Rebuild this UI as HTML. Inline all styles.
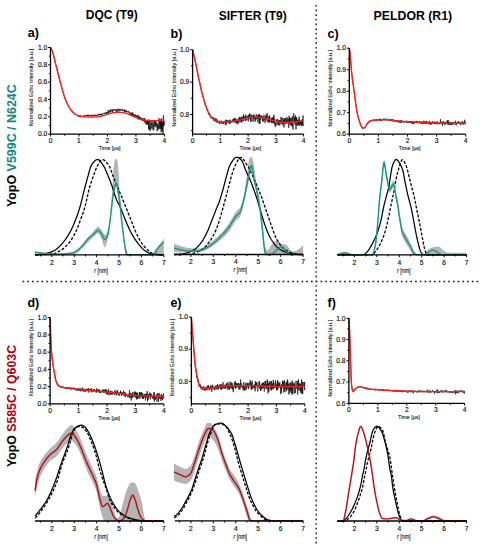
<!DOCTYPE html>
<html><head><meta charset="utf-8"><style>
html,body{margin:0;padding:0;background:#fff;}
svg{display:block;}
text{font-family:'Liberation Sans', sans-serif;}
</style></head><body>
<svg width="484" height="550" viewBox="0 0 484 550" font-family="'Liberation Sans', sans-serif">
<rect width="484" height="550" fill="#fff"/>
<path d="M22.55,280.75h1.7v1.4h-1.7zM27.28,280.75h1.7v1.4h-1.7zM32.01,280.75h1.7v1.4h-1.7zM36.74,280.75h1.7v1.4h-1.7zM41.47,280.75h1.7v1.4h-1.7zM46.2,280.75h1.7v1.4h-1.7zM50.92,280.75h1.7v1.4h-1.7zM55.65,280.75h1.7v1.4h-1.7zM60.38,280.75h1.7v1.4h-1.7zM65.11,280.75h1.7v1.4h-1.7zM69.84,280.75h1.7v1.4h-1.7zM74.57,280.75h1.7v1.4h-1.7zM79.3,280.75h1.7v1.4h-1.7zM84.03,280.75h1.7v1.4h-1.7zM88.76,280.75h1.7v1.4h-1.7zM93.49,280.75h1.7v1.4h-1.7zM98.21,280.75h1.7v1.4h-1.7zM102.94,280.75h1.7v1.4h-1.7zM107.67,280.75h1.7v1.4h-1.7zM112.4,280.75h1.7v1.4h-1.7zM117.13,280.75h1.7v1.4h-1.7zM121.86,280.75h1.7v1.4h-1.7zM126.59,280.75h1.7v1.4h-1.7zM131.32,280.75h1.7v1.4h-1.7zM136.05,280.75h1.7v1.4h-1.7zM140.78,280.75h1.7v1.4h-1.7zM145.5,280.75h1.7v1.4h-1.7zM150.23,280.75h1.7v1.4h-1.7zM154.96,280.75h1.7v1.4h-1.7zM159.69,280.75h1.7v1.4h-1.7zM164.42,280.75h1.7v1.4h-1.7zM169.15,280.75h1.7v1.4h-1.7zM173.88,280.75h1.7v1.4h-1.7zM178.61,280.75h1.7v1.4h-1.7zM183.34,280.75h1.7v1.4h-1.7zM188.07,280.75h1.7v1.4h-1.7zM192.79,280.75h1.7v1.4h-1.7zM197.52,280.75h1.7v1.4h-1.7zM202.25,280.75h1.7v1.4h-1.7zM206.98,280.75h1.7v1.4h-1.7zM211.71,280.75h1.7v1.4h-1.7zM216.44,280.75h1.7v1.4h-1.7zM221.17,280.75h1.7v1.4h-1.7zM225.9,280.75h1.7v1.4h-1.7zM230.63,280.75h1.7v1.4h-1.7zM235.36,280.75h1.7v1.4h-1.7zM240.08,280.75h1.7v1.4h-1.7zM244.81,280.75h1.7v1.4h-1.7zM249.54,280.75h1.7v1.4h-1.7zM254.27,280.75h1.7v1.4h-1.7zM259,280.75h1.7v1.4h-1.7zM263.73,280.75h1.7v1.4h-1.7zM268.46,280.75h1.7v1.4h-1.7zM273.19,280.75h1.7v1.4h-1.7zM277.92,280.75h1.7v1.4h-1.7zM282.64,280.75h1.7v1.4h-1.7zM287.37,280.75h1.7v1.4h-1.7zM292.1,280.75h1.7v1.4h-1.7zM296.83,280.75h1.7v1.4h-1.7zM301.56,280.75h1.7v1.4h-1.7zM306.29,280.75h1.7v1.4h-1.7zM311.02,280.75h1.7v1.4h-1.7zM315.75,280.75h1.7v1.4h-1.7zM320.48,280.75h1.7v1.4h-1.7zM325.21,280.75h1.7v1.4h-1.7zM329.93,280.75h1.7v1.4h-1.7zM334.66,280.75h1.7v1.4h-1.7zM339.39,280.75h1.7v1.4h-1.7zM344.12,280.75h1.7v1.4h-1.7zM348.85,280.75h1.7v1.4h-1.7zM353.58,280.75h1.7v1.4h-1.7zM358.31,280.75h1.7v1.4h-1.7zM363.04,280.75h1.7v1.4h-1.7zM367.77,280.75h1.7v1.4h-1.7zM372.5,280.75h1.7v1.4h-1.7zM377.22,280.75h1.7v1.4h-1.7zM381.95,280.75h1.7v1.4h-1.7zM386.68,280.75h1.7v1.4h-1.7zM391.41,280.75h1.7v1.4h-1.7zM396.14,280.75h1.7v1.4h-1.7zM400.87,280.75h1.7v1.4h-1.7zM405.6,280.75h1.7v1.4h-1.7zM410.33,280.75h1.7v1.4h-1.7zM415.06,280.75h1.7v1.4h-1.7zM419.79,280.75h1.7v1.4h-1.7zM424.51,280.75h1.7v1.4h-1.7zM429.24,280.75h1.7v1.4h-1.7zM433.97,280.75h1.7v1.4h-1.7zM438.7,280.75h1.7v1.4h-1.7zM443.43,280.75h1.7v1.4h-1.7zM448.16,280.75h1.7v1.4h-1.7zM452.89,280.75h1.7v1.4h-1.7zM457.62,280.75h1.7v1.4h-1.7zM462.35,280.75h1.7v1.4h-1.7zM467.08,280.75h1.7v1.4h-1.7zM471.8,280.75h1.7v1.4h-1.7zM476.53,280.75h1.7v1.4h-1.7zM315.5,4.88h1.4v1.7h-1.4zM315.5,9.55h1.4v1.7h-1.4zM315.5,14.22h1.4v1.7h-1.4zM315.5,18.89h1.4v1.7h-1.4zM315.5,23.57h1.4v1.7h-1.4zM315.5,28.24h1.4v1.7h-1.4zM315.5,32.91h1.4v1.7h-1.4zM315.5,37.58h1.4v1.7h-1.4zM315.5,42.25h1.4v1.7h-1.4zM315.5,46.92h1.4v1.7h-1.4zM315.5,51.6h1.4v1.7h-1.4zM315.5,56.27h1.4v1.7h-1.4zM315.5,60.94h1.4v1.7h-1.4zM315.5,65.61h1.4v1.7h-1.4zM315.5,70.28h1.4v1.7h-1.4zM315.5,74.95h1.4v1.7h-1.4zM315.5,79.62h1.4v1.7h-1.4zM315.5,84.3h1.4v1.7h-1.4zM315.5,88.97h1.4v1.7h-1.4zM315.5,93.64h1.4v1.7h-1.4zM315.5,98.31h1.4v1.7h-1.4zM315.5,102.98h1.4v1.7h-1.4zM315.5,107.65h1.4v1.7h-1.4zM315.5,112.32h1.4v1.7h-1.4zM315.5,117h1.4v1.7h-1.4zM315.5,121.67h1.4v1.7h-1.4zM315.5,126.34h1.4v1.7h-1.4zM315.5,131.01h1.4v1.7h-1.4zM315.5,135.68h1.4v1.7h-1.4zM315.5,140.35h1.4v1.7h-1.4zM315.5,145.03h1.4v1.7h-1.4zM315.5,149.7h1.4v1.7h-1.4zM315.5,154.37h1.4v1.7h-1.4zM315.5,159.04h1.4v1.7h-1.4zM315.5,163.71h1.4v1.7h-1.4zM315.5,168.38h1.4v1.7h-1.4zM315.5,173.05h1.4v1.7h-1.4zM315.5,177.73h1.4v1.7h-1.4zM315.5,182.4h1.4v1.7h-1.4zM315.5,187.07h1.4v1.7h-1.4zM315.5,191.74h1.4v1.7h-1.4zM315.5,196.41h1.4v1.7h-1.4zM315.5,201.08h1.4v1.7h-1.4zM315.5,205.75h1.4v1.7h-1.4zM315.5,210.43h1.4v1.7h-1.4zM315.5,215.1h1.4v1.7h-1.4zM315.5,219.77h1.4v1.7h-1.4zM315.5,224.44h1.4v1.7h-1.4zM315.5,229.11h1.4v1.7h-1.4zM315.5,233.78h1.4v1.7h-1.4zM315.5,238.45h1.4v1.7h-1.4zM315.5,243.13h1.4v1.7h-1.4zM315.5,247.8h1.4v1.7h-1.4zM315.5,252.47h1.4v1.7h-1.4zM315.5,257.14h1.4v1.7h-1.4zM315.5,261.81h1.4v1.7h-1.4zM315.5,266.48h1.4v1.7h-1.4zM315.5,271.16h1.4v1.7h-1.4zM315.5,275.83h1.4v1.7h-1.4zM315.5,280.5h1.4v1.7h-1.4zM315.5,285.17h1.4v1.7h-1.4zM315.5,289.83h1.4v1.7h-1.4zM315.5,294.5h1.4v1.7h-1.4zM315.5,299.16h1.4v1.7h-1.4zM315.5,303.83h1.4v1.7h-1.4zM315.5,308.5h1.4v1.7h-1.4zM315.5,313.16h1.4v1.7h-1.4zM315.5,317.83h1.4v1.7h-1.4zM315.5,322.49h1.4v1.7h-1.4zM315.5,327.16h1.4v1.7h-1.4zM315.5,331.83h1.4v1.7h-1.4zM315.5,336.49h1.4v1.7h-1.4zM315.5,341.16h1.4v1.7h-1.4zM315.5,345.82h1.4v1.7h-1.4zM315.5,350.49h1.4v1.7h-1.4zM315.5,355.16h1.4v1.7h-1.4zM315.5,359.82h1.4v1.7h-1.4zM315.5,364.49h1.4v1.7h-1.4zM315.5,369.15h1.4v1.7h-1.4zM315.5,373.82h1.4v1.7h-1.4zM315.5,378.49h1.4v1.7h-1.4zM315.5,383.15h1.4v1.7h-1.4zM315.5,387.82h1.4v1.7h-1.4zM315.5,392.48h1.4v1.7h-1.4zM315.5,397.15h1.4v1.7h-1.4zM315.5,401.82h1.4v1.7h-1.4zM315.5,406.48h1.4v1.7h-1.4zM315.5,411.15h1.4v1.7h-1.4zM315.5,415.81h1.4v1.7h-1.4zM315.5,420.48h1.4v1.7h-1.4zM315.5,425.15h1.4v1.7h-1.4zM315.5,429.81h1.4v1.7h-1.4zM315.5,434.48h1.4v1.7h-1.4zM315.5,439.14h1.4v1.7h-1.4zM315.5,443.81h1.4v1.7h-1.4zM315.5,448.48h1.4v1.7h-1.4zM315.5,453.14h1.4v1.7h-1.4zM315.5,457.81h1.4v1.7h-1.4zM315.5,462.47h1.4v1.7h-1.4zM315.5,467.14h1.4v1.7h-1.4zM315.5,471.81h1.4v1.7h-1.4zM315.5,476.47h1.4v1.7h-1.4zM315.5,481.14h1.4v1.7h-1.4zM315.5,485.8h1.4v1.7h-1.4zM315.5,490.47h1.4v1.7h-1.4zM315.5,495.14h1.4v1.7h-1.4zM315.5,499.8h1.4v1.7h-1.4zM315.5,504.47h1.4v1.7h-1.4zM315.5,509.13h1.4v1.7h-1.4zM315.5,513.8h1.4v1.7h-1.4zM315.5,518.47h1.4v1.7h-1.4zM315.5,523.13h1.4v1.7h-1.4zM315.5,527.8h1.4v1.7h-1.4zM315.5,532.46h1.4v1.7h-1.4zM315.5,537.13h1.4v1.7h-1.4zM315.5,541.8h1.4v1.7h-1.4z" fill="#1a1a1a"/>
<text x="85.8" y="19.3" font-size="12" font-weight="bold" fill="#000">DQC (T9)</text>
<text x="218.7" y="19.8" font-size="12" font-weight="bold" fill="#000">SIFTER (T9)</text>
<text x="373.6" y="19.8" font-size="12.3" font-weight="bold" fill="#000">PELDOR (R1)</text>
<text x="27.8" y="37.4" font-size="12.5" font-weight="bold" fill="#000">a)</text>
<text x="170.6" y="37.8" font-size="12.5" font-weight="bold" fill="#000">b)</text>
<text x="327.6" y="37.6" font-size="12.5" font-weight="bold" fill="#000">c)</text>
<text x="27.4" y="307.2" font-size="12.5" font-weight="bold" fill="#000">d)</text>
<text x="170.4" y="306.6" font-size="12.5" font-weight="bold" fill="#000">e)</text>
<text x="327.6" y="306.6" font-size="12.5" font-weight="bold" fill="#000">f)</text>
<text transform="translate(15.9,207.1) rotate(-90)" font-size="12.45" font-weight="bold" fill="#000">YopO <tspan fill="#108a78">V599C / N624C</tspan></text>
<text transform="translate(15.9,467.1) rotate(-90)" font-size="12.3" font-weight="bold" fill="#000">YopO <tspan fill="#b0000f">S585C / Q603C</tspan></text>
<path d="M50.5,47.49 L50.69,47.33 L50.88,47.7 L51.07,48.66 L51.26,48.96 L51.45,49.43 L51.64,49.47 L51.83,50.13 L52.02,50.33 L52.21,51.73 L52.4,51.08 L52.59,52.2 L52.78,52.51 L52.97,53.38 L53.16,54.08 L53.35,54.41 L53.54,54.93 L53.73,55.97 L53.92,56.67 L54.11,57.14 L54.3,58.47 L54.49,59.5 L54.68,59.66 L54.87,60.85 L55.06,62.11 L55.25,62.55 L55.44,63.23 L55.63,64.26 L55.82,65.13 L56.01,65.36 L56.2,65.83 L56.39,66.98 L56.58,67.92 L56.77,68.28 L56.96,68.92 L57.15,70.03 L57.34,70.49 L57.53,71.07 L57.72,72.26 L57.91,73.22 L58.1,73.58 L58.29,74.37 L58.48,74.83 L58.68,76.42 L58.87,76.96 L59.06,77.77 L59.25,78.83 L59.44,78.94 L59.63,79.54 L59.82,80.71 L60.01,80.7 L60.2,81.61 L60.39,82.39 L60.58,83.18 L60.77,83.7 L60.96,85.2 L61.15,85.23 L61.34,85.92 L61.53,87.44 L61.72,87.39 L61.91,88.27 L62.1,88.59 L62.29,89.67 L62.48,90.18 L62.67,90.71 L62.86,91.79 L63.05,91.94 L63.24,92.84 L63.43,93.29 L63.62,94.28 L63.81,94.36 L64,95.15 L64.19,96.04 L64.38,96.35 L64.57,96.71 L64.76,97.08 L64.95,98.77 L65.14,98.43 L65.33,99.08 L65.52,99.76 L65.71,100.56 L65.9,100.25 L66.09,101.59 L66.28,101.41 L66.47,101.6 L66.66,103.04 L66.85,103.02 L67.04,103.78 L67.23,103.65 L67.42,103.6 L67.61,103.81 L67.8,105.5 L67.99,105.44 L68.18,105.34 L68.37,105.37 L68.56,106.1 L68.75,106.82 L68.94,106.78 L69.13,107.2 L69.32,107.57 L69.51,108.05 L69.7,107.95 L69.89,108.27 L70.08,108.69 L70.27,109.01 L70.46,109.65 L70.65,109.63 L70.84,109.3 L71.03,110.03 L71.22,110.71 L71.41,109.99 L71.6,110.49 L71.79,110.17 L71.98,111.09 L72.17,111.48 L72.36,112.03 L72.55,111.26 L72.74,111.02 L72.93,112.38 L73.12,112.51 L73.31,112.26 L73.5,112.94 L73.69,112.92 L73.88,113.12 L74.07,113.1 L74.26,112.95 L74.45,113.48 L74.64,113.33 L74.83,113.94 L75.03,113.83 L75.22,114.82 L75.41,114.72 L75.6,114.07 L75.79,114.67 L75.98,114.39 L76.17,114.51 L76.36,114.34 L76.55,114.62 L76.74,114.65 L76.93,115.13 L77.12,115.43 L77.31,115.54 L77.5,115.54 L77.69,115.86 L77.88,115.74 L78.07,115.67 L78.26,115.64 L78.45,115.92 L78.64,116.55 L78.83,115.98 L79.02,115.94 L79.21,115.67 L79.4,115.87 L79.59,116.32 L79.78,116.37 L79.97,115.41 L80.16,115.86 L80.35,115.48 L80.54,115.36 L80.73,116.42 L80.92,115.97 L81.11,115.92 L81.3,115.87 L81.49,115.86 L81.68,115.98 L81.87,115.97 L82.06,116.58 L82.25,116.07 L82.44,116.27 L82.63,115.92 L82.82,116.13 L83.01,115.7 L83.2,115.6 L83.39,115.78 L83.58,115.76 L83.77,115.83 L83.96,116.02 L84.15,115.89 L84.34,116 L84.53,115.63 L84.72,115.75 L84.91,115.5 L85.1,116.25 L85.29,115.33 L85.48,115.98 L85.67,115.94 L85.86,115.7 L86.05,115.82 L86.24,115.44 L86.43,115.78 L86.62,115.96 L86.81,115.84 L87,114.9 L87.19,115.41 L87.38,115.89 L87.57,115.37 L87.76,116.05 L87.95,114.62 L88.14,116.04 L88.33,115.18 L88.52,115.16 L88.71,116.02 L88.9,115.26 L89.09,114.96 L89.28,115.19 L89.47,115.28 L89.66,114.97 L89.85,115.32 L90.04,115.24 L90.23,115.45 L90.42,115.1 L90.61,115.81 L90.8,115.03 L90.99,115.61 L91.19,115.88 L91.38,115.21 L91.57,114.6 L91.76,114.93 L91.95,115.61 L92.14,115.05 L92.33,115.58 L92.52,115.42 L92.71,115.32 L92.9,116.46 L93.09,115.27 L93.28,115.85 L93.47,115.68 L93.66,116.06 L93.85,116.08 L94.04,115.8 L94.23,114.94 L94.42,114.52 L94.61,115.34 L94.8,114.79 L94.99,115.45 L95.18,116.26 L95.37,115.24 L95.56,115.08 L95.75,115.51 L95.94,115.14 L96.13,115 L96.32,115.72 L96.51,116.02 L96.7,115.37 L96.89,115.35 L97.08,115.41 L97.27,114.7 L97.46,114.3 L97.65,115.38 L97.84,114.77 L98.03,114.62 L98.22,114.71 L98.41,114.5 L98.6,115.22 L98.79,114.59 L98.98,113.87 L99.17,114.48 L99.36,115.2 L99.55,114.5 L99.74,114.11 L99.93,114.54 L100.12,115 L100.31,113.82 L100.5,115.28 L100.69,114.28 L100.88,114.52 L101.07,115.12 L101.26,113.74 L101.45,114.17 L101.64,114.96 L101.83,113.93 L102.02,114.45 L102.21,115.22 L102.4,114.49 L102.59,113.9 L102.78,113.64 L102.97,113.85 L103.16,113.87 L103.35,113.57 L103.54,113.91 L103.73,113.06 L103.92,113.6 L104.11,113.46 L104.3,113.27 L104.49,114.14 L104.68,113.89 L104.87,112.52 L105.06,113.16 L105.25,113.46 L105.44,113.03 L105.63,113.45 L105.82,112.93 L106.01,113.42 L106.2,112.79 L106.39,113.83 L106.58,112.02 L106.77,113.05 L106.96,113.62 L107.15,112.72 L107.34,112.74 L107.54,112.34 L107.73,113.05 L107.92,112.04 L108.11,109.98 L108.3,112.91 L108.49,111.84 L108.68,112.16 L108.87,111.77 L109.06,112.94 L109.25,112.46 L109.44,111.38 L109.63,111.61 L109.82,110.49 L110.01,111.89 L110.2,111.27 L110.39,109.46 L110.58,111.73 L110.77,111.75 L110.96,111.14 L111.15,111.08 L111.34,110.45 L111.53,110.86 L111.72,111.37 L111.91,110.7 L112.1,109.08 L112.29,109.92 L112.48,112.52 L112.67,110.76 L112.86,111.2 L113.05,110.18 L113.24,110.66 L113.43,109.24 L113.62,109.86 L113.81,109.85 L114,110.28 L114.19,110.4 L114.38,110.11 L114.57,109.43 L114.76,109.91 L114.95,110.47 L115.14,109.34 L115.33,110.05 L115.52,110.2 L115.71,110.66 L115.9,110.48 L116.09,110.5 L116.28,111.96 L116.47,109.32 L116.66,109.6 L116.85,110.12 L117.04,109.23 L117.23,109.63 L117.42,109.66 L117.61,111.64 L117.8,110.06 L117.99,109.51 L118.18,108.74 L118.37,108.57 L118.56,108.85 L118.75,110.68 L118.94,111.42 L119.13,109.45 L119.32,109.84 L119.51,109.17 L119.7,109.96 L119.89,109.72 L120.08,110.97 L120.27,109.58 L120.46,110.25 L120.65,109.69 L120.84,109.63 L121.03,110.07 L121.22,109.78 L121.41,110.05 L121.6,109.51 L121.79,109.73 L121.98,110.54 L122.17,110.61 L122.36,108.92 L122.55,110.32 L122.74,109.55 L122.93,110.04 L123.12,110.8 L123.31,110.98 L123.5,110.37 L123.69,110.31 L123.89,110.09 L124.08,111.56 L124.27,111.11 L124.46,110.78 L124.65,109.53 L124.84,112.61 L125.03,110.52 L125.22,111.33 L125.41,110.63 L125.6,111.4 L125.79,110.79 L125.98,109.91 L126.17,110.91 L126.36,110.92 L126.55,111.04 L126.74,111.99 L126.93,111.06 L127.12,111.74 L127.31,112.3 L127.5,111.79 L127.69,112.03 L127.88,111.35 L128.07,112.08 L128.26,112.57 L128.45,111.09 L128.64,111.56 L128.83,111.44 L129.02,112.07 L129.21,112.75 L129.4,113.1 L129.59,113.08 L129.78,112.19 L129.97,112.96 L130.16,114.35 L130.35,113.27 L130.54,114.48 L130.73,113.28 L130.92,114.5 L131.11,114.64 L131.3,113.6 L131.49,113.86 L131.68,115.26 L131.87,113.36 L132.06,112.28 L132.25,115.4 L132.44,112.75 L132.63,114.94 L132.82,114.87 L133.01,114.7 L133.2,115.86 L133.39,113.64 L133.58,114.41 L133.77,115.56 L133.96,115.25 L134.15,116.39 L134.34,115.49 L134.53,114.48 L134.72,116.83 L134.91,115.82 L135.1,115.41 L135.29,114.71 L135.48,114.53 L135.67,116.17 L135.86,116.49 L136.05,115.56 L136.24,116.37 L136.43,116.43 L136.62,115.33 L136.81,114.89 L137,116.24 L137.19,116.74 L137.38,116.17 L137.57,118.44 L137.76,116.89 L137.95,117.91 L138.14,114.96 L138.33,116.54 L138.52,117.15 L138.71,117.55 L138.9,119.72 L139.09,116.94 L139.28,116.21 L139.47,118.43 L139.66,117.25 L139.85,117.31 L140.05,119.46 L140.24,117.31 L140.43,117.03 L140.62,118.14 L140.81,118.5 L141,117.82 L141.19,120.04 L141.38,118.64 L141.57,117.85 L141.76,120.05 L141.95,118.08 L142.14,119.47 L142.33,121.09 L142.52,119.35 L142.71,120.24 L142.9,119.12 L143.09,120.63 L143.28,118.47 L143.47,120.51 L143.66,119.3 L143.85,120.61 L144.04,120.35 L144.23,118.15 L144.42,119.69 L144.61,120.91 L144.8,122.73 L144.99,118.48 L145.18,119.45 L145.37,121.82 L145.56,120.82 L145.75,123.92 L145.94,124.2 L146.13,124.04 L146.32,121.31 L146.51,121.63 L146.7,124.68 L146.89,120.74 L147.08,120.74 L147.27,122.73 L147.46,120.22 L147.65,124.6 L147.84,124.26 L148.03,122.48 L148.22,124.42 L148.41,121.65 L148.6,129.34 L148.79,119.49 L148.98,127.8 L149.17,125.49 L149.36,130.07 L149.55,122.64 L149.74,120.12 L149.93,120.89 L150.12,121.8 L150.31,130.82 L150.5,127.91 L150.69,126.72 L150.88,128.51 L151.07,120.75 L151.26,124.31 L151.45,125.1 L151.64,123.18 L151.83,128.63 L152.02,128.47 L152.21,128.38 L152.4,123.17 L152.59,123.76 L152.78,122.87 L152.97,120.98 L153.16,130.22 L153.35,127.21 L153.54,124.52 L153.73,130.21 L153.92,127.11 L154.11,121.23 L154.3,120.9 L154.49,120.99 L154.68,124.93 L154.87,125.9 L155.06,120.98 L155.25,126.51 L155.44,123.79 L155.63,120.02 L155.82,126.47 L156.01,127.39 L156.2,125.08 L156.4,122.75 L156.59,123.17 L156.78,124.41 L156.97,122.86 L157.16,131.1 L157.35,128.25 L157.54,124.31 L157.73,128.48 L157.92,130.05 L158.11,129.51 L158.3,128.38 L158.49,125.52 L158.68,128.74 L158.87,123.88 L159.06,118.23 L159.25,125.3 L159.44,119.79 L159.63,123.57 L159.82,128.97 L160.01,125.61 L160.2,128.38 L160.39,121.6 L160.58,128.99 L160.77,119.4 L160.96,122.24 L161.15,132.27 L161.34,121.39 L161.53,118.38 L161.72,127.42 L161.91,120.52 L162.1,131.28 L162.29,123.3 L162.48,130.69 L162.67,122.35 L162.86,131.13 L163.05,134.1 L163.24,122.59 L163.43,115.21 L163.62,126.4 L163.81,120.82 L164,123.6 L164.19,125.26 L164.38,121.57" fill="none" stroke="#111" stroke-width="0.7"/>
<path d="M50.5,47.5 L50.88,48.13 L51.26,48.86 L51.64,49.67 L52.02,50.6 L52.4,51.63 L52.79,52.75 L53.17,53.96 L53.55,55.23 L53.93,56.64 L54.31,58.19 L54.69,59.83 L55.07,61.48 L55.45,63.1 L55.83,64.65 L56.21,66.18 L56.59,67.7 L56.97,69.21 L57.36,70.73 L57.74,72.24 L58.12,73.75 L58.5,75.27 L58.88,76.79 L59.26,78.29 L59.64,79.78 L60.02,81.24 L60.4,82.67 L60.78,84.1 L61.16,85.5 L61.55,86.89 L61.93,88.25 L62.31,89.59 L62.69,90.9 L63.07,92.22 L63.45,93.53 L63.83,94.81 L64.21,96.05 L64.59,97.21 L64.97,98.3 L65.35,99.3 L65.73,100.28 L66.12,101.21 L66.5,102.12 L66.88,102.98 L67.26,103.79 L67.64,104.57 L68.02,105.29 L68.4,105.97 L68.78,106.62 L69.16,107.24 L69.54,107.84 L69.92,108.42 L70.31,108.98 L70.69,109.51 L71.07,110.01 L71.45,110.49 L71.83,110.94 L72.21,111.36 L72.59,111.76 L72.97,112.14 L73.35,112.51 L73.73,112.86 L74.11,113.2 L74.49,113.52 L74.88,113.83 L75.26,114.11 L75.64,114.37 L76.02,114.61 L76.4,114.83 L76.78,115.02 L77.16,115.21 L77.54,115.4 L77.92,115.58 L78.3,115.74 L78.68,115.9 L79.07,116.04 L79.45,116.17 L79.83,116.27 L80.21,116.36 L80.59,116.42 L80.97,116.47 L81.35,116.51 L81.73,116.55 L82.11,116.59 L82.49,116.63 L82.87,116.66 L83.25,116.7 L83.64,116.73 L84.02,116.76 L84.4,116.79 L84.78,116.81 L85.16,116.84 L85.54,116.86 L85.92,116.88 L86.3,116.9 L86.68,116.91 L87.06,116.92 L87.44,116.93 L87.83,116.94 L88.21,116.95 L88.59,116.95 L88.97,116.95 L89.35,116.95 L89.73,116.95 L90.11,116.95 L90.49,116.95 L90.87,116.95 L91.25,116.94 L91.63,116.94 L92.01,116.94 L92.4,116.93 L92.78,116.93 L93.16,116.92 L93.54,116.91 L93.92,116.91 L94.3,116.9 L94.68,116.9 L95.06,116.89 L95.44,116.88 L95.82,116.87 L96.2,116.86 L96.59,116.84 L96.97,116.82 L97.35,116.78 L97.73,116.74 L98.11,116.69 L98.49,116.63 L98.87,116.56 L99.25,116.49 L99.63,116.42 L100.01,116.34 L100.39,116.25 L100.77,116.17 L101.16,116.08 L101.54,115.98 L101.92,115.89 L102.3,115.8 L102.68,115.7 L103.06,115.61 L103.44,115.51 L103.82,115.42 L104.2,115.33 L104.58,115.24 L104.96,115.14 L105.35,115.04 L105.73,114.92 L106.11,114.8 L106.49,114.68 L106.87,114.55 L107.25,114.42 L107.63,114.28 L108.01,114.15 L108.39,114.02 L108.77,113.88 L109.15,113.75 L109.53,113.63 L109.92,113.51 L110.3,113.39 L110.68,113.28 L111.06,113.18 L111.44,113.09 L111.82,113.01 L112.2,112.94 L112.58,112.88 L112.96,112.83 L113.34,112.78 L113.72,112.72 L114.11,112.67 L114.49,112.62 L114.87,112.58 L115.25,112.53 L115.63,112.49 L116.01,112.45 L116.39,112.41 L116.77,112.38 L117.15,112.35 L117.53,112.33 L117.91,112.31 L118.29,112.29 L118.68,112.28 L119.06,112.28 L119.44,112.28 L119.82,112.29 L120.2,112.31 L120.58,112.34 L120.96,112.37 L121.34,112.42 L121.72,112.46 L122.1,112.52 L122.48,112.57 L122.87,112.64 L123.25,112.7 L123.63,112.78 L124.01,112.85 L124.39,112.93 L124.77,113.01 L125.15,113.09 L125.53,113.17 L125.91,113.25 L126.29,113.36 L126.67,113.48 L127.05,113.62 L127.44,113.78 L127.82,113.94 L128.2,114.12 L128.58,114.3 L128.96,114.48 L129.34,114.66 L129.72,114.83 L130.1,115 L130.48,115.16 L130.86,115.32 L131.24,115.49 L131.63,115.66 L132.01,115.83 L132.39,116.01 L132.77,116.18 L133.15,116.35 L133.53,116.53 L133.91,116.69 L134.29,116.86 L134.67,117.02 L135.05,117.18 L135.43,117.34 L135.81,117.48 L136.2,117.62 L136.58,117.76 L136.96,117.88 L137.34,118.01 L137.72,118.13 L138.1,118.26 L138.48,118.39 L138.86,118.51 L139.24,118.64 L139.62,118.76 L140,118.88 L140.39,119 L140.77,119.12 L141.15,119.23 L141.53,119.34 L141.91,119.45 L142.29,119.56 L142.67,119.66 L143.05,119.75 L143.43,119.84 L143.81,119.93 L144.19,120 L144.57,120.08 L144.96,120.14 L145.34,120.2 L145.72,120.25 L146.1,120.3 L146.48,120.33 L146.86,120.37 L147.24,120.4 L147.62,120.43 L148,120.46 L148.38,120.49 L148.76,120.52 L149.15,120.54 L149.53,120.57 L149.91,120.6 L150.29,120.62 L150.67,120.64 L151.05,120.66 L151.43,120.68 L151.81,120.7 L152.19,120.71 L152.57,120.73 L152.95,120.74 L153.33,120.75 L153.72,120.76 L154.1,120.76 L154.48,120.76 L154.86,120.76 L155.24,120.76 L155.62,120.75 L156,120.73 L156.38,120.7 L156.76,120.68 L157.14,120.64 L157.52,120.61 L157.91,120.57 L158.29,120.52 L158.67,120.48 L159.05,120.43 L159.43,120.37 L159.81,120.32 L160.19,120.27 L160.57,120.21 L160.95,120.15 L161.33,120.09 L161.71,120.03 L162.09,119.97 L162.48,119.92 L162.86,119.86 L163.24,119.8 L163.62,119.75 L164,119.7 L164.38,119.64" fill="none" stroke="#ff1e1e" stroke-width="1.4"/>
<path d="M50.5,47.5 V134.1 H164.38" fill="none" stroke="#000" stroke-width="1.3"/>
<path d="M48.1,134.1 H50.5 M48.1,116.78 H50.5 M48.1,99.46 H50.5 M48.1,82.14 H50.5 M48.1,64.82 H50.5 M48.1,47.5 H50.5 M48.9,125.44 H50.5 M48.9,108.12 H50.5 M48.9,90.8 H50.5 M48.9,73.48 H50.5 M48.9,56.16 H50.5 M50.5,134.1 V136.5 M78.97,134.1 V136.5 M107.44,134.1 V136.5 M135.91,134.1 V136.5 M164.38,134.1 V136.5 M64.73,134.1 V135.7 M93.2,134.1 V135.7 M121.67,134.1 V135.7 M150.14,134.1 V135.7" fill="none" stroke="#000" stroke-width="1"/>
<text x="47.2" y="136.3" text-anchor="end" font-size="6.7" fill="#111" stroke="#111" stroke-width="0.16">0.0</text>
<text x="47.2" y="118.98" text-anchor="end" font-size="6.7" fill="#111" stroke="#111" stroke-width="0.16">0.2</text>
<text x="47.2" y="101.66" text-anchor="end" font-size="6.7" fill="#111" stroke="#111" stroke-width="0.16">0.4</text>
<text x="47.2" y="84.34" text-anchor="end" font-size="6.7" fill="#111" stroke="#111" stroke-width="0.16">0.6</text>
<text x="47.2" y="67.02" text-anchor="end" font-size="6.7" fill="#111" stroke="#111" stroke-width="0.16">0.8</text>
<text x="47.2" y="49.7" text-anchor="end" font-size="6.7" fill="#111" stroke="#111" stroke-width="0.16">1.0</text>
<text x="50.5" y="142.7" text-anchor="middle" font-size="6.7" fill="#111" stroke="#111" stroke-width="0.16">0</text>
<text x="78.97" y="142.7" text-anchor="middle" font-size="6.7" fill="#111" stroke="#111" stroke-width="0.16">1</text>
<text x="107.44" y="142.7" text-anchor="middle" font-size="6.7" fill="#111" stroke="#111" stroke-width="0.16">2</text>
<text x="135.91" y="142.7" text-anchor="middle" font-size="6.7" fill="#111" stroke="#111" stroke-width="0.16">3</text>
<text x="164.38" y="142.7" text-anchor="middle" font-size="6.7" fill="#111" stroke="#111" stroke-width="0.16">4</text>
<text x="109.64" y="149.9" text-anchor="middle" font-size="6.1" textLength="21.8" lengthAdjust="spacingAndGlyphs" fill="#111" stroke="#111" stroke-width="0.12">Time [µs]</text>
<text transform="translate(33.1,87.65) rotate(-90)" text-anchor="middle" font-size="5.7" textLength="77.4" lengthAdjust="spacingAndGlyphs" fill="#1a1a1a" stroke="#1a1a1a" stroke-width="0.1">Normalized Echo Intensity [a.u.]</text>
<path d="M192.6,49.7 L192.79,50.14 L192.97,51.03 L193.16,51.82 L193.34,52.31 L193.53,54.09 L193.71,54.7 L193.9,55.77 L194.08,56.15 L194.27,56.56 L194.45,57.77 L194.64,58.4 L194.82,60.17 L195.01,60.23 L195.19,61.51 L195.38,61.31 L195.56,62.54 L195.75,63.4 L195.94,64.71 L196.12,65.33 L196.31,66.22 L196.49,67.56 L196.68,68.55 L196.86,69.3 L197.05,70.44 L197.23,71.36 L197.42,72.13 L197.6,73.26 L197.79,73.47 L197.97,75.5 L198.16,75.25 L198.34,76.84 L198.53,77.7 L198.72,78.98 L198.9,79.26 L199.09,80.17 L199.27,80.8 L199.46,82.01 L199.64,82.51 L199.83,82.44 L200.01,84.01 L200.2,85.37 L200.38,85.38 L200.57,86.8 L200.75,87.23 L200.94,88.05 L201.12,89.43 L201.31,91.12 L201.49,91.02 L201.68,91.3 L201.87,92.62 L202.05,92.91 L202.24,93.34 L202.42,94.99 L202.61,94.63 L202.79,95.09 L202.98,96.1 L203.16,96.69 L203.35,97.36 L203.53,97.24 L203.72,99.15 L203.9,99.88 L204.09,100.09 L204.27,101.68 L204.46,102.7 L204.65,102.86 L204.83,102.61 L205.02,103.13 L205.2,105.06 L205.39,105.88 L205.57,105.37 L205.76,105.84 L205.94,106.29 L206.13,106.33 L206.31,106.46 L206.5,107.68 L206.68,107.92 L206.87,109.65 L207.05,110.2 L207.24,109.64 L207.42,109.79 L207.61,110.19 L207.8,110.72 L207.98,111 L208.17,111.38 L208.35,113.73 L208.54,113.33 L208.72,112.78 L208.91,113.01 L209.09,114.99 L209.28,113.18 L209.46,114.75 L209.65,114.86 L209.83,114.73 L210.02,114.6 L210.2,116.65 L210.39,114.92 L210.57,115.92 L210.76,116.88 L210.95,116.71 L211.13,118.56 L211.32,117.5 L211.5,117.02 L211.69,118 L211.87,117.89 L212.06,117.94 L212.24,117.97 L212.43,117.31 L212.61,118.42 L212.8,118.81 L212.98,118.27 L213.17,117.05 L213.35,119.38 L213.54,118.76 L213.73,120.81 L213.91,118.26 L214.1,119.01 L214.28,118.49 L214.47,119.9 L214.65,120.92 L214.84,119.18 L215.02,119.39 L215.21,121.02 L215.39,121.69 L215.58,119.92 L215.76,120.6 L215.95,117.95 L216.13,121.19 L216.32,121.19 L216.5,120.85 L216.69,122.48 L216.88,121.78 L217.06,119.3 L217.25,121.16 L217.43,121.72 L217.62,122.47 L217.8,120.63 L217.99,120.62 L218.17,121.09 L218.36,121.83 L218.54,121.16 L218.73,121.14 L218.91,122.32 L219.1,120.99 L219.28,123.97 L219.47,123.14 L219.66,122.13 L219.84,121.97 L220.03,123.16 L220.21,121.57 L220.4,120.81 L220.58,121.51 L220.77,121.8 L220.95,121.15 L221.14,121.66 L221.32,123.43 L221.51,122.39 L221.69,120.72 L221.88,123.51 L222.06,122.15 L222.25,122.69 L222.43,123.3 L222.62,123.44 L222.81,122.15 L222.99,121.9 L223.18,121.91 L223.36,123.99 L223.55,122.62 L223.73,121.86 L223.92,121.13 L224.1,121.45 L224.29,121.25 L224.47,120.91 L224.66,121.23 L224.84,123.23 L225.03,122.15 L225.21,123.1 L225.4,125.16 L225.58,124.29 L225.77,119.56 L225.96,123.57 L226.14,124.99 L226.33,122.88 L226.51,120.19 L226.7,122.17 L226.88,121.57 L227.07,122.42 L227.25,122.17 L227.44,120.39 L227.62,120.98 L227.81,122.11 L227.99,120.81 L228.18,120.54 L228.36,122.23 L228.55,121.56 L228.74,121.56 L228.92,122.77 L229.11,120.3 L229.29,122.05 L229.48,122.64 L229.66,124.06 L229.85,123.48 L230.03,119.63 L230.22,123.27 L230.4,121.08 L230.59,122.16 L230.77,120.91 L230.96,120.75 L231.14,122.66 L231.33,121.95 L231.51,121.37 L231.7,121.32 L231.89,121.5 L232.07,121.88 L232.26,120.5 L232.44,119.47 L232.63,120.56 L232.81,122.39 L233,120.71 L233.18,121.17 L233.37,120.55 L233.55,118.48 L233.74,121.48 L233.92,121.15 L234.11,122.43 L234.29,121.51 L234.48,121.9 L234.67,118.61 L234.85,120.53 L235.04,121.82 L235.22,118 L235.41,122.92 L235.59,119.55 L235.78,119.28 L235.96,119.93 L236.15,121.19 L236.33,120.96 L236.52,121.26 L236.7,119.47 L236.89,124.32 L237.07,121.45 L237.26,120.37 L237.44,121.5 L237.63,123.43 L237.82,120.91 L238,121.69 L238.19,119.17 L238.37,118.17 L238.56,120.26 L238.74,123.46 L238.93,120.61 L239.11,121.76 L239.3,119.1 L239.48,117.4 L239.67,119.61 L239.85,116.73 L240.04,117.53 L240.22,118.84 L240.41,121.38 L240.59,119.55 L240.78,122.09 L240.97,117.87 L241.15,119.35 L241.34,117.17 L241.52,118.94 L241.71,122.67 L241.89,118.2 L242.08,117.66 L242.26,116.34 L242.45,120.81 L242.63,120.68 L242.82,118.92 L243,120.81 L243.19,121.32 L243.37,120.79 L243.56,114.29 L243.75,119.89 L243.93,120.53 L244.12,119.49 L244.3,118.65 L244.49,116.32 L244.67,116.87 L244.86,117.1 L245.04,118.38 L245.23,118.12 L245.41,119.5 L245.6,121.02 L245.78,114.55 L245.97,119.03 L246.15,116.3 L246.34,118.68 L246.52,118.22 L246.71,118.28 L246.9,120.49 L247.08,118.05 L247.27,117.15 L247.45,116.27 L247.64,116.85 L247.82,115.81 L248.01,117.13 L248.19,117.65 L248.38,121.31 L248.56,118.57 L248.75,114.57 L248.93,117.25 L249.12,115.92 L249.3,117.81 L249.49,118.66 L249.68,113.39 L249.86,116.61 L250.05,114.37 L250.23,116.2 L250.42,117.78 L250.6,121.55 L250.79,116.97 L250.97,120.19 L251.16,121.46 L251.34,114.63 L251.53,115.62 L251.71,115.76 L251.9,116.92 L252.08,117.07 L252.27,116.14 L252.45,116.66 L252.64,116.82 L252.83,115.46 L253.01,121.9 L253.2,115.13 L253.38,118.22 L253.57,115.2 L253.75,114.55 L253.94,118.67 L254.12,115.33 L254.31,115.36 L254.49,118.45 L254.68,118.12 L254.86,116.81 L255.05,121.69 L255.23,118.02 L255.42,116.72 L255.61,118.06 L255.79,120.49 L255.98,117.98 L256.16,113.98 L256.35,114.39 L256.53,117.46 L256.72,118.93 L256.9,117.28 L257.09,117.23 L257.27,118.73 L257.46,118.02 L257.64,115.99 L257.83,115.34 L258.01,122.64 L258.2,115.28 L258.38,117.12 L258.57,114.94 L258.76,117.51 L258.94,116.53 L259.13,113.93 L259.31,124.07 L259.5,114.08 L259.68,117.19 L259.87,121.66 L260.05,123.57 L260.24,117 L260.42,120.01 L260.61,115.52 L260.79,117.3 L260.98,118.12 L261.16,115.62 L261.35,117.45 L261.53,116.24 L261.72,116.07 L261.91,117.25 L262.09,116.22 L262.28,116.25 L262.46,121.21 L262.65,118.74 L262.83,118.43 L263.02,119.06 L263.2,121.88 L263.39,119.57 L263.57,117.51 L263.76,117.88 L263.94,114.82 L264.13,119.81 L264.31,119.44 L264.5,119.81 L264.69,119.25 L264.87,119.96 L265.06,122.98 L265.24,117.8 L265.43,116.31 L265.61,116.03 L265.8,121.3 L265.98,119.21 L266.17,114.37 L266.35,119.08 L266.54,118.02 L266.72,119.25 L266.91,116.5 L267.09,116.62 L267.28,113.36 L267.46,117.81 L267.65,117.97 L267.84,122.04 L268.02,120.12 L268.21,120.88 L268.39,120.01 L268.58,122.46 L268.76,116.29 L268.95,121.93 L269.13,118.7 L269.32,122.54 L269.5,118.61 L269.69,115.4 L269.87,121.61 L270.06,118.7 L270.24,119.83 L270.43,119.01 L270.62,118.72 L270.8,121.42 L270.99,120.33 L271.17,121.42 L271.36,122.08 L271.54,123.16 L271.73,117.65 L271.91,122.04 L272.1,118.52 L272.28,118.86 L272.47,122.89 L272.65,117.7 L272.84,122.66 L273.02,118.89 L273.21,116.8 L273.39,122.48 L273.58,123.09 L273.77,123.19 L273.95,114.82 L274.14,121.84 L274.32,124.22 L274.51,118.84 L274.69,121.5 L274.88,121.18 L275.06,123.78 L275.25,127.08 L275.43,123.2 L275.62,124.09 L275.8,125.68 L275.99,124.32 L276.17,124.01 L276.36,119.38 L276.54,119.69 L276.73,120.25 L276.92,123.11 L277.1,125.11 L277.29,120.97 L277.47,120.57 L277.66,119.14 L277.84,121.97 L278.03,122.28 L278.21,121.13 L278.4,124.53 L278.58,124.24 L278.77,120.31 L278.95,125.55 L279.14,122.35 L279.32,120 L279.51,121.52 L279.7,121 L279.88,125.28 L280.07,122.57 L280.25,122.99 L280.44,120.57 L280.62,121.09 L280.81,122.18 L280.99,116.94 L281.18,120.73 L281.36,123.06 L281.55,123.97 L281.73,122.34 L281.92,123.85 L282.1,117.6 L282.29,120.62 L282.47,123.11 L282.66,124.09 L282.85,125.28 L283.03,123 L283.22,118.46 L283.4,119.8 L283.59,122.36 L283.77,121.8 L283.96,127.58 L284.14,120 L284.33,122.83 L284.51,118.2 L284.7,122.71 L284.88,123.59 L285.07,121.56 L285.25,124.04 L285.44,118.25 L285.63,121.33 L285.81,121.08 L286,121.18 L286.18,123.19 L286.37,120.73 L286.55,121.63 L286.74,116.94 L286.92,121.95 L287.11,121.01 L287.29,123.48 L287.48,123.22 L287.66,123.01 L287.85,118.21 L288.03,121.82 L288.22,119.13 L288.4,122.82 L288.59,123.12 L288.78,127.83 L288.96,119.51 L289.15,115.76 L289.33,122.69 L289.52,117.63 L289.7,119.4 L289.89,124.07 L290.07,119.65 L290.26,124.72 L290.44,122.89 L290.63,118.23 L290.81,121.48 L291,125.58 L291.18,117.6 L291.37,125.36 L291.55,122.46 L291.74,123.04 L291.93,122.46 L292.11,124.61 L292.3,127.06 L292.48,116.17 L292.67,124.92 L292.85,124.73 L293.04,129.61 L293.22,121.67 L293.41,117.89 L293.59,117.52 L293.78,113.19 L293.96,117.17 L294.15,120.6 L294.33,121.79 L294.52,117.29 L294.71,121.94 L294.89,121.18 L295.08,124.85 L295.26,121.45 L295.45,115.42 L295.63,121.95 L295.82,120.42 L296,129.42 L296.19,117.31 L296.37,120.42 L296.56,117.04 L296.74,120.8 L296.93,124.33 L297.11,125.97 L297.3,119.89 L297.48,121.6 L297.67,124.68 L297.86,121.69 L298.04,123.54 L298.23,119.09 L298.41,122.78 L298.6,125.44 L298.78,121.68 L298.97,123.23 L299.15,116.48 L299.34,122.88 L299.52,125.69 L299.71,121.49 L299.89,122.13 L300.08,120.36 L300.26,120.51 L300.45,124.65 L300.64,121.35 L300.82,121.49 L301.01,125.14 L301.19,123 L301.38,120.37 L301.56,126.39 L301.75,124.65 L301.93,122.54 L302.12,121.24 L302.3,119.16 L302.49,125.48 L302.67,119.81 L302.86,118.67 L303.04,115.47 L303.23,122.14 L303.41,123.8 L303.6,125.88" fill="none" stroke="#111" stroke-width="0.7"/>
<path d="M192.6,49.7 L192.97,51.28 L193.34,52.87 L193.71,54.49 L194.08,56.12 L194.46,57.77 L194.83,59.45 L195.2,61.17 L195.57,62.93 L195.94,64.72 L196.31,66.53 L196.68,68.36 L197.05,70.2 L197.43,72.04 L197.8,73.87 L198.17,75.69 L198.54,77.48 L198.91,79.23 L199.28,80.95 L199.65,82.62 L200.02,84.28 L200.4,85.96 L200.77,87.62 L201.14,89.27 L201.51,90.89 L201.88,92.46 L202.25,93.99 L202.62,95.44 L202.99,96.82 L203.37,98.11 L203.74,99.33 L204.11,100.55 L204.48,101.75 L204.85,102.93 L205.22,104.09 L205.59,105.22 L205.96,106.32 L206.34,107.39 L206.71,108.42 L207.08,109.41 L207.45,110.34 L207.82,111.23 L208.19,112.05 L208.56,112.82 L208.93,113.52 L209.31,114.16 L209.68,114.72 L210.05,115.25 L210.42,115.77 L210.79,116.27 L211.16,116.75 L211.53,117.21 L211.9,117.64 L212.28,118.05 L212.65,118.43 L213.02,118.78 L213.39,119.1 L213.76,119.39 L214.13,119.64 L214.5,119.86 L214.87,120.04 L215.25,120.21 L215.62,120.37 L215.99,120.53 L216.36,120.68 L216.73,120.83 L217.1,120.97 L217.47,121.11 L217.84,121.25 L218.22,121.37 L218.59,121.5 L218.96,121.61 L219.33,121.72 L219.7,121.81 L220.07,121.9 L220.44,121.98 L220.81,122.06 L221.19,122.12 L221.56,122.17 L221.93,122.21 L222.3,122.24 L222.67,122.27 L223.04,122.27 L223.41,122.27 L223.78,122.27 L224.16,122.26 L224.53,122.25 L224.9,122.23 L225.27,122.21 L225.64,122.19 L226.01,122.16 L226.38,122.14 L226.75,122.1 L227.13,122.07 L227.5,122.03 L227.87,122 L228.24,121.95 L228.61,121.91 L228.98,121.87 L229.35,121.82 L229.72,121.77 L230.09,121.72 L230.47,121.67 L230.84,121.61 L231.21,121.56 L231.58,121.5 L231.95,121.45 L232.32,121.39 L232.69,121.33 L233.06,121.27 L233.44,121.21 L233.81,121.16 L234.18,121.1 L234.55,121.04 L234.92,120.98 L235.29,120.92 L235.66,120.86 L236.03,120.8 L236.41,120.74 L236.78,120.69 L237.15,120.63 L237.52,120.57 L237.89,120.5 L238.26,120.43 L238.63,120.36 L239,120.28 L239.38,120.2 L239.75,120.11 L240.12,120.02 L240.49,119.92 L240.86,119.83 L241.23,119.73 L241.6,119.63 L241.97,119.52 L242.35,119.42 L242.72,119.31 L243.09,119.21 L243.46,119.1 L243.83,118.99 L244.2,118.88 L244.57,118.78 L244.94,118.67 L245.32,118.56 L245.69,118.46 L246.06,118.36 L246.43,118.25 L246.8,118.15 L247.17,118.06 L247.54,117.96 L247.91,117.87 L248.29,117.79 L248.66,117.7 L249.03,117.62 L249.4,117.55 L249.77,117.48 L250.14,117.41 L250.51,117.35 L250.88,117.29 L251.26,117.25 L251.63,117.2 L252,117.17 L252.37,117.14 L252.74,117.11 L253.11,117.1 L253.48,117.09 L253.85,117.09 L254.23,117.1 L254.6,117.11 L254.97,117.12 L255.34,117.14 L255.71,117.16 L256.08,117.19 L256.45,117.22 L256.82,117.25 L257.2,117.29 L257.57,117.33 L257.94,117.37 L258.31,117.42 L258.68,117.47 L259.05,117.52 L259.42,117.57 L259.79,117.63 L260.17,117.69 L260.54,117.75 L260.91,117.81 L261.28,117.88 L261.65,117.94 L262.02,118.01 L262.39,118.08 L262.76,118.14 L263.14,118.21 L263.51,118.28 L263.88,118.35 L264.25,118.43 L264.62,118.5 L264.99,118.57 L265.36,118.64 L265.73,118.71 L266.11,118.78 L266.48,118.85 L266.85,118.91 L267.22,118.98 L267.59,119.05 L267.96,119.12 L268.33,119.19 L268.7,119.27 L269.07,119.36 L269.45,119.45 L269.82,119.55 L270.19,119.65 L270.56,119.76 L270.93,119.86 L271.3,119.97 L271.67,120.09 L272.04,120.2 L272.42,120.32 L272.79,120.43 L273.16,120.55 L273.53,120.67 L273.9,120.78 L274.27,120.9 L274.64,121.01 L275.01,121.12 L275.39,121.23 L275.76,121.34 L276.13,121.44 L276.5,121.54 L276.87,121.64 L277.24,121.73 L277.61,121.81 L277.98,121.89 L278.36,121.97 L278.73,122.03 L279.1,122.09 L279.47,122.14 L279.84,122.19 L280.21,122.22 L280.58,122.25 L280.95,122.27 L281.33,122.27 L281.7,122.27 L282.07,122.27 L282.44,122.27 L282.81,122.27 L283.18,122.27 L283.55,122.27 L283.92,122.27 L284.3,122.27 L284.67,122.27 L285.04,122.27 L285.41,122.27 L285.78,122.27 L286.15,122.27 L286.52,122.27 L286.89,122.27 L287.27,122.27 L287.64,122.27 L288.01,122.27 L288.38,122.27 L288.75,122.27 L289.12,122.27 L289.49,122.27 L289.86,122.27 L290.24,122.27 L290.61,122.27 L290.98,122.27 L291.35,122.27 L291.72,122.27 L292.09,122.27 L292.46,122.27 L292.83,122.27 L293.21,122.26 L293.58,122.25 L293.95,122.23 L294.32,122.2 L294.69,122.17 L295.06,122.13 L295.43,122.09 L295.8,122.04 L296.18,121.99 L296.55,121.93 L296.92,121.87 L297.29,121.81 L297.66,121.74 L298.03,121.67 L298.4,121.6 L298.77,121.52 L299.15,121.44 L299.52,121.35 L299.89,121.27 L300.26,121.18 L300.63,121.09 L301,121 L301.37,120.91 L301.74,120.81 L302.12,120.72 L302.49,120.62 L302.86,120.52 L303.23,120.43 L303.6,120.33" fill="none" stroke="#ff1e1e" stroke-width="1.4"/>
<path d="M192.6,49.7 V134.1 H303.6" fill="none" stroke="#000" stroke-width="1.3"/>
<path d="M190.2,114.5 H192.6 M190.2,82.1 H192.6 M190.2,49.7 H192.6 M191,130.7 H192.6 M191,98.3 H192.6 M191,65.9 H192.6 M192.6,134.1 V136.5 M220.35,134.1 V136.5 M248.1,134.1 V136.5 M275.85,134.1 V136.5 M303.6,134.1 V136.5 M206.47,134.1 V135.7 M234.22,134.1 V135.7 M261.98,134.1 V135.7 M289.73,134.1 V135.7" fill="none" stroke="#000" stroke-width="1"/>
<text x="189.3" y="116.7" text-anchor="end" font-size="6.7" fill="#111" stroke="#111" stroke-width="0.16">0.8</text>
<text x="189.3" y="84.3" text-anchor="end" font-size="6.7" fill="#111" stroke="#111" stroke-width="0.16">0.9</text>
<text x="189.3" y="51.9" text-anchor="end" font-size="6.7" fill="#111" stroke="#111" stroke-width="0.16">1.0</text>
<text x="192.6" y="142.7" text-anchor="middle" font-size="6.7" fill="#111" stroke="#111" stroke-width="0.16">0</text>
<text x="220.35" y="142.7" text-anchor="middle" font-size="6.7" fill="#111" stroke="#111" stroke-width="0.16">1</text>
<text x="248.1" y="142.7" text-anchor="middle" font-size="6.7" fill="#111" stroke="#111" stroke-width="0.16">2</text>
<text x="275.85" y="142.7" text-anchor="middle" font-size="6.7" fill="#111" stroke="#111" stroke-width="0.16">3</text>
<text x="303.6" y="142.7" text-anchor="middle" font-size="6.7" fill="#111" stroke="#111" stroke-width="0.16">4</text>
<text x="250.3" y="149.9" text-anchor="middle" font-size="6.1" textLength="21.8" lengthAdjust="spacingAndGlyphs" fill="#111" stroke="#111" stroke-width="0.12">Time [µs]</text>
<text transform="translate(175.9,87.9) rotate(-90)" text-anchor="middle" font-size="5.7" textLength="77.9" lengthAdjust="spacingAndGlyphs" fill="#1a1a1a" stroke="#1a1a1a" stroke-width="0.1">Normalized Echo Intensity [a.u.]</text>
<path d="M349.3,47.89 L349.49,49.83 L349.69,50.44 L349.88,52.1 L350.08,53.54 L350.27,55.58 L350.47,57.66 L350.66,60.68 L350.85,63.61 L351.05,66.14 L351.24,68.61 L351.44,70.76 L351.63,72.59 L351.83,74.15 L352.02,75.81 L352.21,77.63 L352.41,79.12 L352.6,80.88 L352.8,81.6 L352.99,83.38 L353.19,84.43 L353.38,85.97 L353.58,87.01 L353.77,88.47 L353.96,90.12 L354.16,91.3 L354.35,93.29 L354.55,94.3 L354.74,96.41 L354.94,97.52 L355.13,98.87 L355.32,100.56 L355.52,102.18 L355.71,103.75 L355.91,105.07 L356.1,106.12 L356.3,107.48 L356.49,109.02 L356.68,110.45 L356.88,111.1 L357.07,112.64 L357.27,113.35 L357.46,114.3 L357.66,114.79 L357.85,115.74 L358.04,116.47 L358.24,117.27 L358.43,118.24 L358.63,118.63 L358.82,119.07 L359.02,120.08 L359.21,120.53 L359.4,121.32 L359.6,121.6 L359.79,122.25 L359.99,122.74 L360.18,123.44 L360.38,123.63 L360.57,124.7 L360.77,125.2 L360.96,125.75 L361.15,125.85 L361.35,126.58 L361.54,126.92 L361.74,126.81 L361.93,126.9 L362.13,127.28 L362.32,128.41 L362.51,128.09 L362.71,128.28 L362.9,128.44 L363.1,128.28 L363.29,127.64 L363.49,128.25 L363.68,128.33 L363.87,127.81 L364.07,127.9 L364.26,127.75 L364.46,127.86 L364.65,127.49 L364.85,127.18 L365.04,127.73 L365.23,127.46 L365.43,126.41 L365.62,126.21 L365.82,126.31 L366.01,126.1 L366.21,125.43 L366.4,125.36 L366.59,124.7 L366.79,123.71 L366.98,123.92 L367.18,123.35 L367.37,123.59 L367.57,123.18 L367.76,122.62 L367.96,123.33 L368.15,122.79 L368.34,122.53 L368.54,122.18 L368.73,121.56 L368.93,121.68 L369.12,122.27 L369.32,121.68 L369.51,121.75 L369.7,121.62 L369.9,120.45 L370.09,121.43 L370.29,120.86 L370.48,121.11 L370.68,120.46 L370.87,120.58 L371.06,120.62 L371.26,120.66 L371.45,120.18 L371.65,120.92 L371.84,120.81 L372.04,120.93 L372.23,119.99 L372.42,120.57 L372.62,120.83 L372.81,120.57 L373.01,119.44 L373.2,120.41 L373.4,120.02 L373.59,120.15 L373.78,120.32 L373.98,120.57 L374.17,120.41 L374.37,120.4 L374.56,121.12 L374.76,119.2 L374.95,119.85 L375.15,120.16 L375.34,120.28 L375.53,120.5 L375.73,119.78 L375.92,120.23 L376.12,119.95 L376.31,120.7 L376.51,119.97 L376.7,119.28 L376.89,120.22 L377.09,119.75 L377.28,120.06 L377.48,119.6 L377.67,119.6 L377.87,120.02 L378.06,120.27 L378.25,119.9 L378.45,119.99 L378.64,120.26 L378.84,119.78 L379.03,119.78 L379.23,120.34 L379.42,119.99 L379.61,118.64 L379.81,119.56 L380,119.86 L380.2,118.77 L380.39,120.08 L380.59,120.98 L380.78,120.71 L380.97,120.53 L381.17,119.71 L381.36,119.37 L381.56,120.79 L381.75,119.27 L381.95,120.34 L382.14,119.64 L382.34,119.54 L382.53,119.54 L382.72,119.72 L382.92,119.64 L383.11,120.24 L383.31,119.56 L383.5,119.22 L383.7,119.23 L383.89,118.41 L384.08,119.14 L384.28,119.3 L384.47,118.83 L384.67,119.51 L384.86,120.25 L385.06,120.71 L385.25,118.98 L385.44,119.33 L385.64,119.18 L385.83,119.76 L386.03,119.42 L386.22,118.65 L386.42,119.42 L386.61,120.14 L386.8,119.8 L387,118.88 L387.19,120.13 L387.39,120.9 L387.58,120.76 L387.78,120.28 L387.97,119.19 L388.16,119.57 L388.36,120.03 L388.55,120.32 L388.75,119.73 L388.94,119.78 L389.14,120.01 L389.33,119.87 L389.53,120.17 L389.72,118.84 L389.91,121.09 L390.11,119.8 L390.3,120.44 L390.5,119.55 L390.69,120.09 L390.89,119.8 L391.08,119.75 L391.27,119.96 L391.47,119.57 L391.66,120.91 L391.86,119.66 L392.05,120.35 L392.25,120.06 L392.44,119.44 L392.63,119.72 L392.83,119.28 L393.02,121.68 L393.22,120.99 L393.41,119.95 L393.61,121.17 L393.8,120.67 L393.99,119.63 L394.19,120.14 L394.38,121.22 L394.58,120.44 L394.77,120.36 L394.97,120.72 L395.16,120.85 L395.35,120.73 L395.55,121.71 L395.74,120.78 L395.94,121.44 L396.13,120.67 L396.33,120.66 L396.52,121.46 L396.72,120.59 L396.91,120.76 L397.1,121.01 L397.3,120.57 L397.49,121.21 L397.69,121.21 L397.88,121.01 L398.08,121.11 L398.27,120.4 L398.46,122.55 L398.66,121.31 L398.85,122.37 L399.05,121.48 L399.24,121.03 L399.44,121.2 L399.63,120.62 L399.82,121.04 L400.02,122.96 L400.21,121.97 L400.41,120.31 L400.6,120.32 L400.8,121.25 L400.99,122.31 L401.18,119.98 L401.38,122.69 L401.57,121.18 L401.77,121.43 L401.96,121.26 L402.16,122.18 L402.35,121.7 L402.54,120.76 L402.74,121.79 L402.93,122.38 L403.13,121.51 L403.32,121.46 L403.52,121.62 L403.71,122.06 L403.91,121.2 L404.1,121.65 L404.29,122.36 L404.49,121.45 L404.68,121.63 L404.88,121.52 L405.07,122.77 L405.27,122.16 L405.46,121.35 L405.65,121.04 L405.85,121.44 L406.04,121.58 L406.24,121.2 L406.43,121.04 L406.63,120.51 L406.82,121.4 L407.01,122.12 L407.21,121.41 L407.4,123.09 L407.6,121.72 L407.79,122.08 L407.99,121.8 L408.18,121.45 L408.37,121.77 L408.57,122.83 L408.76,122.08 L408.96,122.4 L409.15,121.86 L409.35,121.61 L409.54,122.56 L409.73,121.37 L409.93,120.97 L410.12,122.1 L410.32,121.4 L410.51,123 L410.71,122.34 L410.9,121.27 L411.09,123.25 L411.29,122.35 L411.48,122.65 L411.68,121.18 L411.87,121.19 L412.07,122.49 L412.26,121.96 L412.46,123.98 L412.65,121.45 L412.84,121.83 L413.04,121.12 L413.23,123.88 L413.43,121.87 L413.62,122.4 L413.82,124.1 L414.01,122.68 L414.2,122.24 L414.4,121.59 L414.59,122.05 L414.79,122.6 L414.98,121.89 L415.18,122.32 L415.37,122.74 L415.56,123.04 L415.76,122.16 L415.95,122.17 L416.15,120.89 L416.34,122.65 L416.54,121.09 L416.73,122.06 L416.92,121.43 L417.12,123.05 L417.31,123.04 L417.51,122.61 L417.7,121.69 L417.9,122.26 L418.09,121.82 L418.28,122.17 L418.48,121.62 L418.67,122.28 L418.87,122.86 L419.06,122.05 L419.26,122.39 L419.45,121.09 L419.65,122.61 L419.84,122.41 L420.03,122.75 L420.23,121.59 L420.42,121.82 L420.62,122.01 L420.81,123.54 L421.01,123.77 L421.2,122.34 L421.39,121.98 L421.59,121.37 L421.78,124.04 L421.98,122.73 L422.17,123.98 L422.37,123.39 L422.56,122.79 L422.75,121.82 L422.95,123.06 L423.14,123.23 L423.34,122.91 L423.53,121.6 L423.73,120.65 L423.92,123.95 L424.11,122.9 L424.31,123.04 L424.5,121.7 L424.7,122.33 L424.89,121.4 L425.09,123.56 L425.28,122.7 L425.47,123.11 L425.67,123.66 L425.86,122.87 L426.06,123.75 L426.25,120.89 L426.45,122.4 L426.64,123.64 L426.84,123.29 L427.03,121.29 L427.22,123.2 L427.42,122.19 L427.61,122.29 L427.81,121.86 L428,122.26 L428.2,123 L428.39,123.34 L428.58,124.38 L428.78,122.88 L428.97,122.72 L429.17,123.17 L429.36,122.98 L429.56,123.93 L429.75,120.94 L429.94,123.32 L430.14,123.8 L430.33,123.42 L430.53,123.04 L430.72,122.23 L430.92,125.07 L431.11,122.44 L431.3,123.47 L431.5,123.08 L431.69,122 L431.89,122.23 L432.08,123.55 L432.28,123.02 L432.47,121.24 L432.66,121.7 L432.86,122.16 L433.05,122.95 L433.25,122.08 L433.44,122.6 L433.64,123.47 L433.83,123.89 L434.03,122.49 L434.22,122.62 L434.41,121.86 L434.61,123.43 L434.8,121.68 L435,123.33 L435.19,121.82 L435.39,122.49 L435.58,123.54 L435.77,123.89 L435.97,123.12 L436.16,123.26 L436.36,122.13 L436.55,123.67 L436.75,124.42 L436.94,123.04 L437.13,121.2 L437.33,121.47 L437.52,123.62 L437.72,123.29 L437.91,122.73 L438.11,123.67 L438.3,123.27 L438.49,123.31 L438.69,124.06 L438.88,123.64 L439.08,123.52 L439.27,122.82 L439.47,124.2 L439.66,122.95 L439.85,124.01 L440.05,123.85 L440.24,124.16 L440.44,119.13 L440.63,121.83 L440.83,121.75 L441.02,122.27 L441.22,123.31 L441.41,123.01 L441.6,122.79 L441.8,122.64 L441.99,122.49 L442.19,121.56 L442.38,126.04 L442.58,123.64 L442.77,122.41 L442.96,123.45 L443.16,123.25 L443.35,121.6 L443.55,122.91 L443.74,121.3 L443.94,123.15 L444.13,122.87 L444.32,124.19 L444.52,125.13 L444.71,123.54 L444.91,123.05 L445.1,123.47 L445.3,124.5 L445.49,122.45 L445.68,123.05 L445.88,123.11 L446.07,123.93 L446.27,121.43 L446.46,121.6 L446.66,122.81 L446.85,123.25 L447.04,122.87 L447.24,121.37 L447.43,120.21 L447.63,123.13 L447.82,123.59 L448.02,125.04 L448.21,120.21 L448.41,124.31 L448.6,122.23 L448.79,122.62 L448.99,121.74 L449.18,124.07 L449.38,124.88 L449.57,123 L449.77,122.72 L449.96,121.94 L450.15,124.96 L450.35,123.65 L450.54,123.45 L450.74,124.62 L450.93,123.34 L451.13,122.31 L451.32,123.21 L451.51,124.73 L451.71,122.8 L451.9,122.25 L452.1,122.6 L452.29,122.32 L452.49,124.98 L452.68,122.68 L452.87,122.53 L453.07,123.6 L453.26,123.25 L453.46,124.03 L453.65,121.83 L453.85,123.52 L454.04,124.23 L454.23,122.99 L454.43,123.07 L454.62,122.46 L454.82,124.12 L455.01,123.95 L455.21,122.77 L455.4,120.71 L455.6,122.68 L455.79,124.72 L455.98,123.01 L456.18,124.08 L456.37,125.28 L456.57,123.98 L456.76,123.86 L456.96,122.74 L457.15,121.72 L457.34,121.92 L457.54,122.29 L457.73,123.7 L457.93,123.04 L458.12,123.26 L458.32,121.61 L458.51,123.96 L458.7,123.85 L458.9,121.5 L459.09,122.56 L459.29,123.73 L459.48,123.03 L459.68,123.05 L459.87,123 L460.06,122.3 L460.26,122.8 L460.45,123.43 L460.65,123.81 L460.84,125.23 L461.04,123.73 L461.23,121.89 L461.42,122.96 L461.62,123.99 L461.81,123.51 L462.01,124.23 L462.2,122.88 L462.4,120.86 L462.59,121.1 L462.79,121.81 L462.98,122.3 L463.17,123.49 L463.37,124.7 L463.56,123.21 L463.76,123.76 L463.95,122.23 L464.15,123.03 L464.34,123.91 L464.53,122.68 L464.73,119.72 L464.92,124.31 L465.12,121.86 L465.31,122.5 L465.51,123.34 L465.7,124.13" fill="none" stroke="#111" stroke-width="0.7"/>
<path d="M349.3,48.2 L349.69,50.61 L350.08,53.79 L350.47,58.02 L350.86,63.55 L351.25,68.73 L351.64,72.58 L352.03,75.98 L352.41,79.09 L352.8,81.98 L353.19,84.75 L353.58,87.47 L353.97,90.25 L354.36,93.15 L354.75,96.15 L355.14,99.18 L355.53,102.18 L355.92,105.07 L356.31,107.77 L356.7,110.22 L357.09,112.35 L357.48,114.18 L357.86,115.85 L358.25,117.4 L358.64,118.82 L359.03,120.13 L359.42,121.34 L359.81,122.47 L360.2,123.58 L360.59,124.65 L360.98,125.63 L361.37,126.45 L361.76,127.04 L362.15,127.46 L362.54,127.84 L362.93,128.1 L363.31,128.18 L363.7,128.1 L364.09,127.9 L364.48,127.63 L364.87,127.29 L365.26,126.93 L365.65,126.44 L366.04,125.71 L366.43,124.91 L366.82,124.2 L367.21,123.7 L367.6,123.27 L367.99,122.84 L368.38,122.44 L368.76,122.06 L369.15,121.72 L369.54,121.41 L369.93,121.14 L370.32,120.93 L370.71,120.76 L371.1,120.66 L371.49,120.59 L371.88,120.54 L372.27,120.48 L372.66,120.43 L373.05,120.39 L373.44,120.35 L373.83,120.31 L374.22,120.28 L374.6,120.25 L374.99,120.22 L375.38,120.19 L375.77,120.17 L376.16,120.14 L376.55,120.12 L376.94,120.1 L377.33,120.07 L377.72,120.05 L378.11,120.03 L378.5,120 L378.89,119.98 L379.28,119.95 L379.67,119.93 L380.05,119.9 L380.44,119.87 L380.83,119.85 L381.22,119.82 L381.61,119.8 L382,119.77 L382.39,119.75 L382.78,119.72 L383.17,119.7 L383.56,119.68 L383.95,119.66 L384.34,119.65 L384.73,119.63 L385.12,119.62 L385.5,119.6 L385.89,119.59 L386.28,119.59 L386.67,119.58 L387.06,119.58 L387.45,119.58 L387.84,119.6 L388.23,119.62 L388.62,119.66 L389.01,119.7 L389.4,119.75 L389.79,119.81 L390.18,119.87 L390.57,119.94 L390.95,120.01 L391.34,120.09 L391.73,120.16 L392.12,120.24 L392.51,120.32 L392.9,120.4 L393.29,120.47 L393.68,120.55 L394.07,120.62 L394.46,120.68 L394.85,120.74 L395.24,120.8 L395.63,120.85 L396.02,120.89 L396.41,120.92 L396.79,120.96 L397.18,121 L397.57,121.03 L397.96,121.06 L398.35,121.1 L398.74,121.13 L399.13,121.16 L399.52,121.19 L399.91,121.22 L400.3,121.25 L400.69,121.28 L401.08,121.31 L401.47,121.33 L401.86,121.36 L402.24,121.39 L402.63,121.41 L403.02,121.44 L403.41,121.47 L403.8,121.49 L404.19,121.52 L404.58,121.54 L404.97,121.57 L405.36,121.59 L405.75,121.62 L406.14,121.64 L406.53,121.67 L406.92,121.69 L407.31,121.72 L407.69,121.74 L408.08,121.77 L408.47,121.79 L408.86,121.82 L409.25,121.85 L409.64,121.87 L410.03,121.9 L410.42,121.92 L410.81,121.95 L411.2,121.98 L411.59,122 L411.98,122.03 L412.37,122.05 L412.76,122.08 L413.14,122.1 L413.53,122.13 L413.92,122.15 L414.31,122.18 L414.7,122.2 L415.09,122.23 L415.48,122.25 L415.87,122.28 L416.26,122.3 L416.65,122.32 L417.04,122.34 L417.43,122.37 L417.82,122.39 L418.21,122.41 L418.59,122.43 L418.98,122.45 L419.37,122.47 L419.76,122.49 L420.15,122.51 L420.54,122.53 L420.93,122.54 L421.32,122.56 L421.71,122.58 L422.1,122.59 L422.49,122.61 L422.88,122.62 L423.27,122.64 L423.66,122.65 L424.05,122.67 L424.43,122.68 L424.82,122.7 L425.21,122.71 L425.6,122.73 L425.99,122.74 L426.38,122.75 L426.77,122.77 L427.16,122.78 L427.55,122.8 L427.94,122.81 L428.33,122.82 L428.72,122.83 L429.11,122.85 L429.5,122.86 L429.88,122.87 L430.27,122.88 L430.66,122.89 L431.05,122.9 L431.44,122.92 L431.83,122.93 L432.22,122.94 L432.61,122.95 L433,122.95 L433.39,122.96 L433.78,122.97 L434.17,122.98 L434.56,122.99 L434.95,122.99 L435.33,123 L435.72,123.01 L436.11,123.01 L436.5,123.02 L436.89,123.02 L437.28,123.03 L437.67,123.03 L438.06,123.04 L438.45,123.04 L438.84,123.05 L439.23,123.05 L439.62,123.06 L440.01,123.06 L440.4,123.07 L440.78,123.07 L441.17,123.08 L441.56,123.08 L441.95,123.08 L442.34,123.09 L442.73,123.09 L443.12,123.1 L443.51,123.1 L443.9,123.11 L444.29,123.11 L444.68,123.11 L445.07,123.12 L445.46,123.12 L445.85,123.13 L446.24,123.13 L446.62,123.13 L447.01,123.14 L447.4,123.14 L447.79,123.14 L448.18,123.15 L448.57,123.15 L448.96,123.16 L449.35,123.16 L449.74,123.16 L450.13,123.17 L450.52,123.17 L450.91,123.17 L451.3,123.17 L451.69,123.18 L452.07,123.18 L452.46,123.18 L452.85,123.19 L453.24,123.19 L453.63,123.19 L454.02,123.19 L454.41,123.2 L454.8,123.2 L455.19,123.2 L455.58,123.2 L455.97,123.21 L456.36,123.21 L456.75,123.21 L457.14,123.21 L457.52,123.21 L457.91,123.22 L458.3,123.22 L458.69,123.22 L459.08,123.22 L459.47,123.22 L459.86,123.22 L460.25,123.23 L460.64,123.23 L461.03,123.23 L461.42,123.23 L461.81,123.23 L462.2,123.23 L462.59,123.23 L462.97,123.23 L463.36,123.23 L463.75,123.23 L464.14,123.23 L464.53,123.23 L464.92,123.23 L465.31,123.23 L465.7,123.23" fill="none" stroke="#ff1e1e" stroke-width="1.4"/>
<path d="M349.3,48.2 V134.2 H465.7" fill="none" stroke="#000" stroke-width="1.3"/>
<path d="M346.9,134.2 H349.3 M346.9,112.7 H349.3 M346.9,91.2 H349.3 M346.9,69.7 H349.3 M346.9,48.2 H349.3 M347.7,123.45 H349.3 M347.7,101.95 H349.3 M347.7,80.45 H349.3 M347.7,58.95 H349.3 M349.3,134.2 V136.6 M378.4,134.2 V136.6 M407.5,134.2 V136.6 M436.6,134.2 V136.6 M465.7,134.2 V136.6 M363.85,134.2 V135.8 M392.95,134.2 V135.8 M422.05,134.2 V135.8 M451.15,134.2 V135.8" fill="none" stroke="#000" stroke-width="1"/>
<text x="346" y="136.4" text-anchor="end" font-size="6.7" fill="#111" stroke="#111" stroke-width="0.16">0.6</text>
<text x="346" y="114.9" text-anchor="end" font-size="6.7" fill="#111" stroke="#111" stroke-width="0.16">0.7</text>
<text x="346" y="93.4" text-anchor="end" font-size="6.7" fill="#111" stroke="#111" stroke-width="0.16">0.8</text>
<text x="346" y="71.9" text-anchor="end" font-size="6.7" fill="#111" stroke="#111" stroke-width="0.16">0.9</text>
<text x="346" y="50.4" text-anchor="end" font-size="6.7" fill="#111" stroke="#111" stroke-width="0.16">1.0</text>
<text x="349.3" y="142.8" text-anchor="middle" font-size="6.7" fill="#111" stroke="#111" stroke-width="0.16">0</text>
<text x="378.4" y="142.8" text-anchor="middle" font-size="6.7" fill="#111" stroke="#111" stroke-width="0.16">1</text>
<text x="407.5" y="142.8" text-anchor="middle" font-size="6.7" fill="#111" stroke="#111" stroke-width="0.16">2</text>
<text x="436.6" y="142.8" text-anchor="middle" font-size="6.7" fill="#111" stroke="#111" stroke-width="0.16">3</text>
<text x="465.7" y="142.8" text-anchor="middle" font-size="6.7" fill="#111" stroke="#111" stroke-width="0.16">4</text>
<text x="409.7" y="150" text-anchor="middle" font-size="6.1" textLength="21.8" lengthAdjust="spacingAndGlyphs" fill="#111" stroke="#111" stroke-width="0.12">Time [µs]</text>
<text transform="translate(331.8,88.4) rotate(-90)" text-anchor="middle" font-size="5.7" textLength="76.9" lengthAdjust="spacingAndGlyphs" fill="#1a1a1a" stroke="#1a1a1a" stroke-width="0.1">Normalized Echo Intensity [a.u.]</text>
<path d="M50.1,317.36 L50.29,324.29 L50.48,330.33 L50.67,335.92 L50.86,339.6 L51.05,343.32 L51.24,347.61 L51.43,350.64 L51.62,352.94 L51.81,355.76 L52,356.26 L52.19,359.24 L52.38,360.26 L52.57,360.75 L52.76,363.23 L52.95,364.39 L53.14,365.81 L53.33,366.58 L53.52,368.66 L53.71,369.13 L53.9,369.27 L54.09,371.03 L54.28,372.38 L54.47,373.28 L54.66,374.4 L54.85,375.61 L55.04,376.46 L55.23,378.39 L55.42,378.26 L55.61,379.58 L55.8,379.65 L55.99,380.7 L56.18,381.81 L56.37,382 L56.56,383 L56.75,382.58 L56.94,383.52 L57.13,383.5 L57.32,384.76 L57.51,383.75 L57.7,384.94 L57.89,384.38 L58.08,384.85 L58.27,386.01 L58.46,385.48 L58.65,386.06 L58.84,385.72 L59.03,385.33 L59.22,385.82 L59.41,385.74 L59.6,387 L59.79,386.38 L59.98,386.39 L60.17,386.08 L60.36,387.06 L60.55,386.49 L60.74,386.61 L60.93,387.72 L61.12,387.51 L61.31,386.75 L61.5,387.69 L61.69,387.77 L61.88,386.63 L62.07,387.01 L62.26,387.34 L62.45,387.19 L62.64,387.52 L62.83,387.64 L63.02,387.63 L63.21,387.17 L63.4,386.66 L63.59,387.75 L63.78,387.54 L63.97,387.66 L64.16,388.32 L64.35,387.44 L64.54,387.1 L64.73,388.17 L64.92,387.17 L65.11,388.06 L65.3,387.02 L65.49,387 L65.68,388.03 L65.87,389.08 L66.06,388.06 L66.25,388.75 L66.44,388.73 L66.63,388.07 L66.82,387.05 L67.01,388.01 L67.2,388.12 L67.39,389.22 L67.58,388.43 L67.77,388.98 L67.96,387.72 L68.15,388.45 L68.34,388.14 L68.53,388.15 L68.72,388.29 L68.91,387.53 L69.1,387.87 L69.29,388.45 L69.48,388.15 L69.67,387.89 L69.86,387.34 L70.05,388.24 L70.24,387.33 L70.43,388.81 L70.62,388.58 L70.81,389.51 L71,387.87 L71.19,389.24 L71.38,389.27 L71.57,387.92 L71.76,388.96 L71.95,389.15 L72.14,387.91 L72.33,388.78 L72.52,387.97 L72.71,389 L72.9,388.17 L73.09,387.92 L73.28,388.7 L73.47,387.41 L73.66,389.12 L73.85,389.01 L74.04,388.8 L74.23,388.1 L74.42,389.14 L74.61,389.28 L74.8,388.76 L74.99,387.99 L75.18,389.34 L75.37,390.06 L75.56,389.16 L75.75,388.57 L75.94,389.55 L76.13,389.02 L76.32,390.69 L76.51,389.15 L76.7,389.11 L76.89,388.7 L77.08,388.98 L77.27,388.61 L77.46,390.12 L77.65,388.75 L77.84,390.73 L78.03,389.86 L78.22,388.42 L78.41,388.66 L78.6,391.02 L78.79,388.93 L78.98,389.83 L79.17,390.16 L79.36,389.32 L79.55,389.41 L79.74,388.31 L79.93,390.84 L80.12,389.97 L80.31,389.73 L80.5,391.28 L80.69,388.59 L80.88,388.08 L81.07,390.25 L81.26,389.36 L81.45,389.97 L81.64,389.5 L81.83,390.39 L82.02,389.01 L82.21,390.89 L82.4,388.55 L82.59,389.51 L82.78,387.58 L82.97,391.44 L83.16,389.99 L83.35,391.14 L83.54,390.07 L83.73,389.54 L83.92,390.86 L84.11,391.38 L84.3,391.69 L84.49,389.81 L84.68,388.8 L84.87,388.92 L85.06,390.05 L85.25,391.05 L85.44,390.48 L85.63,391.63 L85.82,391.72 L86.01,389.11 L86.2,390.47 L86.39,389.89 L86.58,390.5 L86.77,388.9 L86.96,388.8 L87.15,391.07 L87.34,390.67 L87.53,391 L87.72,388.97 L87.91,389.05 L88.1,390.66 L88.29,387.98 L88.48,390.37 L88.67,391.68 L88.86,392.56 L89.05,390.6 L89.24,390.12 L89.43,391.1 L89.62,390.11 L89.81,389.23 L90,390.59 L90.19,389.64 L90.38,388.77 L90.57,390.04 L90.76,391.22 L90.95,390.14 L91.14,390.04 L91.33,388.3 L91.52,391.14 L91.71,392.39 L91.9,390.37 L92.09,390.35 L92.28,391.19 L92.47,390.12 L92.66,390.41 L92.85,389.42 L93.04,391.74 L93.23,391.61 L93.42,390.86 L93.61,391.43 L93.8,389.42 L93.99,390.22 L94.18,390.93 L94.37,389.16 L94.56,390.36 L94.75,389.8 L94.94,390.04 L95.13,391.16 L95.32,391.17 L95.51,391.01 L95.7,392.32 L95.89,391.46 L96.08,390.06 L96.27,390.72 L96.46,392.23 L96.65,388.31 L96.84,392.37 L97.03,390.41 L97.22,390.3 L97.41,389.65 L97.6,392.25 L97.79,391.2 L97.98,391.47 L98.17,389.86 L98.36,390.8 L98.55,390.77 L98.74,390.63 L98.93,388.89 L99.12,390.49 L99.31,390.24 L99.5,392.5 L99.69,390.49 L99.88,392.93 L100.07,390.19 L100.26,391.21 L100.45,392.52 L100.64,392.87 L100.83,391.55 L101.02,391.29 L101.21,392.18 L101.4,391.89 L101.59,391.88 L101.78,392.18 L101.97,391.76 L102.16,391.18 L102.35,389.87 L102.54,390.73 L102.73,392.31 L102.92,389.47 L103.11,390.05 L103.3,391.95 L103.49,390.29 L103.68,392.35 L103.87,392.66 L104.06,392.63 L104.25,389.54 L104.44,391.52 L104.63,391.3 L104.82,391.65 L105.01,392.3 L105.2,391.12 L105.39,390.87 L105.58,389.15 L105.77,392.97 L105.96,389.75 L106.15,390.94 L106.34,394.23 L106.53,390.55 L106.72,389.69 L106.91,390.42 L107.09,391.61 L107.28,391.75 L107.47,394.74 L107.66,391.56 L107.85,391.78 L108.04,393.35 L108.23,391.8 L108.42,393.03 L108.61,388.95 L108.8,393.87 L108.99,393.45 L109.18,395.28 L109.37,392.81 L109.56,392.11 L109.75,392.29 L109.94,393.26 L110.13,391.11 L110.32,392.05 L110.51,390.71 L110.7,392.61 L110.89,395.03 L111.08,392.72 L111.27,394 L111.46,391.35 L111.65,393.48 L111.84,392.98 L112.03,392.68 L112.22,394.92 L112.41,393.28 L112.6,391.44 L112.79,393.61 L112.98,393.04 L113.17,392.58 L113.36,393.86 L113.55,393.32 L113.74,392.25 L113.93,393.5 L114.12,392.88 L114.31,393.2 L114.5,394.6 L114.69,395.01 L114.88,390.05 L115.07,390.99 L115.26,393.3 L115.45,391.69 L115.64,391.47 L115.83,391.71 L116.02,393.78 L116.21,395.46 L116.4,395.22 L116.59,393.66 L116.78,391.21 L116.97,390.9 L117.16,393.73 L117.35,393.9 L117.54,391.52 L117.73,390.19 L117.92,394.91 L118.11,392.73 L118.3,393.27 L118.49,394.03 L118.68,394.05 L118.87,394.1 L119.06,393.6 L119.25,396.08 L119.44,393.65 L119.63,392.4 L119.82,392.48 L120.01,392.44 L120.2,393.21 L120.39,393.46 L120.58,390.64 L120.77,394.12 L120.96,393.6 L121.15,391.85 L121.34,393.85 L121.53,396.06 L121.72,394.88 L121.91,394.71 L122.1,394.29 L122.29,394.81 L122.48,392.45 L122.67,392.95 L122.86,393.34 L123.05,394.85 L123.24,392.49 L123.43,392.58 L123.62,390.59 L123.81,395.31 L124,394.5 L124.19,392.01 L124.38,396.2 L124.57,393.95 L124.76,394.05 L124.95,394.36 L125.14,396.09 L125.33,394.44 L125.52,397.08 L125.71,392.52 L125.9,395.43 L126.09,394.36 L126.28,394.68 L126.47,394.36 L126.66,394.5 L126.85,394.01 L127.04,395.4 L127.23,394.75 L127.42,396.76 L127.61,396.68 L127.8,396.37 L127.99,396.68 L128.18,397.35 L128.37,396.07 L128.56,393.88 L128.75,394.28 L128.94,395.77 L129.13,394.49 L129.32,394.42 L129.51,390.32 L129.7,397.94 L129.89,394.67 L130.08,397.48 L130.27,392.9 L130.46,395.55 L130.65,394.38 L130.84,394.82 L131.03,393.94 L131.22,400.49 L131.41,397.32 L131.6,395.08 L131.79,397.66 L131.98,394.25 L132.17,393.01 L132.36,397.65 L132.55,396.08 L132.74,394.15 L132.93,391.97 L133.12,393.46 L133.31,393.99 L133.5,396.96 L133.69,395.3 L133.88,395.13 L134.07,396.5 L134.26,394.61 L134.45,395.98 L134.64,396.24 L134.83,391.43 L135.02,395.74 L135.21,391.92 L135.4,396.18 L135.59,395.61 L135.78,397.84 L135.97,396.58 L136.16,392.49 L136.35,395.49 L136.54,399.34 L136.73,392.83 L136.92,397.27 L137.11,396.39 L137.3,395.67 L137.49,399.23 L137.68,392.64 L137.87,393.14 L138.06,396.28 L138.25,394.96 L138.44,396.22 L138.63,396.83 L138.82,396.14 L139.01,398.51 L139.2,396.49 L139.39,396.81 L139.58,391.96 L139.77,398.61 L139.96,393.24 L140.15,394.33 L140.34,395.45 L140.53,396.95 L140.72,392.18 L140.91,392.87 L141.1,395.86 L141.29,396.18 L141.48,395.41 L141.67,392.14 L141.86,397.63 L142.05,395.64 L142.24,393.53 L142.43,398.63 L142.62,396 L142.81,393.58 L143,396.73 L143.19,396.08 L143.38,399 L143.57,395.09 L143.76,398.27 L143.95,396.67 L144.14,395.19 L144.33,397.03 L144.52,394.11 L144.71,394.43 L144.9,394.91 L145.09,393.88 L145.28,396.26 L145.47,400.39 L145.66,394.14 L145.85,394.33 L146.04,396.93 L146.23,397.7 L146.42,393.54 L146.61,396.95 L146.8,396.77 L146.99,396.91 L147.18,391.07 L147.37,397.51 L147.56,401.48 L147.75,396.28 L147.94,398.28 L148.13,399.83 L148.32,395.9 L148.51,397.33 L148.7,394.35 L148.89,396.94 L149.08,393.72 L149.27,394.16 L149.46,396.21 L149.65,394.62 L149.84,392.4 L150.03,394.81 L150.22,399.38 L150.41,396.14 L150.6,395.87 L150.79,393.62 L150.98,396.6 L151.17,393.89 L151.36,396.61 L151.55,396.28 L151.74,396.86 L151.93,396.33 L152.12,396.68 L152.31,395.63 L152.5,398.05 L152.69,398.69 L152.88,396.59 L153.07,396.09 L153.26,397.31 L153.45,395.55 L153.64,395.71 L153.83,392.72 L154.02,399.7 L154.21,392.08 L154.4,401.7 L154.59,400.46 L154.78,395.96 L154.97,398.7 L155.16,397.27 L155.35,397.61 L155.54,399.57 L155.73,399.72 L155.92,397.53 L156.11,395.87 L156.3,395.32 L156.49,396.3 L156.68,397.43 L156.87,393.99 L157.06,401.66 L157.25,396.65 L157.44,393.82 L157.63,393.04 L157.82,393.97 L158.01,393.63 L158.2,394.34 L158.39,396.4 L158.58,401.85 L158.77,397.87 L158.96,397.33 L159.15,393.05 L159.34,397.69 L159.53,397.51 L159.72,395.16 L159.91,398.94 L160.1,396.61 L160.29,395.39 L160.48,397.44 L160.67,396.83 L160.86,400.85 L161.05,399.61 L161.24,397.29 L161.43,394.02 L161.62,398.06 L161.81,398.9 L162,398.62 L162.19,395.17 L162.38,400.12 L162.57,396.34 L162.76,397.6 L162.95,396.58 L163.14,398.53 L163.33,396.53 L163.52,393.49 L163.71,397.43 L163.9,397.93" fill="none" stroke="#111" stroke-width="0.7"/>
<path d="M50.1,317.6 L50.48,329.8 L50.86,339.5 L51.24,347.66 L51.62,353.35 L52,357.3 L52.38,360.43 L52.76,363.21 L53.14,365.64 L53.53,367.82 L53.91,370.01 L54.29,372.32 L54.67,374.62 L55.05,376.75 L55.43,378.56 L55.81,380.04 L56.19,381.38 L56.57,382.57 L56.95,383.54 L57.33,384.25 L57.71,384.82 L58.09,385.28 L58.47,385.65 L58.85,385.93 L59.23,386.19 L59.62,386.4 L60,386.59 L60.38,386.74 L60.76,386.85 L61.14,386.95 L61.52,387.04 L61.9,387.13 L62.28,387.22 L62.66,387.29 L63.04,387.37 L63.42,387.44 L63.8,387.5 L64.18,387.57 L64.56,387.63 L64.94,387.68 L65.32,387.74 L65.7,387.79 L66.09,387.84 L66.47,387.89 L66.85,387.93 L67.23,387.98 L67.61,388.03 L67.99,388.07 L68.37,388.12 L68.75,388.16 L69.13,388.21 L69.51,388.26 L69.89,388.31 L70.27,388.36 L70.65,388.42 L71.03,388.47 L71.41,388.52 L71.79,388.57 L72.17,388.62 L72.56,388.67 L72.94,388.72 L73.32,388.77 L73.7,388.82 L74.08,388.87 L74.46,388.92 L74.84,388.97 L75.22,389.01 L75.6,389.06 L75.98,389.11 L76.36,389.15 L76.74,389.2 L77.12,389.24 L77.5,389.29 L77.88,389.33 L78.26,389.38 L78.65,389.42 L79.03,389.46 L79.41,389.51 L79.79,389.55 L80.17,389.59 L80.55,389.63 L80.93,389.67 L81.31,389.71 L81.69,389.75 L82.07,389.79 L82.45,389.83 L82.83,389.87 L83.21,389.9 L83.59,389.94 L83.97,389.98 L84.35,390.02 L84.73,390.05 L85.12,390.09 L85.5,390.12 L85.88,390.16 L86.26,390.19 L86.64,390.23 L87.02,390.26 L87.4,390.3 L87.78,390.33 L88.16,390.36 L88.54,390.4 L88.92,390.43 L89.3,390.47 L89.68,390.5 L90.06,390.53 L90.44,390.57 L90.82,390.6 L91.21,390.63 L91.59,390.67 L91.97,390.7 L92.35,390.74 L92.73,390.77 L93.11,390.8 L93.49,390.84 L93.87,390.87 L94.25,390.91 L94.63,390.94 L95.01,390.98 L95.39,391.01 L95.77,391.05 L96.15,391.08 L96.53,391.11 L96.91,391.15 L97.29,391.18 L97.68,391.22 L98.06,391.25 L98.44,391.28 L98.82,391.32 L99.2,391.35 L99.58,391.38 L99.96,391.42 L100.34,391.45 L100.72,391.49 L101.1,391.52 L101.48,391.56 L101.86,391.59 L102.24,391.63 L102.62,391.66 L103,391.7 L103.38,391.74 L103.76,391.78 L104.15,391.82 L104.53,391.86 L104.91,391.9 L105.29,391.94 L105.67,391.98 L106.05,392.02 L106.43,392.06 L106.81,392.11 L107.19,392.15 L107.57,392.19 L107.95,392.24 L108.33,392.28 L108.71,392.33 L109.09,392.37 L109.47,392.42 L109.85,392.46 L110.24,392.51 L110.62,392.56 L111,392.6 L111.38,392.65 L111.76,392.7 L112.14,392.75 L112.52,392.79 L112.9,392.84 L113.28,392.89 L113.66,392.94 L114.04,392.99 L114.42,393.04 L114.8,393.08 L115.18,393.13 L115.56,393.18 L115.94,393.23 L116.32,393.28 L116.71,393.33 L117.09,393.38 L117.47,393.43 L117.85,393.48 L118.23,393.52 L118.61,393.57 L118.99,393.62 L119.37,393.68 L119.75,393.73 L120.13,393.78 L120.51,393.84 L120.89,393.9 L121.27,393.96 L121.65,394.01 L122.03,394.07 L122.41,394.13 L122.79,394.19 L123.18,394.25 L123.56,394.31 L123.94,394.37 L124.32,394.43 L124.7,394.49 L125.08,394.55 L125.46,394.61 L125.84,394.66 L126.22,394.72 L126.6,394.77 L126.98,394.82 L127.36,394.88 L127.74,394.93 L128.12,394.97 L128.5,395.02 L128.88,395.06 L129.27,395.1 L129.65,395.14 L130.03,395.18 L130.41,395.21 L130.79,395.24 L131.17,395.27 L131.55,395.29 L131.93,395.32 L132.31,395.34 L132.69,395.37 L133.07,395.39 L133.45,395.41 L133.83,395.44 L134.21,395.46 L134.59,395.48 L134.97,395.5 L135.35,395.52 L135.74,395.54 L136.12,395.56 L136.5,395.58 L136.88,395.6 L137.26,395.61 L137.64,395.63 L138.02,395.65 L138.4,395.67 L138.78,395.68 L139.16,395.7 L139.54,395.72 L139.92,395.73 L140.3,395.75 L140.68,395.76 L141.06,395.77 L141.44,395.79 L141.83,395.8 L142.21,395.82 L142.59,395.83 L142.97,395.84 L143.35,395.86 L143.73,395.87 L144.11,395.88 L144.49,395.89 L144.87,395.9 L145.25,395.91 L145.63,395.93 L146.01,395.94 L146.39,395.95 L146.77,395.96 L147.15,395.97 L147.53,395.98 L147.91,395.99 L148.3,396 L148.68,396.01 L149.06,396.02 L149.44,396.03 L149.82,396.04 L150.2,396.05 L150.58,396.06 L150.96,396.07 L151.34,396.08 L151.72,396.09 L152.1,396.1 L152.48,396.11 L152.86,396.12 L153.24,396.13 L153.62,396.14 L154,396.15 L154.38,396.15 L154.77,396.16 L155.15,396.17 L155.53,396.18 L155.91,396.19 L156.29,396.2 L156.67,396.2 L157.05,396.21 L157.43,396.22 L157.81,396.22 L158.19,396.23 L158.57,396.24 L158.95,396.24 L159.33,396.25 L159.71,396.26 L160.09,396.26 L160.47,396.27 L160.86,396.27 L161.24,396.28 L161.62,396.28 L162,396.29 L162.38,396.29 L162.76,396.3 L163.14,396.3 L163.52,396.3 L163.9,396.31" fill="none" stroke="#ff1e1e" stroke-width="1.4"/>
<path d="M50.1,317.6 V403.9 H163.9" fill="none" stroke="#000" stroke-width="1.3"/>
<path d="M47.7,403.9 H50.1 M47.7,386.64 H50.1 M47.7,369.38 H50.1 M47.7,352.12 H50.1 M47.7,334.86 H50.1 M47.7,317.6 H50.1 M48.5,395.27 H50.1 M48.5,378.01 H50.1 M48.5,360.75 H50.1 M48.5,343.49 H50.1 M48.5,326.23 H50.1 M50.1,403.9 V406.3 M78.55,403.9 V406.3 M107,403.9 V406.3 M135.45,403.9 V406.3 M163.9,403.9 V406.3 M64.33,403.9 V405.5 M92.78,403.9 V405.5 M121.22,403.9 V405.5 M149.68,403.9 V405.5" fill="none" stroke="#000" stroke-width="1"/>
<text x="46.8" y="406.1" text-anchor="end" font-size="6.7" fill="#111" stroke="#111" stroke-width="0.16">0.0</text>
<text x="46.8" y="388.84" text-anchor="end" font-size="6.7" fill="#111" stroke="#111" stroke-width="0.16">0.2</text>
<text x="46.8" y="371.58" text-anchor="end" font-size="6.7" fill="#111" stroke="#111" stroke-width="0.16">0.4</text>
<text x="46.8" y="354.32" text-anchor="end" font-size="6.7" fill="#111" stroke="#111" stroke-width="0.16">0.6</text>
<text x="46.8" y="337.06" text-anchor="end" font-size="6.7" fill="#111" stroke="#111" stroke-width="0.16">0.8</text>
<text x="46.8" y="319.8" text-anchor="end" font-size="6.7" fill="#111" stroke="#111" stroke-width="0.16">1.0</text>
<text x="50.1" y="412.5" text-anchor="middle" font-size="6.7" fill="#111" stroke="#111" stroke-width="0.16">0</text>
<text x="78.55" y="412.5" text-anchor="middle" font-size="6.7" fill="#111" stroke="#111" stroke-width="0.16">1</text>
<text x="107" y="412.5" text-anchor="middle" font-size="6.7" fill="#111" stroke="#111" stroke-width="0.16">2</text>
<text x="135.45" y="412.5" text-anchor="middle" font-size="6.7" fill="#111" stroke="#111" stroke-width="0.16">3</text>
<text x="163.9" y="412.5" text-anchor="middle" font-size="6.7" fill="#111" stroke="#111" stroke-width="0.16">4</text>
<text x="109.2" y="419.7" text-anchor="middle" font-size="6.1" textLength="21.8" lengthAdjust="spacingAndGlyphs" fill="#111" stroke="#111" stroke-width="0.12">Time [µs]</text>
<text transform="translate(33.1,357.5) rotate(-90)" text-anchor="middle" font-size="5.7" textLength="77.1" lengthAdjust="spacingAndGlyphs" fill="#1a1a1a" stroke="#1a1a1a" stroke-width="0.1">Normalized Echo Intensity [a.u.]</text>
<path d="M191.4,318.38 L191.59,320.96 L191.78,322.63 L191.97,326.37 L192.16,328.06 L192.35,330.34 L192.54,335 L192.73,334.84 L192.91,338.71 L193.1,338.21 L193.29,341.83 L193.48,345.45 L193.67,347.14 L193.86,349.64 L194.05,352.04 L194.24,353.37 L194.43,356.58 L194.62,357.5 L194.81,360.42 L195,362.94 L195.19,365.98 L195.38,367.55 L195.56,367.11 L195.75,367.97 L195.94,368.47 L196.13,371.97 L196.32,372.4 L196.51,374.5 L196.7,375.11 L196.89,378.17 L197.08,375.69 L197.27,378.2 L197.46,378.32 L197.65,378.57 L197.84,379.51 L198.03,382.21 L198.22,379.71 L198.4,381.31 L198.59,382.3 L198.78,384.3 L198.97,386.01 L199.16,386.58 L199.35,385.38 L199.54,385.35 L199.73,386.72 L199.92,383.93 L200.11,386 L200.3,385.37 L200.49,385.68 L200.68,388.31 L200.87,385.96 L201.06,386.81 L201.24,389.11 L201.43,386.79 L201.62,386.49 L201.81,386.73 L202,386.75 L202.19,389.96 L202.38,388.57 L202.57,389.01 L202.76,388.28 L202.95,388.23 L203.14,386.91 L203.33,387.39 L203.52,389.46 L203.71,387.19 L203.89,386.23 L204.08,387.97 L204.27,390.37 L204.46,389.23 L204.65,388.61 L204.84,390.56 L205.03,388.56 L205.22,390.1 L205.41,387.29 L205.6,387.44 L205.79,388.48 L205.98,390.1 L206.17,387.97 L206.36,389.26 L206.55,389.33 L206.73,386.82 L206.92,389.44 L207.11,390.31 L207.3,387.25 L207.49,385.85 L207.68,386.08 L207.87,387.25 L208.06,385.37 L208.25,388.88 L208.44,385.22 L208.63,385.32 L208.82,388.87 L209.01,387.76 L209.2,390.24 L209.38,389.85 L209.57,387.49 L209.76,390.04 L209.95,387.98 L210.14,387.59 L210.33,388.05 L210.52,386.77 L210.71,385.26 L210.9,387.9 L211.09,386.61 L211.28,385.83 L211.47,388.79 L211.66,389.09 L211.85,391.79 L212.04,387.33 L212.22,386.33 L212.41,387.25 L212.6,384.61 L212.79,385.46 L212.98,386.55 L213.17,387.86 L213.36,389.17 L213.55,387.56 L213.74,386.9 L213.93,387.78 L214.12,388.13 L214.31,388.23 L214.5,386.44 L214.69,390.33 L214.88,388.04 L215.06,387.37 L215.25,386.32 L215.44,386.28 L215.63,387.79 L215.82,388.36 L216.01,389.31 L216.2,385.39 L216.39,386.34 L216.58,386.95 L216.77,388.49 L216.96,389.15 L217.15,385.24 L217.34,387.22 L217.53,386.36 L217.71,384.06 L217.9,389.75 L218.09,388.43 L218.28,386.43 L218.47,385.96 L218.66,388.83 L218.85,387.13 L219.04,388.02 L219.23,387.95 L219.42,386.23 L219.61,386.54 L219.8,384.77 L219.99,385.75 L220.18,384.14 L220.37,388.24 L220.55,386.02 L220.74,389.29 L220.93,389.72 L221.12,389.22 L221.31,385.38 L221.5,386.28 L221.69,389.62 L221.88,384.21 L222.07,384.8 L222.26,386.89 L222.45,386.98 L222.64,386.53 L222.83,388.75 L223.02,382.08 L223.21,387.31 L223.39,386.78 L223.58,387 L223.77,387.63 L223.96,388.06 L224.15,385.68 L224.34,388.65 L224.53,388.27 L224.72,387.8 L224.91,384.68 L225.1,388.12 L225.29,388.11 L225.48,385.54 L225.67,388.35 L225.86,386.76 L226.04,384.37 L226.23,385.28 L226.42,386.01 L226.61,383.05 L226.8,386.86 L226.99,387.22 L227.18,389.49 L227.37,385.92 L227.56,384.72 L227.75,387.3 L227.94,382.17 L228.13,383.88 L228.32,384.06 L228.51,388.35 L228.7,385.3 L228.88,385.14 L229.07,390.04 L229.26,385.92 L229.45,386.36 L229.64,389.42 L229.83,384.84 L230.02,381.61 L230.21,384.28 L230.4,387.6 L230.59,386.37 L230.78,383.49 L230.97,387.57 L231.16,385.08 L231.35,385.75 L231.53,385.44 L231.72,382.32 L231.91,389.05 L232.1,383.33 L232.29,385.25 L232.48,386.01 L232.67,389.38 L232.86,385.15 L233.05,386.7 L233.24,392.16 L233.43,388.78 L233.62,388.42 L233.81,388.02 L234,387.16 L234.19,387.64 L234.37,382.4 L234.56,383.47 L234.75,386 L234.94,382.75 L235.13,381.09 L235.32,384.73 L235.51,388.75 L235.7,384.97 L235.89,382.62 L236.08,388.05 L236.27,385.83 L236.46,383.7 L236.65,383.13 L236.84,383.88 L237.03,384.96 L237.21,386.12 L237.4,387.1 L237.59,383.51 L237.78,383.69 L237.97,386.92 L238.16,387.39 L238.35,382.91 L238.54,383.49 L238.73,387.58 L238.92,389.64 L239.11,385.53 L239.3,383.92 L239.49,383.56 L239.68,383.9 L239.86,389.43 L240.05,385.7 L240.24,386.72 L240.43,387.55 L240.62,379.58 L240.81,385.81 L241,385.21 L241.19,386.53 L241.38,384.18 L241.57,383.02 L241.76,386.49 L241.95,385.89 L242.14,386.89 L242.33,388.29 L242.52,386.26 L242.7,384.97 L242.89,385.78 L243.08,386.42 L243.27,390.4 L243.46,385.01 L243.65,385.42 L243.84,382.06 L244.03,387.42 L244.22,389.26 L244.41,390.62 L244.6,387.46 L244.79,386.03 L244.98,385.23 L245.17,389.81 L245.35,387.28 L245.54,383.33 L245.73,385.71 L245.92,386.72 L246.11,386.8 L246.3,389.85 L246.49,389.42 L246.68,387.2 L246.87,382.76 L247.06,382.94 L247.25,386.27 L247.44,384.27 L247.63,384.79 L247.82,382.89 L248.01,387.67 L248.19,385.18 L248.38,383.41 L248.57,389.12 L248.76,386.04 L248.95,385.2 L249.14,384.76 L249.33,384.49 L249.52,384.3 L249.71,383.22 L249.9,382.19 L250.09,384.85 L250.28,380.04 L250.47,387.09 L250.66,386.34 L250.85,384.97 L251.03,387.9 L251.22,389.76 L251.41,389.34 L251.6,382.73 L251.79,387.59 L251.98,389.43 L252.17,380.77 L252.36,384.84 L252.55,385.32 L252.74,388.46 L252.93,385.12 L253.12,387.25 L253.31,385.21 L253.5,385.96 L253.68,386.52 L253.87,385.32 L254.06,388.39 L254.25,387.08 L254.44,388.11 L254.63,384.86 L254.82,383.98 L255.01,383.72 L255.2,391.3 L255.39,381.16 L255.58,386.57 L255.77,386.31 L255.96,386.11 L256.15,386.15 L256.34,382.47 L256.52,385.63 L256.71,385.15 L256.9,383.32 L257.09,382.29 L257.28,388.88 L257.47,389.47 L257.66,391.48 L257.85,391.44 L258.04,385.15 L258.23,385.76 L258.42,386.11 L258.61,385.06 L258.8,385.16 L258.99,382.59 L259.17,381.12 L259.36,388.35 L259.55,381.7 L259.74,382.94 L259.93,388.35 L260.12,385.5 L260.31,387.28 L260.5,390.98 L260.69,385.91 L260.88,390.8 L261.07,385.91 L261.26,389.11 L261.45,387.03 L261.64,383.68 L261.83,385.72 L262.01,388.44 L262.2,385.4 L262.39,384.04 L262.58,383.21 L262.77,388.57 L262.96,382.73 L263.15,386.62 L263.34,387.76 L263.53,382.58 L263.72,384.24 L263.91,384.08 L264.1,385.73 L264.29,391.57 L264.48,384.74 L264.67,384.44 L264.85,386.5 L265.04,380.99 L265.23,385.75 L265.42,380.96 L265.61,382.51 L265.8,388.2 L265.99,388.69 L266.18,387.11 L266.37,386.29 L266.56,384.01 L266.75,388.01 L266.94,389.4 L267.13,379.5 L267.32,386.03 L267.5,385.24 L267.69,380.68 L267.88,385.77 L268.07,393.39 L268.26,384.63 L268.45,388.09 L268.64,383 L268.83,391.81 L269.02,385.54 L269.21,383.59 L269.4,381.65 L269.59,383.05 L269.78,383.16 L269.97,386.15 L270.16,386.21 L270.34,389.35 L270.53,383.07 L270.72,381.18 L270.91,384.2 L271.1,388.95 L271.29,390.68 L271.48,387.83 L271.67,381.09 L271.86,385.62 L272.05,389.31 L272.24,387.32 L272.43,383.5 L272.62,388.3 L272.81,387.72 L272.99,387.93 L273.18,389.1 L273.37,379.82 L273.56,388.81 L273.75,385.28 L273.94,382.29 L274.13,386.54 L274.32,387.52 L274.51,386.69 L274.7,386.19 L274.89,386.87 L275.08,387.65 L275.27,387.46 L275.46,385.81 L275.65,380.31 L275.83,387.56 L276.02,383.51 L276.21,386.8 L276.4,389.41 L276.59,390.04 L276.78,385.08 L276.97,390.57 L277.16,384.69 L277.35,387.32 L277.54,380.45 L277.73,389.69 L277.92,382.45 L278.11,381.44 L278.3,383.35 L278.49,387.97 L278.67,384.95 L278.86,385.67 L279.05,386.65 L279.24,383.04 L279.43,386.4 L279.62,385.3 L279.81,382.39 L280,386.48 L280.19,387.39 L280.38,385.43 L280.57,387.86 L280.76,394.17 L280.95,387.91 L281.14,386.72 L281.32,390.24 L281.51,392.69 L281.7,384.54 L281.89,388.47 L282.08,383.9 L282.27,384.52 L282.46,380.77 L282.65,384.1 L282.84,382.91 L283.03,381.29 L283.22,387.35 L283.41,382.19 L283.6,381.86 L283.79,392.54 L283.98,389.91 L284.16,385.6 L284.35,380 L284.54,387.33 L284.73,390.75 L284.92,391.84 L285.11,385.05 L285.3,385.42 L285.49,388.53 L285.68,385.14 L285.87,387.56 L286.06,382.08 L286.25,391.31 L286.44,387.97 L286.63,382.17 L286.82,388.54 L287,389.41 L287.19,387.33 L287.38,379.51 L287.57,385.27 L287.76,381.09 L287.95,389.67 L288.14,387.01 L288.33,383.73 L288.52,385.37 L288.71,388.26 L288.9,394.56 L289.09,384.33 L289.28,383.52 L289.47,384.55 L289.65,392.65 L289.84,391.65 L290.03,388.56 L290.22,390.21 L290.41,382.45 L290.6,390.5 L290.79,387.64 L290.98,390.58 L291.17,392.98 L291.36,382.65 L291.55,385.81 L291.74,389.09 L291.93,386.34 L292.12,394.7 L292.31,380.44 L292.49,390.38 L292.68,393.73 L292.87,390.49 L293.06,385.59 L293.25,386.41 L293.44,383.88 L293.63,383.77 L293.82,386.27 L294.01,382.49 L294.2,393.49 L294.39,384.63 L294.58,384.64 L294.77,385.1 L294.96,387.07 L295.14,388.52 L295.33,388.8 L295.52,393.07 L295.71,388.43 L295.9,382.27 L296.09,380.8 L296.28,388.35 L296.47,388.59 L296.66,388.47 L296.85,387.04 L297.04,386.48 L297.23,384.61 L297.42,380.84 L297.61,394.48 L297.8,390.71 L297.98,388.38 L298.17,386.73 L298.36,384.9 L298.55,379.42 L298.74,390.19 L298.93,383.9 L299.12,386.8 L299.31,386.21 L299.5,385.23 L299.69,383 L299.88,385.94 L300.07,390.86 L300.26,384.53 L300.45,384.47 L300.64,392.7 L300.82,384.66 L301.01,386.74 L301.2,387.12 L301.39,386.08 L301.58,379.38 L301.77,393.19 L301.96,385.69 L302.15,394.07 L302.34,386.37 L302.53,382.68 L302.72,393.86 L302.91,381.76 L303.1,384.47 L303.29,386.91 L303.47,387.14 L303.66,386.45 L303.85,386.12 L304.04,386.52 L304.23,381.99 L304.42,383.01 L304.61,390.02 L304.8,381.79" fill="none" stroke="#111" stroke-width="0.7"/>
<path d="M191.4,317 L191.78,323.02 L192.16,328.59 L192.54,333.58 L192.92,338.14 L193.3,342.61 L193.68,347.4 L194.05,352.44 L194.43,357.2 L194.81,361.15 L195.19,364.4 L195.57,367.38 L195.95,370.1 L196.33,372.53 L196.71,374.69 L197.09,376.56 L197.47,378.29 L197.85,379.95 L198.23,381.51 L198.61,382.92 L198.99,384.16 L199.36,385.16 L199.74,385.9 L200.12,386.38 L200.5,386.81 L200.88,387.2 L201.26,387.55 L201.64,387.85 L202.02,388.09 L202.4,388.26 L202.78,388.35 L203.16,388.37 L203.54,388.37 L203.92,388.37 L204.29,388.37 L204.67,388.37 L205.05,388.37 L205.43,388.37 L205.81,388.37 L206.19,388.37 L206.57,388.37 L206.95,388.37 L207.33,388.37 L207.71,388.37 L208.09,388.37 L208.47,388.37 L208.85,388.37 L209.23,388.35 L209.6,388.33 L209.98,388.3 L210.36,388.26 L210.74,388.22 L211.12,388.17 L211.5,388.11 L211.88,388.06 L212.26,388 L212.64,387.94 L213.02,387.87 L213.4,387.81 L213.78,387.75 L214.16,387.68 L214.54,387.62 L214.91,387.56 L215.29,387.51 L215.67,387.46 L216.05,387.41 L216.43,387.36 L216.81,387.32 L217.19,387.27 L217.57,387.22 L217.95,387.17 L218.33,387.12 L218.71,387.07 L219.09,387.01 L219.47,386.96 L219.84,386.91 L220.22,386.85 L220.6,386.8 L220.98,386.74 L221.36,386.69 L221.74,386.64 L222.12,386.58 L222.5,386.53 L222.88,386.48 L223.26,386.43 L223.64,386.38 L224.02,386.33 L224.4,386.28 L224.78,386.23 L225.15,386.19 L225.53,386.15 L225.91,386.1 L226.29,386.06 L226.67,386.03 L227.05,385.99 L227.43,385.96 L227.81,385.93 L228.19,385.9 L228.57,385.88 L228.95,385.86 L229.33,385.84 L229.71,385.82 L230.08,385.81 L230.46,385.8 L230.84,385.8 L231.22,385.8 L231.6,385.8 L231.98,385.8 L232.36,385.8 L232.74,385.8 L233.12,385.8 L233.5,385.8 L233.88,385.8 L234.26,385.8 L234.64,385.8 L235.02,385.8 L235.39,385.8 L235.77,385.8 L236.15,385.8 L236.53,385.8 L236.91,385.8 L237.29,385.8 L237.67,385.8 L238.05,385.8 L238.43,385.8 L238.81,385.8 L239.19,385.8 L239.57,385.8 L239.95,385.8 L240.33,385.8 L240.7,385.8 L241.08,385.8 L241.46,385.8 L241.84,385.8 L242.22,385.8 L242.6,385.8 L242.98,385.8 L243.36,385.8 L243.74,385.8 L244.12,385.8 L244.5,385.8 L244.88,385.8 L245.26,385.8 L245.63,385.8 L246.01,385.8 L246.39,385.8 L246.77,385.8 L247.15,385.8 L247.53,385.8 L247.91,385.8 L248.29,385.8 L248.67,385.8 L249.05,385.8 L249.43,385.8 L249.81,385.81 L250.19,385.81 L250.57,385.81 L250.94,385.82 L251.32,385.82 L251.7,385.83 L252.08,385.83 L252.46,385.84 L252.84,385.85 L253.22,385.85 L253.6,385.86 L253.98,385.87 L254.36,385.88 L254.74,385.89 L255.12,385.9 L255.5,385.91 L255.87,385.92 L256.25,385.93 L256.63,385.94 L257.01,385.95 L257.39,385.96 L257.77,385.97 L258.15,385.98 L258.53,386 L258.91,386.01 L259.29,386.02 L259.67,386.03 L260.05,386.05 L260.43,386.06 L260.81,386.07 L261.18,386.08 L261.56,386.1 L261.94,386.11 L262.32,386.12 L262.7,386.14 L263.08,386.15 L263.46,386.16 L263.84,386.17 L264.22,386.19 L264.6,386.2 L264.98,386.21 L265.36,386.22 L265.74,386.24 L266.12,386.25 L266.49,386.26 L266.87,386.27 L267.25,386.28 L267.63,386.29 L268.01,386.31 L268.39,386.32 L268.77,386.33 L269.15,386.34 L269.53,386.35 L269.91,386.36 L270.29,386.36 L270.67,386.37 L271.05,386.38 L271.42,386.39 L271.8,386.4 L272.18,386.4 L272.56,386.41 L272.94,386.42 L273.32,386.42 L273.7,386.43 L274.08,386.43 L274.46,386.43 L274.84,386.44 L275.22,386.44 L275.6,386.44 L275.98,386.44 L276.36,386.44 L276.73,386.44 L277.11,386.44 L277.49,386.44 L277.87,386.44 L278.25,386.44 L278.63,386.44 L279.01,386.44 L279.39,386.44 L279.77,386.44 L280.15,386.44 L280.53,386.44 L280.91,386.44 L281.29,386.44 L281.66,386.44 L282.04,386.44 L282.42,386.44 L282.8,386.44 L283.18,386.44 L283.56,386.44 L283.94,386.44 L284.32,386.44 L284.7,386.44 L285.08,386.44 L285.46,386.44 L285.84,386.44 L286.22,386.44 L286.6,386.44 L286.97,386.44 L287.35,386.44 L287.73,386.44 L288.11,386.44 L288.49,386.44 L288.87,386.44 L289.25,386.44 L289.63,386.44 L290.01,386.44 L290.39,386.44 L290.77,386.44 L291.15,386.44 L291.53,386.44 L291.91,386.44 L292.28,386.44 L292.66,386.44 L293.04,386.44 L293.42,386.44 L293.8,386.44 L294.18,386.44 L294.56,386.44 L294.94,386.44 L295.32,386.44 L295.7,386.44 L296.08,386.44 L296.46,386.44 L296.84,386.44 L297.21,386.44 L297.59,386.44 L297.97,386.44 L298.35,386.44 L298.73,386.44 L299.11,386.44 L299.49,386.44 L299.87,386.44 L300.25,386.44 L300.63,386.44 L301.01,386.44 L301.39,386.44 L301.77,386.44 L302.15,386.44 L302.52,386.44 L302.9,386.44 L303.28,386.44 L303.66,386.44 L304.04,386.44 L304.42,386.44 L304.8,386.44" fill="none" stroke="#ff1e1e" stroke-width="1.4"/>
<path d="M191.4,317 V403.9 H304.8" fill="none" stroke="#000" stroke-width="1.3"/>
<path d="M189,381.3 H191.4 M189,349.15 H191.4 M189,317 H191.4 M189.8,397.37 H191.4 M189.8,365.22 H191.4 M189.8,333.07 H191.4 M191.4,403.9 V406.3 M219.75,403.9 V406.3 M248.1,403.9 V406.3 M276.45,403.9 V406.3 M304.8,403.9 V406.3 M205.58,403.9 V405.5 M233.93,403.9 V405.5 M262.27,403.9 V405.5 M290.62,403.9 V405.5" fill="none" stroke="#000" stroke-width="1"/>
<text x="188.1" y="383.5" text-anchor="end" font-size="6.7" fill="#111" stroke="#111" stroke-width="0.16">0.8</text>
<text x="188.1" y="351.35" text-anchor="end" font-size="6.7" fill="#111" stroke="#111" stroke-width="0.16">0.9</text>
<text x="188.1" y="319.2" text-anchor="end" font-size="6.7" fill="#111" stroke="#111" stroke-width="0.16">1.0</text>
<text x="191.4" y="412.5" text-anchor="middle" font-size="6.7" fill="#111" stroke="#111" stroke-width="0.16">0</text>
<text x="219.75" y="412.5" text-anchor="middle" font-size="6.7" fill="#111" stroke="#111" stroke-width="0.16">1</text>
<text x="248.1" y="412.5" text-anchor="middle" font-size="6.7" fill="#111" stroke="#111" stroke-width="0.16">2</text>
<text x="276.45" y="412.5" text-anchor="middle" font-size="6.7" fill="#111" stroke="#111" stroke-width="0.16">3</text>
<text x="304.8" y="412.5" text-anchor="middle" font-size="6.7" fill="#111" stroke="#111" stroke-width="0.16">4</text>
<text x="250.3" y="419.7" text-anchor="middle" font-size="6.1" textLength="21.8" lengthAdjust="spacingAndGlyphs" fill="#111" stroke="#111" stroke-width="0.12">Time [µs]</text>
<text transform="translate(174.2,357.5) rotate(-90)" text-anchor="middle" font-size="5.7" textLength="77.3" lengthAdjust="spacingAndGlyphs" fill="#1a1a1a" stroke="#1a1a1a" stroke-width="0.1">Normalized Echo Intensity [a.u.]</text>
<path d="M348.9,318.43 L349.09,320.91 L349.29,324.26 L349.48,328.27 L349.67,332.57 L349.87,338.1 L350.06,344.45 L350.25,351.99 L350.45,359.4 L350.64,365.28 L350.83,370.3 L351.03,375.52 L351.22,379.72 L351.41,382.78 L351.61,385.06 L351.8,386.77 L351.99,388.22 L352.19,389.43 L352.38,390.58 L352.57,390.49 L352.77,391.57 L352.96,391.49 L353.15,391.63 L353.35,391.47 L353.54,391.24 L353.73,391.1 L353.93,390.47 L354.12,390.65 L354.31,389.81 L354.51,390.12 L354.7,389.19 L354.89,389.42 L355.09,389.02 L355.28,388.56 L355.47,389.3 L355.67,388.67 L355.86,388.29 L356.05,388.05 L356.25,387.79 L356.44,387.84 L356.63,387.73 L356.83,387.72 L357.02,387.56 L357.21,387.51 L357.41,387.18 L357.6,387.31 L357.79,387.1 L357.99,386.77 L358.18,386.82 L358.37,387.15 L358.57,387.02 L358.76,386.73 L358.95,387.04 L359.15,387.32 L359.34,387.06 L359.53,386.6 L359.73,386.79 L359.92,386.82 L360.11,386.52 L360.31,387.04 L360.5,386.14 L360.69,386.8 L360.89,386.94 L361.08,386.31 L361.27,387.25 L361.47,387.14 L361.66,387.08 L361.85,387.39 L362.05,387.27 L362.24,387.07 L362.43,387.25 L362.63,387.38 L362.82,387.13 L363.01,386.92 L363.21,387.07 L363.4,388.2 L363.59,387.22 L363.79,387.44 L363.98,387.6 L364.17,388.07 L364.37,387.96 L364.56,387.94 L364.75,388.35 L364.95,387.6 L365.14,387.76 L365.33,388.09 L365.53,388.43 L365.72,387.77 L365.91,388.04 L366.11,387.96 L366.3,388.48 L366.49,387.64 L366.69,388.49 L366.88,387.87 L367.07,389.18 L367.27,388.49 L367.46,388.61 L367.65,389.5 L367.85,388.94 L368.04,389.17 L368.23,389.27 L368.43,389.1 L368.62,389.27 L368.81,388.82 L369.01,388.8 L369.2,388.9 L369.39,389.29 L369.59,389.2 L369.78,388.5 L369.97,389.21 L370.17,389.12 L370.36,389.33 L370.55,388.97 L370.75,388.87 L370.94,388.92 L371.13,389.07 L371.33,388.99 L371.52,389.32 L371.71,389.05 L371.91,389.63 L372.1,389.26 L372.29,389.01 L372.49,389.69 L372.68,389.07 L372.87,389.25 L373.07,389.81 L373.26,389.99 L373.45,389.99 L373.65,389.79 L373.84,389.31 L374.03,389.35 L374.23,389.01 L374.42,388.65 L374.61,389.65 L374.81,390.24 L375,390.05 L375.19,390.26 L375.39,389.78 L375.58,389.74 L375.77,389.08 L375.97,390.13 L376.16,389.67 L376.35,389.69 L376.55,389.66 L376.74,389.84 L376.93,388.84 L377.13,389.72 L377.32,389.65 L377.51,389.41 L377.71,389.61 L377.9,389.03 L378.09,390.18 L378.28,389.81 L378.48,389.95 L378.67,389.8 L378.86,389.43 L379.06,390.03 L379.25,390.58 L379.44,389.8 L379.64,390.25 L379.83,389.61 L380.02,389.78 L380.22,389.06 L380.41,389.69 L380.6,390.25 L380.8,389.79 L380.99,389.52 L381.18,389.93 L381.38,389.99 L381.57,390.11 L381.76,390.18 L381.96,390.4 L382.15,389.55 L382.34,389.9 L382.54,390.66 L382.73,389.65 L382.92,390.1 L383.12,390.03 L383.31,390.07 L383.5,389.66 L383.7,391.1 L383.89,390.19 L384.08,389.96 L384.28,390.27 L384.47,390.92 L384.66,390.78 L384.86,390.16 L385.05,389.66 L385.24,391.11 L385.44,390.55 L385.63,390.17 L385.82,390.22 L386.02,390.1 L386.21,389.84 L386.4,390.02 L386.6,391.01 L386.79,390.51 L386.98,390.87 L387.18,390.41 L387.37,389.76 L387.56,389.98 L387.76,389.42 L387.95,389.84 L388.14,389.98 L388.34,390.01 L388.53,390.78 L388.72,390.55 L388.92,390.23 L389.11,390.17 L389.3,390.25 L389.5,390.95 L389.69,391.02 L389.88,391.06 L390.08,389.72 L390.27,390.62 L390.46,390.19 L390.66,390.61 L390.85,390.67 L391.04,390.71 L391.24,390.79 L391.43,390.59 L391.62,390.26 L391.82,391.24 L392.01,390.63 L392.2,390.8 L392.4,390.87 L392.59,390.37 L392.78,389.94 L392.98,391.33 L393.17,390.63 L393.36,390.2 L393.56,390.32 L393.75,391.5 L393.94,390.5 L394.14,390.94 L394.33,390.97 L394.52,390.4 L394.72,391.27 L394.91,390.67 L395.1,390.38 L395.3,391.11 L395.49,391.29 L395.68,389.77 L395.88,391.31 L396.07,390.19 L396.26,391.17 L396.46,390.75 L396.65,391.1 L396.84,390.79 L397.04,390.79 L397.23,391.42 L397.42,390.96 L397.62,390.43 L397.81,391.29 L398,392.02 L398.2,390.78 L398.39,391.35 L398.58,390.75 L398.78,391.14 L398.97,391.35 L399.16,391.09 L399.36,390.79 L399.55,390.81 L399.74,391.65 L399.94,391.69 L400.13,391.64 L400.32,390.42 L400.52,390.93 L400.71,391.5 L400.9,391.17 L401.1,390.35 L401.29,391.64 L401.48,391.27 L401.68,390.67 L401.87,390.69 L402.06,390.73 L402.26,391.56 L402.45,391.09 L402.64,392.36 L402.84,391.3 L403.03,391.43 L403.22,391.42 L403.42,390.49 L403.61,391.23 L403.8,391.24 L404,390.76 L404.19,390.18 L404.38,391.59 L404.58,390.76 L404.77,391.32 L404.96,392 L405.16,391.47 L405.35,390.99 L405.54,391.31 L405.74,391.42 L405.93,391.19 L406.12,391.34 L406.32,391.35 L406.51,391.76 L406.7,390.88 L406.9,392.47 L407.09,391.1 L407.28,391.64 L407.48,390.79 L407.67,391.86 L407.86,392.54 L408.06,390.95 L408.25,390.66 L408.44,392.27 L408.64,391.01 L408.83,391.09 L409.02,391.8 L409.22,390.9 L409.41,391.74 L409.6,390.69 L409.8,390.58 L409.99,391.5 L410.18,391.46 L410.38,391.23 L410.57,392.37 L410.76,391.66 L410.96,391.29 L411.15,390 L411.34,390.6 L411.54,391.15 L411.73,391.81 L411.92,391.09 L412.12,391.26 L412.31,392.1 L412.5,391.47 L412.7,392.12 L412.89,391.62 L413.08,393.26 L413.28,390.5 L413.47,391.65 L413.66,391.99 L413.86,391.74 L414.05,392.35 L414.24,391.47 L414.44,390.57 L414.63,391.2 L414.82,391.6 L415.02,391.47 L415.21,391.33 L415.4,391.63 L415.6,391.75 L415.79,391.39 L415.98,391.24 L416.18,391.74 L416.37,391.24 L416.56,392.15 L416.76,392.52 L416.95,392.59 L417.14,391.22 L417.34,391.91 L417.53,391.48 L417.72,391.93 L417.92,391.68 L418.11,391.35 L418.3,392.34 L418.5,391.87 L418.69,390.56 L418.88,390.26 L419.08,391.37 L419.27,391.35 L419.46,391.85 L419.66,392.15 L419.85,390.99 L420.04,390.72 L420.24,391.19 L420.43,391.14 L420.62,391.94 L420.82,390.75 L421.01,391.31 L421.2,391.88 L421.4,390.81 L421.59,392.02 L421.78,392.12 L421.98,391.42 L422.17,392.16 L422.36,392.18 L422.56,391.11 L422.75,391.4 L422.94,391.81 L423.14,391.1 L423.33,391.42 L423.52,391 L423.72,390.98 L423.91,390.99 L424.1,392.23 L424.3,390.95 L424.49,391.51 L424.68,391.23 L424.88,391.5 L425.07,391.03 L425.26,391.64 L425.46,391.87 L425.65,391.17 L425.84,391.79 L426.04,392.33 L426.23,391.7 L426.42,391.78 L426.62,391.82 L426.81,391.7 L427,392.05 L427.2,392.08 L427.39,389.66 L427.58,392.21 L427.78,391.39 L427.97,391.5 L428.16,392.05 L428.36,391.99 L428.55,392.35 L428.74,392.47 L428.94,390.51 L429.13,392.37 L429.32,392.25 L429.52,390.99 L429.71,392.58 L429.9,390.71 L430.1,391.69 L430.29,390.7 L430.48,392.26 L430.68,392.12 L430.87,391.12 L431.06,391.91 L431.26,392.17 L431.45,391.03 L431.64,391.72 L431.84,392.28 L432.03,391.69 L432.22,391.35 L432.42,391.87 L432.61,390.1 L432.8,391.3 L433,391.75 L433.19,391.58 L433.38,391.03 L433.58,392.07 L433.77,391.92 L433.96,391.7 L434.16,391.92 L434.35,391.97 L434.54,393.75 L434.74,392.21 L434.93,391.8 L435.12,391.02 L435.32,392.38 L435.51,391.71 L435.7,391.94 L435.89,391.66 L436.09,390.4 L436.28,390.63 L436.47,390.49 L436.67,392.45 L436.86,392.32 L437.05,391.24 L437.25,392.5 L437.44,391.05 L437.63,389.24 L437.83,392.53 L438.02,390.98 L438.21,391.59 L438.41,391.32 L438.6,391.84 L438.79,392.96 L438.99,392.06 L439.18,392.34 L439.37,392.67 L439.57,391.78 L439.76,391.5 L439.95,392.4 L440.15,391.23 L440.34,391.6 L440.53,391.3 L440.73,391.35 L440.92,392.09 L441.11,389.86 L441.31,391.21 L441.5,390.92 L441.69,391.87 L441.89,391.62 L442.08,391 L442.27,392.25 L442.47,391.41 L442.66,390.46 L442.85,391.85 L443.05,391.49 L443.24,392.51 L443.43,391.5 L443.63,391.34 L443.82,391.62 L444.01,391.21 L444.21,391.87 L444.4,391.77 L444.59,390.76 L444.79,390.92 L444.98,391.38 L445.17,390.24 L445.37,391.63 L445.56,391.66 L445.75,391.06 L445.95,389.81 L446.14,391.84 L446.33,391.8 L446.53,391.77 L446.72,392.03 L446.91,392.51 L447.11,391.09 L447.3,390.83 L447.49,391.15 L447.69,391.31 L447.88,391.94 L448.07,391.1 L448.27,391.39 L448.46,392.12 L448.65,391.44 L448.85,392.4 L449.04,391.85 L449.23,392.22 L449.43,391.01 L449.62,392.15 L449.81,391.27 L450.01,392.71 L450.2,391.45 L450.39,391.08 L450.59,391.67 L450.78,392.25 L450.97,392.15 L451.17,391.46 L451.36,391.64 L451.55,391.98 L451.75,392.76 L451.94,392.79 L452.13,391.99 L452.33,392.31 L452.52,391.48 L452.71,391.1 L452.91,391.6 L453.1,392.14 L453.29,391.92 L453.49,391.2 L453.68,392.99 L453.87,391.03 L454.07,391.08 L454.26,392.13 L454.45,391.62 L454.65,391.63 L454.84,390.7 L455.03,391.15 L455.23,392.24 L455.42,394.24 L455.61,389.98 L455.81,390.97 L456,392.07 L456.19,393 L456.39,392.11 L456.58,392.61 L456.77,390.53 L456.97,391.02 L457.16,393.14 L457.35,391.17 L457.55,392.09 L457.74,391.37 L457.93,392.27 L458.13,393.32 L458.32,393.02 L458.51,391.69 L458.71,390.97 L458.9,390.48 L459.09,390.51 L459.29,391.73 L459.48,391.46 L459.67,391.19 L459.87,391.75 L460.06,390.65 L460.25,392.07 L460.45,391.37 L460.64,391.56 L460.83,391.37 L461.03,390.36 L461.22,391.35 L461.41,390.98 L461.61,391.36 L461.8,391.44 L461.99,390.38 L462.19,391.99 L462.38,391.66 L462.57,390.89 L462.77,391.15 L462.96,391.53 L463.15,391.78 L463.35,392.74 L463.54,391.43 L463.73,392.06 L463.93,390.67 L464.12,391.22 L464.31,393.59 L464.51,391.37 L464.7,390.95" fill="none" stroke="#111" stroke-width="0.7"/>
<path d="M348.9,318.3 L349.29,324.5 L349.67,333 L350.06,344.64 L350.45,359.18 L350.84,370.42 L351.22,379.75 L351.61,385.23 L352,388.34 L352.39,390.16 L352.77,391.23 L353.16,391.61 L353.55,391.29 L353.93,390.67 L354.32,389.99 L354.71,389.47 L355.1,389.1 L355.48,388.75 L355.87,388.42 L356.26,388.12 L356.65,387.86 L357.03,387.62 L357.42,387.43 L357.81,387.27 L358.19,387.12 L358.58,386.98 L358.97,386.86 L359.36,386.78 L359.74,386.73 L360.13,386.73 L360.52,386.77 L360.91,386.85 L361.29,386.95 L361.68,387.06 L362.07,387.18 L362.46,387.31 L362.84,387.43 L363.23,387.54 L363.62,387.63 L364,387.73 L364.39,387.83 L364.78,387.94 L365.17,388.04 L365.55,388.15 L365.94,388.25 L366.33,388.35 L366.72,388.45 L367.1,388.55 L367.49,388.65 L367.88,388.73 L368.26,388.82 L368.65,388.89 L369.04,388.96 L369.43,389.02 L369.81,389.07 L370.2,389.12 L370.59,389.16 L370.98,389.2 L371.36,389.23 L371.75,389.27 L372.14,389.3 L372.52,389.33 L372.91,389.36 L373.3,389.39 L373.69,389.42 L374.07,389.44 L374.46,389.47 L374.85,389.5 L375.24,389.52 L375.62,389.55 L376.01,389.57 L376.4,389.6 L376.78,389.62 L377.17,389.65 L377.56,389.68 L377.95,389.71 L378.33,389.74 L378.72,389.77 L379.11,389.8 L379.5,389.83 L379.88,389.86 L380.27,389.89 L380.66,389.92 L381.05,389.95 L381.43,389.99 L381.82,390.02 L382.21,390.05 L382.59,390.08 L382.98,390.11 L383.37,390.14 L383.76,390.17 L384.14,390.2 L384.53,390.23 L384.92,390.26 L385.31,390.29 L385.69,390.32 L386.08,390.35 L386.47,390.37 L386.85,390.4 L387.24,390.42 L387.63,390.45 L388.02,390.47 L388.4,390.49 L388.79,390.52 L389.18,390.54 L389.57,390.56 L389.95,390.58 L390.34,390.59 L390.73,390.61 L391.11,390.63 L391.5,390.65 L391.89,390.67 L392.28,390.69 L392.66,390.7 L393.05,390.72 L393.44,390.74 L393.83,390.76 L394.21,390.77 L394.6,390.79 L394.99,390.81 L395.37,390.82 L395.76,390.84 L396.15,390.85 L396.54,390.87 L396.92,390.88 L397.31,390.9 L397.7,390.91 L398.09,390.93 L398.47,390.94 L398.86,390.96 L399.25,390.97 L399.64,390.98 L400.02,391 L400.41,391.01 L400.8,391.02 L401.18,391.04 L401.57,391.05 L401.96,391.06 L402.35,391.07 L402.73,391.08 L403.12,391.09 L403.51,391.11 L403.9,391.12 L404.28,391.13 L404.67,391.14 L405.06,391.15 L405.44,391.16 L405.83,391.17 L406.22,391.17 L406.61,391.18 L406.99,391.19 L407.38,391.2 L407.77,391.21 L408.16,391.22 L408.54,391.23 L408.93,391.23 L409.32,391.24 L409.7,391.25 L410.09,391.26 L410.48,391.27 L410.87,391.28 L411.25,391.28 L411.64,391.29 L412.03,391.3 L412.42,391.31 L412.8,391.32 L413.19,391.32 L413.58,391.33 L413.96,391.34 L414.35,391.35 L414.74,391.36 L415.13,391.36 L415.51,391.37 L415.9,391.38 L416.29,391.39 L416.68,391.4 L417.06,391.4 L417.45,391.41 L417.84,391.42 L418.23,391.42 L418.61,391.43 L419,391.44 L419.39,391.45 L419.77,391.45 L420.16,391.46 L420.55,391.47 L420.94,391.47 L421.32,391.48 L421.71,391.49 L422.1,391.49 L422.49,391.5 L422.87,391.5 L423.26,391.51 L423.65,391.52 L424.03,391.52 L424.42,391.53 L424.81,391.53 L425.2,391.54 L425.58,391.54 L425.97,391.55 L426.36,391.55 L426.75,391.56 L427.13,391.56 L427.52,391.57 L427.91,391.57 L428.29,391.57 L428.68,391.58 L429.07,391.58 L429.46,391.58 L429.84,391.59 L430.23,391.59 L430.62,391.59 L431.01,391.6 L431.39,391.6 L431.78,391.6 L432.17,391.6 L432.55,391.6 L432.94,391.61 L433.33,391.61 L433.72,391.61 L434.1,391.61 L434.49,391.61 L434.88,391.61 L435.27,391.61 L435.65,391.61 L436.04,391.61 L436.43,391.61 L436.82,391.61 L437.2,391.61 L437.59,391.61 L437.98,391.61 L438.36,391.61 L438.75,391.61 L439.14,391.61 L439.53,391.61 L439.91,391.61 L440.3,391.61 L440.69,391.61 L441.08,391.61 L441.46,391.61 L441.85,391.61 L442.24,391.61 L442.62,391.61 L443.01,391.61 L443.4,391.61 L443.79,391.61 L444.17,391.61 L444.56,391.61 L444.95,391.61 L445.34,391.61 L445.72,391.61 L446.11,391.61 L446.5,391.61 L446.88,391.61 L447.27,391.61 L447.66,391.61 L448.05,391.61 L448.43,391.61 L448.82,391.61 L449.21,391.61 L449.6,391.61 L449.98,391.61 L450.37,391.61 L450.76,391.61 L451.14,391.61 L451.53,391.61 L451.92,391.61 L452.31,391.61 L452.69,391.61 L453.08,391.61 L453.47,391.61 L453.86,391.61 L454.24,391.61 L454.63,391.61 L455.02,391.61 L455.41,391.61 L455.79,391.61 L456.18,391.61 L456.57,391.61 L456.95,391.61 L457.34,391.61 L457.73,391.61 L458.12,391.61 L458.5,391.61 L458.89,391.61 L459.28,391.61 L459.67,391.61 L460.05,391.61 L460.44,391.61 L460.83,391.61 L461.21,391.61 L461.6,391.61 L461.99,391.61 L462.38,391.61 L462.76,391.61 L463.15,391.61 L463.54,391.61 L463.93,391.61 L464.31,391.61 L464.7,391.61" fill="none" stroke="#ff1e1e" stroke-width="1.4"/>
<path d="M348.9,318.3 V403.3 H464.7" fill="none" stroke="#000" stroke-width="1.3"/>
<path d="M346.5,403.3 H348.9 M346.5,382.05 H348.9 M346.5,360.8 H348.9 M346.5,339.55 H348.9 M346.5,318.3 H348.9 M347.3,392.68 H348.9 M347.3,371.43 H348.9 M347.3,350.18 H348.9 M347.3,328.93 H348.9 M348.9,403.3 V405.7 M377.85,403.3 V405.7 M406.8,403.3 V405.7 M435.75,403.3 V405.7 M464.7,403.3 V405.7 M363.38,403.3 V404.9 M392.32,403.3 V404.9 M421.27,403.3 V404.9 M450.22,403.3 V404.9" fill="none" stroke="#000" stroke-width="1"/>
<text x="345.6" y="405.5" text-anchor="end" font-size="6.7" fill="#111" stroke="#111" stroke-width="0.16">0.6</text>
<text x="345.6" y="384.25" text-anchor="end" font-size="6.7" fill="#111" stroke="#111" stroke-width="0.16">0.7</text>
<text x="345.6" y="363" text-anchor="end" font-size="6.7" fill="#111" stroke="#111" stroke-width="0.16">0.8</text>
<text x="345.6" y="341.75" text-anchor="end" font-size="6.7" fill="#111" stroke="#111" stroke-width="0.16">0.9</text>
<text x="345.6" y="320.5" text-anchor="end" font-size="6.7" fill="#111" stroke="#111" stroke-width="0.16">1.0</text>
<text x="348.9" y="411.9" text-anchor="middle" font-size="6.7" fill="#111" stroke="#111" stroke-width="0.16">0</text>
<text x="377.85" y="411.9" text-anchor="middle" font-size="6.7" fill="#111" stroke="#111" stroke-width="0.16">1</text>
<text x="406.8" y="411.9" text-anchor="middle" font-size="6.7" fill="#111" stroke="#111" stroke-width="0.16">2</text>
<text x="435.75" y="411.9" text-anchor="middle" font-size="6.7" fill="#111" stroke="#111" stroke-width="0.16">3</text>
<text x="464.7" y="411.9" text-anchor="middle" font-size="6.7" fill="#111" stroke="#111" stroke-width="0.16">4</text>
<text x="409" y="419.1" text-anchor="middle" font-size="6.1" textLength="21.8" lengthAdjust="spacingAndGlyphs" fill="#111" stroke="#111" stroke-width="0.12">Time [µs]</text>
<text transform="translate(331.7,358.4) rotate(-90)" text-anchor="middle" font-size="5.7" textLength="76.9" lengthAdjust="spacingAndGlyphs" fill="#1a1a1a" stroke="#1a1a1a" stroke-width="0.1">Normalized Echo Intensity [a.u.]</text>
<path d="M35.06,251.3 L35.38,251.36 L35.7,251.43 L36.03,251.49 L36.35,251.55 L36.67,251.61 L36.99,251.67 L37.32,251.74 L37.64,251.79 L37.96,251.85 L38.28,251.91 L38.61,251.97 L38.93,252.03 L39.25,252.08 L39.57,252.14 L39.9,252.19 L40.22,252.24 L40.54,252.3 L40.87,252.35 L41.19,252.4 L41.51,252.45 L41.83,252.49 L42.16,252.54 L42.48,252.59 L42.8,252.63 L43.12,252.67 L43.45,252.72 L43.77,252.76 L44.09,252.8 L44.41,252.84 L44.74,252.87 L45.06,252.91 L45.38,252.94 L45.71,252.98 L46.03,253.01 L46.35,253.04 L46.67,253.07 L47,253.09 L47.32,253.12 L47.64,253.14 L47.96,253.17 L48.29,253.19 L48.61,253.21 L48.93,253.22 L49.25,253.24 L49.58,253.25 L49.9,253.27 L50.22,253.28 L50.55,253.28 L50.87,253.29 L51.19,253.3 L51.51,253.3 L51.84,253.3 L52.16,253.3 L52.48,253.3 L52.8,253.3 L53.13,253.3 L53.45,253.29 L53.77,253.29 L54.09,253.29 L54.42,253.28 L54.74,253.28 L55.06,253.27 L55.39,253.27 L55.71,253.26 L56.03,253.25 L56.35,253.24 L56.68,253.24 L57,253.23 L57.32,253.22 L57.64,253.21 L57.97,253.2 L58.29,253.18 L58.61,253.17 L58.93,253.16 L59.26,253.15 L59.58,253.13 L59.9,253.12 L60.23,253.1 L60.55,253.09 L60.87,253.07 L61.19,253.05 L61.52,253.04 L61.84,253.02 L62.16,253 L62.48,252.98 L62.81,252.96 L63.13,252.94 L63.45,252.92 L63.77,252.89 L64.1,252.87 L64.42,252.85 L64.74,252.82 L65.07,252.8 L65.39,252.77 L65.71,252.75 L66.03,252.72 L66.36,252.69 L66.68,252.66 L67,252.64 L67.32,252.61 L67.65,252.58 L67.97,252.54 L68.29,252.51 L68.61,252.48 L68.94,252.45 L69.26,252.41 L69.58,252.38 L69.91,252.34 L70.23,252.31 L70.55,252.27 L70.87,252.23 L71.2,252.2 L71.52,252.16 L71.84,252.12 L72.16,252.08 L72.49,252.04 L72.81,251.99 L73.13,251.95 L73.45,251.91 L73.78,251.86 L74.1,251.82 L74.42,251.77 L74.75,251.69 L75.07,251.57 L75.39,251.43 L75.71,251.25 L76.04,251.05 L76.36,250.82 L76.68,250.56 L77,250.28 L77.33,249.98 L77.65,249.66 L77.97,249.32 L78.29,248.97 L78.62,248.6 L78.94,248.21 L79.26,247.82 L79.58,247.41 L79.91,247 L80.23,246.57 L80.55,246.15 L80.88,245.72 L81.2,245.28 L81.52,244.85 L81.84,244.41 L82.17,243.98 L82.49,243.56 L82.81,243.13 L83.13,242.72 L83.46,242.32 L83.78,241.92 L84.1,241.54 L84.42,241.17 L84.75,240.82 L85.07,240.47 L85.39,240.13 L85.72,239.78 L86.04,239.43 L86.36,239.08 L86.68,238.72 L87.01,238.37 L87.33,238.02 L87.65,237.66 L87.97,237.31 L88.3,236.95 L88.62,236.59 L88.94,236.24 L89.26,235.88 L89.59,235.53 L89.91,235.18 L90.23,234.82 L90.56,234.47 L90.88,234.12 L91.2,233.77 L91.52,233.42 L91.85,233.07 L92.17,232.73 L92.49,232.39 L92.81,232.04 L93.14,231.71 L93.46,231.34 L93.78,230.94 L94.1,230.53 L94.43,230.09 L94.75,229.66 L95.07,229.22 L95.4,228.8 L95.72,228.4 L96.04,228.02 L96.36,227.68 L96.69,227.39 L97.01,227.14 L97.33,226.96 L97.65,226.84 L97.98,226.8 L98.3,226.84 L98.62,226.97 L98.94,227.16 L99.27,227.41 L99.59,227.7 L99.91,228.02 L100.24,228.36 L100.56,228.72 L100.88,229.06 L101.2,229.4 L101.53,229.82 L101.85,230.33 L102.17,230.91 L102.49,231.53 L102.82,232.16 L103.14,232.78 L103.46,233.36 L103.78,233.87 L104.11,234.3 L104.43,234.61 L104.75,234.78 L105.08,234.78 L105.4,234.65 L105.72,234.4 L106.04,234.04 L106.37,233.6 L106.69,233.08 L107.01,232.5 L107.33,231.89 L107.66,231.1 L107.98,229.96 L108.3,228.53 L108.62,226.88 L108.95,225.08 L109.27,223.19 L109.59,221.01 L109.92,218.5 L110.24,215.69 L110.56,212.59 L110.88,209.18 L111.21,205.14 L111.53,200.59 L111.85,195.73 L112.17,190.77 L112.5,185.6 L112.82,179.55 L113.14,173.54 L113.46,168.65 L113.79,165.71 L114.11,163.41 L114.43,161.54 L114.76,160.27 L115.08,159.71 L115.4,159.41 L115.72,159.17 L116.05,158.98 L116.37,158.86 L116.69,158.8 L117.01,159.15 L117.34,160.6 L117.66,162.85 L117.98,165.55 L118.3,168.77 L118.63,173.83 L118.95,179.89 L119.27,185.79 L119.6,190.51 L119.92,194.5 L120.24,198.21 L120.56,201.87 L120.89,205.72 L121.21,209.9 L121.53,214.1 L121.85,217.97 L122.18,221.32 L122.5,224.44 L122.82,227.35 L123.14,230.06 L123.47,232.57 L123.79,234.95 L124.11,237.28 L124.44,239.51 L124.76,241.61 L125.08,243.54 L125.4,245.27 L125.73,246.75 L126.05,248.1 L126.37,249.42 L126.69,250.67 L127.02,251.78 L127.34,252.71 L127.66,253.4 L127.98,253.81 L128.31,254.05 L128.63,254.26 L128.95,254.45 L129.28,254.6 L129.6,254.71 L129.92,254.78 L130.24,254.8 L130.57,254.8 L130.89,254.8 L131.21,254.8 L131.53,254.8 L131.86,254.8 L132.18,254.8 L132.5,254.8 L132.82,254.8 L133.15,254.8 L133.47,254.8 L133.79,254.8 L134.12,254.8 L134.44,254.8 L134.76,254.8 L135.08,254.8 L135.41,254.8 L135.73,254.8 L136.05,254.8 L136.37,254.8 L136.7,254.8 L137.02,254.8 L137.34,254.8 L137.66,254.8 L137.99,254.8 L138.31,254.8 L138.63,254.8 L138.95,254.8 L139.28,254.8 L139.6,254.8 L139.92,254.8 L140.25,254.8 L140.57,254.8 L140.89,254.8 L141.21,254.8 L141.54,254.8 L141.86,254.8 L142.18,254.8 L142.5,254.8 L142.83,254.8 L143.15,254.8 L143.47,254.8 L143.79,254.8 L144.12,254.8 L144.44,254.8 L144.76,254.8 L145.09,254.8 L145.41,254.8 L145.73,254.8 L146.05,254.8 L146.38,254.8 L146.7,254.8 L147.02,254.8 L147.34,254.8 L147.67,254.8 L147.99,254.8 L148.31,254.8 L148.63,254.8 L148.96,254.8 L149.28,254.8 L149.6,254.8 L149.93,254.8 L150.25,254.8 L150.57,254.8 L150.89,254.8 L151.22,254.8 L151.54,254.8 L151.86,254.71 L152.18,254.5 L152.51,254.19 L152.83,253.8 L153.15,253.35 L153.47,252.86 L153.8,252.35 L154.12,251.84 L154.44,251.35 L154.77,250.9 L155.09,250.49 L155.41,250.08 L155.73,249.66 L156.06,249.24 L156.38,248.81 L156.7,248.38 L157.02,247.95 L157.35,247.51 L157.67,247.07 L157.99,246.63 L158.31,246.19 L158.64,245.75 L158.96,245.3 L159.28,244.85 L159.61,244.41 L159.93,243.96 L160.25,243.51 L160.57,243.05 L160.9,242.6 L161.22,242.14 L161.54,241.68 L161.86,241.22 L162.19,240.75 L162.51,240.29 L162.83,239.82 L163.15,239.35 L163.48,238.87 L163.8,238.4 L163.8,254.8 L163.48,254.8 L163.15,254.8 L162.83,254.8 L162.51,254.8 L162.19,254.8 L161.86,254.8 L161.54,254.8 L161.22,254.8 L160.9,254.8 L160.57,254.8 L160.25,254.8 L159.93,254.8 L159.61,254.8 L159.28,254.8 L158.96,254.8 L158.64,254.8 L158.31,254.8 L157.99,254.8 L157.67,254.8 L157.35,254.8 L157.02,254.8 L156.7,254.8 L156.38,254.8 L156.06,254.8 L155.73,254.8 L155.41,254.8 L155.09,254.8 L154.77,254.8 L154.44,254.8 L154.12,254.8 L153.8,254.8 L153.47,254.8 L153.15,254.8 L152.83,254.8 L152.51,254.8 L152.18,254.8 L151.86,254.8 L151.54,254.8 L151.22,254.8 L150.89,254.8 L150.57,254.8 L150.25,254.8 L149.93,254.8 L149.6,254.8 L149.28,254.8 L148.96,254.8 L148.63,254.8 L148.31,254.8 L147.99,254.8 L147.67,254.8 L147.34,254.8 L147.02,254.8 L146.7,254.8 L146.38,254.8 L146.05,254.8 L145.73,254.8 L145.41,254.8 L145.09,254.8 L144.76,254.8 L144.44,254.8 L144.12,254.8 L143.79,254.8 L143.47,254.8 L143.15,254.8 L142.83,254.8 L142.5,254.8 L142.18,254.8 L141.86,254.8 L141.54,254.8 L141.21,254.8 L140.89,254.8 L140.57,254.8 L140.25,254.8 L139.92,254.8 L139.6,254.8 L139.28,254.8 L138.95,254.8 L138.63,254.8 L138.31,254.8 L137.99,254.8 L137.66,254.8 L137.34,254.8 L137.02,254.8 L136.7,254.8 L136.37,254.8 L136.05,254.8 L135.73,254.8 L135.41,254.8 L135.08,254.8 L134.76,254.8 L134.44,254.8 L134.12,254.8 L133.79,254.8 L133.47,254.8 L133.15,254.8 L132.82,254.8 L132.5,254.8 L132.18,254.8 L131.86,254.8 L131.53,254.8 L131.21,254.8 L130.89,254.8 L130.57,254.8 L130.24,254.8 L129.92,254.8 L129.6,254.8 L129.28,254.8 L128.95,254.8 L128.63,254.8 L128.31,254.8 L127.98,254.8 L127.66,254.8 L127.34,254.8 L127.02,254.8 L126.69,254.8 L126.37,254.79 L126.05,254.22 L125.73,252.91 L125.4,251.15 L125.08,249.2 L124.76,247.31 L124.44,245.17 L124.11,242.72 L123.79,240.13 L123.47,237.56 L123.14,235 L122.82,232.39 L122.5,229.71 L122.18,226.96 L121.85,224.11 L121.53,221 L121.21,217.73 L120.89,214.49 L120.56,211.47 L120.24,208.84 L119.92,206.4 L119.6,204.11 L119.27,201.96 L118.95,199.95 L118.63,198.1 L118.3,196.29 L117.98,194.36 L117.66,192.43 L117.34,190.61 L117.01,189.02 L116.69,187.78 L116.37,187.01 L116.05,186.81 L115.72,187.11 L115.4,187.8 L115.08,188.83 L114.76,190.13 L114.43,191.66 L114.11,193.35 L113.79,195.15 L113.46,197 L113.14,198.86 L112.82,200.72 L112.5,202.9 L112.17,205.4 L111.85,208.11 L111.53,210.93 L111.21,213.79 L110.88,216.57 L110.56,219.26 L110.24,222.07 L109.92,224.91 L109.59,227.63 L109.27,230.1 L108.95,232.27 L108.62,234.36 L108.3,236.32 L107.98,238.11 L107.66,239.67 L107.33,240.96 L107.01,242.14 L106.69,243.31 L106.37,244.42 L106.04,245.41 L105.72,246.23 L105.4,246.83 L105.08,247.16 L104.75,247.16 L104.43,246.88 L104.11,246.35 L103.78,245.63 L103.46,244.76 L103.14,243.77 L102.82,242.72 L102.49,241.64 L102.17,240.59 L101.85,239.59 L101.53,238.71 L101.2,237.98 L100.88,237.38 L100.56,236.76 L100.24,236.13 L99.91,235.51 L99.59,234.93 L99.27,234.4 L98.94,233.95 L98.62,233.61 L98.3,233.38 L97.98,233.3 L97.65,233.33 L97.33,233.42 L97.01,233.57 L96.69,233.76 L96.36,233.99 L96.04,234.26 L95.72,234.56 L95.4,234.88 L95.07,235.21 L94.75,235.56 L94.43,235.91 L94.1,236.26 L93.78,236.59 L93.46,236.92 L93.14,237.22 L92.81,237.51 L92.49,237.8 L92.17,238.09 L91.85,238.39 L91.52,238.69 L91.2,239 L90.88,239.31 L90.56,239.63 L90.23,239.94 L89.91,240.26 L89.59,240.58 L89.26,240.91 L88.94,241.23 L88.62,241.55 L88.3,241.88 L87.97,242.2 L87.65,242.52 L87.33,242.84 L87.01,243.16 L86.68,243.48 L86.36,243.79 L86.04,244.11 L85.72,244.41 L85.39,244.72 L85.07,245.02 L84.75,245.31 L84.42,245.62 L84.1,245.93 L83.78,246.26 L83.46,246.59 L83.13,246.94 L82.81,247.29 L82.49,247.65 L82.17,248.01 L81.84,248.38 L81.52,248.75 L81.2,249.12 L80.88,249.48 L80.55,249.85 L80.23,250.21 L79.91,250.56 L79.58,250.91 L79.26,251.25 L78.94,251.57 L78.62,251.89 L78.29,252.19 L77.97,252.48 L77.65,252.76 L77.33,253.01 L77,253.25 L76.68,253.47 L76.36,253.66 L76.04,253.83 L75.71,253.98 L75.39,254.1 L75.07,254.2 L74.75,254.26 L74.42,254.29 L74.1,254.3 L73.78,254.3 L73.45,254.3 L73.13,254.3 L72.81,254.3 L72.49,254.3 L72.16,254.3 L71.84,254.3 L71.52,254.3 L71.2,254.3 L70.87,254.3 L70.55,254.3 L70.23,254.3 L69.91,254.3 L69.58,254.3 L69.26,254.3 L68.94,254.3 L68.61,254.3 L68.29,254.3 L67.97,254.3 L67.65,254.3 L67.32,254.29 L67,254.29 L66.68,254.29 L66.36,254.29 L66.03,254.29 L65.71,254.29 L65.39,254.29 L65.07,254.29 L64.74,254.29 L64.42,254.28 L64.1,254.28 L63.77,254.28 L63.45,254.28 L63.13,254.28 L62.81,254.28 L62.48,254.27 L62.16,254.27 L61.84,254.27 L61.52,254.27 L61.19,254.26 L60.87,254.27 L60.55,254.28 L60.23,254.28 L59.9,254.29 L59.58,254.3 L59.26,254.3 L58.93,254.3 L58.61,254.3 L58.29,254.3 L57.97,254.29 L57.64,254.29 L57.32,254.28 L57,254.28 L56.68,254.27 L56.35,254.26 L56.03,254.25 L55.71,254.23 L55.39,254.22 L55.06,254.21 L54.74,254.19 L54.42,254.17 L54.09,254.16 L53.77,254.16 L53.45,254.15 L53.13,254.14 L52.8,254.14 L52.48,254.13 L52.16,254.12 L51.84,254.11 L51.51,254.1 L51.19,254.1 L50.87,254.09 L50.55,254.08 L50.22,254.07 L49.9,254.06 L49.58,254.05 L49.25,254.04 L48.93,254.03 L48.61,254.02 L48.29,254.01 L47.96,254 L47.64,253.99 L47.32,253.98 L47,253.96 L46.67,253.95 L46.35,253.94 L46.03,253.93 L45.71,253.91 L45.38,253.9 L45.06,253.89 L44.74,253.87 L44.41,253.86 L44.09,253.84 L43.77,253.83 L43.45,253.81 L43.12,253.8 L42.8,253.78 L42.48,253.77 L42.16,253.75 L41.83,253.73 L41.51,253.72 L41.19,253.7 L40.87,253.68 L40.54,253.66 L40.22,253.65 L39.9,253.63 L39.57,253.61 L39.25,253.59 L38.93,253.57 L38.61,253.55 L38.28,253.53 L37.96,253.51 L37.64,253.48 L37.32,253.46 L36.99,253.44 L36.67,253.42 L36.35,253.4 L36.03,253.37 L35.7,253.35 L35.38,253.32 L35.06,253.3 Z" fill="#b4b4b4" stroke="none"/>
<path d="M35.06,254.8 L35.38,254.8 L35.7,254.8 L36.03,254.8 L36.35,254.8 L36.67,254.79 L36.99,254.79 L37.32,254.78 L37.64,254.78 L37.96,254.77 L38.28,254.77 L38.61,254.76 L38.93,254.76 L39.25,254.75 L39.57,254.74 L39.9,254.73 L40.22,254.72 L40.54,254.71 L40.87,254.7 L41.19,254.69 L41.51,254.68 L41.83,254.66 L42.16,254.65 L42.48,254.64 L42.8,254.62 L43.12,254.61 L43.45,254.59 L43.77,254.58 L44.09,254.56 L44.41,254.54 L44.74,254.52 L45.06,254.5 L45.38,254.48 L45.71,254.46 L46.03,254.44 L46.35,254.42 L46.67,254.4 L47,254.38 L47.32,254.36 L47.64,254.33 L47.96,254.31 L48.29,254.28 L48.61,254.26 L48.93,254.23 L49.25,254.2 L49.58,254.18 L49.9,254.15 L50.22,254.12 L50.55,254.09 L50.87,254.06 L51.19,254.03 L51.51,254 L51.84,253.97 L52.16,253.94 L52.48,253.9 L52.8,253.87 L53.13,253.81 L53.45,253.75 L53.77,253.67 L54.09,253.58 L54.42,253.48 L54.74,253.38 L55.06,253.26 L55.39,253.13 L55.71,252.99 L56.03,252.85 L56.35,252.7 L56.68,252.55 L57,252.38 L57.32,252.22 L57.64,252.05 L57.97,251.88 L58.29,251.7 L58.61,251.52 L58.93,251.34 L59.26,251.16 L59.58,250.98 L59.9,250.8 L60.23,250.62 L60.55,250.43 L60.87,250.24 L61.19,250.03 L61.52,249.82 L61.84,249.6 L62.16,249.37 L62.48,249.14 L62.81,248.9 L63.13,248.65 L63.45,248.4 L63.77,248.14 L64.1,247.87 L64.42,247.59 L64.74,247.31 L65.07,247.02 L65.39,246.73 L65.71,246.42 L66.03,246.11 L66.36,245.8 L66.68,245.47 L67,245.15 L67.32,244.81 L67.65,244.47 L67.97,244.11 L68.29,243.74 L68.61,243.36 L68.94,242.97 L69.26,242.56 L69.58,242.14 L69.91,241.7 L70.23,241.25 L70.55,240.8 L70.87,240.32 L71.2,239.84 L71.52,239.35 L71.84,238.84 L72.16,238.32 L72.49,237.79 L72.81,237.25 L73.13,236.7 L73.45,236.14 L73.78,235.57 L74.1,234.99 L74.42,234.4 L74.75,233.8 L75.07,233.19 L75.39,232.57 L75.71,231.94 L76.04,231.28 L76.36,230.58 L76.68,229.85 L77,229.09 L77.33,228.3 L77.65,227.49 L77.97,226.66 L78.29,225.81 L78.62,224.95 L78.94,224.08 L79.26,223.2 L79.58,222.32 L79.91,221.44 L80.23,220.56 L80.55,219.68 L80.88,218.81 L81.2,217.94 L81.52,217.06 L81.84,216.18 L82.17,215.29 L82.49,214.38 L82.81,213.46 L83.13,212.53 L83.46,211.57 L83.78,210.58 L84.1,209.57 L84.42,208.53 L84.75,207.45 L85.07,206.32 L85.39,205.11 L85.72,203.83 L86.04,202.5 L86.36,201.12 L86.68,199.7 L87.01,198.27 L87.33,196.83 L87.65,195.38 L87.97,193.95 L88.3,192.54 L88.62,191.16 L88.94,189.83 L89.26,188.55 L89.59,187.34 L89.91,186.21 L90.23,185.14 L90.56,184.12 L90.88,183.12 L91.2,182.16 L91.52,181.22 L91.85,180.31 L92.17,179.41 L92.49,178.53 L92.81,177.65 L93.14,176.77 L93.46,175.9 L93.78,175.01 L94.1,174.1 L94.43,173.19 L94.75,172.27 L95.07,171.36 L95.4,170.46 L95.72,169.58 L96.04,168.74 L96.36,167.94 L96.69,167.18 L97.01,166.48 L97.33,165.85 L97.65,165.28 L97.98,164.71 L98.3,164.14 L98.62,163.57 L98.94,163 L99.27,162.45 L99.59,161.93 L99.91,161.44 L100.24,160.98 L100.56,160.58 L100.88,160.22 L101.2,159.93 L101.53,159.71 L101.85,159.56 L102.17,159.5 L102.49,159.51 L102.82,159.57 L103.14,159.65 L103.46,159.78 L103.78,159.94 L104.11,160.12 L104.43,160.34 L104.75,160.59 L105.08,160.86 L105.4,161.16 L105.72,161.48 L106.04,161.82 L106.37,162.18 L106.69,162.55 L107.01,162.94 L107.33,163.35 L107.66,163.76 L107.98,164.19 L108.3,164.62 L108.62,165.06 L108.95,165.5 L109.27,166.01 L109.59,166.62 L109.92,167.33 L110.24,168.12 L110.56,168.97 L110.88,169.87 L111.21,170.8 L111.53,171.75 L111.85,172.7 L112.17,173.63 L112.5,174.54 L112.82,175.4 L113.14,176.22 L113.46,177.02 L113.79,177.82 L114.11,178.61 L114.43,179.4 L114.76,180.19 L115.08,180.98 L115.4,181.77 L115.72,182.55 L116.05,183.33 L116.37,184.11 L116.69,184.9 L117.01,185.68 L117.34,186.46 L117.66,187.24 L117.98,188.02 L118.3,188.8 L118.63,189.57 L118.95,190.35 L119.27,191.12 L119.6,191.9 L119.92,192.67 L120.24,193.44 L120.56,194.22 L120.89,194.99 L121.21,195.77 L121.53,196.55 L121.85,197.33 L122.18,198.11 L122.5,198.89 L122.82,199.68 L123.14,200.47 L123.47,201.26 L123.79,202.05 L124.11,202.84 L124.44,203.63 L124.76,204.42 L125.08,205.22 L125.4,206.02 L125.73,206.82 L126.05,207.62 L126.37,208.42 L126.69,209.23 L127.02,210.04 L127.34,210.85 L127.66,211.66 L127.98,212.47 L128.31,213.29 L128.63,214.1 L128.95,214.92 L129.28,215.73 L129.6,216.55 L129.92,217.36 L130.24,218.18 L130.57,218.99 L130.89,219.8 L131.21,220.62 L131.53,221.46 L131.86,222.3 L132.18,223.16 L132.5,224.01 L132.82,224.87 L133.15,225.72 L133.47,226.56 L133.79,227.4 L134.12,228.22 L134.44,229.03 L134.76,229.82 L135.08,230.58 L135.41,231.32 L135.73,232.02 L136.05,232.7 L136.37,233.38 L136.7,234.05 L137.02,234.71 L137.34,235.36 L137.66,236.01 L137.99,236.65 L138.31,237.28 L138.63,237.89 L138.95,238.5 L139.28,239.1 L139.6,239.68 L139.92,240.25 L140.25,240.81 L140.57,241.35 L140.89,241.88 L141.21,242.39 L141.54,242.89 L141.86,243.37 L142.18,243.83 L142.5,244.27 L142.83,244.69 L143.15,245.11 L143.47,245.51 L143.79,245.9 L144.12,246.28 L144.44,246.65 L144.76,247.01 L145.09,247.37 L145.41,247.71 L145.73,248.05 L146.05,248.37 L146.38,248.69 L146.7,249 L147.02,249.3 L147.34,249.59 L147.67,249.87 L147.99,250.15 L148.31,250.41 L148.63,250.67 L148.96,250.92 L149.28,251.18 L149.6,251.43 L149.93,251.69 L150.25,251.94 L150.57,252.19 L150.89,252.44 L151.22,252.67 L151.54,252.89 L151.86,253.1 L152.18,253.29 L152.51,253.46 L152.83,253.61 L153.15,253.74 L153.47,253.84 L153.8,253.91 L154.12,253.98 L154.44,254.04 L154.77,254.1 L155.09,254.16 L155.41,254.22 L155.73,254.27 L156.06,254.33 L156.38,254.38 L156.7,254.43 L157.02,254.47 L157.35,254.51 L157.67,254.55 L157.99,254.59 L158.31,254.63 L158.64,254.66 L158.96,254.69 L159.28,254.71 L159.61,254.73 L159.93,254.75 L160.25,254.77 L160.57,254.78 L160.9,254.79 L161.22,254.8 L161.54,254.8 L161.86,254.8 L162.19,254.8 L162.51,254.8 L162.83,254.8 L163.15,254.8 L163.48,254.8 L163.8,254.8" fill="none" stroke="#000" stroke-width="1.3" stroke-dasharray="3,1.6"/>
<path d="M35.06,254.8 L35.38,254.8 L35.7,254.79 L36.03,254.78 L36.35,254.77 L36.67,254.75 L36.99,254.73 L37.32,254.71 L37.64,254.68 L37.96,254.66 L38.28,254.63 L38.61,254.59 L38.93,254.56 L39.25,254.52 L39.57,254.48 L39.9,254.44 L40.22,254.4 L40.54,254.35 L40.87,254.31 L41.19,254.26 L41.51,254.21 L41.83,254.16 L42.16,254.1 L42.48,254.05 L42.8,253.99 L43.12,253.93 L43.45,253.88 L43.77,253.82 L44.09,253.76 L44.41,253.7 L44.74,253.64 L45.06,253.57 L45.38,253.51 L45.71,253.45 L46.03,253.39 L46.35,253.32 L46.67,253.26 L47,253.19 L47.32,253.12 L47.64,253.05 L47.96,252.97 L48.29,252.88 L48.61,252.8 L48.93,252.7 L49.25,252.61 L49.58,252.51 L49.9,252.41 L50.22,252.3 L50.55,252.19 L50.87,252.07 L51.19,251.95 L51.51,251.83 L51.84,251.7 L52.16,251.57 L52.48,251.43 L52.8,251.29 L53.13,251.15 L53.45,251 L53.77,250.84 L54.09,250.69 L54.42,250.51 L54.74,250.33 L55.06,250.13 L55.39,249.92 L55.71,249.7 L56.03,249.46 L56.35,249.22 L56.68,248.96 L57,248.7 L57.32,248.43 L57.64,248.15 L57.97,247.86 L58.29,247.56 L58.61,247.26 L58.93,246.95 L59.26,246.64 L59.58,246.32 L59.9,245.99 L60.23,245.67 L60.55,245.33 L60.87,245 L61.19,244.66 L61.52,244.32 L61.84,243.97 L62.16,243.61 L62.48,243.24 L62.81,242.86 L63.13,242.47 L63.45,242.08 L63.77,241.67 L64.1,241.26 L64.42,240.83 L64.74,240.4 L65.07,239.96 L65.39,239.51 L65.71,239.05 L66.03,238.58 L66.36,238.1 L66.68,237.62 L67,237.13 L67.32,236.63 L67.65,236.12 L67.97,235.6 L68.29,235.08 L68.61,234.55 L68.94,234.01 L69.26,233.46 L69.58,232.9 L69.91,232.34 L70.23,231.77 L70.55,231.17 L70.87,230.56 L71.2,229.92 L71.52,229.27 L71.84,228.6 L72.16,227.91 L72.49,227.21 L72.81,226.49 L73.13,225.75 L73.45,225.01 L73.78,224.25 L74.1,223.47 L74.42,222.69 L74.75,221.9 L75.07,221.1 L75.39,220.29 L75.71,219.47 L76.04,218.64 L76.36,217.79 L76.68,216.92 L77,216.03 L77.33,215.13 L77.65,214.2 L77.97,213.26 L78.29,212.3 L78.62,211.31 L78.94,210.31 L79.26,209.28 L79.58,208.23 L79.91,207.16 L80.23,206.05 L80.55,204.89 L80.88,203.68 L81.2,202.44 L81.52,201.17 L81.84,199.87 L82.17,198.55 L82.49,197.21 L82.81,195.87 L83.13,194.53 L83.46,193.19 L83.78,191.85 L84.1,190.54 L84.42,189.24 L84.75,187.97 L85.07,186.73 L85.39,185.52 L85.72,184.33 L86.04,183.15 L86.36,181.98 L86.68,180.83 L87.01,179.68 L87.33,178.55 L87.65,177.42 L87.97,176.31 L88.3,175.19 L88.62,174 L88.94,172.77 L89.26,171.53 L89.59,170.3 L89.91,169.13 L90.23,168.04 L90.56,167.06 L90.88,166.24 L91.2,165.59 L91.52,165.08 L91.85,164.59 L92.17,164.1 L92.49,163.64 L92.81,163.18 L93.14,162.75 L93.46,162.33 L93.78,161.94 L94.1,161.57 L94.43,161.23 L94.75,160.91 L95.07,160.61 L95.4,160.35 L95.72,160.12 L96.04,159.93 L96.36,159.77 L96.69,159.64 L97.01,159.55 L97.33,159.51 L97.65,159.5 L97.98,159.56 L98.3,159.66 L98.62,159.82 L98.94,160.02 L99.27,160.27 L99.59,160.56 L99.91,160.88 L100.24,161.23 L100.56,161.61 L100.88,162.02 L101.2,162.44 L101.53,162.89 L101.85,163.34 L102.17,163.8 L102.49,164.27 L102.82,164.74 L103.14,165.2 L103.46,165.67 L103.78,166.17 L104.11,166.73 L104.43,167.34 L104.75,167.99 L105.08,168.68 L105.4,169.4 L105.72,170.14 L106.04,170.91 L106.37,171.69 L106.69,172.48 L107.01,173.27 L107.33,174.07 L107.66,174.86 L107.98,175.63 L108.3,176.4 L108.62,177.18 L108.95,177.97 L109.27,178.77 L109.59,179.58 L109.92,180.4 L110.24,181.23 L110.56,182.07 L110.88,182.93 L111.21,183.8 L111.53,184.67 L111.85,185.56 L112.17,186.47 L112.5,187.42 L112.82,188.41 L113.14,189.44 L113.46,190.49 L113.79,191.55 L114.11,192.62 L114.43,193.67 L114.76,194.71 L115.08,195.72 L115.4,196.68 L115.72,197.59 L116.05,198.44 L116.37,199.23 L116.69,199.97 L117.01,200.67 L117.34,201.34 L117.66,201.99 L117.98,202.62 L118.3,203.24 L118.63,203.86 L118.95,204.48 L119.27,205.11 L119.6,205.76 L119.92,206.43 L120.24,207.12 L120.56,207.86 L120.89,208.62 L121.21,209.4 L121.53,210.2 L121.85,211.02 L122.18,211.85 L122.5,212.69 L122.82,213.53 L123.14,214.38 L123.47,215.22 L123.79,216.06 L124.11,216.89 L124.44,217.71 L124.76,218.52 L125.08,219.3 L125.4,220.07 L125.73,220.83 L126.05,221.6 L126.37,222.36 L126.69,223.13 L127.02,223.89 L127.34,224.64 L127.66,225.39 L127.98,226.13 L128.31,226.86 L128.63,227.58 L128.95,228.29 L129.28,228.99 L129.6,229.67 L129.92,230.33 L130.24,230.97 L130.57,231.6 L130.89,232.2 L131.21,232.79 L131.53,233.37 L131.86,233.95 L132.18,234.52 L132.5,235.08 L132.82,235.64 L133.15,236.18 L133.47,236.72 L133.79,237.25 L134.12,237.78 L134.44,238.3 L134.76,238.8 L135.08,239.3 L135.41,239.8 L135.73,240.28 L136.05,240.75 L136.37,241.22 L136.7,241.68 L137.02,242.12 L137.34,242.56 L137.66,242.99 L137.99,243.41 L138.31,243.82 L138.63,244.22 L138.95,244.61 L139.28,244.99 L139.6,245.37 L139.92,245.75 L140.25,246.12 L140.57,246.49 L140.89,246.85 L141.21,247.2 L141.54,247.55 L141.86,247.89 L142.18,248.22 L142.5,248.54 L142.83,248.85 L143.15,249.16 L143.47,249.45 L143.79,249.73 L144.12,249.99 L144.44,250.25 L144.76,250.49 L145.09,250.71 L145.41,250.93 L145.73,251.14 L146.05,251.35 L146.38,251.55 L146.7,251.76 L147.02,251.96 L147.34,252.15 L147.67,252.34 L147.99,252.52 L148.31,252.7 L148.63,252.86 L148.96,253.02 L149.28,253.17 L149.6,253.31 L149.93,253.44 L150.25,253.56 L150.57,253.67 L150.89,253.76 L151.22,253.84 L151.54,253.91 L151.86,253.97 L152.18,254.03 L152.51,254.09 L152.83,254.15 L153.15,254.2 L153.47,254.26 L153.8,254.31 L154.12,254.36 L154.44,254.41 L154.77,254.45 L155.09,254.5 L155.41,254.54 L155.73,254.58 L156.06,254.61 L156.38,254.65 L156.7,254.68 L157.02,254.7 L157.35,254.73 L157.67,254.75 L157.99,254.77 L158.31,254.78 L158.64,254.79 L158.96,254.8 L159.28,254.8 L159.61,254.8 L159.93,254.8 L160.25,254.8 L160.57,254.8 L160.9,254.8 L161.22,254.8 L161.54,254.8 L161.86,254.8 L162.19,254.8 L162.51,254.8 L162.83,254.8 L163.15,254.8 L163.48,254.8 L163.8,254.8" fill="none" stroke="#000" stroke-width="1.25"/>
<path d="M35.06,252.3 L35.38,252.34 L35.7,252.38 L36.03,252.43 L36.35,252.47 L36.67,252.51 L36.99,252.55 L37.32,252.59 L37.64,252.63 L37.96,252.67 L38.28,252.71 L38.61,252.75 L38.93,252.79 L39.25,252.83 L39.57,252.87 L39.9,252.9 L40.22,252.94 L40.54,252.98 L40.87,253.01 L41.19,253.05 L41.51,253.08 L41.83,253.12 L42.16,253.15 L42.48,253.18 L42.8,253.21 L43.12,253.24 L43.45,253.27 L43.77,253.3 L44.09,253.33 L44.41,253.35 L44.74,253.38 L45.06,253.41 L45.38,253.44 L45.71,253.47 L46.03,253.5 L46.35,253.53 L46.67,253.56 L47,253.59 L47.32,253.62 L47.64,253.65 L47.96,253.68 L48.29,253.71 L48.61,253.73 L48.93,253.76 L49.25,253.79 L49.58,253.82 L49.9,253.85 L50.22,253.88 L50.55,253.9 L50.87,253.93 L51.19,253.95 L51.51,253.98 L51.84,254 L52.16,254.03 L52.48,254.05 L52.8,254.07 L53.13,254.09 L53.45,254.12 L53.77,254.14 L54.09,254.15 L54.42,254.17 L54.74,254.19 L55.06,254.21 L55.39,254.22 L55.71,254.23 L56.03,254.25 L56.35,254.26 L56.68,254.27 L57,254.28 L57.32,254.28 L57.64,254.29 L57.97,254.29 L58.29,254.3 L58.61,254.3 L58.93,254.3 L59.26,254.3 L59.58,254.3 L59.9,254.29 L60.23,254.28 L60.55,254.28 L60.87,254.27 L61.19,254.26 L61.52,254.24 L61.84,254.23 L62.16,254.22 L62.48,254.2 L62.81,254.18 L63.13,254.16 L63.45,254.14 L63.77,254.12 L64.1,254.1 L64.42,254.07 L64.74,254.05 L65.07,254.02 L65.39,253.99 L65.71,253.96 L66.03,253.93 L66.36,253.9 L66.68,253.87 L67,253.83 L67.32,253.8 L67.65,253.76 L67.97,253.72 L68.29,253.68 L68.61,253.64 L68.94,253.6 L69.26,253.56 L69.58,253.52 L69.91,253.47 L70.23,253.43 L70.55,253.38 L70.87,253.33 L71.2,253.29 L71.52,253.23 L71.84,253.15 L72.16,253.06 L72.49,252.96 L72.81,252.84 L73.13,252.72 L73.45,252.58 L73.78,252.43 L74.1,252.27 L74.42,252.1 L74.75,251.92 L75.07,251.74 L75.39,251.55 L75.71,251.35 L76.04,251.15 L76.36,250.94 L76.68,250.73 L77,250.51 L77.33,250.3 L77.65,250.08 L77.97,249.86 L78.29,249.64 L78.62,249.42 L78.94,249.18 L79.26,248.94 L79.58,248.68 L79.91,248.41 L80.23,248.12 L80.55,247.83 L80.88,247.53 L81.2,247.21 L81.52,246.89 L81.84,246.56 L82.17,246.22 L82.49,245.88 L82.81,245.53 L83.13,245.17 L83.46,244.81 L83.78,244.44 L84.1,244.07 L84.42,243.69 L84.75,243.32 L85.07,242.92 L85.39,242.48 L85.72,242.02 L86.04,241.54 L86.36,241.06 L86.68,240.57 L87.01,240.11 L87.33,239.67 L87.65,239.27 L87.97,238.92 L88.3,238.6 L88.62,238.29 L88.94,238 L89.26,237.73 L89.59,237.46 L89.91,237.21 L90.23,236.96 L90.56,236.72 L90.88,236.48 L91.2,236.24 L91.52,236.01 L91.85,235.76 L92.17,235.52 L92.49,235.26 L92.81,235 L93.14,234.72 L93.46,234.41 L93.78,234.07 L94.1,233.7 L94.43,233.32 L94.75,232.93 L95.07,232.54 L95.4,232.15 L95.72,231.78 L96.04,231.44 L96.36,231.12 L96.69,230.85 L97.01,230.62 L97.33,230.45 L97.65,230.34 L97.98,230.3 L98.3,230.35 L98.62,230.5 L98.94,230.72 L99.27,231.01 L99.59,231.35 L99.91,231.72 L100.24,232.12 L100.56,232.53 L100.88,232.93 L101.2,233.32 L101.53,233.8 L101.85,234.38 L102.17,235.03 L102.49,235.72 L102.82,236.43 L103.14,237.13 L103.46,237.78 L103.78,238.36 L104.11,238.84 L104.43,239.19 L104.75,239.38 L105.08,239.38 L105.4,239.21 L105.72,238.88 L106.04,238.43 L106.37,237.88 L106.69,237.24 L107.01,236.54 L107.33,235.8 L107.66,234.91 L107.98,233.69 L108.3,232.2 L108.62,230.51 L108.95,228.69 L109.27,226.78 L109.59,224.52 L109.92,221.94 L110.24,219.19 L110.56,216.44 L110.88,213.78 L111.21,210.97 L111.53,208.05 L111.85,205.13 L112.17,202.32 L112.5,199.72 L112.82,197.45 L113.14,195.53 L113.46,193.62 L113.79,191.71 L114.11,189.85 L114.43,188.11 L114.76,186.54 L115.08,185.19 L115.4,184.13 L115.72,183.42 L116.05,183.11 L116.37,183.33 L116.69,184.18 L117.01,185.53 L117.34,187.26 L117.66,189.23 L117.98,191.32 L118.3,193.39 L118.63,195.32 L118.95,197.21 L119.27,199.21 L119.6,201.36 L119.92,203.72 L120.24,206.33 L120.56,209.48 L120.89,213.38 L121.21,216.65 L121.53,219.47 L121.85,222.15 L122.18,224.88 L122.5,227.59 L122.82,230.26 L123.14,232.89 L123.47,235.46 L123.79,238.02 L124.11,240.59 L124.44,243.05 L124.76,245.28 L125.08,247.31 L125.4,249.37 L125.73,251.27 L126.05,252.8 L126.37,253.74 L126.69,254.19 L127.02,254.55 L127.34,254.76 L127.66,254.8 L127.98,254.8 L128.31,254.8 L128.63,254.8 L128.95,254.8 L129.28,254.8 L129.6,254.8 L129.92,254.8 L130.24,254.8 L130.57,254.8 L130.89,254.8 L131.21,254.8 L131.53,254.8 L131.86,254.8 L132.18,254.8 L132.5,254.8 L132.82,254.8 L133.15,254.8 L133.47,254.8 L133.79,254.8 L134.12,254.8 L134.44,254.8 L134.76,254.8 L135.08,254.8 L135.41,254.8 L135.73,254.8 L136.05,254.8 L136.37,254.8 L136.7,254.8 L137.02,254.8 L137.34,254.8 L137.66,254.8 L137.99,254.8 L138.31,254.8 L138.63,254.8 L138.95,254.8 L139.28,254.8 L139.6,254.8 L139.92,254.8 L140.25,254.8 L140.57,254.8 L140.89,254.8 L141.21,254.8 L141.54,254.8 L141.86,254.8 L142.18,254.8 L142.5,254.8 L142.83,254.8 L143.15,254.8 L143.47,254.8 L143.79,254.8 L144.12,254.8 L144.44,254.8 L144.76,254.8 L145.09,254.8 L145.41,254.8 L145.73,254.8 L146.05,254.8 L146.38,254.8 L146.7,254.8 L147.02,254.8 L147.34,254.8 L147.67,254.8 L147.99,254.8 L148.31,254.8 L148.63,254.8 L148.96,254.8 L149.28,254.8 L149.6,254.8 L149.93,254.8 L150.25,254.8 L150.57,254.8 L150.89,254.8 L151.22,254.8 L151.54,254.8 L151.86,254.8 L152.18,254.8 L152.51,254.8 L152.83,254.78 L153.15,254.67 L153.47,254.47 L153.8,254.21 L154.12,253.87 L154.44,253.49 L154.77,253.05 L155.09,252.58 L155.41,252.07 L155.73,251.55 L156.06,251.01 L156.38,250.48 L156.7,249.94 L157.02,249.42 L157.35,248.93 L157.67,248.47 L157.99,248.05 L158.31,247.67 L158.64,247.31 L158.96,246.96 L159.28,246.61 L159.61,246.26 L159.93,245.91 L160.25,245.57 L160.57,245.24 L160.9,244.9 L161.22,244.57 L161.54,244.25 L161.86,243.93 L162.19,243.61 L162.51,243.3 L162.83,242.99 L163.15,242.69 L163.48,242.39 L163.8,242.1" fill="none" stroke="#17997f" stroke-width="1.45"/>
<path d="M35,254.8 H163.8" fill="none" stroke="#000" stroke-width="1.3"/>
<path d="M51.85,254.8 V257.2 M74.24,254.8 V257.2 M96.63,254.8 V257.2 M119.02,254.8 V257.2 M141.41,254.8 V257.2 M163.8,254.8 V257.2 M40.66,254.8 V256.4 M63.05,254.8 V256.4 M85.44,254.8 V256.4 M107.83,254.8 V256.4 M130.22,254.8 V256.4 M152.6,254.8 V256.4" fill="none" stroke="#000" stroke-width="1"/>
<text x="51.85" y="264.7" text-anchor="middle" font-size="6.7" fill="#111" stroke="#111" stroke-width="0.16">2</text>
<text x="74.24" y="264.7" text-anchor="middle" font-size="6.7" fill="#111" stroke="#111" stroke-width="0.16">3</text>
<text x="96.63" y="264.7" text-anchor="middle" font-size="6.7" fill="#111" stroke="#111" stroke-width="0.16">4</text>
<text x="119.02" y="264.7" text-anchor="middle" font-size="6.7" fill="#111" stroke="#111" stroke-width="0.16">5</text>
<text x="141.41" y="264.7" text-anchor="middle" font-size="6.7" fill="#111" stroke="#111" stroke-width="0.16">6</text>
<text x="163.8" y="264.7" text-anchor="middle" font-size="6.7" fill="#111" stroke="#111" stroke-width="0.16">7</text>
<text x="101.11" y="272.7" text-anchor="middle" font-size="6.4" textLength="13.6" lengthAdjust="spacingAndGlyphs" fill="#111" stroke="#111" stroke-width="0.12"><tspan font-style="italic">r</tspan> [nm]</text>
<path d="M174.06,243.6 L174.39,243.74 L174.71,243.87 L175.03,244.01 L175.36,244.14 L175.68,244.27 L176,244.39 L176.33,244.52 L176.65,244.64 L176.97,244.77 L177.3,244.89 L177.62,245 L177.94,245.12 L178.27,245.23 L178.59,245.34 L178.92,245.45 L179.24,245.56 L179.56,245.66 L179.89,245.76 L180.21,245.86 L180.53,245.95 L180.86,246.05 L181.18,246.15 L181.5,246.25 L181.83,246.35 L182.15,246.44 L182.47,246.54 L182.8,246.64 L183.12,246.73 L183.44,246.83 L183.77,246.92 L184.09,247.01 L184.42,247.1 L184.74,247.19 L185.06,247.27 L185.39,247.35 L185.71,247.43 L186.03,247.51 L186.36,247.58 L186.68,247.64 L187,247.71 L187.33,247.77 L187.65,247.82 L187.97,247.87 L188.3,247.91 L188.62,247.95 L188.94,247.99 L189.27,248.01 L189.59,248.04 L189.92,248.07 L190.24,248.09 L190.56,248.12 L190.89,248.14 L191.21,248.17 L191.53,248.19 L191.86,248.21 L192.18,248.23 L192.5,248.26 L192.83,248.28 L193.15,248.3 L193.47,248.32 L193.8,248.34 L194.12,248.35 L194.44,248.37 L194.77,248.39 L195.09,248.4 L195.42,248.42 L195.74,248.43 L196.06,248.44 L196.39,248.45 L196.71,248.46 L197.03,248.47 L197.36,248.48 L197.68,248.49 L198,248.49 L198.33,248.5 L198.65,248.5 L198.97,248.5 L199.3,248.5 L199.62,248.49 L199.94,248.45 L200.27,248.4 L200.59,248.34 L200.92,248.26 L201.24,248.17 L201.56,248.06 L201.89,247.94 L202.21,247.81 L202.53,247.67 L202.86,247.52 L203.18,247.36 L203.5,247.19 L203.83,247.02 L204.15,246.83 L204.47,246.65 L204.8,246.45 L205.12,246.26 L205.44,246.06 L205.77,245.86 L206.09,245.65 L206.42,245.45 L206.74,245.25 L207.06,245.05 L207.39,244.85 L207.71,244.65 L208.03,244.46 L208.36,244.26 L208.68,244.05 L209,243.82 L209.33,243.59 L209.65,243.35 L209.97,243.1 L210.3,242.85 L210.62,242.58 L210.94,242.31 L211.27,242.04 L211.59,241.76 L211.92,241.48 L212.24,241.19 L212.56,240.9 L212.89,240.61 L213.21,240.32 L213.53,240.02 L213.86,239.73 L214.18,239.44 L214.5,239.15 L214.83,238.87 L215.15,238.58 L215.47,238.3 L215.8,238.03 L216.12,237.76 L216.44,237.49 L216.77,237.22 L217.09,236.96 L217.42,236.69 L217.74,236.42 L218.06,236.15 L218.39,235.88 L218.71,235.61 L219.03,235.33 L219.36,235.04 L219.68,234.75 L220,234.45 L220.33,234.15 L220.65,233.83 L220.97,233.51 L221.3,233.18 L221.62,232.83 L221.94,232.48 L222.27,232.12 L222.59,231.76 L222.92,231.39 L223.24,231.01 L223.56,230.62 L223.89,230.22 L224.21,229.82 L224.53,229.42 L224.86,229.01 L225.18,228.59 L225.5,228.16 L225.83,227.73 L226.15,227.3 L226.47,226.86 L226.8,226.42 L227.12,225.97 L227.44,225.52 L227.77,225.07 L228.09,224.61 L228.42,224.14 L228.74,223.66 L229.06,223.17 L229.39,222.66 L229.71,222.14 L230.03,221.62 L230.36,221.09 L230.68,220.55 L231,220.01 L231.33,219.47 L231.65,218.93 L231.97,218.39 L232.3,217.85 L232.62,217.29 L232.94,216.72 L233.27,216.13 L233.59,215.53 L233.92,214.93 L234.24,214.34 L234.56,213.76 L234.89,213.2 L235.21,212.67 L235.53,212.17 L235.86,211.72 L236.18,211.31 L236.5,210.95 L236.83,210.64 L237.15,210.35 L237.47,210.08 L237.8,209.83 L238.12,209.57 L238.44,209.31 L238.77,209.02 L239.09,208.71 L239.42,208.36 L239.74,207.96 L240.06,207.51 L240.39,206.96 L240.71,206.31 L241.03,205.56 L241.36,204.72 L241.68,203.78 L242,202.76 L242.33,201.67 L242.65,200.5 L242.97,199.27 L243.3,197.97 L243.62,196.62 L243.94,195.22 L244.27,193.74 L244.59,191.96 L244.92,189.92 L245.24,187.68 L245.56,185.29 L245.89,182.83 L246.21,180.36 L246.53,177.94 L246.86,175.64 L247.18,173.44 L247.5,170.97 L247.83,168.31 L248.15,165.62 L248.47,163.07 L248.8,160.81 L249.12,159.03 L249.44,157.87 L249.77,157.49 L250.09,157.44 L250.42,157.4 L250.74,157.36 L251.06,157.33 L251.39,157.31 L251.71,157.3 L252.03,157.32 L252.36,157.84 L252.68,158.94 L253,160.45 L253.33,162.17 L253.65,163.93 L253.97,165.69 L254.3,167.81 L254.62,170.22 L254.94,172.83 L255.27,175.52 L255.59,178.2 L255.91,180.77 L256.24,183.11 L256.56,185.15 L256.89,186.97 L257.21,188.66 L257.53,190.25 L257.86,191.78 L258.18,193.29 L258.5,194.81 L258.83,196.37 L259.15,198.02 L259.47,199.79 L259.8,201.7 L260.12,203.76 L260.44,205.93 L260.77,208.21 L261.09,210.6 L261.41,213.13 L261.74,215.77 L262.06,218.52 L262.39,221.34 L262.71,224.22 L263.03,227.43 L263.36,231.15 L263.68,235.09 L264,238.91 L264.33,242.29 L264.65,244.92 L264.97,246.47 L265.3,247.29 L265.62,248.04 L265.94,248.71 L266.27,249.29 L266.59,249.76 L266.91,250.13 L267.24,250.37 L267.56,250.49 L267.89,250.46 L268.21,250.28 L268.53,249.95 L268.86,249.5 L269.18,248.97 L269.5,248.37 L269.83,247.73 L270.15,247.08 L270.47,246.44 L270.8,245.83 L271.12,245.28 L271.44,244.81 L271.77,244.45 L272.09,244.14 L272.41,243.82 L272.74,243.5 L273.06,243.19 L273.39,242.88 L273.71,242.58 L274.03,242.29 L274.36,242.01 L274.68,241.75 L275,241.51 L275.33,241.29 L275.65,241.1 L275.97,240.93 L276.3,240.8 L276.62,240.7 L276.94,240.63 L277.27,240.6 L277.59,240.64 L277.91,240.8 L278.24,241.05 L278.56,241.37 L278.89,241.74 L279.21,242.13 L279.53,242.52 L279.86,242.87 L280.18,243.18 L280.5,243.41 L280.83,243.54 L281.15,243.65 L281.47,243.74 L281.8,243.81 L282.12,243.88 L282.44,243.94 L282.77,243.99 L283.09,244.04 L283.41,244.09 L283.74,244.13 L284.06,244.18 L284.39,244.23 L284.71,244.28 L285.03,244.35 L285.36,244.42 L285.68,244.5 L286,244.59 L286.33,244.71 L286.65,244.88 L286.97,245.15 L287.3,245.5 L287.62,245.92 L287.94,246.39 L288.27,246.9 L288.59,247.44 L288.91,248 L289.24,248.56 L289.56,249.11 L289.89,249.63 L290.21,250.11 L290.53,250.55 L290.86,250.91 L291.18,251.2 L291.5,251.4 L291.83,251.49 L292.15,251.5 L292.47,251.48 L292.8,251.45 L293.12,251.4 L293.44,251.35 L293.77,251.28 L294.09,251.21 L294.41,251.12 L294.74,251.03 L295.06,250.94 L295.39,250.84 L295.71,250.73 L296.03,250.63 L296.36,250.52 L296.68,250.4 L297,250.27 L297.33,250.11 L297.65,249.93 L297.97,249.74 L298.3,249.54 L298.62,249.31 L298.94,249.08 L299.27,248.84 L299.59,248.58 L299.91,248.32 L300.24,248.06 L300.56,247.79 L300.89,247.52 L301.21,247.23 L301.53,246.92 L301.86,246.59 L302.18,246.23 L302.5,245.87 L302.83,245.49 L303.15,245.1 L303.15,254.5 L302.83,254.5 L302.5,254.5 L302.18,254.5 L301.86,254.5 L301.53,254.5 L301.21,254.5 L300.89,254.5 L300.56,254.5 L300.24,254.5 L299.91,254.5 L299.59,254.5 L299.27,254.5 L298.94,254.5 L298.62,254.5 L298.3,254.5 L297.97,254.5 L297.65,254.5 L297.33,254.5 L297,254.5 L296.68,254.5 L296.36,254.5 L296.03,254.5 L295.71,254.5 L295.39,254.5 L295.06,254.5 L294.74,254.5 L294.41,254.5 L294.09,254.5 L293.77,254.5 L293.44,254.5 L293.12,254.5 L292.8,254.5 L292.47,254.5 L292.15,254.5 L291.83,254.5 L291.5,254.5 L291.18,254.5 L290.86,254.5 L290.53,254.5 L290.21,254.5 L289.89,254.5 L289.56,254.5 L289.24,254.5 L288.91,254.5 L288.59,254.5 L288.27,254.5 L287.94,254.5 L287.62,254.5 L287.3,254.5 L286.97,254.5 L286.65,254.5 L286.33,254.5 L286,254.5 L285.68,254.5 L285.36,254.5 L285.03,254.5 L284.71,254.5 L284.39,254.5 L284.06,254.5 L283.74,254.5 L283.41,254.5 L283.09,254.5 L282.77,254.5 L282.44,254.5 L282.12,254.5 L281.8,254.5 L281.47,254.5 L281.15,254.5 L280.83,254.5 L280.5,254.5 L280.18,254.5 L279.86,254.5 L279.53,254.5 L279.21,254.5 L278.89,254.5 L278.56,254.5 L278.24,254.5 L277.91,254.5 L277.59,254.5 L277.27,254.5 L276.94,254.5 L276.62,254.5 L276.3,254.5 L275.97,254.5 L275.65,254.5 L275.33,254.5 L275,254.5 L274.68,254.5 L274.36,254.5 L274.03,254.5 L273.71,254.5 L273.39,254.5 L273.06,254.5 L272.74,254.5 L272.41,254.5 L272.09,254.5 L271.77,254.5 L271.44,254.5 L271.12,254.5 L270.8,254.5 L270.47,254.5 L270.15,254.5 L269.83,254.5 L269.5,254.5 L269.18,254.5 L268.86,254.5 L268.53,254.5 L268.21,254.5 L267.89,254.5 L267.56,254.5 L267.24,254.5 L266.91,254.5 L266.59,254.5 L266.27,254.5 L265.94,254.5 L265.62,254.5 L265.3,254.5 L264.97,254.5 L264.65,253.89 L264.33,252.29 L264,249.89 L263.68,246.92 L263.36,243.57 L263.03,240.06 L262.71,236.59 L262.39,233.37 L262.06,230.36 L261.74,227.14 L261.41,223.87 L261.09,220.79 L260.77,218.04 L260.44,215.48 L260.12,213.07 L259.8,210.81 L259.47,208.72 L259.15,206.71 L258.83,204.78 L258.5,202.91 L258.18,201.1 L257.86,199.36 L257.53,197.68 L257.21,196.06 L256.89,194.5 L256.56,192.99 L256.24,191.55 L255.91,190.23 L255.59,188.97 L255.27,187.75 L254.94,186.53 L254.62,185.27 L254.3,183.9 L253.97,182.29 L253.65,180.48 L253.33,178.58 L253,176.67 L252.68,174.86 L252.36,173.24 L252.03,171.91 L251.71,170.98 L251.39,170.53 L251.06,170.64 L250.74,171.29 L250.42,172.37 L250.09,173.8 L249.77,175.48 L249.44,177.32 L249.12,179.24 L248.8,181.13 L248.47,182.91 L248.15,184.49 L247.83,185.94 L247.5,187.42 L247.18,188.91 L246.86,190.41 L246.53,191.91 L246.21,193.4 L245.89,194.89 L245.56,196.35 L245.24,197.78 L244.92,199.19 L244.59,200.55 L244.27,201.86 L243.94,203.14 L243.62,204.44 L243.3,205.78 L242.97,207.12 L242.65,208.45 L242.33,209.75 L242,211.01 L241.68,212.2 L241.36,213.3 L241.03,214.3 L240.71,215.18 L240.39,215.92 L240.06,216.51 L239.74,216.97 L239.42,217.38 L239.09,217.73 L238.77,218.05 L238.44,218.34 L238.12,218.6 L237.8,218.86 L237.47,219.11 L237.15,219.38 L236.83,219.66 L236.5,219.97 L236.18,220.32 L235.86,220.71 L235.53,221.14 L235.21,221.61 L234.89,222.1 L234.56,222.62 L234.24,223.15 L233.92,223.69 L233.59,224.24 L233.27,224.78 L232.94,225.32 L232.62,225.85 L232.3,226.36 L231.97,226.86 L231.65,227.36 L231.33,227.87 L231,228.39 L230.68,228.9 L230.36,229.4 L230.03,229.9 L229.71,230.39 L229.39,230.87 L229.06,231.33 L228.74,231.77 L228.42,232.19 L228.09,232.59 L227.77,232.97 L227.44,233.34 L227.12,233.71 L226.8,234.06 L226.47,234.41 L226.15,234.75 L225.83,235.08 L225.5,235.4 L225.18,235.72 L224.86,236.04 L224.53,236.34 L224.21,236.65 L223.89,236.95 L223.56,237.24 L223.24,237.53 L222.92,237.82 L222.59,238.1 L222.27,238.39 L221.94,238.67 L221.62,238.95 L221.3,239.23 L220.97,239.51 L220.65,239.78 L220.33,240.06 L220,240.32 L219.68,240.59 L219.36,240.85 L219.03,241.1 L218.71,241.36 L218.39,241.61 L218.06,241.86 L217.74,242.1 L217.42,242.35 L217.09,242.59 L216.77,242.83 L216.44,243.07 L216.12,243.31 L215.8,243.55 L215.47,243.79 L215.15,244.03 L214.83,244.28 L214.5,244.52 L214.18,244.77 L213.86,245.02 L213.53,245.27 L213.21,245.52 L212.89,245.77 L212.56,246.02 L212.24,246.27 L211.92,246.51 L211.59,246.75 L211.27,246.99 L210.94,247.22 L210.62,247.44 L210.3,247.66 L209.97,247.87 L209.65,248.08 L209.33,248.27 L209,248.46 L208.68,248.64 L208.36,248.81 L208.03,248.97 L207.71,249.12 L207.39,249.27 L207.06,249.42 L206.74,249.58 L206.42,249.73 L206.09,249.89 L205.77,250.04 L205.44,250.19 L205.12,250.34 L204.8,250.49 L204.47,250.63 L204.15,250.77 L203.83,250.91 L203.5,251.04 L203.18,251.16 L202.86,251.28 L202.53,251.39 L202.21,251.5 L201.89,251.59 L201.56,251.68 L201.24,251.76 L200.92,251.83 L200.59,251.88 L200.27,251.93 L199.94,251.97 L199.62,251.99 L199.3,252 L198.97,252 L198.65,252 L198.33,252 L198,252 L197.68,251.99 L197.36,251.99 L197.03,251.99 L196.71,251.98 L196.39,251.98 L196.06,251.98 L195.74,251.97 L195.42,251.97 L195.09,251.96 L194.77,251.96 L194.44,251.95 L194.12,251.95 L193.8,251.94 L193.47,251.94 L193.15,251.94 L192.83,251.93 L192.5,251.93 L192.18,251.92 L191.86,251.92 L191.53,251.91 L191.21,251.91 L190.89,251.91 L190.56,251.91 L190.24,251.9 L189.92,251.9 L189.59,251.9 L189.27,251.9 L188.94,251.9 L188.62,251.9 L188.3,251.91 L187.97,251.92 L187.65,251.94 L187.33,251.95 L187,251.97 L186.68,251.99 L186.36,252.02 L186.03,252.04 L185.71,252.07 L185.39,252.09 L185.06,252.12 L184.74,252.15 L184.42,252.18 L184.09,252.2 L183.77,252.23 L183.44,252.26 L183.12,252.28 L182.8,252.3 L182.47,252.33 L182.15,252.35 L181.83,252.36 L181.5,252.38 L181.18,252.39 L180.86,252.4 L180.53,252.4 L180.21,252.4 L179.89,252.4 L179.56,252.39 L179.24,252.38 L178.92,252.36 L178.59,252.35 L178.27,252.33 L177.94,252.3 L177.62,252.27 L177.3,252.24 L176.97,252.21 L176.65,252.17 L176.33,252.13 L176,252.09 L175.68,252.05 L175.36,252 L175.03,251.95 L174.71,251.9 L174.39,251.85 L174.06,251.79 Z" fill="#b4b4b4" stroke="none"/>
<path d="M174.06,254.5 L174.39,254.5 L174.71,254.5 L175.03,254.5 L175.36,254.5 L175.68,254.5 L176,254.5 L176.33,254.5 L176.65,254.5 L176.97,254.5 L177.3,254.5 L177.62,254.49 L177.94,254.49 L178.27,254.49 L178.59,254.49 L178.92,254.49 L179.24,254.49 L179.56,254.49 L179.89,254.49 L180.21,254.48 L180.53,254.48 L180.86,254.48 L181.18,254.48 L181.5,254.48 L181.83,254.47 L182.15,254.47 L182.47,254.47 L182.8,254.47 L183.12,254.46 L183.44,254.46 L183.77,254.46 L184.09,254.45 L184.42,254.45 L184.74,254.45 L185.06,254.44 L185.39,254.44 L185.71,254.44 L186.03,254.43 L186.36,254.43 L186.68,254.42 L187,254.42 L187.33,254.42 L187.65,254.41 L187.97,254.41 L188.3,254.4 L188.62,254.4 L188.94,254.38 L189.27,254.35 L189.59,254.31 L189.92,254.27 L190.24,254.21 L190.56,254.15 L190.89,254.08 L191.21,254.01 L191.53,253.92 L191.86,253.83 L192.18,253.74 L192.5,253.64 L192.83,253.54 L193.15,253.43 L193.47,253.32 L193.8,253.21 L194.12,253.09 L194.44,252.98 L194.77,252.86 L195.09,252.75 L195.42,252.63 L195.74,252.51 L196.06,252.4 L196.39,252.29 L196.71,252.17 L197.03,252.04 L197.36,251.91 L197.68,251.78 L198,251.64 L198.33,251.49 L198.65,251.34 L198.97,251.19 L199.3,251.03 L199.62,250.87 L199.94,250.7 L200.27,250.52 L200.59,250.34 L200.92,250.15 L201.24,249.96 L201.56,249.76 L201.89,249.55 L202.21,249.34 L202.53,249.13 L202.86,248.9 L203.18,248.66 L203.5,248.4 L203.83,248.13 L204.15,247.85 L204.47,247.55 L204.8,247.24 L205.12,246.92 L205.44,246.59 L205.77,246.24 L206.09,245.89 L206.42,245.53 L206.74,245.16 L207.06,244.78 L207.39,244.4 L207.71,244.01 L208.03,243.61 L208.36,243.21 L208.68,242.79 L209,242.36 L209.33,241.92 L209.65,241.47 L209.97,241 L210.3,240.52 L210.62,240.03 L210.94,239.53 L211.27,239.02 L211.59,238.49 L211.92,237.95 L212.24,237.4 L212.56,236.84 L212.89,236.26 L213.21,235.67 L213.53,235.07 L213.86,234.46 L214.18,233.83 L214.5,233.19 L214.83,232.53 L215.15,231.85 L215.47,231.13 L215.8,230.38 L216.12,229.6 L216.44,228.8 L216.77,227.97 L217.09,227.11 L217.42,226.23 L217.74,225.34 L218.06,224.42 L218.39,223.49 L218.71,222.55 L219.03,221.59 L219.36,220.58 L219.68,219.53 L220,218.43 L220.33,217.31 L220.65,216.17 L220.97,215.02 L221.3,213.88 L221.62,212.74 L221.94,211.59 L222.27,210.44 L222.59,209.27 L222.92,208.1 L223.24,206.92 L223.56,205.73 L223.89,204.54 L224.21,203.34 L224.53,202.14 L224.86,200.94 L225.18,199.73 L225.5,198.52 L225.83,197.31 L226.15,196.1 L226.47,194.89 L226.8,193.68 L227.12,192.47 L227.44,191.26 L227.77,190.05 L228.09,188.84 L228.42,187.61 L228.74,186.36 L229.06,185.09 L229.39,183.82 L229.71,182.55 L230.03,181.3 L230.36,180.07 L230.68,178.87 L231,177.7 L231.33,176.59 L231.65,175.52 L231.97,174.47 L232.3,173.41 L232.62,172.37 L232.94,171.35 L233.27,170.36 L233.59,169.4 L233.92,168.49 L234.24,167.63 L234.56,166.83 L234.89,166.1 L235.21,165.44 L235.53,164.79 L235.86,164.14 L236.18,163.48 L236.5,162.83 L236.83,162.19 L237.15,161.57 L237.47,160.97 L237.8,160.4 L238.12,159.86 L238.44,159.36 L238.77,158.91 L239.09,158.51 L239.42,158.17 L239.74,157.89 L240.06,157.68 L240.39,157.55 L240.71,157.5 L241.03,157.53 L241.36,157.61 L241.68,157.76 L242,157.96 L242.33,158.2 L242.65,158.5 L242.97,158.83 L243.3,159.2 L243.62,159.61 L243.94,160.04 L244.27,160.51 L244.59,160.99 L244.92,161.49 L245.24,162 L245.56,162.52 L245.89,163.05 L246.21,163.58 L246.53,164.11 L246.86,164.63 L247.18,165.15 L247.5,165.64 L247.83,166.15 L248.15,166.7 L248.47,167.27 L248.8,167.86 L249.12,168.48 L249.44,169.12 L249.77,169.77 L250.09,170.44 L250.42,171.12 L250.74,171.81 L251.06,172.51 L251.39,173.21 L251.71,173.91 L252.03,174.61 L252.36,175.3 L252.68,175.99 L253,176.68 L253.33,177.37 L253.65,178.06 L253.97,178.76 L254.3,179.47 L254.62,180.18 L254.94,180.89 L255.27,181.61 L255.59,182.34 L255.91,183.08 L256.24,183.82 L256.56,184.56 L256.89,185.32 L257.21,186.08 L257.53,186.85 L257.86,187.63 L258.18,188.42 L258.5,189.22 L258.83,190.03 L259.15,190.86 L259.47,191.69 L259.8,192.52 L260.12,193.37 L260.44,194.23 L260.77,195.09 L261.09,195.95 L261.41,196.83 L261.74,197.71 L262.06,198.59 L262.39,199.48 L262.71,200.38 L263.03,201.29 L263.36,202.21 L263.68,203.14 L264,204.08 L264.33,205.02 L264.65,205.97 L264.97,206.91 L265.3,207.86 L265.62,208.81 L265.94,209.76 L266.27,210.71 L266.59,211.65 L266.91,212.59 L267.24,213.53 L267.56,214.49 L267.89,215.44 L268.21,216.4 L268.53,217.36 L268.86,218.33 L269.18,219.28 L269.5,220.24 L269.83,221.19 L270.15,222.13 L270.47,223.05 L270.8,223.97 L271.12,224.87 L271.44,225.76 L271.77,226.64 L272.09,227.54 L272.41,228.44 L272.74,229.35 L273.06,230.26 L273.39,231.17 L273.71,232.07 L274.03,232.95 L274.36,233.82 L274.68,234.67 L275,235.49 L275.33,236.28 L275.65,237.03 L275.97,237.74 L276.3,238.41 L276.62,239.03 L276.94,239.6 L277.27,240.15 L277.59,240.68 L277.91,241.2 L278.24,241.71 L278.56,242.21 L278.89,242.69 L279.21,243.17 L279.53,243.63 L279.86,244.08 L280.18,244.52 L280.5,244.94 L280.83,245.35 L281.15,245.75 L281.47,246.13 L281.8,246.5 L282.12,246.85 L282.44,247.19 L282.77,247.52 L283.09,247.83 L283.41,248.12 L283.74,248.4 L284.06,248.66 L284.39,248.91 L284.71,249.14 L285.03,249.36 L285.36,249.58 L285.68,249.79 L286,250 L286.33,250.21 L286.65,250.41 L286.97,250.6 L287.3,250.79 L287.62,250.97 L287.94,251.15 L288.27,251.32 L288.59,251.48 L288.91,251.64 L289.24,251.8 L289.56,251.95 L289.89,252.09 L290.21,252.22 L290.53,252.35 L290.86,252.48 L291.18,252.6 L291.5,252.71 L291.83,252.81 L292.15,252.91 L292.47,253.01 L292.8,253.09 L293.12,253.18 L293.44,253.26 L293.77,253.34 L294.09,253.42 L294.41,253.5 L294.74,253.58 L295.06,253.66 L295.39,253.74 L295.71,253.81 L296.03,253.89 L296.36,253.96 L296.68,254.02 L297,254.09 L297.33,254.15 L297.65,254.2 L297.97,254.25 L298.3,254.3 L298.62,254.35 L298.94,254.38 L299.27,254.42 L299.59,254.45 L299.91,254.47 L300.24,254.49 L300.56,254.5 L300.89,254.5 L301.21,254.5 L301.53,254.5 L301.86,254.5 L302.18,254.5 L302.5,254.5 L302.83,254.5 L303.15,254.5" fill="none" stroke="#000" stroke-width="1.3" stroke-dasharray="3,1.6"/>
<path d="M174.06,254.5 L174.39,254.5 L174.71,254.5 L175.03,254.49 L175.36,254.49 L175.68,254.48 L176,254.48 L176.33,254.47 L176.65,254.46 L176.97,254.45 L177.3,254.44 L177.62,254.43 L177.94,254.42 L178.27,254.41 L178.59,254.4 L178.92,254.38 L179.24,254.36 L179.56,254.34 L179.89,254.31 L180.21,254.28 L180.53,254.24 L180.86,254.2 L181.18,254.15 L181.5,254.1 L181.83,254.05 L182.15,253.99 L182.47,253.93 L182.8,253.87 L183.12,253.8 L183.44,253.73 L183.77,253.66 L184.09,253.59 L184.42,253.51 L184.74,253.43 L185.06,253.35 L185.39,253.26 L185.71,253.18 L186.03,253.09 L186.36,253 L186.68,252.91 L187,252.82 L187.33,252.72 L187.65,252.63 L187.97,252.54 L188.3,252.44 L188.62,252.34 L188.94,252.24 L189.27,252.12 L189.59,252 L189.92,251.88 L190.24,251.74 L190.56,251.6 L190.89,251.45 L191.21,251.3 L191.53,251.14 L191.86,250.97 L192.18,250.8 L192.5,250.62 L192.83,250.44 L193.15,250.25 L193.47,250.05 L193.8,249.85 L194.12,249.64 L194.44,249.43 L194.77,249.22 L195.09,249 L195.42,248.76 L195.74,248.51 L196.06,248.25 L196.39,247.97 L196.71,247.68 L197.03,247.38 L197.36,247.06 L197.68,246.73 L198,246.4 L198.33,246.05 L198.65,245.69 L198.97,245.32 L199.3,244.95 L199.62,244.56 L199.94,244.17 L200.27,243.78 L200.59,243.37 L200.92,242.94 L201.24,242.5 L201.56,242.05 L201.89,241.58 L202.21,241.09 L202.53,240.59 L202.86,240.08 L203.18,239.55 L203.5,239.01 L203.83,238.46 L204.15,237.9 L204.47,237.32 L204.8,236.73 L205.12,236.14 L205.44,235.53 L205.77,234.91 L206.09,234.28 L206.42,233.65 L206.74,233 L207.06,232.34 L207.39,231.65 L207.71,230.92 L208.03,230.17 L208.36,229.39 L208.68,228.59 L209,227.78 L209.33,226.95 L209.65,226.12 L209.97,225.28 L210.3,224.44 L210.62,223.6 L210.94,222.77 L211.27,221.95 L211.59,221.14 L211.92,220.33 L212.24,219.51 L212.56,218.68 L212.89,217.86 L213.21,217.03 L213.53,216.2 L213.86,215.37 L214.18,214.53 L214.5,213.7 L214.83,212.87 L215.15,212.04 L215.47,211.21 L215.8,210.39 L216.12,209.58 L216.44,208.78 L216.77,207.99 L217.09,207.2 L217.42,206.41 L217.74,205.62 L218.06,204.82 L218.39,204 L218.71,203.17 L219.03,202.32 L219.36,201.43 L219.68,200.52 L220,199.58 L220.33,198.59 L220.65,197.56 L220.97,196.5 L221.3,195.41 L221.62,194.29 L221.94,193.16 L222.27,192.02 L222.59,190.87 L222.92,189.71 L223.24,188.55 L223.56,187.36 L223.89,186.15 L224.21,184.91 L224.53,183.66 L224.86,182.41 L225.18,181.15 L225.5,179.91 L225.83,178.69 L226.15,177.49 L226.47,176.33 L226.8,175.18 L227.12,173.99 L227.44,172.78 L227.77,171.57 L228.09,170.38 L228.42,169.24 L228.74,168.17 L229.06,167.2 L229.39,166.35 L229.71,165.66 L230.03,165.06 L230.36,164.46 L230.68,163.88 L231,163.3 L231.33,162.74 L231.65,162.2 L231.97,161.67 L232.3,161.16 L232.62,160.67 L232.94,160.21 L233.27,159.77 L233.59,159.36 L233.92,158.98 L234.24,158.63 L234.56,158.32 L234.89,158.05 L235.21,157.81 L235.53,157.62 L235.86,157.47 L236.18,157.36 L236.5,157.31 L236.83,157.3 L237.15,157.34 L237.47,157.4 L237.8,157.5 L238.12,157.63 L238.44,157.78 L238.77,157.97 L239.09,158.17 L239.42,158.4 L239.74,158.65 L240.06,158.92 L240.39,159.2 L240.71,159.49 L241.03,159.8 L241.36,160.12 L241.68,160.44 L242,160.86 L242.33,161.4 L242.65,162.06 L242.97,162.8 L243.3,163.62 L243.62,164.49 L243.94,165.41 L244.27,166.35 L244.59,167.29 L244.92,168.22 L245.24,169.12 L245.56,169.97 L245.89,170.76 L246.21,171.5 L246.53,172.22 L246.86,172.92 L247.18,173.62 L247.5,174.3 L247.83,174.98 L248.15,175.66 L248.47,176.34 L248.8,177.03 L249.12,177.72 L249.44,178.42 L249.77,179.13 L250.09,179.87 L250.42,180.62 L250.74,181.39 L251.06,182.19 L251.39,183.01 L251.71,183.84 L252.03,184.69 L252.36,185.55 L252.68,186.43 L253,187.31 L253.33,188.2 L253.65,189.1 L253.97,190 L254.3,190.9 L254.62,191.82 L254.94,192.74 L255.27,193.68 L255.59,194.63 L255.91,195.59 L256.24,196.56 L256.56,197.54 L256.89,198.55 L257.21,199.57 L257.53,200.62 L257.86,201.69 L258.18,202.77 L258.5,203.87 L258.83,204.98 L259.15,206.1 L259.47,207.22 L259.8,208.33 L260.12,209.44 L260.44,210.54 L260.77,211.62 L261.09,212.69 L261.41,213.77 L261.74,214.86 L262.06,215.95 L262.39,217.05 L262.71,218.15 L263.03,219.23 L263.36,220.3 L263.68,221.35 L264,222.38 L264.33,223.38 L264.65,224.34 L264.97,225.26 L265.3,226.13 L265.62,226.99 L265.94,227.84 L266.27,228.68 L266.59,229.52 L266.91,230.33 L267.24,231.14 L267.56,231.93 L267.89,232.71 L268.21,233.46 L268.53,234.2 L268.86,234.92 L269.18,235.62 L269.5,236.29 L269.83,236.94 L270.15,237.56 L270.47,238.16 L270.8,238.72 L271.12,239.26 L271.44,239.77 L271.77,240.27 L272.09,240.76 L272.41,241.25 L272.74,241.73 L273.06,242.2 L273.39,242.66 L273.71,243.11 L274.03,243.55 L274.36,243.98 L274.68,244.4 L275,244.81 L275.33,245.21 L275.65,245.6 L275.97,245.97 L276.3,246.33 L276.62,246.68 L276.94,247.01 L277.27,247.33 L277.59,247.63 L277.91,247.92 L278.24,248.19 L278.56,248.45 L278.89,248.69 L279.21,248.91 L279.53,249.11 L279.86,249.31 L280.18,249.51 L280.5,249.7 L280.83,249.89 L281.15,250.07 L281.47,250.25 L281.8,250.42 L282.12,250.59 L282.44,250.75 L282.77,250.91 L283.09,251.06 L283.41,251.22 L283.74,251.36 L284.06,251.5 L284.39,251.64 L284.71,251.77 L285.03,251.9 L285.36,252.02 L285.68,252.14 L286,252.26 L286.33,252.37 L286.65,252.47 L286.97,252.57 L287.3,252.67 L287.62,252.76 L287.94,252.85 L288.27,252.93 L288.59,253.01 L288.91,253.08 L289.24,253.15 L289.56,253.22 L289.89,253.29 L290.21,253.36 L290.53,253.43 L290.86,253.5 L291.18,253.56 L291.5,253.63 L291.83,253.69 L292.15,253.76 L292.47,253.82 L292.8,253.88 L293.12,253.94 L293.44,254 L293.77,254.05 L294.09,254.1 L294.41,254.15 L294.74,254.2 L295.06,254.24 L295.39,254.28 L295.71,254.32 L296.03,254.36 L296.36,254.39 L296.68,254.42 L297,254.44 L297.33,254.46 L297.65,254.48 L297.97,254.49 L298.3,254.5 L298.62,254.5 L298.94,254.5 L299.27,254.5 L299.59,254.5 L299.91,254.5 L300.24,254.5 L300.56,254.5 L300.89,254.5 L301.21,254.5 L301.53,254.5 L301.86,254.5 L302.18,254.5 L302.5,254.5 L302.83,254.5 L303.15,254.5" fill="none" stroke="#000" stroke-width="1.25"/>
<path d="M174.06,247.9 L174.39,248.02 L174.71,248.13 L175.03,248.24 L175.36,248.34 L175.68,248.45 L176,248.55 L176.33,248.65 L176.65,248.75 L176.97,248.84 L177.3,248.94 L177.62,249.03 L177.94,249.12 L178.27,249.2 L178.59,249.29 L178.92,249.37 L179.24,249.45 L179.56,249.53 L179.89,249.6 L180.21,249.67 L180.53,249.74 L180.86,249.81 L181.18,249.88 L181.5,249.95 L181.83,250.02 L182.15,250.09 L182.47,250.16 L182.8,250.23 L183.12,250.3 L183.44,250.37 L183.77,250.44 L184.09,250.51 L184.42,250.57 L184.74,250.63 L185.06,250.69 L185.39,250.75 L185.71,250.8 L186.03,250.85 L186.36,250.9 L186.68,250.94 L187,250.98 L187.33,251.01 L187.65,251.04 L187.97,251.06 L188.3,251.08 L188.62,251.09 L188.94,251.1 L189.27,251.1 L189.59,251.1 L189.92,251.1 L190.24,251.1 L190.56,251.09 L190.89,251.09 L191.21,251.09 L191.53,251.08 L191.86,251.08 L192.18,251.07 L192.5,251.06 L192.83,251.06 L193.15,251.05 L193.47,251.04 L193.8,251.03 L194.12,251.02 L194.44,251.01 L194.77,251 L195.09,250.99 L195.42,250.98 L195.74,250.97 L196.06,250.95 L196.39,250.94 L196.71,250.93 L197.03,250.91 L197.36,250.9 L197.68,250.88 L198,250.86 L198.33,250.85 L198.65,250.83 L198.97,250.81 L199.3,250.79 L199.62,250.76 L199.94,250.72 L200.27,250.66 L200.59,250.59 L200.92,250.51 L201.24,250.41 L201.56,250.3 L201.89,250.19 L202.21,250.06 L202.53,249.93 L202.86,249.78 L203.18,249.63 L203.5,249.47 L203.83,249.31 L204.15,249.14 L204.47,248.97 L204.8,248.79 L205.12,248.61 L205.44,248.43 L205.77,248.24 L206.09,248.06 L206.42,247.87 L206.74,247.69 L207.06,247.5 L207.39,247.32 L207.71,247.14 L208.03,246.96 L208.36,246.78 L208.68,246.59 L209,246.4 L209.33,246.2 L209.65,246 L209.97,245.79 L210.3,245.58 L210.62,245.36 L210.94,245.14 L211.27,244.91 L211.59,244.68 L211.92,244.44 L212.24,244.2 L212.56,243.96 L212.89,243.71 L213.21,243.46 L213.53,243.2 L213.86,242.94 L214.18,242.68 L214.5,242.42 L214.83,242.15 L215.15,241.88 L215.47,241.6 L215.8,241.32 L216.12,241.04 L216.44,240.74 L216.77,240.43 L217.09,240.11 L217.42,239.79 L217.74,239.46 L218.06,239.13 L218.39,238.79 L218.71,238.44 L219.03,238.09 L219.36,237.75 L219.68,237.4 L220,237.05 L220.33,236.7 L220.65,236.35 L220.97,236.01 L221.3,235.67 L221.62,235.33 L221.94,234.99 L222.27,234.66 L222.59,234.32 L222.92,233.99 L223.24,233.65 L223.56,233.32 L223.89,232.98 L224.21,232.64 L224.53,232.3 L224.86,231.95 L225.18,231.6 L225.5,231.25 L225.83,230.89 L226.15,230.52 L226.47,230.15 L226.8,229.78 L227.12,229.39 L227.44,229 L227.77,228.6 L228.09,228.2 L228.42,227.78 L228.74,227.34 L229.06,226.89 L229.39,226.42 L229.71,225.95 L230.03,225.46 L230.36,224.97 L230.68,224.47 L231,223.97 L231.33,223.46 L231.65,222.96 L231.97,222.46 L232.3,221.96 L232.62,221.45 L232.94,220.92 L233.27,220.38 L233.59,219.84 L233.92,219.29 L234.24,218.75 L234.56,218.22 L234.89,217.7 L235.21,217.21 L235.53,216.74 L235.86,216.31 L236.18,215.92 L236.5,215.57 L236.83,215.26 L237.15,214.98 L237.47,214.71 L237.8,214.46 L238.12,214.2 L238.44,213.94 L238.77,213.65 L239.09,213.33 L239.42,212.98 L239.74,212.57 L240.06,212.11 L240.39,211.53 L240.71,210.8 L241.03,209.94 L241.36,208.97 L241.68,207.88 L242,206.72 L242.33,205.48 L242.65,204.19 L242.97,202.85 L243.3,201.5 L243.62,200.13 L243.94,198.77 L244.27,197.41 L244.59,195.94 L244.92,194.36 L245.24,192.73 L245.56,191.09 L245.89,189.48 L246.21,187.9 L246.53,186.29 L246.86,184.68 L247.18,183.08 L247.5,181.5 L247.83,179.97 L248.15,178.49 L248.47,176.94 L248.8,175.25 L249.12,173.48 L249.44,171.72 L249.77,170.05 L250.09,168.54 L250.42,167.26 L250.74,166.3 L251.06,165.73 L251.39,165.63 L251.71,166.14 L252.03,167.19 L252.36,168.67 L252.68,170.48 L253,172.5 L253.33,174.62 L253.65,176.73 L253.97,178.71 L254.3,180.46 L254.62,181.92 L254.94,183.25 L255.27,184.54 L255.59,185.81 L255.91,187.09 L256.24,188.45 L256.56,189.9 L256.89,191.42 L257.21,193.02 L257.53,194.67 L257.86,196.37 L258.18,198.11 L258.5,199.9 L258.83,201.75 L259.15,203.67 L259.47,205.7 L259.8,207.85 L260.12,210.14 L260.44,212.56 L260.77,215.09 L261.09,217.72 L261.41,220.55 L261.74,223.49 L262.06,226.45 L262.39,229.35 L262.71,232.47 L263.03,235.8 L263.36,239.19 L263.68,242.5 L264,245.56 L264.33,248.23 L264.65,250.35 L264.97,251.77 L265.3,252.73 L265.62,253.58 L265.94,254.2 L266.27,254.49 L266.59,254.5 L266.91,254.5 L267.24,254.5 L267.56,254.5 L267.89,254.5 L268.21,254.5 L268.53,254.5 L268.86,254.5 L269.18,254.5 L269.5,254.5 L269.83,254.5 L270.15,254.5 L270.47,254.5 L270.8,254.5 L271.12,254.5 L271.44,254.45 L271.77,254.33 L272.09,254.16 L272.41,253.94 L272.74,253.68 L273.06,253.39 L273.39,253.09 L273.71,252.77 L274.03,252.45 L274.36,252.14 L274.68,251.84 L275,251.57 L275.33,251.31 L275.65,251.02 L275.97,250.72 L276.3,250.39 L276.62,250.05 L276.94,249.71 L277.27,249.36 L277.59,249.02 L277.91,248.69 L278.24,248.37 L278.56,248.07 L278.89,247.8 L279.21,247.56 L279.53,247.36 L279.86,247.19 L280.18,247.08 L280.5,247.01 L280.83,247.01 L281.15,247.07 L281.47,247.2 L281.8,247.38 L282.12,247.61 L282.44,247.88 L282.77,248.17 L283.09,248.49 L283.41,248.83 L283.74,249.16 L284.06,249.49 L284.39,249.81 L284.71,250.11 L285.03,250.38 L285.36,250.62 L285.68,250.87 L286,251.13 L286.33,251.41 L286.65,251.69 L286.97,251.97 L287.3,252.26 L287.62,252.54 L287.94,252.82 L288.27,253.08 L288.59,253.34 L288.91,253.57 L289.24,253.79 L289.56,253.98 L289.89,254.15 L290.21,254.29 L290.53,254.4 L290.86,254.47 L291.18,254.5 L291.5,254.5 L291.83,254.5 L292.15,254.5 L292.47,254.5 L292.8,254.5 L293.12,254.5 L293.44,254.5 L293.77,254.5 L294.09,254.5 L294.41,254.5 L294.74,254.5 L295.06,254.5 L295.39,254.5 L295.71,254.5 L296.03,254.5 L296.36,254.5 L296.68,254.5 L297,254.5 L297.33,254.5 L297.65,254.5 L297.97,254.5 L298.3,254.5 L298.62,254.5 L298.94,254.5 L299.27,254.49 L299.59,254.47 L299.91,254.44 L300.24,254.41 L300.56,254.38 L300.89,254.34 L301.21,254.3 L301.53,254.25 L301.86,254.2 L302.18,254.15 L302.5,254.1 L302.83,254.05 L303.15,254" fill="none" stroke="#17997f" stroke-width="1.45"/>
<path d="M174.3,254.5 H303.15" fill="none" stroke="#000" stroke-width="1.3"/>
<path d="M190.9,254.5 V256.9 M213.35,254.5 V256.9 M235.8,254.5 V256.9 M258.25,254.5 V256.9 M280.7,254.5 V256.9 M303.15,254.5 V256.9 M179.68,254.5 V256.1 M202.12,254.5 V256.1 M224.57,254.5 V256.1 M247.03,254.5 V256.1 M269.48,254.5 V256.1 M291.93,254.5 V256.1" fill="none" stroke="#000" stroke-width="1"/>
<text x="190.9" y="264.4" text-anchor="middle" font-size="6.7" fill="#111" stroke="#111" stroke-width="0.16">2</text>
<text x="213.35" y="264.4" text-anchor="middle" font-size="6.7" fill="#111" stroke="#111" stroke-width="0.16">3</text>
<text x="235.8" y="264.4" text-anchor="middle" font-size="6.7" fill="#111" stroke="#111" stroke-width="0.16">4</text>
<text x="258.25" y="264.4" text-anchor="middle" font-size="6.7" fill="#111" stroke="#111" stroke-width="0.16">5</text>
<text x="280.7" y="264.4" text-anchor="middle" font-size="6.7" fill="#111" stroke="#111" stroke-width="0.16">6</text>
<text x="303.15" y="264.4" text-anchor="middle" font-size="6.7" fill="#111" stroke="#111" stroke-width="0.16">7</text>
<text x="240.29" y="272.4" text-anchor="middle" font-size="6.4" textLength="13.6" lengthAdjust="spacingAndGlyphs" fill="#111" stroke="#111" stroke-width="0.12"><tspan font-style="italic">r</tspan> [nm]</text>
<path d="M337.58,253.57 L337.9,253.41 L338.22,253.26 L338.55,253.12 L338.87,252.99 L339.19,252.86 L339.52,252.74 L339.84,252.63 L340.16,252.53 L340.49,252.43 L340.81,252.34 L341.13,252.26 L341.46,252.18 L341.78,252.11 L342.1,252.05 L342.43,252 L342.75,251.95 L343.07,251.91 L343.4,251.88 L343.72,251.85 L344.04,251.83 L344.37,251.81 L344.69,251.8 L345.01,251.8 L345.34,251.81 L345.66,251.85 L345.98,251.9 L346.3,251.97 L346.63,252.06 L346.95,252.15 L347.27,252.27 L347.6,252.39 L347.92,252.52 L348.24,252.65 L348.57,252.79 L348.89,252.94 L349.21,253.08 L349.54,253.23 L349.86,253.37 L350.18,253.51 L350.51,253.64 L350.83,253.77 L351.15,253.89 L351.48,253.99 L351.8,254.09 L352.12,254.17 L352.45,254.23 L352.77,254.28 L353.09,254.3 L353.42,254.32 L353.74,254.34 L354.06,254.35 L354.39,254.37 L354.71,254.39 L355.03,254.4 L355.36,254.42 L355.68,254.43 L356,254.45 L356.33,254.46 L356.65,254.48 L356.97,254.49 L357.3,254.5 L357.62,254.52 L357.94,254.53 L358.26,254.54 L358.59,254.56 L358.91,254.57 L359.23,254.58 L359.56,254.59 L359.88,254.6 L360.2,254.61 L360.53,254.62 L360.85,254.63 L361.17,254.64 L361.5,254.65 L361.82,254.66 L362.14,254.67 L362.47,254.68 L362.79,254.69 L363.11,254.7 L363.44,254.7 L363.76,254.71 L364.08,254.72 L364.41,254.72 L364.73,254.73 L365.05,254.74 L365.38,254.74 L365.7,254.75 L366.02,254.75 L366.35,254.76 L366.67,254.76 L366.99,254.77 L367.32,254.77 L367.64,254.78 L367.96,254.78 L368.29,254.78 L368.61,254.79 L368.93,254.79 L369.25,254.79 L369.58,254.79 L369.9,254.79 L370.22,254.8 L370.55,254.8 L370.87,254.8 L371.19,254.8 L371.52,254.8 L371.84,254.8 L372.16,254.67 L372.49,254.26 L372.81,253.69 L373.13,252.95 L373.46,251.95 L373.78,250.79 L374.1,249.47 L374.43,248.04 L374.75,246.51 L375.07,244.91 L375.4,243.25 L375.72,241.39 L376.04,238.91 L376.37,235.92 L376.69,232.52 L377.01,228.86 L377.34,225.04 L377.66,221.2 L377.98,217.45 L378.31,213.44 L378.63,209.08 L378.95,204.61 L379.28,200.29 L379.6,196.38 L379.92,193.05 L380.25,190.07 L380.57,187.32 L380.89,184.71 L381.21,182.18 L381.54,179.63 L381.86,176.97 L382.18,173.86 L382.51,170.45 L382.83,167.05 L383.15,163.98 L383.48,161.55 L383.8,160.09 L384.12,159.86 L384.45,160.59 L384.77,162 L385.09,163.89 L385.42,166.07 L385.74,168.34 L386.06,170.5 L386.39,172.37 L386.71,173.94 L387.03,175.64 L387.36,177.42 L387.68,179.2 L388,180.91 L388.33,182.48 L388.65,183.83 L388.97,184.88 L389.3,185.56 L389.62,185.8 L389.94,185.71 L390.27,185.45 L390.59,185.07 L390.91,184.58 L391.24,184.03 L391.56,183.44 L391.88,182.84 L392.2,182.27 L392.53,181.75 L392.85,181.31 L393.17,180.99 L393.5,180.82 L393.82,180.95 L394.14,182 L394.47,183.77 L394.79,185.98 L395.11,188.32 L395.44,190.49 L395.76,192.23 L396.08,193.7 L396.41,195.06 L396.73,196.4 L397.05,197.76 L397.38,199.23 L397.7,200.85 L398.02,202.75 L398.35,204.89 L398.67,207.18 L398.99,209.53 L399.32,211.85 L399.64,214.02 L399.96,215.97 L400.29,217.81 L400.61,219.65 L400.93,221.44 L401.26,223.14 L401.58,224.71 L401.9,226.1 L402.23,227.27 L402.55,228.2 L402.87,229 L403.2,229.72 L403.52,230.35 L403.84,230.94 L404.16,231.49 L404.49,232.01 L404.81,232.54 L405.13,233.08 L405.46,233.65 L405.78,234.25 L406.1,234.84 L406.43,235.43 L406.75,236.01 L407.07,236.59 L407.4,237.17 L407.72,237.75 L408.04,238.34 L408.37,238.93 L408.69,239.53 L409.01,240.14 L409.34,240.77 L409.66,241.42 L409.98,242.11 L410.31,242.84 L410.63,243.58 L410.95,244.33 L411.28,245.09 L411.6,245.84 L411.92,246.57 L412.25,247.28 L412.57,247.96 L412.89,248.59 L413.22,249.17 L413.54,249.69 L413.86,250.16 L414.19,250.64 L414.51,251.12 L414.83,251.59 L415.15,252.04 L415.48,252.46 L415.8,252.84 L416.12,253.17 L416.45,253.44 L416.77,253.65 L417.09,253.78 L417.42,253.84 L417.74,253.89 L418.06,253.94 L418.39,253.99 L418.71,254.03 L419.03,254.07 L419.36,254.11 L419.68,254.14 L420,254.17 L420.33,254.2 L420.65,254.22 L420.97,254.25 L421.3,254.26 L421.62,254.28 L421.94,254.29 L422.27,254.3 L422.59,254.3 L422.91,254.3 L423.24,254.24 L423.56,254.11 L423.88,253.92 L424.21,253.68 L424.53,253.39 L424.85,253.07 L425.18,252.72 L425.5,252.35 L425.82,251.96 L426.15,251.57 L426.47,251.18 L426.79,250.8 L427.11,250.44 L427.44,250.1 L427.76,249.79 L428.08,249.52 L428.41,249.31 L428.73,249.12 L429.05,248.93 L429.38,248.75 L429.7,248.57 L430.02,248.39 L430.35,248.22 L430.67,248.07 L430.99,247.92 L431.32,247.78 L431.64,247.65 L431.96,247.54 L432.29,247.44 L432.61,247.36 L432.93,247.3 L433.26,247.24 L433.58,247.18 L433.9,247.13 L434.23,247.08 L434.55,247.03 L434.87,246.98 L435.2,246.94 L435.52,246.9 L435.84,246.86 L436.17,246.83 L436.49,246.8 L436.81,246.77 L437.14,246.75 L437.46,246.73 L437.78,246.71 L438.1,246.7 L438.43,246.7 L438.75,246.72 L439.07,246.79 L439.4,246.91 L439.72,247.08 L440.04,247.28 L440.37,247.52 L440.69,247.79 L441.01,248.08 L441.34,248.39 L441.66,248.7 L441.98,249.02 L442.31,249.34 L442.63,249.64 L442.95,249.94 L443.28,250.22 L443.6,250.47 L443.92,250.68 L444.25,250.87 L444.57,251.06 L444.89,251.25 L445.22,251.44 L445.54,251.64 L445.86,251.83 L446.19,252.01 L446.51,252.18 L446.83,252.34 L447.16,252.48 L447.48,252.6 L447.8,252.7 L448.13,252.76 L448.45,252.8 L448.77,252.8 L449.1,252.8 L449.42,252.8 L449.74,252.8 L450.06,252.8 L450.39,252.8 L450.71,252.8 L451.03,252.8 L451.36,252.8 L451.68,252.8 L452,252.8 L452.33,252.8 L452.65,252.8 L452.97,252.8 L453.3,252.8 L453.62,252.8 L453.94,252.8 L454.27,252.8 L454.59,252.8 L454.91,252.8 L455.24,252.8 L455.56,252.8 L455.88,252.8 L456.21,252.8 L456.53,252.8 L456.85,252.8 L457.18,252.8 L457.5,252.8 L457.82,252.8 L458.15,252.8 L458.47,252.8 L458.79,252.8 L459.12,252.8 L459.44,252.8 L459.76,252.8 L460.09,252.8 L460.41,252.8 L460.73,252.8 L461.05,252.8 L461.38,252.8 L461.7,252.8 L462.02,252.8 L462.35,252.8 L462.67,252.8 L462.99,252.8 L463.32,252.8 L463.64,252.8 L463.96,252.8 L464.29,252.8 L464.61,252.8 L464.93,252.8 L465.26,252.8 L465.58,252.8 L465.9,252.8 L466.23,252.8 L466.55,252.8 L466.55,254.8 L466.23,254.8 L465.9,254.8 L465.58,254.8 L465.26,254.8 L464.93,254.8 L464.61,254.8 L464.29,254.8 L463.96,254.8 L463.64,254.8 L463.32,254.8 L462.99,254.8 L462.67,254.8 L462.35,254.8 L462.02,254.8 L461.7,254.8 L461.38,254.8 L461.05,254.8 L460.73,254.8 L460.41,254.8 L460.09,254.8 L459.76,254.8 L459.44,254.8 L459.12,254.8 L458.79,254.8 L458.47,254.8 L458.15,254.8 L457.82,254.8 L457.5,254.8 L457.18,254.8 L456.85,254.8 L456.53,254.8 L456.21,254.8 L455.88,254.8 L455.56,254.8 L455.24,254.8 L454.91,254.8 L454.59,254.8 L454.27,254.8 L453.94,254.8 L453.62,254.8 L453.3,254.8 L452.97,254.8 L452.65,254.8 L452.33,254.8 L452,254.8 L451.68,254.8 L451.36,254.8 L451.03,254.8 L450.71,254.8 L450.39,254.8 L450.06,254.8 L449.74,254.8 L449.42,254.8 L449.1,254.8 L448.77,254.8 L448.45,254.8 L448.13,254.8 L447.8,254.8 L447.48,254.8 L447.16,254.8 L446.83,254.8 L446.51,254.8 L446.19,254.8 L445.86,254.8 L445.54,254.8 L445.22,254.8 L444.89,254.8 L444.57,254.8 L444.25,254.8 L443.92,254.8 L443.6,254.8 L443.28,254.8 L442.95,254.8 L442.63,254.8 L442.31,254.8 L441.98,254.8 L441.66,254.8 L441.34,254.8 L441.01,254.8 L440.69,254.8 L440.37,254.8 L440.04,254.8 L439.72,254.8 L439.4,254.8 L439.07,254.8 L438.75,254.8 L438.43,254.8 L438.1,254.8 L437.78,254.8 L437.46,254.8 L437.14,254.8 L436.81,254.8 L436.49,254.8 L436.17,254.8 L435.84,254.8 L435.52,254.8 L435.2,254.8 L434.87,254.8 L434.55,254.8 L434.23,254.8 L433.9,254.8 L433.58,254.8 L433.26,254.8 L432.93,254.8 L432.61,254.8 L432.29,254.8 L431.96,254.8 L431.64,254.8 L431.32,254.8 L430.99,254.8 L430.67,254.8 L430.35,254.8 L430.02,254.8 L429.7,254.8 L429.38,254.8 L429.05,254.8 L428.73,254.8 L428.41,254.8 L428.08,254.8 L427.76,254.8 L427.44,254.8 L427.11,254.8 L426.79,254.8 L426.47,254.8 L426.15,254.8 L425.82,254.8 L425.5,254.8 L425.18,254.8 L424.85,254.8 L424.53,254.8 L424.21,254.8 L423.88,254.8 L423.56,254.8 L423.24,254.8 L422.91,254.8 L422.59,254.8 L422.27,254.8 L421.94,254.8 L421.62,254.8 L421.3,254.8 L420.97,254.8 L420.65,254.8 L420.33,254.8 L420,254.8 L419.68,254.8 L419.36,254.8 L419.03,254.8 L418.71,254.8 L418.39,254.8 L418.06,254.8 L417.74,254.8 L417.42,254.8 L417.09,254.8 L416.77,254.8 L416.45,254.8 L416.12,254.8 L415.8,254.8 L415.48,254.8 L415.15,254.8 L414.83,254.8 L414.51,254.8 L414.19,254.8 L413.86,254.8 L413.54,254.8 L413.22,254.7 L412.89,254.49 L412.57,254.18 L412.25,253.78 L411.92,253.32 L411.6,252.79 L411.28,252.22 L410.95,251.63 L410.63,251.02 L410.31,250.42 L409.98,249.83 L409.66,249.28 L409.34,248.77 L409.01,248.29 L408.69,247.81 L408.37,247.32 L408.04,246.83 L407.72,246.34 L407.4,245.84 L407.07,245.33 L406.75,244.82 L406.43,244.29 L406.1,243.76 L405.78,243.21 L405.46,242.66 L405.13,242.12 L404.81,241.61 L404.49,241.09 L404.16,240.57 L403.84,240.02 L403.52,239.42 L403.2,238.77 L402.87,238.03 L402.55,237.21 L402.23,236.25 L401.9,234.99 L401.58,233.47 L401.26,231.74 L400.93,229.87 L400.61,227.91 L400.29,225.93 L399.96,223.98 L399.64,221.99 L399.32,219.84 L398.99,217.6 L398.67,215.33 L398.35,213.07 L398.02,210.89 L397.7,208.86 L397.38,206.96 L397.05,205.13 L396.73,203.36 L396.41,201.64 L396.08,199.94 L395.76,198.26 L395.44,196.48 L395.11,194.42 L394.79,192.3 L394.47,190.36 L394.14,188.82 L393.82,187.93 L393.5,187.82 L393.17,187.99 L392.85,188.31 L392.53,188.75 L392.2,189.27 L391.88,189.84 L391.56,190.44 L391.24,191.03 L390.91,191.58 L390.59,192.07 L390.27,192.45 L389.94,192.71 L389.62,192.8 L389.3,192.54 L388.97,191.79 L388.65,190.64 L388.33,189.17 L388,187.47 L387.68,185.62 L387.36,183.7 L387.03,181.8 L386.71,180 L386.39,178.35 L386.06,176.45 L385.74,174.27 L385.42,172.01 L385.09,169.84 L384.77,167.97 L384.45,166.58 L384.12,165.86 L383.8,166.11 L383.48,167.7 L383.15,170.31 L382.83,173.6 L382.51,177.21 L382.18,180.78 L381.86,183.97 L381.54,186.61 L381.21,189.06 L380.89,191.46 L380.57,193.88 L380.25,196.43 L379.92,199.18 L379.6,202.26 L379.28,205.81 L378.95,209.7 L378.63,213.73 L378.31,217.71 L377.98,221.46 L377.66,225.13 L377.34,229.03 L377.01,232.99 L376.69,236.82 L376.37,240.32 L376.04,243.33 L375.72,245.65 L375.4,247.13 L375.07,248.32 L374.75,249.43 L374.43,250.48 L374.1,251.43 L373.78,252.29 L373.46,253.03 L373.13,253.66 L372.81,254.17 L372.49,254.53 L372.16,254.74 L371.84,254.8 L371.52,254.8 L371.19,254.8 L370.87,254.8 L370.55,254.8 L370.22,254.8 L369.9,254.8 L369.58,254.8 L369.25,254.8 L368.93,254.8 L368.61,254.8 L368.29,254.8 L367.96,254.8 L367.64,254.8 L367.32,254.8 L366.99,254.8 L366.67,254.8 L366.35,254.8 L366.02,254.8 L365.7,254.8 L365.38,254.8 L365.05,254.8 L364.73,254.8 L364.41,254.8 L364.08,254.8 L363.76,254.8 L363.44,254.8 L363.11,254.8 L362.79,254.8 L362.47,254.8 L362.14,254.8 L361.82,254.8 L361.5,254.8 L361.17,254.8 L360.85,254.8 L360.53,254.8 L360.2,254.8 L359.88,254.8 L359.56,254.8 L359.23,254.8 L358.91,254.8 L358.59,254.8 L358.26,254.8 L357.94,254.8 L357.62,254.8 L357.3,254.8 L356.97,254.8 L356.65,254.8 L356.33,254.8 L356,254.8 L355.68,254.8 L355.36,254.8 L355.03,254.8 L354.71,254.8 L354.39,254.8 L354.06,254.8 L353.74,254.8 L353.42,254.8 L353.09,254.8 L352.77,254.8 L352.45,254.8 L352.12,254.8 L351.8,254.8 L351.48,254.8 L351.15,254.8 L350.83,254.8 L350.51,254.8 L350.18,254.8 L349.86,254.8 L349.54,254.8 L349.21,254.8 L348.89,254.8 L348.57,254.8 L348.24,254.8 L347.92,254.8 L347.6,254.8 L347.27,254.8 L346.95,254.8 L346.63,254.8 L346.3,254.8 L345.98,254.8 L345.66,254.8 L345.34,254.8 L345.01,254.8 L344.69,254.8 L344.37,254.8 L344.04,254.8 L343.72,254.8 L343.4,254.8 L343.07,254.8 L342.75,254.8 L342.43,254.8 L342.1,254.8 L341.78,254.8 L341.46,254.8 L341.13,254.8 L340.81,254.8 L340.49,254.8 L340.16,254.8 L339.84,254.8 L339.52,254.8 L339.19,254.8 L338.87,254.8 L338.55,254.8 L338.22,254.8 L337.9,254.8 L337.58,254.8 Z" fill="#b4b4b4" stroke="none"/>
<path d="M337.58,254.8 L337.9,254.8 L338.22,254.8 L338.55,254.8 L338.87,254.8 L339.19,254.8 L339.52,254.8 L339.84,254.8 L340.16,254.8 L340.49,254.8 L340.81,254.8 L341.13,254.8 L341.46,254.8 L341.78,254.8 L342.1,254.8 L342.43,254.8 L342.75,254.8 L343.07,254.8 L343.4,254.8 L343.72,254.8 L344.04,254.8 L344.37,254.8 L344.69,254.8 L345.01,254.8 L345.34,254.8 L345.66,254.8 L345.98,254.8 L346.3,254.8 L346.63,254.8 L346.95,254.8 L347.27,254.8 L347.6,254.8 L347.92,254.8 L348.24,254.8 L348.57,254.8 L348.89,254.8 L349.21,254.8 L349.54,254.8 L349.86,254.8 L350.18,254.8 L350.51,254.8 L350.83,254.8 L351.15,254.8 L351.48,254.8 L351.8,254.8 L352.12,254.8 L352.45,254.8 L352.77,254.8 L353.09,254.8 L353.42,254.8 L353.74,254.8 L354.06,254.8 L354.39,254.8 L354.71,254.8 L355.03,254.8 L355.36,254.8 L355.68,254.8 L356,254.8 L356.33,254.8 L356.65,254.8 L356.97,254.8 L357.3,254.8 L357.62,254.8 L357.94,254.8 L358.26,254.8 L358.59,254.8 L358.91,254.8 L359.23,254.8 L359.56,254.8 L359.88,254.8 L360.2,254.8 L360.53,254.8 L360.85,254.8 L361.17,254.8 L361.5,254.8 L361.82,254.8 L362.14,254.8 L362.47,254.8 L362.79,254.8 L363.11,254.8 L363.44,254.8 L363.76,254.8 L364.08,254.8 L364.41,254.8 L364.73,254.8 L365.05,254.8 L365.38,254.8 L365.7,254.8 L366.02,254.8 L366.35,254.8 L366.67,254.8 L366.99,254.8 L367.32,254.8 L367.64,254.8 L367.96,254.8 L368.29,254.8 L368.61,254.8 L368.93,254.8 L369.25,254.8 L369.58,254.8 L369.9,254.8 L370.22,254.8 L370.55,254.8 L370.87,254.8 L371.19,254.8 L371.52,254.8 L371.84,254.8 L372.16,254.8 L372.49,254.79 L372.81,254.66 L373.13,254.42 L373.46,254.09 L373.78,253.69 L374.1,253.26 L374.43,252.8 L374.75,252.36 L375.07,251.95 L375.4,251.56 L375.72,251.15 L376.04,250.74 L376.37,250.31 L376.69,249.87 L377.01,249.42 L377.34,248.96 L377.66,248.48 L377.98,247.99 L378.31,247.48 L378.63,246.96 L378.95,246.42 L379.28,245.86 L379.6,245.29 L379.92,244.69 L380.25,244.07 L380.57,243.43 L380.89,242.76 L381.21,242.06 L381.54,241.33 L381.86,240.58 L382.18,239.8 L382.51,238.99 L382.83,238.16 L383.15,237.3 L383.48,236.41 L383.8,235.5 L384.12,234.57 L384.45,233.6 L384.77,232.62 L385.09,231.6 L385.42,230.51 L385.74,229.35 L386.06,228.14 L386.39,226.87 L386.71,225.56 L387.03,224.21 L387.36,222.82 L387.68,221.42 L388,219.99 L388.33,218.51 L388.65,216.94 L388.97,215.31 L389.3,213.63 L389.62,211.94 L389.94,210.26 L390.27,208.62 L390.59,207.03 L390.91,205.51 L391.24,204.02 L391.56,202.56 L391.88,201.11 L392.2,199.65 L392.53,198.17 L392.85,196.66 L393.17,195.08 L393.5,193.44 L393.82,191.66 L394.14,189.76 L394.47,187.81 L394.79,185.86 L395.11,183.96 L395.44,182.18 L395.76,180.57 L396.08,179.04 L396.41,177.55 L396.73,176.11 L397.05,174.74 L397.38,173.43 L397.7,172.21 L398.02,171.08 L398.35,170.01 L398.67,168.91 L398.99,167.79 L399.32,166.66 L399.64,165.55 L399.96,164.48 L400.29,163.47 L400.61,162.54 L400.93,161.71 L401.26,161.01 L401.58,160.44 L401.9,160.05 L402.23,159.83 L402.55,159.82 L402.87,159.95 L403.2,160.21 L403.52,160.58 L403.84,161.05 L404.16,161.6 L404.49,162.21 L404.81,162.88 L405.13,163.58 L405.46,164.31 L405.78,165.03 L406.1,165.77 L406.43,166.62 L406.75,167.61 L407.07,168.71 L407.4,169.89 L407.72,171.13 L408.04,172.41 L408.37,173.7 L408.69,174.97 L409.01,176.22 L409.34,177.49 L409.66,178.81 L409.98,180.15 L410.31,181.51 L410.63,182.88 L410.95,184.22 L411.28,185.54 L411.6,186.81 L411.92,188.02 L412.25,189.17 L412.57,190.29 L412.89,191.41 L413.22,192.57 L413.54,193.79 L413.86,195.09 L414.19,196.52 L414.51,198.05 L414.83,199.65 L415.15,201.31 L415.48,203 L415.8,204.69 L416.12,206.36 L416.45,207.99 L416.77,209.56 L417.09,211.11 L417.42,212.65 L417.74,214.17 L418.06,215.7 L418.39,217.23 L418.71,218.79 L419.03,220.36 L419.36,221.97 L419.68,223.62 L420,225.3 L420.33,226.99 L420.65,228.7 L420.97,230.41 L421.3,232.11 L421.62,233.79 L421.94,235.45 L422.27,237.14 L422.59,238.9 L422.91,240.67 L423.24,242.43 L423.56,244.12 L423.88,245.71 L424.21,247.16 L424.53,248.43 L424.85,249.55 L425.18,250.68 L425.5,251.74 L425.82,252.68 L426.15,253.44 L426.47,253.96 L426.79,254.21 L427.11,254.4 L427.44,254.56 L427.76,254.69 L428.08,254.77 L428.41,254.8 L428.73,254.8 L429.05,254.8 L429.38,254.8 L429.7,254.8 L430.02,254.8 L430.35,254.8 L430.67,254.8 L430.99,254.8 L431.32,254.8 L431.64,254.8 L431.96,254.8 L432.29,254.8 L432.61,254.8 L432.93,254.8 L433.26,254.8 L433.58,254.8 L433.9,254.8 L434.23,254.8 L434.55,254.8 L434.87,254.8 L435.2,254.8 L435.52,254.8 L435.84,254.8 L436.17,254.8 L436.49,254.8 L436.81,254.8 L437.14,254.8 L437.46,254.8 L437.78,254.8 L438.1,254.8 L438.43,254.8 L438.75,254.8 L439.07,254.8 L439.4,254.8 L439.72,254.8 L440.04,254.8 L440.37,254.8 L440.69,254.8 L441.01,254.8 L441.34,254.8 L441.66,254.8 L441.98,254.8 L442.31,254.8 L442.63,254.8 L442.95,254.8 L443.28,254.8 L443.6,254.8 L443.92,254.8 L444.25,254.8 L444.57,254.8 L444.89,254.8 L445.22,254.8 L445.54,254.8 L445.86,254.8 L446.19,254.8 L446.51,254.8 L446.83,254.8 L447.16,254.8 L447.48,254.8 L447.8,254.8 L448.13,254.8 L448.45,254.8 L448.77,254.8 L449.1,254.8 L449.42,254.8 L449.74,254.8 L450.06,254.8 L450.39,254.8 L450.71,254.8 L451.03,254.8 L451.36,254.8 L451.68,254.8 L452,254.8 L452.33,254.8 L452.65,254.8 L452.97,254.8 L453.3,254.8 L453.62,254.8 L453.94,254.8 L454.27,254.8 L454.59,254.8 L454.91,254.8 L455.24,254.8 L455.56,254.8 L455.88,254.8 L456.21,254.8 L456.53,254.8 L456.85,254.8 L457.18,254.8 L457.5,254.8 L457.82,254.8 L458.15,254.8 L458.47,254.8 L458.79,254.8 L459.12,254.8 L459.44,254.8 L459.76,254.8 L460.09,254.8 L460.41,254.8 L460.73,254.8 L461.05,254.8 L461.38,254.8 L461.7,254.8 L462.02,254.8 L462.35,254.8 L462.67,254.8 L462.99,254.8 L463.32,254.8 L463.64,254.8 L463.96,254.8 L464.29,254.8 L464.61,254.8 L464.93,254.8 L465.26,254.8 L465.58,254.8 L465.9,254.8 L466.23,254.8 L466.55,254.8" fill="none" stroke="#000" stroke-width="1.3" stroke-dasharray="3,1.6"/>
<path d="M337.58,254.8 L337.9,254.8 L338.22,254.8 L338.55,254.8 L338.87,254.8 L339.19,254.8 L339.52,254.8 L339.84,254.8 L340.16,254.8 L340.49,254.8 L340.81,254.8 L341.13,254.8 L341.46,254.8 L341.78,254.8 L342.1,254.8 L342.43,254.8 L342.75,254.8 L343.07,254.8 L343.4,254.8 L343.72,254.8 L344.04,254.8 L344.37,254.8 L344.69,254.8 L345.01,254.8 L345.34,254.8 L345.66,254.8 L345.98,254.8 L346.3,254.8 L346.63,254.8 L346.95,254.8 L347.27,254.8 L347.6,254.8 L347.92,254.8 L348.24,254.8 L348.57,254.8 L348.89,254.8 L349.21,254.8 L349.54,254.8 L349.86,254.8 L350.18,254.8 L350.51,254.8 L350.83,254.8 L351.15,254.8 L351.48,254.8 L351.8,254.8 L352.12,254.8 L352.45,254.8 L352.77,254.8 L353.09,254.8 L353.42,254.8 L353.74,254.8 L354.06,254.8 L354.39,254.8 L354.71,254.8 L355.03,254.8 L355.36,254.8 L355.68,254.8 L356,254.8 L356.33,254.8 L356.65,254.8 L356.97,254.8 L357.3,254.8 L357.62,254.8 L357.94,254.8 L358.26,254.8 L358.59,254.8 L358.91,254.8 L359.23,254.8 L359.56,254.8 L359.88,254.8 L360.2,254.8 L360.53,254.8 L360.85,254.8 L361.17,254.8 L361.5,254.8 L361.82,254.8 L362.14,254.8 L362.47,254.79 L362.79,254.75 L363.11,254.69 L363.44,254.61 L363.76,254.52 L364.08,254.41 L364.41,254.25 L364.73,254.05 L365.05,253.81 L365.38,253.55 L365.7,253.26 L366.02,252.95 L366.35,252.63 L366.67,252.3 L366.99,251.97 L367.32,251.62 L367.64,251.25 L367.96,250.85 L368.29,250.43 L368.61,249.98 L368.93,249.52 L369.25,249.04 L369.58,248.54 L369.9,248.02 L370.22,247.49 L370.55,246.95 L370.87,246.4 L371.19,245.84 L371.52,245.27 L371.84,244.7 L372.16,244.12 L372.49,243.52 L372.81,242.92 L373.13,242.3 L373.46,241.66 L373.78,241.01 L374.1,240.35 L374.43,239.66 L374.75,238.96 L375.07,238.24 L375.4,237.51 L375.72,236.75 L376.04,235.97 L376.37,235.18 L376.69,234.36 L377.01,233.52 L377.34,232.65 L377.66,231.77 L377.98,230.84 L378.31,229.87 L378.63,228.85 L378.95,227.8 L379.28,226.7 L379.6,225.57 L379.92,224.39 L380.25,223.17 L380.57,221.92 L380.89,220.62 L381.21,219.28 L381.54,217.78 L381.86,216.16 L382.18,214.45 L382.51,212.71 L382.83,210.98 L383.15,209.32 L383.48,207.77 L383.8,206.34 L384.12,204.98 L384.45,203.66 L384.77,202.39 L385.09,201.14 L385.42,199.9 L385.74,198.68 L386.06,197.45 L386.39,196.22 L386.71,194.96 L387.03,193.73 L387.36,192.56 L387.68,191.41 L388,190.23 L388.33,188.97 L388.65,187.59 L388.97,186.05 L389.3,184.15 L389.62,181.93 L389.94,179.6 L390.27,177.34 L390.59,175.35 L390.91,173.43 L391.24,171.5 L391.56,169.65 L391.88,167.98 L392.2,166.57 L392.53,165.51 L392.85,164.66 L393.17,163.84 L393.5,163.06 L393.82,162.33 L394.14,161.66 L394.47,161.06 L394.79,160.54 L395.11,160.11 L395.44,159.79 L395.76,159.58 L396.08,159.5 L396.41,159.53 L396.73,159.65 L397.05,159.85 L397.38,160.11 L397.7,160.44 L398.02,160.83 L398.35,161.26 L398.67,161.74 L398.99,162.25 L399.32,162.79 L399.64,163.36 L399.96,163.93 L400.29,164.52 L400.61,165.1 L400.93,165.69 L401.26,166.33 L401.58,167.05 L401.9,167.85 L402.23,168.74 L402.55,169.71 L402.87,170.78 L403.2,172.08 L403.52,173.64 L403.84,175.38 L404.16,177.2 L404.49,179.01 L404.81,180.72 L405.13,182.32 L405.46,183.91 L405.78,185.5 L406.1,187.07 L406.43,188.63 L406.75,190.16 L407.07,191.66 L407.4,193.12 L407.72,194.53 L408.04,195.88 L408.37,197.16 L408.69,198.39 L409.01,199.58 L409.34,200.75 L409.66,201.92 L409.98,203.11 L410.31,204.33 L410.63,205.6 L410.95,206.95 L411.28,208.38 L411.6,209.91 L411.92,211.53 L412.25,213.2 L412.57,214.93 L412.89,216.68 L413.22,218.44 L413.54,220.2 L413.86,221.92 L414.19,223.66 L414.51,225.43 L414.83,227.21 L415.15,228.99 L415.48,230.73 L415.8,232.41 L416.12,234 L416.45,235.54 L416.77,237.05 L417.09,238.52 L417.42,239.95 L417.74,241.34 L418.06,242.68 L418.39,243.97 L418.71,245.22 L419.03,246.5 L419.36,247.76 L419.68,248.93 L420,249.96 L420.33,250.76 L420.65,251.42 L420.97,252.04 L421.3,252.61 L421.62,253.13 L421.94,253.57 L422.27,253.93 L422.59,254.19 L422.91,254.34 L423.24,254.45 L423.56,254.56 L423.88,254.64 L424.21,254.72 L424.53,254.77 L424.85,254.79 L425.18,254.8 L425.5,254.8 L425.82,254.8 L426.15,254.8 L426.47,254.8 L426.79,254.8 L427.11,254.8 L427.44,254.8 L427.76,254.8 L428.08,254.8 L428.41,254.8 L428.73,254.8 L429.05,254.8 L429.38,254.8 L429.7,254.8 L430.02,254.8 L430.35,254.8 L430.67,254.8 L430.99,254.8 L431.32,254.8 L431.64,254.8 L431.96,254.8 L432.29,254.8 L432.61,254.8 L432.93,254.8 L433.26,254.8 L433.58,254.8 L433.9,254.8 L434.23,254.8 L434.55,254.8 L434.87,254.8 L435.2,254.8 L435.52,254.8 L435.84,254.8 L436.17,254.8 L436.49,254.8 L436.81,254.8 L437.14,254.8 L437.46,254.8 L437.78,254.8 L438.1,254.8 L438.43,254.8 L438.75,254.8 L439.07,254.8 L439.4,254.8 L439.72,254.8 L440.04,254.8 L440.37,254.8 L440.69,254.8 L441.01,254.8 L441.34,254.8 L441.66,254.8 L441.98,254.8 L442.31,254.8 L442.63,254.8 L442.95,254.8 L443.28,254.8 L443.6,254.8 L443.92,254.8 L444.25,254.8 L444.57,254.8 L444.89,254.8 L445.22,254.8 L445.54,254.8 L445.86,254.8 L446.19,254.8 L446.51,254.8 L446.83,254.8 L447.16,254.8 L447.48,254.8 L447.8,254.8 L448.13,254.8 L448.45,254.8 L448.77,254.8 L449.1,254.8 L449.42,254.8 L449.74,254.8 L450.06,254.8 L450.39,254.8 L450.71,254.8 L451.03,254.8 L451.36,254.8 L451.68,254.8 L452,254.8 L452.33,254.8 L452.65,254.8 L452.97,254.8 L453.3,254.8 L453.62,254.8 L453.94,254.8 L454.27,254.8 L454.59,254.8 L454.91,254.8 L455.24,254.8 L455.56,254.8 L455.88,254.8 L456.21,254.8 L456.53,254.8 L456.85,254.8 L457.18,254.8 L457.5,254.8 L457.82,254.8 L458.15,254.8 L458.47,254.8 L458.79,254.8 L459.12,254.8 L459.44,254.8 L459.76,254.8 L460.09,254.8 L460.41,254.8 L460.73,254.8 L461.05,254.8 L461.38,254.8 L461.7,254.8 L462.02,254.8 L462.35,254.8 L462.67,254.8 L462.99,254.8 L463.32,254.8 L463.64,254.8 L463.96,254.8 L464.29,254.8 L464.61,254.8 L464.93,254.8 L465.26,254.8 L465.58,254.8 L465.9,254.8 L466.23,254.8 L466.55,254.8" fill="none" stroke="#000" stroke-width="1.25"/>
<path d="M337.58,254.71 L337.9,254.65 L338.22,254.58 L338.55,254.52 L338.87,254.45 L339.19,254.38 L339.52,254.31 L339.84,254.24 L340.16,254.17 L340.49,254.1 L340.81,254.03 L341.13,253.95 L341.46,253.87 L341.78,253.77 L342.1,253.67 L342.43,253.56 L342.75,253.45 L343.07,253.35 L343.4,253.26 L343.72,253.17 L344.04,253.1 L344.37,253.04 L344.69,253.01 L345.01,253 L345.34,253.01 L345.66,253.04 L345.98,253.09 L346.3,253.16 L346.63,253.23 L346.95,253.32 L347.27,253.42 L347.6,253.52 L347.92,253.62 L348.24,253.73 L348.57,253.83 L348.89,253.93 L349.21,254.03 L349.54,254.11 L349.86,254.19 L350.18,254.26 L350.51,254.34 L350.83,254.42 L351.15,254.5 L351.48,254.58 L351.8,254.65 L352.12,254.71 L352.45,254.76 L352.77,254.79 L353.09,254.8 L353.42,254.8 L353.74,254.8 L354.06,254.8 L354.39,254.8 L354.71,254.8 L355.03,254.8 L355.36,254.8 L355.68,254.8 L356,254.8 L356.33,254.8 L356.65,254.8 L356.97,254.8 L357.3,254.8 L357.62,254.8 L357.94,254.8 L358.26,254.8 L358.59,254.8 L358.91,254.8 L359.23,254.8 L359.56,254.8 L359.88,254.8 L360.2,254.8 L360.53,254.8 L360.85,254.8 L361.17,254.8 L361.5,254.8 L361.82,254.8 L362.14,254.8 L362.47,254.8 L362.79,254.8 L363.11,254.8 L363.44,254.8 L363.76,254.8 L364.08,254.8 L364.41,254.8 L364.73,254.8 L365.05,254.8 L365.38,254.8 L365.7,254.8 L366.02,254.8 L366.35,254.8 L366.67,254.8 L366.99,254.8 L367.32,254.8 L367.64,254.8 L367.96,254.8 L368.29,254.8 L368.61,254.8 L368.93,254.8 L369.25,254.8 L369.58,254.8 L369.9,254.8 L370.22,254.8 L370.55,254.8 L370.87,254.8 L371.19,254.8 L371.52,254.8 L371.84,254.8 L372.16,254.67 L372.49,254.26 L372.81,253.69 L373.13,253.08 L373.46,252.36 L373.78,251.5 L374.1,250.5 L374.43,249.35 L374.75,248.06 L375.07,246.63 L375.4,245.05 L375.72,243.18 L376.04,240.7 L376.37,237.71 L376.69,234.33 L377.01,230.68 L377.34,226.91 L377.66,223.12 L377.98,219.45 L378.31,215.59 L378.63,211.43 L378.95,207.19 L379.28,203.08 L379.6,199.33 L379.92,196.1 L380.25,193.18 L380.57,190.48 L380.89,187.91 L381.21,185.39 L381.54,182.85 L381.86,180.16 L382.18,176.98 L382.51,173.47 L382.83,169.95 L383.15,166.76 L383.48,164.23 L383.8,162.7 L384.12,162.46 L384.45,163.21 L384.77,164.67 L385.09,166.61 L385.42,168.86 L385.74,171.2 L386.06,173.43 L386.39,175.35 L386.71,176.99 L387.03,178.75 L387.36,180.59 L387.68,182.44 L388,184.22 L388.33,185.85 L388.65,187.25 L388.97,188.34 L389.3,189.05 L389.62,189.3 L389.94,189.2 L390.27,188.94 L390.59,188.54 L390.91,188.04 L391.24,187.46 L391.56,186.85 L391.88,186.22 L392.2,185.63 L392.53,185.09 L392.85,184.63 L393.17,184.3 L393.5,184.12 L393.82,184.25 L394.14,185.26 L394.47,186.99 L394.79,189.16 L395.11,191.47 L395.44,193.66 L395.76,195.45 L396.08,197.02 L396.41,198.52 L396.73,200 L397.05,201.52 L397.38,203.12 L397.7,204.86 L398.02,206.81 L398.35,208.96 L398.67,211.24 L398.99,213.56 L399.32,215.85 L399.64,218.01 L399.96,219.97 L400.29,221.86 L400.61,223.77 L400.93,225.64 L401.26,227.42 L401.58,229.05 L401.9,230.49 L402.23,231.68 L402.55,232.59 L402.87,233.35 L403.2,234.02 L403.52,234.62 L403.84,235.16 L404.16,235.66 L404.49,236.16 L404.81,236.66 L405.13,237.18 L405.46,237.75 L405.78,238.34 L406.1,238.94 L406.43,239.55 L406.75,240.15 L407.07,240.76 L407.4,241.35 L407.72,241.94 L408.04,242.51 L408.37,243.06 L408.69,243.6 L409.01,244.1 L409.34,244.58 L409.66,244.99 L409.98,245.36 L410.31,245.76 L410.63,246.26 L410.95,246.94 L411.28,247.75 L411.6,248.65 L411.92,249.6 L412.25,250.53 L412.57,251.41 L412.89,252.18 L413.22,252.81 L413.54,253.23 L413.86,253.48 L414.19,253.68 L414.51,253.85 L414.83,253.99 L415.15,254.12 L415.48,254.24 L415.8,254.37 L416.12,254.51 L416.45,254.64 L416.77,254.74 L417.09,254.8 L417.42,254.8 L417.74,254.8 L418.06,254.8 L418.39,254.8 L418.71,254.8 L419.03,254.8 L419.36,254.8 L419.68,254.8 L420,254.8 L420.33,254.8 L420.65,254.8 L420.97,254.8 L421.3,254.8 L421.62,254.8 L421.94,254.8 L422.27,254.8 L422.59,254.8 L422.91,254.8 L423.24,254.8 L423.56,254.8 L423.88,254.8 L424.21,254.8 L424.53,254.8 L424.85,254.78 L425.18,254.69 L425.5,254.54 L425.82,254.35 L426.15,254.12 L426.47,253.86 L426.79,253.58 L427.11,253.3 L427.44,253.02 L427.76,252.75 L428.08,252.51 L428.41,252.31 L428.73,252.12 L429.05,251.92 L429.38,251.71 L429.7,251.5 L430.02,251.28 L430.35,251.08 L430.67,250.88 L430.99,250.69 L431.32,250.53 L431.64,250.38 L431.96,250.26 L432.29,250.17 L432.61,250.12 L432.93,250.1 L433.26,250.13 L433.58,250.19 L433.9,250.29 L434.23,250.42 L434.55,250.58 L434.87,250.76 L435.2,250.95 L435.52,251.15 L435.84,251.36 L436.17,251.57 L436.49,251.78 L436.81,251.98 L437.14,252.17 L437.46,252.33 L437.78,252.51 L438.1,252.7 L438.43,252.91 L438.75,253.12 L439.07,253.34 L439.4,253.56 L439.72,253.77 L440.04,253.97 L440.37,254.17 L440.69,254.34 L441.01,254.49 L441.34,254.62 L441.66,254.71 L441.98,254.78 L442.31,254.8 L442.63,254.8 L442.95,254.8 L443.28,254.8 L443.6,254.8 L443.92,254.8 L444.25,254.8 L444.57,254.8 L444.89,254.8 L445.22,254.8 L445.54,254.8 L445.86,254.8 L446.19,254.8 L446.51,254.8 L446.83,254.8 L447.16,254.8 L447.48,254.8 L447.8,254.8 L448.13,254.8 L448.45,254.8 L448.77,254.8 L449.1,254.8 L449.42,254.8 L449.74,254.8 L450.06,254.8 L450.39,254.8 L450.71,254.8 L451.03,254.8 L451.36,254.8 L451.68,254.8 L452,254.8 L452.33,254.8 L452.65,254.8 L452.97,254.8 L453.3,254.8 L453.62,254.8 L453.94,254.8 L454.27,254.8 L454.59,254.8 L454.91,254.8 L455.24,254.8 L455.56,254.8 L455.88,254.8 L456.21,254.8 L456.53,254.8 L456.85,254.8 L457.18,254.8 L457.5,254.8 L457.82,254.8 L458.15,254.8 L458.47,254.8 L458.79,254.8 L459.12,254.8 L459.44,254.8 L459.76,254.8 L460.09,254.8 L460.41,254.8 L460.73,254.8 L461.05,254.8 L461.38,254.8 L461.7,254.8 L462.02,254.8 L462.35,254.8 L462.67,254.8 L462.99,254.8 L463.32,254.8 L463.64,254.8 L463.96,254.8 L464.29,254.8 L464.61,254.8 L464.93,254.8 L465.26,254.8 L465.58,254.8 L465.9,254.8 L466.23,254.8 L466.55,254.8" fill="none" stroke="#17997f" stroke-width="1.45"/>
<path d="M337,254.8 H466.55" fill="none" stroke="#000" stroke-width="1.3"/>
<path d="M354.4,254.8 V257.2 M376.83,254.8 V257.2 M399.26,254.8 V257.2 M421.69,254.8 V257.2 M444.12,254.8 V257.2 M466.55,254.8 V257.2 M343.19,254.8 V256.4 M365.61,254.8 V256.4 M388.04,254.8 V256.4 M410.47,254.8 V256.4 M432.9,254.8 V256.4 M455.33,254.8 V256.4" fill="none" stroke="#000" stroke-width="1"/>
<text x="354.4" y="264.7" text-anchor="middle" font-size="6.7" fill="#111" stroke="#111" stroke-width="0.16">2</text>
<text x="376.83" y="264.7" text-anchor="middle" font-size="6.7" fill="#111" stroke="#111" stroke-width="0.16">3</text>
<text x="399.26" y="264.7" text-anchor="middle" font-size="6.7" fill="#111" stroke="#111" stroke-width="0.16">4</text>
<text x="421.69" y="264.7" text-anchor="middle" font-size="6.7" fill="#111" stroke="#111" stroke-width="0.16">5</text>
<text x="444.12" y="264.7" text-anchor="middle" font-size="6.7" fill="#111" stroke="#111" stroke-width="0.16">6</text>
<text x="466.55" y="264.7" text-anchor="middle" font-size="6.7" fill="#111" stroke="#111" stroke-width="0.16">7</text>
<text x="403.75" y="272.7" text-anchor="middle" font-size="6.4" textLength="13.6" lengthAdjust="spacingAndGlyphs" fill="#111" stroke="#111" stroke-width="0.12"><tspan font-style="italic">r</tspan> [nm]</text>
<path d="M35.06,479 L35.38,477.79 L35.7,476.59 L36.03,475.39 L36.35,474.19 L36.67,472.98 L36.99,471.71 L37.32,470.42 L37.64,469.14 L37.96,467.91 L38.28,466.76 L38.61,465.72 L38.93,464.83 L39.25,464.03 L39.57,463.27 L39.9,462.56 L40.22,461.89 L40.54,461.25 L40.87,460.65 L41.19,460.07 L41.51,459.51 L41.83,458.98 L42.16,458.46 L42.48,457.95 L42.8,457.45 L43.12,456.96 L43.45,456.49 L43.77,456.02 L44.09,455.56 L44.41,455.12 L44.74,454.68 L45.06,454.25 L45.38,453.83 L45.71,453.42 L46.03,453.01 L46.35,452.62 L46.67,452.23 L47,451.84 L47.32,451.47 L47.64,451.1 L47.96,450.74 L48.29,450.38 L48.61,450.03 L48.93,449.68 L49.25,449.34 L49.58,449 L49.9,448.66 L50.22,448.33 L50.55,448.02 L50.87,447.72 L51.19,447.43 L51.51,447.15 L51.84,446.88 L52.16,446.62 L52.48,446.36 L52.8,446.11 L53.13,445.85 L53.45,445.6 L53.77,445.34 L54.09,445.08 L54.42,444.81 L54.74,444.54 L55.06,444.25 L55.39,443.95 L55.71,443.64 L56.03,443.32 L56.35,442.97 L56.68,442.61 L57,442.21 L57.32,441.8 L57.64,441.37 L57.97,440.92 L58.29,440.45 L58.61,439.98 L58.93,439.49 L59.26,438.99 L59.58,438.49 L59.9,437.99 L60.23,437.49 L60.55,436.98 L60.87,436.49 L61.19,436 L61.52,435.52 L61.84,435.05 L62.16,434.59 L62.48,434.15 L62.81,433.72 L63.13,433.3 L63.45,432.87 L63.77,432.44 L64.1,432.01 L64.42,431.58 L64.74,431.16 L65.07,430.75 L65.39,430.34 L65.71,429.95 L66.03,429.57 L66.36,429.2 L66.68,428.84 L67,428.51 L67.32,428.19 L67.65,427.89 L67.97,427.57 L68.29,427.25 L68.61,426.93 L68.94,426.6 L69.26,426.29 L69.58,426 L69.91,425.73 L70.23,425.49 L70.55,425.29 L70.87,425.14 L71.2,425.04 L71.52,425 L71.84,425.03 L72.16,425.15 L72.49,425.35 L72.81,425.61 L73.13,425.93 L73.45,426.31 L73.78,426.73 L74.1,427.18 L74.42,427.67 L74.75,428.18 L75.07,428.71 L75.39,429.24 L75.71,429.78 L76.04,430.3 L76.36,430.81 L76.68,431.31 L77,431.84 L77.33,432.39 L77.65,432.96 L77.97,433.56 L78.29,434.19 L78.62,434.83 L78.94,435.49 L79.26,436.17 L79.58,436.87 L79.91,437.58 L80.23,438.3 L80.55,439.03 L80.88,439.77 L81.2,440.52 L81.52,441.28 L81.84,442.07 L82.17,442.92 L82.49,443.79 L82.81,444.7 L83.13,445.62 L83.46,446.55 L83.78,447.49 L84.1,448.42 L84.42,449.33 L84.75,450.22 L85.07,451.08 L85.39,451.9 L85.72,452.68 L86.04,453.43 L86.36,454.17 L86.68,454.88 L87.01,455.59 L87.33,456.29 L87.65,456.99 L87.97,457.69 L88.3,458.4 L88.62,459.11 L88.94,459.83 L89.26,460.55 L89.59,461.27 L89.91,461.99 L90.23,462.71 L90.56,463.43 L90.88,464.16 L91.2,464.88 L91.52,465.6 L91.85,466.32 L92.17,467.04 L92.49,467.76 L92.81,468.48 L93.14,469.2 L93.46,469.92 L93.78,470.63 L94.1,471.3 L94.43,471.97 L94.75,472.62 L95.07,473.29 L95.4,473.98 L95.72,474.69 L96.04,475.46 L96.36,476.27 L96.69,477.16 L97.01,478.2 L97.33,479.38 L97.65,480.68 L97.98,482.05 L98.3,483.44 L98.62,484.82 L98.94,486.15 L99.27,487.38 L99.59,488.48 L99.91,489.42 L100.24,490.39 L100.56,491.37 L100.88,492.34 L101.2,493.26 L101.53,494.1 L101.85,494.83 L102.17,495.41 L102.49,495.81 L102.82,495.99 L103.14,496 L103.46,496 L103.78,496 L104.11,496 L104.43,496 L104.75,496 L105.08,496 L105.4,496 L105.72,496 L106.04,496 L106.37,496 L106.69,496 L107.01,496 L107.33,496 L107.66,496 L107.98,496.15 L108.3,496.49 L108.62,497 L108.95,497.63 L109.27,498.37 L109.59,499.16 L109.92,499.99 L110.24,500.81 L110.56,501.6 L110.88,502.33 L111.21,503.11 L111.53,503.92 L111.85,504.77 L112.17,505.66 L112.5,506.56 L112.82,507.47 L113.14,508.38 L113.46,509.29 L113.79,510.18 L114.11,511.04 L114.43,511.99 L114.76,513.05 L115.08,514.17 L115.4,515.27 L115.72,516.27 L116.05,517.1 L116.37,517.7 L116.69,517.98 L117.01,517.99 L117.34,517.92 L117.66,517.82 L117.98,517.67 L118.3,517.49 L118.63,517.28 L118.95,517.05 L119.27,516.72 L119.6,516.1 L119.92,515.23 L120.24,514.15 L120.56,512.91 L120.89,511.55 L121.21,510.1 L121.53,508.62 L121.85,507.14 L122.18,505.7 L122.5,504.34 L122.82,503.12 L123.14,501.96 L123.47,500.79 L123.79,499.61 L124.11,498.44 L124.44,497.29 L124.76,496.16 L125.08,495.07 L125.4,494.02 L125.73,493.03 L126.05,492.08 L126.37,491.14 L126.69,490.23 L127.02,489.35 L127.34,488.5 L127.66,487.7 L127.98,486.94 L128.31,486.24 L128.63,485.57 L128.95,484.89 L129.28,484.23 L129.6,483.65 L129.92,483.22 L130.24,482.99 L130.57,482.87 L130.89,482.76 L131.21,482.67 L131.53,482.59 L131.86,482.54 L132.18,482.51 L132.5,482.5 L132.82,482.51 L133.15,482.54 L133.47,482.59 L133.79,482.66 L134.12,482.74 L134.44,482.83 L134.76,482.94 L135.08,483.1 L135.41,483.49 L135.73,484.07 L136.05,484.8 L136.37,485.6 L136.7,486.42 L137.02,487.21 L137.34,488.03 L137.66,488.92 L137.99,489.86 L138.31,490.85 L138.63,491.86 L138.95,492.89 L139.28,493.92 L139.6,494.94 L139.92,495.93 L140.25,496.87 L140.57,497.81 L140.89,498.77 L141.21,499.8 L141.54,500.91 L141.86,502.15 L142.18,503.57 L142.5,505.39 L142.83,507.52 L143.15,509.77 L143.47,511.93 L143.79,513.87 L144.12,515.88 L144.44,517.71 L144.76,518.98 L145.09,519.83 L145.41,520.53 L145.73,520.75 L146.05,520.81 L146.38,520.86 L146.7,520.9 L147.02,520.94 L147.34,520.97 L147.67,520.99 L147.99,521 L148.31,521 L148.63,521 L148.96,521 L149.28,521 L149.6,521 L149.93,521 L150.25,521 L150.57,521 L150.89,521 L151.22,521 L151.54,521 L151.86,521 L152.18,521 L152.51,521 L152.83,521 L153.15,521 L153.47,521 L153.8,521 L154.12,521 L154.44,521 L154.77,521 L155.09,521 L155.41,521 L155.73,521 L156.06,521 L156.38,521 L156.7,521 L157.02,521 L157.35,521 L157.67,521 L157.99,521 L158.31,521 L158.64,521 L158.96,521 L159.28,521 L159.61,521 L159.93,521 L160.25,521 L160.57,521 L160.9,521 L161.22,521 L161.54,521 L161.86,521 L162.19,521 L162.51,521 L162.83,521 L163.15,521 L163.48,521 L163.8,521 L163.8,521 L163.48,521 L163.15,521 L162.83,521 L162.51,521 L162.19,521 L161.86,521 L161.54,521 L161.22,521 L160.9,521 L160.57,521 L160.25,521 L159.93,521 L159.61,521 L159.28,521 L158.96,521 L158.64,521 L158.31,521 L157.99,521 L157.67,521 L157.35,521 L157.02,521 L156.7,521 L156.38,521 L156.06,521 L155.73,521 L155.41,521 L155.09,521 L154.77,521 L154.44,521 L154.12,521 L153.8,521 L153.47,521 L153.15,521 L152.83,521 L152.51,521 L152.18,521 L151.86,521 L151.54,521 L151.22,521 L150.89,521 L150.57,521 L150.25,521 L149.93,521 L149.6,521 L149.28,521 L148.96,521 L148.63,521 L148.31,521 L147.99,521 L147.67,521 L147.34,521 L147.02,521 L146.7,521 L146.38,521 L146.05,521 L145.73,521 L145.41,521 L145.09,521 L144.76,521 L144.44,521 L144.12,521 L143.79,521 L143.47,521 L143.15,521 L142.83,521 L142.5,521 L142.18,521 L141.86,521 L141.54,521 L141.21,521 L140.89,521 L140.57,521 L140.25,521 L139.92,521 L139.6,521 L139.28,521 L138.95,521 L138.63,521 L138.31,521 L137.99,521 L137.66,521 L137.34,521 L137.02,521 L136.7,521 L136.37,521 L136.05,521 L135.73,521 L135.41,521 L135.08,521 L134.76,521 L134.44,521 L134.12,521 L133.79,521 L133.47,521 L133.15,521 L132.82,521 L132.5,521 L132.18,521 L131.86,521 L131.53,521 L131.21,521 L130.89,521 L130.57,521 L130.24,521 L129.92,521 L129.6,521 L129.28,521 L128.95,521 L128.63,521 L128.31,521 L127.98,521 L127.66,521 L127.34,521 L127.02,521 L126.69,521 L126.37,521 L126.05,521 L125.73,521 L125.4,521 L125.08,521 L124.76,521 L124.44,521 L124.11,521 L123.79,521 L123.47,521 L123.14,521 L122.82,521 L122.5,521 L122.18,521 L121.85,521 L121.53,521 L121.21,521 L120.89,521 L120.56,521 L120.24,521 L119.92,521 L119.6,521 L119.27,521 L118.95,521 L118.63,521 L118.3,521 L117.98,521 L117.66,521 L117.34,521 L117.01,521 L116.69,521 L116.37,521 L116.05,521 L115.72,521 L115.4,521 L115.08,521 L114.76,521 L114.43,521 L114.11,521 L113.79,521 L113.46,521 L113.14,521 L112.82,521 L112.5,521 L112.17,521 L111.85,521 L111.53,521 L111.21,521 L110.88,521 L110.56,521 L110.24,521 L109.92,521 L109.59,521 L109.27,521 L108.95,521 L108.62,521 L108.3,521 L107.98,521 L107.66,521 L107.33,521 L107.01,521 L106.69,521 L106.37,521 L106.04,521 L105.72,521 L105.4,521 L105.08,521 L104.75,521 L104.43,521 L104.11,520.75 L103.78,520.19 L103.46,519.44 L103.14,518.6 L102.82,517.8 L102.49,516.94 L102.17,515.99 L101.85,514.96 L101.53,513.85 L101.2,512.67 L100.88,511.45 L100.56,510.19 L100.24,508.9 L99.91,507.6 L99.59,506.27 L99.27,504.78 L98.94,503.18 L98.62,501.49 L98.3,499.76 L97.98,498.05 L97.65,496.39 L97.33,494.83 L97.01,493.42 L96.69,492.19 L96.36,491.14 L96.04,490.17 L95.72,489.27 L95.4,488.42 L95.07,487.61 L94.75,486.85 L94.43,486.1 L94.1,485.37 L93.78,484.65 L93.46,483.92 L93.14,483.2 L92.81,482.5 L92.49,481.83 L92.17,481.18 L91.85,480.54 L91.52,479.9 L91.2,479.28 L90.88,478.66 L90.56,478.04 L90.23,477.41 L89.91,476.78 L89.59,476.14 L89.26,475.48 L88.94,474.81 L88.62,474.11 L88.3,473.39 L87.97,472.66 L87.65,471.91 L87.33,471.14 L87.01,470.37 L86.68,469.59 L86.36,468.8 L86.04,468 L85.72,467.2 L85.39,466.39 L85.07,465.58 L84.75,464.73 L84.42,463.87 L84.1,463 L83.78,462.13 L83.46,461.25 L83.13,460.38 L82.81,459.51 L82.49,458.67 L82.17,457.84 L81.84,457.04 L81.52,456.27 L81.2,455.53 L80.88,454.78 L80.55,454.04 L80.23,453.29 L79.91,452.56 L79.58,451.83 L79.26,451.12 L78.94,450.42 L78.62,449.74 L78.29,449.09 L77.97,448.46 L77.65,447.86 L77.33,447.3 L77,446.77 L76.68,446.28 L76.36,445.84 L76.04,445.39 L75.71,444.94 L75.39,444.48 L75.07,444.03 L74.75,443.59 L74.42,443.17 L74.1,442.77 L73.78,442.39 L73.45,442.05 L73.13,441.75 L72.81,441.49 L72.49,441.28 L72.16,441.12 L71.84,441.03 L71.52,441 L71.2,441.03 L70.87,441.09 L70.55,441.19 L70.23,441.31 L69.91,441.47 L69.58,441.64 L69.26,441.84 L68.94,442.04 L68.61,442.26 L68.29,442.48 L67.97,442.7 L67.65,442.92 L67.32,443.14 L67,443.37 L66.68,443.63 L66.36,443.91 L66.03,444.21 L65.71,444.52 L65.39,444.85 L65.07,445.19 L64.74,445.54 L64.42,445.9 L64.1,446.26 L63.77,446.63 L63.45,447.01 L63.13,447.38 L62.81,447.76 L62.48,448.13 L62.16,448.53 L61.84,448.94 L61.52,449.38 L61.19,449.84 L60.87,450.3 L60.55,450.78 L60.23,451.26 L59.9,451.75 L59.58,452.24 L59.26,452.73 L58.93,453.21 L58.61,453.68 L58.29,454.14 L57.97,454.59 L57.64,455.01 L57.32,455.42 L57,455.8 L56.68,456.15 L56.35,456.48 L56.03,456.77 L55.71,457.04 L55.39,457.3 L55.06,457.54 L54.74,457.77 L54.42,457.98 L54.09,458.19 L53.77,458.39 L53.45,458.59 L53.13,458.78 L52.8,458.98 L52.48,459.18 L52.16,459.38 L51.84,459.59 L51.51,459.81 L51.19,460.05 L50.87,460.3 L50.55,460.56 L50.22,460.85 L49.9,461.15 L49.58,461.48 L49.25,461.82 L48.93,462.17 L48.61,462.54 L48.29,462.93 L47.96,463.33 L47.64,463.75 L47.32,464.18 L47,464.62 L46.67,465.08 L46.35,465.54 L46.03,466.02 L45.71,466.52 L45.38,467.02 L45.06,467.53 L44.74,468.05 L44.41,468.58 L44.09,469.12 L43.77,469.67 L43.45,470.23 L43.12,470.79 L42.8,471.36 L42.48,471.94 L42.16,472.53 L41.83,473.13 L41.51,473.74 L41.19,474.38 L40.87,475.04 L40.54,475.74 L40.22,476.47 L39.9,477.23 L39.57,478.04 L39.25,478.9 L38.93,479.81 L38.61,480.8 L38.28,481.91 L37.96,483.14 L37.64,484.45 L37.32,485.84 L36.99,487.28 L36.67,488.75 L36.35,490.25 L36.03,491.81 L35.7,493.47 L35.38,495.21 L35.06,497 Z" fill="#b4b4b4" stroke="none"/>
<path d="M35.06,518 L35.38,517.76 L35.7,517.51 L36.03,517.24 L36.35,516.95 L36.67,516.64 L36.99,516.3 L37.32,515.95 L37.64,515.57 L37.96,515.19 L38.28,514.79 L38.61,514.38 L38.93,513.96 L39.25,513.53 L39.57,513.09 L39.9,512.65 L40.22,512.21 L40.54,511.77 L40.87,511.33 L41.19,510.89 L41.51,510.45 L41.83,510.01 L42.16,509.57 L42.48,509.13 L42.8,508.68 L43.12,508.23 L43.45,507.77 L43.77,507.31 L44.09,506.85 L44.41,506.38 L44.74,505.9 L45.06,505.41 L45.38,504.92 L45.71,504.42 L46.03,503.92 L46.35,503.4 L46.67,502.88 L47,502.35 L47.32,501.81 L47.64,501.27 L47.96,500.72 L48.29,500.17 L48.61,499.6 L48.93,499.03 L49.25,498.45 L49.58,497.86 L49.9,497.27 L50.22,496.66 L50.55,496.05 L50.87,495.43 L51.19,494.8 L51.51,494.16 L51.84,493.51 L52.16,492.85 L52.48,492.18 L52.8,491.51 L53.13,490.82 L53.45,490.13 L53.77,489.42 L54.09,488.71 L54.42,487.98 L54.74,487.24 L55.06,486.48 L55.39,485.71 L55.71,484.92 L56.03,484.12 L56.35,483.29 L56.68,482.45 L57,481.58 L57.32,480.69 L57.64,479.78 L57.97,478.82 L58.29,477.79 L58.61,476.69 L58.93,475.55 L59.26,474.36 L59.58,473.16 L59.9,471.94 L60.23,470.72 L60.55,469.52 L60.87,468.34 L61.19,467.19 L61.52,466.1 L61.84,465.07 L62.16,464.09 L62.48,463.16 L62.81,462.25 L63.13,461.37 L63.45,460.51 L63.77,459.67 L64.1,458.85 L64.42,458.04 L64.74,457.24 L65.07,456.45 L65.39,455.67 L65.71,454.88 L66.03,454.09 L66.36,453.29 L66.68,452.49 L67,451.67 L67.32,450.84 L67.65,449.98 L67.97,449.11 L68.29,448.21 L68.61,447.28 L68.94,446.31 L69.26,445.27 L69.58,444.18 L69.91,443.06 L70.23,441.93 L70.55,440.79 L70.87,439.66 L71.2,438.56 L71.52,437.5 L71.84,436.49 L72.16,435.56 L72.49,434.7 L72.81,433.87 L73.13,433.01 L73.45,432.15 L73.78,431.3 L74.1,430.48 L74.42,429.72 L74.75,429.04 L75.07,428.44 L75.39,427.96 L75.71,427.6 L76.04,427.4 L76.36,427.28 L76.68,427.16 L77,427.05 L77.33,426.95 L77.65,426.86 L77.97,426.78 L78.29,426.71 L78.62,426.65 L78.94,426.6 L79.26,426.56 L79.58,426.53 L79.91,426.51 L80.23,426.5 L80.55,426.51 L80.88,426.57 L81.2,426.65 L81.52,426.77 L81.84,426.91 L82.17,427.08 L82.49,427.26 L82.81,427.46 L83.13,427.66 L83.46,427.88 L83.78,428.09 L84.1,428.36 L84.42,428.67 L84.75,429.02 L85.07,429.42 L85.39,429.85 L85.72,430.31 L86.04,430.79 L86.36,431.3 L86.68,431.83 L87.01,432.37 L87.33,432.91 L87.65,433.46 L87.97,434.03 L88.3,434.64 L88.62,435.28 L88.94,435.96 L89.26,436.66 L89.59,437.4 L89.91,438.16 L90.23,438.93 L90.56,439.73 L90.88,440.53 L91.2,441.35 L91.52,442.18 L91.85,443.01 L92.17,443.84 L92.49,444.68 L92.81,445.54 L93.14,446.41 L93.46,447.3 L93.78,448.2 L94.1,449.13 L94.43,450.08 L94.75,451.06 L95.07,452.06 L95.4,453.09 L95.72,454.15 L96.04,455.26 L96.36,456.44 L96.69,457.69 L97.01,458.99 L97.33,460.32 L97.65,461.67 L97.98,463.03 L98.3,464.38 L98.62,465.7 L98.94,466.99 L99.27,468.23 L99.59,469.4 L99.91,470.5 L100.24,471.56 L100.56,472.59 L100.88,473.6 L101.2,474.58 L101.53,475.54 L101.85,476.49 L102.17,477.42 L102.49,478.34 L102.82,479.24 L103.14,480.15 L103.46,481.04 L103.78,481.94 L104.11,482.84 L104.43,483.74 L104.75,484.65 L105.08,485.57 L105.4,486.5 L105.72,487.46 L106.04,488.45 L106.37,489.46 L106.69,490.49 L107.01,491.53 L107.33,492.57 L107.66,493.6 L107.98,494.62 L108.3,495.63 L108.62,496.61 L108.95,497.55 L109.27,498.46 L109.59,499.32 L109.92,500.13 L110.24,500.88 L110.56,501.56 L110.88,502.18 L111.21,502.77 L111.53,503.34 L111.85,503.91 L112.17,504.46 L112.5,504.99 L112.82,505.52 L113.14,506.02 L113.46,506.52 L113.79,507 L114.11,507.47 L114.43,507.92 L114.76,508.36 L115.08,508.78 L115.4,509.19 L115.72,509.59 L116.05,509.98 L116.37,510.35 L116.69,510.7 L117.01,511.05 L117.34,511.38 L117.66,511.69 L117.98,512 L118.3,512.29 L118.63,512.56 L118.95,512.82 L119.27,513.08 L119.6,513.33 L119.92,513.58 L120.24,513.81 L120.56,514.05 L120.89,514.27 L121.21,514.5 L121.53,514.71 L121.85,514.92 L122.18,515.13 L122.5,515.33 L122.82,515.53 L123.14,515.72 L123.47,515.9 L123.79,516.08 L124.11,516.26 L124.44,516.43 L124.76,516.6 L125.08,516.76 L125.4,516.91 L125.73,517.07 L126.05,517.22 L126.37,517.36 L126.69,517.5 L127.02,517.64 L127.34,517.77 L127.66,517.9 L127.98,518.02 L128.31,518.14 L128.63,518.26 L128.95,518.38 L129.28,518.49 L129.6,518.61 L129.92,518.72 L130.24,518.83 L130.57,518.95 L130.89,519.05 L131.21,519.16 L131.53,519.26 L131.86,519.37 L132.18,519.46 L132.5,519.56 L132.82,519.65 L133.15,519.74 L133.47,519.83 L133.79,519.91 L134.12,519.99 L134.44,520.07 L134.76,520.14 L135.08,520.21 L135.41,520.27 L135.73,520.33 L136.05,520.38 L136.37,520.43 L136.7,520.47 L137.02,520.51 L137.34,520.55 L137.66,520.58 L137.99,520.62 L138.31,520.65 L138.63,520.69 L138.95,520.72 L139.28,520.75 L139.6,520.78 L139.92,520.81 L140.25,520.84 L140.57,520.87 L140.89,520.89 L141.21,520.91 L141.54,520.93 L141.86,520.95 L142.18,520.97 L142.5,520.98 L142.83,520.99 L143.15,521 L143.47,521 L143.79,521 L144.12,521 L144.44,521 L144.76,521 L145.09,521 L145.41,521 L145.73,521 L146.05,521 L146.38,521 L146.7,521 L147.02,521 L147.34,521 L147.67,521 L147.99,521 L148.31,521 L148.63,521 L148.96,521 L149.28,521 L149.6,521 L149.93,521 L150.25,521 L150.57,521 L150.89,521 L151.22,521 L151.54,521 L151.86,521 L152.18,521 L152.51,521 L152.83,521 L153.15,521 L153.47,521 L153.8,521 L154.12,521 L154.44,521 L154.77,521 L155.09,521 L155.41,521 L155.73,521 L156.06,521 L156.38,521 L156.7,521 L157.02,521 L157.35,521 L157.67,521 L157.99,521 L158.31,521 L158.64,521 L158.96,521 L159.28,521 L159.61,521 L159.93,521 L160.25,521 L160.57,521 L160.9,521 L161.22,521 L161.54,521 L161.86,521 L162.19,521 L162.51,521 L162.83,521 L163.15,521 L163.48,521 L163.8,521" fill="none" stroke="#000" stroke-width="1.3" stroke-dasharray="3,1.6"/>
<path d="M35.06,516 L35.38,515.62 L35.7,515.24 L36.03,514.85 L36.35,514.46 L36.67,514.07 L36.99,513.68 L37.32,513.28 L37.64,512.89 L37.96,512.49 L38.28,512.1 L38.61,511.7 L38.93,511.29 L39.25,510.89 L39.57,510.48 L39.9,510.07 L40.22,509.66 L40.54,509.24 L40.87,508.81 L41.19,508.39 L41.51,507.95 L41.83,507.52 L42.16,507.09 L42.48,506.66 L42.8,506.23 L43.12,505.79 L43.45,505.35 L43.77,504.91 L44.09,504.45 L44.41,503.99 L44.74,503.53 L45.06,503.05 L45.38,502.56 L45.71,502.06 L46.03,501.54 L46.35,501.01 L46.67,500.46 L47,499.9 L47.32,499.32 L47.64,498.72 L47.96,498.1 L48.29,497.47 L48.61,496.82 L48.93,496.16 L49.25,495.49 L49.58,494.81 L49.9,494.12 L50.22,493.42 L50.55,492.71 L50.87,491.99 L51.19,491.27 L51.51,490.55 L51.84,489.81 L52.16,489.07 L52.48,488.31 L52.8,487.53 L53.13,486.75 L53.45,485.95 L53.77,485.15 L54.09,484.33 L54.42,483.5 L54.74,482.67 L55.06,481.82 L55.39,480.96 L55.71,480.09 L56.03,479.22 L56.35,478.33 L56.68,477.42 L57,476.49 L57.32,475.53 L57.64,474.56 L57.97,473.56 L58.29,472.56 L58.61,471.55 L58.93,470.54 L59.26,469.53 L59.58,468.52 L59.9,467.52 L60.23,466.53 L60.55,465.56 L60.87,464.61 L61.19,463.68 L61.52,462.76 L61.84,461.84 L62.16,460.94 L62.48,460.04 L62.81,459.15 L63.13,458.27 L63.45,457.38 L63.77,456.5 L64.1,455.62 L64.42,454.75 L64.74,453.86 L65.07,452.98 L65.39,452.09 L65.71,451.19 L66.03,450.29 L66.36,449.38 L66.68,448.46 L67,447.53 L67.32,446.59 L67.65,445.63 L67.97,444.62 L68.29,443.56 L68.61,442.47 L68.94,441.37 L69.26,440.28 L69.58,439.19 L69.91,438.15 L70.23,437.15 L70.55,436.21 L70.87,435.36 L71.2,434.59 L71.52,433.86 L71.84,433.13 L72.16,432.41 L72.49,431.72 L72.81,431.06 L73.13,430.43 L73.45,429.85 L73.78,429.32 L74.1,428.85 L74.42,428.46 L74.75,428.13 L75.07,427.89 L75.39,427.66 L75.71,427.43 L76.04,427.21 L76.36,427 L76.68,426.8 L77,426.61 L77.33,426.43 L77.65,426.25 L77.97,426.09 L78.29,425.94 L78.62,425.8 L78.94,425.68 L79.26,425.57 L79.58,425.47 L79.91,425.38 L80.23,425.31 L80.55,425.26 L80.88,425.22 L81.2,425.2 L81.52,425.2 L81.84,425.24 L82.17,425.32 L82.49,425.43 L82.81,425.57 L83.13,425.73 L83.46,425.92 L83.78,426.12 L84.1,426.34 L84.42,426.56 L84.75,426.79 L85.07,427.04 L85.39,427.35 L85.72,427.71 L86.04,428.11 L86.36,428.55 L86.68,429.03 L87.01,429.54 L87.33,430.07 L87.65,430.62 L87.97,431.19 L88.3,431.78 L88.62,432.36 L88.94,432.96 L89.26,433.54 L89.59,434.15 L89.91,434.78 L90.23,435.44 L90.56,436.13 L90.88,436.84 L91.2,437.57 L91.52,438.32 L91.85,439.09 L92.17,439.88 L92.49,440.68 L92.81,441.49 L93.14,442.31 L93.46,443.13 L93.78,443.96 L94.1,444.81 L94.43,445.68 L94.75,446.57 L95.07,447.48 L95.4,448.41 L95.72,449.35 L96.04,450.31 L96.36,451.29 L96.69,452.28 L97.01,453.28 L97.33,454.29 L97.65,455.33 L97.98,456.38 L98.3,457.45 L98.62,458.54 L98.94,459.64 L99.27,460.76 L99.59,461.9 L99.91,463.04 L100.24,464.2 L100.56,465.36 L100.88,466.53 L101.2,467.71 L101.53,468.89 L101.85,470.1 L102.17,471.35 L102.49,472.65 L102.82,473.97 L103.14,475.31 L103.46,476.66 L103.78,478 L104.11,479.33 L104.43,480.63 L104.75,481.9 L105.08,483.13 L105.4,484.3 L105.72,485.4 L106.04,486.43 L106.37,487.41 L106.69,488.37 L107.01,489.32 L107.33,490.25 L107.66,491.16 L107.98,492.05 L108.3,492.92 L108.62,493.78 L108.95,494.61 L109.27,495.42 L109.59,496.21 L109.92,496.98 L110.24,497.72 L110.56,498.44 L110.88,499.14 L111.21,499.81 L111.53,500.46 L111.85,501.08 L112.17,501.67 L112.5,502.24 L112.82,502.8 L113.14,503.35 L113.46,503.89 L113.79,504.42 L114.11,504.94 L114.43,505.46 L114.76,505.96 L115.08,506.45 L115.4,506.93 L115.72,507.4 L116.05,507.86 L116.37,508.3 L116.69,508.74 L117.01,509.16 L117.34,509.57 L117.66,509.96 L117.98,510.34 L118.3,510.71 L118.63,511.06 L118.95,511.4 L119.27,511.72 L119.6,512.03 L119.92,512.32 L120.24,512.6 L120.56,512.86 L120.89,513.12 L121.21,513.37 L121.53,513.61 L121.85,513.85 L122.18,514.09 L122.5,514.32 L122.82,514.54 L123.14,514.76 L123.47,514.97 L123.79,515.18 L124.11,515.38 L124.44,515.58 L124.76,515.77 L125.08,515.96 L125.4,516.14 L125.73,516.32 L126.05,516.49 L126.37,516.66 L126.69,516.82 L127.02,516.97 L127.34,517.13 L127.66,517.27 L127.98,517.41 L128.31,517.55 L128.63,517.68 L128.95,517.8 L129.28,517.93 L129.6,518.04 L129.92,518.15 L130.24,518.26 L130.57,518.37 L130.89,518.47 L131.21,518.57 L131.53,518.67 L131.86,518.76 L132.18,518.86 L132.5,518.95 L132.82,519.04 L133.15,519.12 L133.47,519.21 L133.79,519.29 L134.12,519.37 L134.44,519.44 L134.76,519.52 L135.08,519.59 L135.41,519.66 L135.73,519.73 L136.05,519.79 L136.37,519.85 L136.7,519.91 L137.02,519.97 L137.34,520.02 L137.66,520.07 L137.99,520.12 L138.31,520.17 L138.63,520.23 L138.95,520.28 L139.28,520.33 L139.6,520.38 L139.92,520.43 L140.25,520.48 L140.57,520.53 L140.89,520.57 L141.21,520.62 L141.54,520.66 L141.86,520.71 L142.18,520.75 L142.5,520.78 L142.83,520.82 L143.15,520.85 L143.47,520.88 L143.79,520.91 L144.12,520.94 L144.44,520.96 L144.76,520.97 L145.09,520.99 L145.41,520.99 L145.73,521 L146.05,521 L146.38,521 L146.7,521 L147.02,521 L147.34,521 L147.67,521 L147.99,521 L148.31,521 L148.63,521 L148.96,521 L149.28,521 L149.6,521 L149.93,521 L150.25,521 L150.57,521 L150.89,521 L151.22,521 L151.54,521 L151.86,521 L152.18,521 L152.51,521 L152.83,521 L153.15,521 L153.47,521 L153.8,521 L154.12,521 L154.44,521 L154.77,521 L155.09,521 L155.41,521 L155.73,521 L156.06,521 L156.38,521 L156.7,521 L157.02,521 L157.35,521 L157.67,521 L157.99,521 L158.31,521 L158.64,521 L158.96,521 L159.28,521 L159.61,521 L159.93,521 L160.25,521 L160.57,521 L160.9,521 L161.22,521 L161.54,521 L161.86,521 L162.19,521 L162.51,521 L162.83,521 L163.15,521 L163.48,521 L163.8,521" fill="none" stroke="#000" stroke-width="1.25"/>
<path d="M35.06,490.8 L35.38,488.5 L35.7,486.31 L36.03,484.28 L36.35,482.47 L36.67,480.85 L36.99,479.31 L37.32,477.84 L37.64,476.47 L37.96,475.19 L38.28,474.02 L38.61,472.96 L38.93,472.02 L39.25,471.16 L39.57,470.35 L39.9,469.6 L40.22,468.89 L40.54,468.22 L40.87,467.58 L41.19,466.97 L41.51,466.39 L41.83,465.83 L42.16,465.28 L42.48,464.75 L42.8,464.22 L43.12,463.7 L43.45,463.18 L43.77,462.68 L44.09,462.19 L44.41,461.7 L44.74,461.22 L45.06,460.76 L45.38,460.3 L45.71,459.85 L46.03,459.41 L46.35,458.98 L46.67,458.56 L47,458.15 L47.32,457.75 L47.64,457.35 L47.96,456.97 L48.29,456.59 L48.61,456.23 L48.93,455.87 L49.25,455.52 L49.58,455.19 L49.9,454.86 L50.22,454.54 L50.55,454.24 L50.87,453.96 L51.19,453.69 L51.51,453.43 L51.84,453.19 L52.16,452.95 L52.48,452.72 L52.8,452.49 L53.13,452.27 L53.45,452.04 L53.77,451.81 L54.09,451.58 L54.42,451.35 L54.74,451.1 L55.06,450.84 L55.39,450.58 L55.71,450.29 L56.03,449.99 L56.35,449.67 L56.68,449.33 L57,448.96 L57.32,448.56 L57.64,448.15 L57.97,447.71 L58.29,447.26 L58.61,446.79 L58.93,446.32 L59.26,445.83 L59.58,445.34 L59.9,444.85 L60.23,444.36 L60.55,443.87 L60.87,443.38 L61.19,442.91 L61.52,442.44 L61.84,441.99 L62.16,441.56 L62.48,441.14 L62.81,440.74 L63.13,440.34 L63.45,439.94 L63.77,439.54 L64.1,439.14 L64.42,438.74 L64.74,438.35 L65.07,437.97 L65.39,437.6 L65.71,437.24 L66.03,436.89 L66.36,436.56 L66.68,436.24 L67,435.94 L67.32,435.66 L67.65,435.4 L67.97,435.14 L68.29,434.86 L68.61,434.59 L68.94,434.32 L69.26,434.06 L69.58,433.82 L69.91,433.6 L70.23,433.4 L70.55,433.24 L70.87,433.11 L71.2,433.03 L71.52,433 L71.84,433.03 L72.16,433.14 L72.49,433.32 L72.81,433.57 L73.13,433.87 L73.45,434.22 L73.78,434.62 L74.1,435.05 L74.42,435.51 L74.75,435.99 L75.07,436.49 L75.39,437 L75.71,437.52 L76.04,438.02 L76.36,438.52 L76.68,439.01 L77,439.53 L77.33,440.1 L77.65,440.69 L77.97,441.32 L78.29,441.97 L78.62,442.65 L78.94,443.34 L79.26,444.06 L79.58,444.78 L79.91,445.52 L80.23,446.27 L80.55,447.02 L80.88,447.77 L81.2,448.52 L81.52,449.27 L81.84,450.04 L82.17,450.84 L82.49,451.66 L82.81,452.49 L83.13,453.34 L83.46,454.19 L83.78,455.05 L84.1,455.91 L84.42,456.75 L84.75,457.59 L85.07,458.4 L85.39,459.2 L85.72,459.97 L86.04,460.74 L86.36,461.49 L86.68,462.24 L87.01,462.98 L87.33,463.72 L87.65,464.45 L87.97,465.17 L88.3,465.89 L88.62,466.61 L88.94,467.32 L89.26,468.02 L89.59,468.71 L89.91,469.4 L90.23,470.08 L90.56,470.75 L90.88,471.43 L91.2,472.1 L91.52,472.78 L91.85,473.47 L92.17,474.16 L92.49,474.85 L92.81,475.56 L93.14,476.28 L93.46,477.02 L93.78,477.75 L94.1,478.47 L94.43,479.18 L94.75,479.9 L95.07,480.63 L95.4,481.4 L95.72,482.2 L96.04,483.06 L96.36,483.98 L96.69,484.98 L97.01,486.16 L97.33,487.54 L97.65,489.06 L97.98,490.67 L98.3,492.32 L98.62,493.95 L98.94,495.51 L99.27,496.95 L99.59,498.21 L99.91,499.28 L100.24,500.35 L100.56,501.43 L100.88,502.5 L101.2,503.51 L101.53,504.43 L101.85,505.23 L102.17,505.86 L102.49,506.29 L102.82,506.49 L103.14,506.48 L103.46,506.38 L103.78,506.21 L104.11,505.99 L104.43,505.73 L104.75,505.43 L105.08,505.12 L105.4,504.8 L105.72,504.49 L106.04,504.2 L106.37,503.93 L106.69,503.7 L107.01,503.53 L107.33,503.43 L107.66,503.4 L107.98,503.56 L108.3,503.93 L108.62,504.47 L108.95,505.15 L109.27,505.92 L109.59,506.75 L109.92,507.6 L110.24,508.43 L110.56,509.21 L110.88,509.92 L111.21,510.68 L111.53,511.48 L111.85,512.32 L112.17,513.17 L112.5,514.01 L112.82,514.82 L113.14,515.58 L113.46,516.26 L113.79,516.85 L114.11,517.32 L114.43,517.72 L114.76,518.11 L115.08,518.47 L115.4,518.81 L115.72,519.12 L116.05,519.4 L116.37,519.64 L116.69,519.85 L117.01,520.01 L117.34,520.14 L117.66,520.25 L117.98,520.35 L118.3,520.45 L118.63,520.53 L118.95,520.6 L119.27,520.65 L119.6,520.69 L119.92,520.7 L120.24,520.67 L120.56,520.6 L120.89,520.48 L121.21,520.33 L121.53,520.14 L121.85,519.92 L122.18,519.67 L122.5,519.41 L122.82,519.13 L123.14,518.83 L123.47,518.53 L123.79,518.18 L124.11,517.75 L124.44,517.23 L124.76,516.65 L125.08,516.01 L125.4,515.33 L125.73,514.62 L126.05,513.85 L126.37,512.95 L126.69,511.97 L127.02,510.92 L127.34,509.84 L127.66,508.75 L127.98,507.67 L128.31,506.54 L128.63,505.33 L128.95,504.07 L129.28,502.83 L129.6,501.66 L129.92,500.61 L130.24,499.73 L130.57,498.91 L130.89,498.08 L131.21,497.28 L131.53,496.56 L131.86,495.95 L132.18,495.49 L132.5,495.24 L132.82,495.23 L133.15,495.46 L133.47,495.9 L133.79,496.5 L134.12,497.21 L134.44,498.01 L134.76,498.84 L135.08,499.66 L135.41,500.52 L135.73,501.56 L136.05,502.72 L136.37,503.96 L136.7,505.21 L137.02,506.44 L137.34,507.57 L137.66,508.65 L137.99,509.74 L138.31,510.82 L138.63,511.87 L138.95,512.86 L139.28,513.77 L139.6,514.56 L139.92,515.27 L140.25,515.95 L140.57,516.59 L140.89,517.18 L141.21,517.7 L141.54,518.15 L141.86,518.5 L142.18,518.8 L142.5,519.08 L142.83,519.35 L143.15,519.6 L143.47,519.82 L143.79,520.03 L144.12,520.22 L144.44,520.38 L144.76,520.51 L145.09,520.62 L145.41,520.69 L145.73,520.75 L146.05,520.81 L146.38,520.86 L146.7,520.9 L147.02,520.94 L147.34,520.97 L147.67,520.99 L147.99,521 L148.31,521 L148.63,521 L148.96,521 L149.28,521 L149.6,521 L149.93,521 L150.25,521 L150.57,521 L150.89,521 L151.22,521 L151.54,521 L151.86,521 L152.18,521 L152.51,521 L152.83,521 L153.15,521 L153.47,521 L153.8,521 L154.12,521 L154.44,521 L154.77,521 L155.09,521 L155.41,521 L155.73,521 L156.06,521 L156.38,521 L156.7,521 L157.02,521 L157.35,521 L157.67,521 L157.99,521 L158.31,521 L158.64,521 L158.96,521 L159.28,521 L159.61,521 L159.93,521 L160.25,521 L160.57,521 L160.9,521 L161.22,521 L161.54,521 L161.86,521 L162.19,521 L162.51,521 L162.83,521 L163.15,521 L163.48,521 L163.8,521" fill="none" stroke="#b3131b" stroke-width="1.45"/>
<path d="M35,521 H163.8" fill="none" stroke="#000" stroke-width="1.3"/>
<path d="M51.85,521 V523.4 M74.24,521 V523.4 M96.63,521 V523.4 M119.02,521 V523.4 M141.41,521 V523.4 M163.8,521 V523.4 M40.66,521 V522.6 M63.05,521 V522.6 M85.44,521 V522.6 M107.83,521 V522.6 M130.22,521 V522.6 M152.6,521 V522.6" fill="none" stroke="#000" stroke-width="1"/>
<text x="51.85" y="530.9" text-anchor="middle" font-size="6.7" fill="#111" stroke="#111" stroke-width="0.16">2</text>
<text x="74.24" y="530.9" text-anchor="middle" font-size="6.7" fill="#111" stroke="#111" stroke-width="0.16">3</text>
<text x="96.63" y="530.9" text-anchor="middle" font-size="6.7" fill="#111" stroke="#111" stroke-width="0.16">4</text>
<text x="119.02" y="530.9" text-anchor="middle" font-size="6.7" fill="#111" stroke="#111" stroke-width="0.16">5</text>
<text x="141.41" y="530.9" text-anchor="middle" font-size="6.7" fill="#111" stroke="#111" stroke-width="0.16">6</text>
<text x="163.8" y="530.9" text-anchor="middle" font-size="6.7" fill="#111" stroke="#111" stroke-width="0.16">7</text>
<text x="101.11" y="538.9" text-anchor="middle" font-size="6.4" textLength="13.6" lengthAdjust="spacingAndGlyphs" fill="#111" stroke="#111" stroke-width="0.12"><tspan font-style="italic">r</tspan> [nm]</text>
<path d="M174.01,463.42 L174.34,463.62 L174.66,463.82 L174.98,464.01 L175.31,464.2 L175.63,464.39 L175.95,464.58 L176.28,464.77 L176.6,464.95 L176.92,465.13 L177.25,465.31 L177.57,465.48 L177.89,465.66 L178.22,465.83 L178.54,465.99 L178.87,466.16 L179.19,466.32 L179.51,466.48 L179.84,466.63 L180.16,466.78 L180.48,466.93 L180.81,467.09 L181.13,467.26 L181.45,467.43 L181.78,467.6 L182.1,467.78 L182.42,467.95 L182.75,468.12 L183.07,468.28 L183.39,468.42 L183.72,468.56 L184.04,468.67 L184.37,468.77 L184.69,468.84 L185.01,468.88 L185.34,468.9 L185.66,468.89 L185.98,468.84 L186.31,468.77 L186.63,468.67 L186.95,468.55 L187.28,468.4 L187.6,468.23 L187.92,468.03 L188.25,467.82 L188.57,467.59 L188.89,467.34 L189.22,467.08 L189.54,466.8 L189.87,466.51 L190.19,466.21 L190.51,465.9 L190.84,465.51 L191.16,464.99 L191.48,464.35 L191.81,463.62 L192.13,462.81 L192.45,461.94 L192.78,461.03 L193.1,460.1 L193.42,459.18 L193.75,458.26 L194.07,457.37 L194.39,456.43 L194.72,455.44 L195.04,454.4 L195.37,453.33 L195.69,452.23 L196.01,451.11 L196.34,449.99 L196.66,448.86 L196.98,447.74 L197.31,446.63 L197.63,445.55 L197.95,444.5 L198.28,443.49 L198.6,442.52 L198.92,441.61 L199.25,440.73 L199.57,439.86 L199.89,439.01 L200.22,438.17 L200.54,437.35 L200.87,436.55 L201.19,435.76 L201.51,434.98 L201.84,434.21 L202.16,433.46 L202.48,432.72 L202.81,431.99 L203.13,431.27 L203.45,430.56 L203.78,429.86 L204.1,429.12 L204.42,428.32 L204.75,427.48 L205.07,426.64 L205.39,425.82 L205.72,425.05 L206.04,424.36 L206.37,423.77 L206.69,423.31 L207.01,423.01 L207.34,422.9 L207.66,422.9 L207.98,422.9 L208.31,422.9 L208.63,422.9 L208.95,422.9 L209.28,422.9 L209.6,422.9 L209.92,422.9 L210.25,422.9 L210.57,422.9 L210.89,422.93 L211.22,423.1 L211.54,423.41 L211.87,423.84 L212.19,424.35 L212.51,424.91 L212.84,425.5 L213.16,426.09 L213.48,426.65 L213.81,427.17 L214.13,427.68 L214.45,428.2 L214.78,428.73 L215.1,429.28 L215.42,429.84 L215.75,430.42 L216.07,431.02 L216.39,431.64 L216.72,432.28 L217.04,432.96 L217.37,433.66 L217.69,434.4 L218.01,435.17 L218.34,436.03 L218.66,436.97 L218.98,437.99 L219.31,439.07 L219.63,440.2 L219.95,441.36 L220.28,442.54 L220.6,443.73 L220.92,444.92 L221.25,446.09 L221.57,447.23 L221.89,448.33 L222.22,449.37 L222.54,450.34 L222.87,451.29 L223.19,452.22 L223.51,453.13 L223.84,454.03 L224.16,454.91 L224.48,455.78 L224.81,456.64 L225.13,457.49 L225.45,458.34 L225.78,459.19 L226.1,460.03 L226.42,460.88 L226.75,461.74 L227.07,462.62 L227.39,463.52 L227.72,464.42 L228.04,465.31 L228.37,466.18 L228.69,467 L229.01,467.78 L229.34,468.5 L229.66,469.14 L229.98,469.71 L230.31,470.22 L230.63,470.68 L230.95,471.11 L231.28,471.51 L231.6,471.9 L231.92,472.29 L232.25,472.68 L232.57,473.08 L232.89,473.51 L233.22,473.97 L233.54,474.45 L233.87,474.93 L234.19,475.42 L234.51,475.91 L234.84,476.4 L235.16,476.9 L235.48,477.41 L235.81,477.94 L236.13,478.47 L236.45,479.01 L236.78,479.57 L237.1,480.14 L237.42,480.72 L237.75,481.32 L238.07,481.94 L238.39,482.57 L238.72,483.23 L239.04,483.92 L239.37,484.64 L239.69,485.39 L240.01,486.16 L240.34,486.95 L240.66,487.77 L240.98,488.61 L241.31,489.47 L241.63,490.34 L241.95,491.22 L242.28,492.11 L242.6,493.01 L242.92,493.92 L243.25,494.83 L243.57,495.76 L243.89,496.73 L244.22,497.72 L244.54,498.74 L244.87,499.78 L245.19,500.82 L245.51,501.87 L245.84,502.93 L246.16,503.98 L246.48,505.01 L246.81,506.03 L247.13,507.03 L247.45,508.05 L247.78,509.11 L248.1,510.19 L248.42,511.26 L248.75,512.33 L249.07,513.35 L249.39,514.32 L249.72,515.22 L250.04,516.03 L250.37,516.73 L250.69,517.34 L251.01,517.96 L251.34,518.57 L251.66,519.15 L251.98,519.69 L252.31,520.15 L252.63,520.52 L252.95,520.77 L253.28,520.89 L253.6,520.9 L253.92,520.9 L254.25,520.9 L254.57,520.9 L254.89,520.9 L255.22,520.9 L255.54,520.9 L255.86,520.9 L256.19,520.9 L256.51,520.9 L256.84,520.9 L257.16,520.9 L257.48,520.9 L257.81,520.9 L258.13,520.9 L258.45,520.9 L258.78,520.9 L259.1,520.9 L259.42,520.9 L259.75,520.9 L260.07,520.9 L260.39,520.9 L260.72,520.9 L261.04,520.9 L261.36,520.9 L261.69,520.9 L262.01,520.9 L262.34,520.9 L262.66,520.9 L262.98,520.9 L263.31,520.9 L263.63,520.9 L263.95,520.9 L264.28,520.9 L264.6,520.9 L264.92,520.9 L265.25,520.9 L265.57,520.9 L265.89,520.9 L266.22,520.9 L266.54,520.9 L266.86,520.9 L267.19,520.9 L267.51,520.9 L267.84,520.9 L268.16,520.9 L268.48,520.9 L268.81,520.9 L269.13,520.9 L269.45,520.9 L269.78,520.9 L270.1,520.9 L270.42,520.9 L270.75,520.9 L271.07,520.9 L271.39,520.9 L271.72,520.9 L272.04,520.9 L272.36,520.9 L272.69,520.9 L273.01,520.9 L273.34,520.9 L273.66,520.9 L273.98,520.9 L274.31,520.9 L274.63,520.9 L274.95,520.9 L275.28,520.9 L275.6,520.9 L275.92,520.9 L276.25,520.9 L276.57,520.9 L276.89,520.9 L277.22,520.9 L277.54,520.9 L277.86,520.9 L278.19,520.9 L278.51,520.9 L278.84,520.9 L279.16,520.9 L279.48,520.9 L279.81,520.9 L280.13,520.9 L280.45,520.9 L280.78,520.9 L281.1,520.9 L281.42,520.9 L281.75,520.9 L282.07,520.9 L282.39,520.9 L282.72,520.9 L283.04,520.9 L283.36,520.9 L283.69,520.9 L284.01,520.9 L284.34,520.9 L284.66,520.9 L284.98,520.9 L285.31,520.9 L285.63,520.9 L285.95,520.9 L286.28,520.9 L286.6,520.9 L286.92,520.9 L287.25,520.9 L287.57,520.9 L287.89,520.9 L288.22,520.9 L288.54,520.9 L288.86,520.9 L289.19,520.9 L289.51,520.9 L289.84,520.9 L290.16,520.9 L290.48,520.9 L290.81,520.9 L291.13,520.9 L291.45,520.9 L291.78,520.9 L292.1,520.9 L292.42,520.9 L292.75,520.9 L293.07,520.9 L293.39,520.9 L293.72,520.9 L294.04,520.9 L294.36,520.9 L294.69,520.9 L295.01,520.9 L295.34,520.9 L295.66,520.9 L295.98,520.9 L296.31,520.9 L296.63,520.9 L296.95,520.9 L297.28,520.9 L297.6,520.9 L297.92,520.9 L298.25,520.9 L298.57,520.9 L298.89,520.9 L299.22,520.9 L299.54,520.9 L299.86,520.9 L300.19,520.9 L300.51,520.9 L300.84,520.9 L301.16,520.9 L301.48,520.9 L301.81,520.9 L302.13,520.9 L302.45,520.9 L302.78,520.9 L303.1,520.9 L303.1,520.9 L302.78,520.9 L302.45,520.9 L302.13,520.9 L301.81,520.9 L301.48,520.9 L301.16,520.9 L300.84,520.9 L300.51,520.9 L300.19,520.9 L299.86,520.9 L299.54,520.9 L299.22,520.9 L298.89,520.9 L298.57,520.9 L298.25,520.9 L297.92,520.9 L297.6,520.9 L297.28,520.9 L296.95,520.9 L296.63,520.9 L296.31,520.9 L295.98,520.9 L295.66,520.9 L295.34,520.9 L295.01,520.9 L294.69,520.9 L294.36,520.9 L294.04,520.9 L293.72,520.9 L293.39,520.9 L293.07,520.9 L292.75,520.9 L292.42,520.9 L292.1,520.9 L291.78,520.9 L291.45,520.9 L291.13,520.9 L290.81,520.9 L290.48,520.9 L290.16,520.9 L289.84,520.9 L289.51,520.9 L289.19,520.9 L288.86,520.9 L288.54,520.9 L288.22,520.9 L287.89,520.9 L287.57,520.9 L287.25,520.9 L286.92,520.9 L286.6,520.9 L286.28,520.9 L285.95,520.9 L285.63,520.9 L285.31,520.9 L284.98,520.9 L284.66,520.9 L284.34,520.9 L284.01,520.9 L283.69,520.9 L283.36,520.9 L283.04,520.9 L282.72,520.9 L282.39,520.9 L282.07,520.9 L281.75,520.9 L281.42,520.9 L281.1,520.9 L280.78,520.9 L280.45,520.9 L280.13,520.9 L279.81,520.9 L279.48,520.9 L279.16,520.9 L278.84,520.9 L278.51,520.9 L278.19,520.9 L277.86,520.9 L277.54,520.9 L277.22,520.9 L276.89,520.9 L276.57,520.9 L276.25,520.9 L275.92,520.9 L275.6,520.9 L275.28,520.9 L274.95,520.9 L274.63,520.9 L274.31,520.9 L273.98,520.9 L273.66,520.9 L273.34,520.9 L273.01,520.9 L272.69,520.9 L272.36,520.9 L272.04,520.9 L271.72,520.9 L271.39,520.9 L271.07,520.9 L270.75,520.9 L270.42,520.9 L270.1,520.9 L269.78,520.9 L269.45,520.9 L269.13,520.9 L268.81,520.9 L268.48,520.9 L268.16,520.9 L267.84,520.9 L267.51,520.9 L267.19,520.9 L266.86,520.9 L266.54,520.9 L266.22,520.9 L265.89,520.9 L265.57,520.9 L265.25,520.9 L264.92,520.9 L264.6,520.9 L264.28,520.9 L263.95,520.9 L263.63,520.9 L263.31,520.9 L262.98,520.9 L262.66,520.9 L262.34,520.9 L262.01,520.9 L261.69,520.9 L261.36,520.9 L261.04,520.9 L260.72,520.9 L260.39,520.9 L260.07,520.9 L259.75,520.9 L259.42,520.9 L259.1,520.9 L258.78,520.9 L258.45,520.9 L258.13,520.9 L257.81,520.9 L257.48,520.9 L257.16,520.9 L256.84,520.9 L256.51,520.9 L256.19,520.9 L255.86,520.9 L255.54,520.9 L255.22,520.9 L254.89,520.9 L254.57,520.9 L254.25,520.9 L253.92,520.9 L253.6,520.9 L253.28,520.9 L252.95,520.9 L252.63,520.9 L252.31,520.9 L251.98,520.9 L251.66,520.9 L251.34,520.9 L251.01,520.9 L250.69,520.9 L250.37,520.9 L250.04,520.9 L249.72,520.9 L249.39,520.9 L249.07,520.9 L248.75,520.86 L248.42,520.47 L248.1,519.77 L247.78,518.88 L247.45,517.92 L247.13,517.01 L246.81,516.15 L246.48,515.23 L246.16,514.24 L245.84,513.21 L245.51,512.15 L245.19,511.06 L244.87,509.97 L244.54,508.88 L244.22,507.81 L243.89,506.77 L243.57,505.77 L243.25,504.83 L242.92,503.92 L242.6,503 L242.28,502.09 L241.95,501.18 L241.63,500.28 L241.31,499.4 L240.98,498.53 L240.66,497.68 L240.34,496.86 L240.01,496.06 L239.69,495.29 L239.37,494.56 L239.04,493.87 L238.72,493.21 L238.39,492.6 L238.07,492.02 L237.75,491.46 L237.42,490.93 L237.1,490.43 L236.78,489.94 L236.45,489.46 L236.13,489 L235.81,488.55 L235.48,488.11 L235.16,487.67 L234.84,487.23 L234.51,486.79 L234.19,486.35 L233.87,485.9 L233.54,485.44 L233.22,484.97 L232.89,484.5 L232.57,484.04 L232.25,483.6 L231.92,483.15 L231.6,482.71 L231.28,482.25 L230.95,481.78 L230.63,481.29 L230.31,480.78 L229.98,480.23 L229.66,479.64 L229.34,478.99 L229.01,478.29 L228.69,477.54 L228.37,476.76 L228.04,475.96 L227.72,475.14 L227.39,474.31 L227.07,473.49 L226.75,472.67 L226.42,471.88 L226.1,471.1 L225.78,470.32 L225.45,469.54 L225.13,468.76 L224.81,467.98 L224.48,467.19 L224.16,466.4 L223.84,465.6 L223.51,464.79 L223.19,463.98 L222.87,463.14 L222.54,462.3 L222.22,461.43 L221.89,460.52 L221.57,459.57 L221.25,458.6 L220.92,457.6 L220.6,456.59 L220.28,455.58 L219.95,454.58 L219.63,453.59 L219.31,452.62 L218.98,451.69 L218.66,450.79 L218.34,449.94 L218.01,449.15 L217.69,448.42 L217.37,447.7 L217.04,446.99 L216.72,446.3 L216.39,445.63 L216.07,444.98 L215.75,444.35 L215.42,443.75 L215.1,443.17 L214.78,442.61 L214.45,442.09 L214.13,441.59 L213.81,441.13 L213.48,440.69 L213.16,440.25 L212.84,439.8 L212.51,439.35 L212.19,438.9 L211.87,438.47 L211.54,438.04 L211.22,437.64 L210.89,437.27 L210.57,436.93 L210.25,436.63 L209.92,436.37 L209.6,436.16 L209.28,436.01 L208.95,435.92 L208.63,435.9 L208.31,435.98 L207.98,436.17 L207.66,436.46 L207.34,436.83 L207.01,437.28 L206.69,437.79 L206.37,438.37 L206.04,438.99 L205.72,439.65 L205.39,440.34 L205.07,441.05 L204.75,441.76 L204.42,442.48 L204.1,443.18 L203.78,443.86 L203.45,444.56 L203.13,445.31 L202.81,446.11 L202.48,446.95 L202.16,447.83 L201.84,448.75 L201.51,449.7 L201.19,450.66 L200.87,451.65 L200.54,452.65 L200.22,453.65 L199.89,454.65 L199.57,455.64 L199.25,456.63 L198.92,457.59 L198.6,458.55 L198.28,459.52 L197.95,460.52 L197.63,461.53 L197.31,462.55 L196.98,463.57 L196.66,464.6 L196.34,465.62 L196.01,466.64 L195.69,467.65 L195.37,468.64 L195.04,469.62 L194.72,470.57 L194.39,471.5 L194.07,472.39 L193.75,473.26 L193.42,474.15 L193.1,475.07 L192.78,476 L192.45,476.91 L192.13,477.78 L191.81,478.6 L191.48,479.34 L191.16,479.98 L190.84,480.51 L190.51,480.9 L190.19,481.21 L189.87,481.51 L189.54,481.8 L189.22,482.08 L188.89,482.34 L188.57,482.59 L188.25,482.82 L187.92,483.03 L187.6,483.23 L187.28,483.4 L186.95,483.55 L186.63,483.67 L186.31,483.77 L185.98,483.84 L185.66,483.89 L185.34,483.9 L185.01,483.89 L184.69,483.87 L184.37,483.84 L184.04,483.79 L183.72,483.74 L183.39,483.67 L183.07,483.6 L182.75,483.53 L182.42,483.44 L182.1,483.36 L181.78,483.27 L181.45,483.18 L181.13,483.09 L180.81,483 L180.48,482.92 L180.16,482.83 L179.84,482.75 L179.51,482.65 L179.19,482.56 L178.87,482.46 L178.54,482.35 L178.22,482.24 L177.89,482.13 L177.57,482.02 L177.25,481.9 L176.92,481.77 L176.6,481.65 L176.28,481.52 L175.95,481.39 L175.63,481.26 L175.31,481.12 L174.98,480.98 L174.66,480.84 L174.34,480.7 L174.01,480.55 Z" fill="#b4b4b4" stroke="none"/>
<path d="M174.01,517.64 L174.34,517.56 L174.66,517.45 L174.98,517.33 L175.31,517.18 L175.63,517.03 L175.95,516.85 L176.28,516.66 L176.6,516.45 L176.92,516.23 L177.25,515.98 L177.57,515.71 L177.89,515.42 L178.22,515.11 L178.54,514.78 L178.87,514.44 L179.19,514.08 L179.51,513.7 L179.84,513.31 L180.16,512.91 L180.48,512.5 L180.81,512.08 L181.13,511.65 L181.45,511.21 L181.78,510.77 L182.1,510.32 L182.42,509.83 L182.75,509.33 L183.07,508.8 L183.39,508.25 L183.72,507.68 L184.04,507.1 L184.37,506.51 L184.69,505.91 L185.01,505.3 L185.34,504.69 L185.66,504.07 L185.98,503.45 L186.31,502.84 L186.63,502.23 L186.95,501.62 L187.28,501.01 L187.6,500.41 L187.92,499.8 L188.25,499.19 L188.57,498.58 L188.89,497.96 L189.22,497.33 L189.54,496.69 L189.87,496.04 L190.19,495.37 L190.51,494.69 L190.84,494 L191.16,493.29 L191.48,492.55 L191.81,491.8 L192.13,491.01 L192.45,490.2 L192.78,489.36 L193.1,488.5 L193.42,487.62 L193.75,486.73 L194.07,485.81 L194.39,484.88 L194.72,483.95 L195.04,483 L195.37,482.05 L195.69,481.1 L196.01,480.15 L196.34,479.2 L196.66,478.25 L196.98,477.29 L197.31,476.32 L197.63,475.32 L197.95,474.33 L198.28,473.32 L198.6,472.32 L198.92,471.32 L199.25,470.32 L199.57,469.34 L199.89,468.38 L200.22,467.43 L200.54,466.51 L200.87,465.6 L201.19,464.69 L201.51,463.79 L201.84,462.89 L202.16,461.97 L202.48,461.04 L202.81,460.08 L203.13,459.1 L203.45,458.09 L203.78,457.04 L204.1,455.93 L204.42,454.74 L204.75,453.51 L205.07,452.24 L205.39,450.94 L205.72,449.64 L206.04,448.34 L206.37,447.07 L206.69,445.84 L207.01,444.66 L207.34,443.55 L207.66,442.49 L207.98,441.44 L208.31,440.41 L208.63,439.39 L208.95,438.4 L209.28,437.43 L209.6,436.48 L209.92,435.57 L210.25,434.69 L210.57,433.85 L210.89,433.04 L211.22,432.28 L211.54,431.51 L211.87,430.71 L212.19,429.89 L212.51,429.08 L212.84,428.28 L213.16,427.52 L213.48,426.8 L213.81,426.14 L214.13,425.56 L214.45,425.07 L214.78,424.69 L215.1,424.43 L215.42,424.3 L215.75,424.25 L216.07,424.21 L216.39,424.17 L216.72,424.13 L217.04,424.1 L217.37,424.06 L217.69,424.04 L218.01,424.01 L218.34,423.99 L218.66,423.96 L218.98,423.95 L219.31,423.93 L219.63,423.92 L219.95,423.91 L220.28,423.9 L220.6,423.9 L220.92,423.9 L221.25,423.92 L221.57,423.97 L221.89,424.05 L222.22,424.15 L222.54,424.27 L222.87,424.4 L223.19,424.56 L223.51,424.73 L223.84,424.92 L224.16,425.12 L224.48,425.33 L224.81,425.55 L225.13,425.77 L225.45,426.01 L225.78,426.31 L226.1,426.69 L226.42,427.13 L226.75,427.63 L227.07,428.18 L227.39,428.78 L227.72,429.41 L228.04,430.08 L228.37,430.76 L228.69,431.46 L229.01,432.17 L229.34,432.89 L229.66,433.59 L229.98,434.3 L230.31,435.03 L230.63,435.8 L230.95,436.6 L231.28,437.43 L231.6,438.29 L231.92,439.17 L232.25,440.08 L232.57,441.02 L232.89,441.98 L233.22,442.96 L233.54,443.97 L233.87,445.03 L234.19,446.14 L234.51,447.3 L234.84,448.5 L235.16,449.74 L235.48,451 L235.81,452.28 L236.13,453.58 L236.45,454.89 L236.78,456.19 L237.1,457.49 L237.42,458.78 L237.75,460.05 L238.07,461.29 L238.39,462.5 L238.72,463.68 L239.04,464.82 L239.37,465.95 L239.69,467.07 L240.01,468.19 L240.34,469.29 L240.66,470.39 L240.98,471.48 L241.31,472.56 L241.63,473.63 L241.95,474.7 L242.28,475.76 L242.6,476.81 L242.92,477.85 L243.25,478.89 L243.57,479.92 L243.89,480.94 L244.22,481.96 L244.54,482.97 L244.87,483.97 L245.19,484.98 L245.51,486 L245.84,487.02 L246.16,488.06 L246.48,489.09 L246.81,490.11 L247.13,491.14 L247.45,492.15 L247.78,493.14 L248.1,494.12 L248.42,495.08 L248.75,496.02 L249.07,496.93 L249.39,497.8 L249.72,498.64 L250.04,499.44 L250.37,500.21 L250.69,500.92 L251.01,501.61 L251.34,502.29 L251.66,502.96 L251.98,503.62 L252.31,504.27 L252.63,504.9 L252.95,505.53 L253.28,506.15 L253.6,506.75 L253.92,507.34 L254.25,507.91 L254.57,508.47 L254.89,509.01 L255.22,509.54 L255.54,510.05 L255.86,510.55 L256.19,511.03 L256.51,511.48 L256.84,511.92 L257.16,512.34 L257.48,512.74 L257.81,513.12 L258.13,513.48 L258.45,513.82 L258.78,514.14 L259.1,514.45 L259.42,514.77 L259.75,515.08 L260.07,515.39 L260.39,515.7 L260.72,516 L261.04,516.3 L261.36,516.59 L261.69,516.88 L262.01,517.16 L262.34,517.43 L262.66,517.7 L262.98,517.95 L263.31,518.2 L263.63,518.44 L263.95,518.67 L264.28,518.88 L264.6,519.09 L264.92,519.28 L265.25,519.46 L265.57,519.63 L265.89,519.78 L266.22,519.92 L266.54,520.05 L266.86,520.16 L267.19,520.25 L267.51,520.32 L267.84,520.38 L268.16,520.42 L268.48,520.46 L268.81,520.5 L269.13,520.54 L269.45,520.58 L269.78,520.61 L270.1,520.65 L270.42,520.68 L270.75,520.71 L271.07,520.74 L271.39,520.76 L271.72,520.79 L272.04,520.81 L272.36,520.83 L272.69,520.85 L273.01,520.86 L273.34,520.88 L273.66,520.89 L273.98,520.89 L274.31,520.9 L274.63,520.9 L274.95,520.9 L275.28,520.9 L275.6,520.9 L275.92,520.9 L276.25,520.9 L276.57,520.9 L276.89,520.9 L277.22,520.9 L277.54,520.9 L277.86,520.9 L278.19,520.9 L278.51,520.9 L278.84,520.9 L279.16,520.9 L279.48,520.9 L279.81,520.9 L280.13,520.9 L280.45,520.9 L280.78,520.9 L281.1,520.9 L281.42,520.9 L281.75,520.9 L282.07,520.9 L282.39,520.9 L282.72,520.9 L283.04,520.9 L283.36,520.9 L283.69,520.9 L284.01,520.9 L284.34,520.9 L284.66,520.9 L284.98,520.9 L285.31,520.9 L285.63,520.9 L285.95,520.9 L286.28,520.9 L286.6,520.9 L286.92,520.9 L287.25,520.9 L287.57,520.9 L287.89,520.9 L288.22,520.9 L288.54,520.9 L288.86,520.9 L289.19,520.9 L289.51,520.9 L289.84,520.9 L290.16,520.9 L290.48,520.9 L290.81,520.9 L291.13,520.9 L291.45,520.9 L291.78,520.9 L292.1,520.9 L292.42,520.9 L292.75,520.9 L293.07,520.9 L293.39,520.9 L293.72,520.9 L294.04,520.9 L294.36,520.9 L294.69,520.9 L295.01,520.9 L295.34,520.9 L295.66,520.9 L295.98,520.9 L296.31,520.9 L296.63,520.9 L296.95,520.9 L297.28,520.9 L297.6,520.9 L297.92,520.9 L298.25,520.9 L298.57,520.9 L298.89,520.9 L299.22,520.9 L299.54,520.9 L299.86,520.9 L300.19,520.9 L300.51,520.9 L300.84,520.9 L301.16,520.9 L301.48,520.9 L301.81,520.9 L302.13,520.9 L302.45,520.9 L302.78,520.9 L303.1,520.9" fill="none" stroke="#000" stroke-width="1.3" stroke-dasharray="3,1.6"/>
<path d="M174.01,516.27 L174.34,516.13 L174.66,515.97 L174.98,515.8 L175.31,515.61 L175.63,515.4 L175.95,515.18 L176.28,514.94 L176.6,514.68 L176.92,514.41 L177.25,514.11 L177.57,513.79 L177.89,513.45 L178.22,513.09 L178.54,512.71 L178.87,512.31 L179.19,511.9 L179.51,511.48 L179.84,511.04 L180.16,510.6 L180.48,510.14 L180.81,509.68 L181.13,509.22 L181.45,508.75 L181.78,508.27 L182.1,507.79 L182.42,507.28 L182.75,506.76 L183.07,506.22 L183.39,505.67 L183.72,505.11 L184.04,504.54 L184.37,503.95 L184.69,503.36 L185.01,502.76 L185.34,502.16 L185.66,501.55 L185.98,500.94 L186.31,500.33 L186.63,499.73 L186.95,499.12 L187.28,498.52 L187.6,497.93 L187.92,497.34 L188.25,496.74 L188.57,496.14 L188.89,495.53 L189.22,494.92 L189.54,494.29 L189.87,493.64 L190.19,492.97 L190.51,492.29 L190.84,491.58 L191.16,490.84 L191.48,490.07 L191.81,489.27 L192.13,488.4 L192.45,487.46 L192.78,486.48 L193.1,485.45 L193.42,484.4 L193.75,483.33 L194.07,482.25 L194.39,481.18 L194.72,480.12 L195.04,479.08 L195.37,478.08 L195.69,477.08 L196.01,476.08 L196.34,475.08 L196.66,474.09 L196.98,473.1 L197.31,472.11 L197.63,471.13 L197.95,470.15 L198.28,469.18 L198.6,468.22 L198.92,467.28 L199.25,466.35 L199.57,465.43 L199.89,464.51 L200.22,463.6 L200.54,462.69 L200.87,461.76 L201.19,460.83 L201.51,459.87 L201.84,458.9 L202.16,457.9 L202.48,456.87 L202.81,455.8 L203.13,454.68 L203.45,453.53 L203.78,452.35 L204.1,451.16 L204.42,449.96 L204.75,448.76 L205.07,447.57 L205.39,446.39 L205.72,445.24 L206.04,444.12 L206.37,443.04 L206.69,441.95 L207.01,440.84 L207.34,439.72 L207.66,438.62 L207.98,437.53 L208.31,436.48 L208.63,435.48 L208.95,434.54 L209.28,433.67 L209.6,432.88 L209.92,432.18 L210.25,431.52 L210.57,430.86 L210.89,430.22 L211.22,429.59 L211.54,428.98 L211.87,428.4 L212.19,427.84 L212.51,427.32 L212.84,426.83 L213.16,426.39 L213.48,425.98 L213.81,425.63 L214.13,425.33 L214.45,425.08 L214.78,424.89 L215.1,424.73 L215.42,424.58 L215.75,424.43 L216.07,424.29 L216.39,424.15 L216.72,424.02 L217.04,423.9 L217.37,423.79 L217.69,423.68 L218.01,423.58 L218.34,423.49 L218.66,423.4 L218.98,423.33 L219.31,423.26 L219.63,423.21 L219.95,423.17 L220.28,423.13 L220.6,423.11 L220.92,423.1 L221.25,423.11 L221.57,423.15 L221.89,423.23 L222.22,423.34 L222.54,423.49 L222.87,423.66 L223.19,423.86 L223.51,424.08 L223.84,424.32 L224.16,424.59 L224.48,424.86 L224.81,425.15 L225.13,425.46 L225.45,425.77 L225.78,426.08 L226.1,426.41 L226.42,426.73 L226.75,427.05 L227.07,427.37 L227.39,427.69 L227.72,428.03 L228.04,428.39 L228.37,428.77 L228.69,429.18 L229.01,429.61 L229.34,430.06 L229.66,430.53 L229.98,431.03 L230.31,431.55 L230.63,432.1 L230.95,432.68 L231.28,433.28 L231.6,433.91 L231.92,434.61 L232.25,435.4 L232.57,436.29 L232.89,437.24 L233.22,438.24 L233.54,439.28 L233.87,440.34 L234.19,441.41 L234.51,442.47 L234.84,443.51 L235.16,444.55 L235.48,445.62 L235.81,446.71 L236.13,447.81 L236.45,448.93 L236.78,450.06 L237.1,451.2 L237.42,452.35 L237.75,453.5 L238.07,454.66 L238.39,455.82 L238.72,456.98 L239.04,458.13 L239.37,459.27 L239.69,460.41 L240.01,461.53 L240.34,462.64 L240.66,463.75 L240.98,464.85 L241.31,465.95 L241.63,467.06 L241.95,468.16 L242.28,469.26 L242.6,470.36 L242.92,471.46 L243.25,472.55 L243.57,473.64 L243.89,474.72 L244.22,475.8 L244.54,476.87 L244.87,477.93 L245.19,478.99 L245.51,480.04 L245.84,481.08 L246.16,482.1 L246.48,483.13 L246.81,484.17 L247.13,485.22 L247.45,486.28 L247.78,487.34 L248.1,488.39 L248.42,489.44 L248.75,490.48 L249.07,491.51 L249.39,492.52 L249.72,493.51 L250.04,494.48 L250.37,495.42 L250.69,496.34 L251.01,497.21 L251.34,498.05 L251.66,498.85 L251.98,499.6 L252.31,500.32 L252.63,501.03 L252.95,501.74 L253.28,502.43 L253.6,503.12 L253.92,503.79 L254.25,504.45 L254.57,505.1 L254.89,505.74 L255.22,506.36 L255.54,506.97 L255.86,507.57 L256.19,508.14 L256.51,508.71 L256.84,509.25 L257.16,509.78 L257.48,510.29 L257.81,510.77 L258.13,511.24 L258.45,511.69 L258.78,512.12 L259.1,512.52 L259.42,512.9 L259.75,513.26 L260.07,513.59 L260.39,513.93 L260.72,514.26 L261.04,514.58 L261.36,514.91 L261.69,515.23 L262.01,515.54 L262.34,515.85 L262.66,516.16 L262.98,516.46 L263.31,516.75 L263.63,517.03 L263.95,517.31 L264.28,517.57 L264.6,517.83 L264.92,518.08 L265.25,518.32 L265.57,518.55 L265.89,518.76 L266.22,518.97 L266.54,519.16 L266.86,519.34 L267.19,519.5 L267.51,519.65 L267.84,519.79 L268.16,519.91 L268.48,520.01 L268.81,520.1 L269.13,520.17 L269.45,520.22 L269.78,520.27 L270.1,520.32 L270.42,520.37 L270.75,520.41 L271.07,520.46 L271.39,520.5 L271.72,520.54 L272.04,520.58 L272.36,520.62 L272.69,520.66 L273.01,520.69 L273.34,520.72 L273.66,520.75 L273.98,520.78 L274.31,520.8 L274.63,520.82 L274.95,520.84 L275.28,520.86 L275.6,520.87 L275.92,520.88 L276.25,520.89 L276.57,520.9 L276.89,520.9 L277.22,520.9 L277.54,520.9 L277.86,520.9 L278.19,520.9 L278.51,520.9 L278.84,520.9 L279.16,520.9 L279.48,520.9 L279.81,520.9 L280.13,520.9 L280.45,520.9 L280.78,520.9 L281.1,520.9 L281.42,520.9 L281.75,520.9 L282.07,520.9 L282.39,520.9 L282.72,520.9 L283.04,520.9 L283.36,520.9 L283.69,520.9 L284.01,520.9 L284.34,520.9 L284.66,520.9 L284.98,520.9 L285.31,520.9 L285.63,520.9 L285.95,520.9 L286.28,520.9 L286.6,520.9 L286.92,520.9 L287.25,520.9 L287.57,520.9 L287.89,520.9 L288.22,520.9 L288.54,520.9 L288.86,520.9 L289.19,520.9 L289.51,520.9 L289.84,520.9 L290.16,520.9 L290.48,520.9 L290.81,520.9 L291.13,520.9 L291.45,520.9 L291.78,520.9 L292.1,520.9 L292.42,520.9 L292.75,520.9 L293.07,520.9 L293.39,520.9 L293.72,520.9 L294.04,520.9 L294.36,520.9 L294.69,520.9 L295.01,520.9 L295.34,520.9 L295.66,520.9 L295.98,520.9 L296.31,520.9 L296.63,520.9 L296.95,520.9 L297.28,520.9 L297.6,520.9 L297.92,520.9 L298.25,520.9 L298.57,520.9 L298.89,520.9 L299.22,520.9 L299.54,520.9 L299.86,520.9 L300.19,520.9 L300.51,520.9 L300.84,520.9 L301.16,520.9 L301.48,520.9 L301.81,520.9 L302.13,520.9 L302.45,520.9 L302.78,520.9 L303.1,520.9" fill="none" stroke="#000" stroke-width="1.25"/>
<path d="M174.01,471.92 L174.34,472.08 L174.66,472.23 L174.98,472.39 L175.31,472.54 L175.63,472.69 L175.95,472.84 L176.28,472.99 L176.6,473.14 L176.92,473.29 L177.25,473.44 L177.57,473.58 L177.89,473.72 L178.22,473.87 L178.54,474.01 L178.87,474.15 L179.19,474.29 L179.51,474.42 L179.84,474.56 L180.16,474.7 L180.48,474.83 L180.81,474.97 L181.13,475.13 L181.45,475.29 L181.78,475.45 L182.1,475.62 L182.42,475.78 L182.75,475.94 L183.07,476.09 L183.39,476.24 L183.72,476.36 L184.04,476.48 L184.37,476.57 L184.69,476.64 L185.01,476.68 L185.34,476.7 L185.66,476.69 L185.98,476.64 L186.31,476.57 L186.63,476.47 L186.95,476.34 L187.28,476.19 L187.6,476.01 L187.92,475.81 L188.25,475.59 L188.57,475.36 L188.89,475.1 L189.22,474.83 L189.54,474.54 L189.87,474.24 L190.19,473.93 L190.51,473.6 L190.84,473.18 L191.16,472.61 L191.48,471.91 L191.81,471.09 L192.13,470.19 L192.45,469.23 L192.78,468.24 L193.1,467.23 L193.42,466.24 L193.75,465.28 L194.07,464.36 L194.39,463.43 L194.72,462.47 L195.04,461.48 L195.37,460.48 L195.69,459.47 L196.01,458.45 L196.34,457.42 L196.66,456.38 L196.98,455.35 L197.31,454.32 L197.63,453.31 L197.95,452.3 L198.28,451.31 L198.6,450.34 L198.92,449.4 L199.25,448.44 L199.57,447.47 L199.89,446.5 L200.22,445.52 L200.54,444.55 L200.87,443.58 L201.19,442.63 L201.51,441.69 L201.84,440.78 L202.16,439.89 L202.48,439.04 L202.81,438.23 L203.13,437.46 L203.45,436.73 L203.78,436.06 L204.1,435.4 L204.42,434.73 L204.75,434.04 L205.07,433.35 L205.39,432.67 L205.72,432.01 L206.04,431.37 L206.37,430.77 L206.69,430.22 L207.01,429.72 L207.34,429.29 L207.66,428.93 L207.98,428.66 L208.31,428.48 L208.63,428.4 L208.95,428.41 L209.28,428.45 L209.6,428.52 L209.92,428.62 L210.25,428.74 L210.57,428.88 L210.89,429.05 L211.22,429.24 L211.54,429.45 L211.87,429.67 L212.19,429.91 L212.51,430.16 L212.84,430.42 L213.16,430.69 L213.48,430.97 L213.81,431.26 L214.13,431.64 L214.45,432.09 L214.78,432.62 L215.1,433.21 L215.42,433.86 L215.75,434.56 L216.07,435.3 L216.39,436.08 L216.72,436.88 L217.04,437.7 L217.37,438.52 L217.69,439.35 L218.01,440.19 L218.34,441.08 L218.66,442.05 L218.98,443.08 L219.31,444.17 L219.63,445.29 L219.95,446.45 L220.28,447.62 L220.6,448.8 L220.92,449.97 L221.25,451.12 L221.57,452.25 L221.89,453.33 L222.22,454.37 L222.54,455.34 L222.87,456.29 L223.19,457.22 L223.51,458.13 L223.84,459.03 L224.16,459.91 L224.48,460.78 L224.81,461.64 L225.13,462.49 L225.45,463.34 L225.78,464.19 L226.1,465.03 L226.42,465.88 L226.75,466.73 L227.07,467.6 L227.39,468.48 L227.72,469.35 L228.04,470.22 L228.37,471.06 L228.69,471.89 L229.01,472.67 L229.34,473.42 L229.66,474.11 L229.98,474.75 L230.31,475.36 L230.63,475.93 L230.95,476.48 L231.28,477 L231.6,477.51 L231.92,478 L232.25,478.5 L232.57,478.98 L232.89,479.48 L233.22,479.98 L233.54,480.47 L233.87,480.94 L234.19,481.41 L234.51,481.86 L234.84,482.3 L235.16,482.74 L235.48,483.17 L235.81,483.61 L236.13,484.06 L236.45,484.51 L236.78,484.98 L237.1,485.46 L237.42,485.96 L237.75,486.48 L238.07,487.03 L238.39,487.6 L238.72,488.21 L239.04,488.86 L239.37,489.55 L239.69,490.27 L240.01,491.03 L240.34,491.81 L240.66,492.62 L240.98,493.45 L241.31,494.31 L241.63,495.18 L241.95,496.06 L242.28,496.95 L242.6,497.84 L242.92,498.74 L243.25,499.64 L243.57,500.55 L243.89,501.49 L244.22,502.47 L244.54,503.46 L244.87,504.48 L245.19,505.5 L245.51,506.53 L245.84,507.55 L246.16,508.57 L246.48,509.58 L246.81,510.56 L247.13,511.53 L247.45,512.57 L247.78,513.71 L248.1,514.92 L248.42,516.13 L248.75,517.3 L249.07,518.39 L249.39,519.34 L249.72,520.1 L250.04,520.64 L250.37,520.89 L250.69,520.9 L251.01,520.9 L251.34,520.9 L251.66,520.9 L251.98,520.9 L252.31,520.9 L252.63,520.9 L252.95,520.9 L253.28,520.9 L253.6,520.9 L253.92,520.9 L254.25,520.9 L254.57,520.9 L254.89,520.9 L255.22,520.9 L255.54,520.9 L255.86,520.9 L256.19,520.9 L256.51,520.9 L256.84,520.9 L257.16,520.9 L257.48,520.9 L257.81,520.9 L258.13,520.9 L258.45,520.9 L258.78,520.9 L259.1,520.9 L259.42,520.9 L259.75,520.9 L260.07,520.9 L260.39,520.9 L260.72,520.9 L261.04,520.9 L261.36,520.9 L261.69,520.9 L262.01,520.9 L262.34,520.9 L262.66,520.9 L262.98,520.9 L263.31,520.9 L263.63,520.9 L263.95,520.9 L264.28,520.9 L264.6,520.9 L264.92,520.9 L265.25,520.9 L265.57,520.9 L265.89,520.9 L266.22,520.9 L266.54,520.9 L266.86,520.9 L267.19,520.9 L267.51,520.9 L267.84,520.9 L268.16,520.9 L268.48,520.9 L268.81,520.9 L269.13,520.9 L269.45,520.9 L269.78,520.9 L270.1,520.9 L270.42,520.9 L270.75,520.9 L271.07,520.9 L271.39,520.9 L271.72,520.9 L272.04,520.9 L272.36,520.9 L272.69,520.9 L273.01,520.9 L273.34,520.9 L273.66,520.9 L273.98,520.9 L274.31,520.9 L274.63,520.9 L274.95,520.9 L275.28,520.9 L275.6,520.9 L275.92,520.9 L276.25,520.9 L276.57,520.9 L276.89,520.9 L277.22,520.9 L277.54,520.9 L277.86,520.9 L278.19,520.9 L278.51,520.9 L278.84,520.9 L279.16,520.9 L279.48,520.9 L279.81,520.9 L280.13,520.9 L280.45,520.9 L280.78,520.9 L281.1,520.9 L281.42,520.9 L281.75,520.9 L282.07,520.9 L282.39,520.9 L282.72,520.9 L283.04,520.9 L283.36,520.9 L283.69,520.9 L284.01,520.9 L284.34,520.9 L284.66,520.9 L284.98,520.9 L285.31,520.9 L285.63,520.9 L285.95,520.9 L286.28,520.9 L286.6,520.9 L286.92,520.9 L287.25,520.9 L287.57,520.9 L287.89,520.9 L288.22,520.9 L288.54,520.9 L288.86,520.9 L289.19,520.9 L289.51,520.9 L289.84,520.9 L290.16,520.9 L290.48,520.9 L290.81,520.9 L291.13,520.9 L291.45,520.9 L291.78,520.9 L292.1,520.9 L292.42,520.9 L292.75,520.9 L293.07,520.9 L293.39,520.9 L293.72,520.9 L294.04,520.9 L294.36,520.9 L294.69,520.9 L295.01,520.9 L295.34,520.9 L295.66,520.9 L295.98,520.9 L296.31,520.9 L296.63,520.9 L296.95,520.9 L297.28,520.9 L297.6,520.9 L297.92,520.9 L298.25,520.9 L298.57,520.9 L298.89,520.9 L299.22,520.9 L299.54,520.9 L299.86,520.9 L300.19,520.9 L300.51,520.9 L300.84,520.9 L301.16,520.9 L301.48,520.9 L301.81,520.9 L302.13,520.9 L302.45,520.9 L302.78,520.9 L303.1,520.9" fill="none" stroke="#b3131b" stroke-width="1.45"/>
<path d="M174.9,520.9 H303.1" fill="none" stroke="#000" stroke-width="1.3"/>
<path d="M190.85,520.9 V523.3 M213.3,520.9 V523.3 M235.75,520.9 V523.3 M258.2,520.9 V523.3 M280.65,520.9 V523.3 M303.1,520.9 V523.3 M179.62,520.9 V522.5 M202.07,520.9 V522.5 M224.52,520.9 V522.5 M246.97,520.9 V522.5 M269.43,520.9 V522.5 M291.88,520.9 V522.5" fill="none" stroke="#000" stroke-width="1"/>
<text x="190.85" y="530.8" text-anchor="middle" font-size="6.7" fill="#111" stroke="#111" stroke-width="0.16">2</text>
<text x="213.3" y="530.8" text-anchor="middle" font-size="6.7" fill="#111" stroke="#111" stroke-width="0.16">3</text>
<text x="235.75" y="530.8" text-anchor="middle" font-size="6.7" fill="#111" stroke="#111" stroke-width="0.16">4</text>
<text x="258.2" y="530.8" text-anchor="middle" font-size="6.7" fill="#111" stroke="#111" stroke-width="0.16">5</text>
<text x="280.65" y="530.8" text-anchor="middle" font-size="6.7" fill="#111" stroke="#111" stroke-width="0.16">6</text>
<text x="303.1" y="530.8" text-anchor="middle" font-size="6.7" fill="#111" stroke="#111" stroke-width="0.16">7</text>
<text x="240.24" y="538.8" text-anchor="middle" font-size="6.4" textLength="13.6" lengthAdjust="spacingAndGlyphs" fill="#111" stroke="#111" stroke-width="0.12"><tspan font-style="italic">r</tspan> [nm]</text>
<path d="M337.58,521 L337.9,521 L338.22,521 L338.55,521 L338.87,521 L339.19,521 L339.52,521 L339.84,521 L340.16,521 L340.49,521 L340.81,521 L341.13,521 L341.46,521 L341.78,521 L342.1,521 L342.43,521 L342.75,521 L343.07,521 L343.4,520.66 L343.72,519.64 L344.04,518.53 L344.37,517.27 L344.69,515.87 L345.01,514.35 L345.34,512.73 L345.66,511.04 L345.98,509.31 L346.3,507.54 L346.63,505.76 L346.95,503.85 L347.27,501.8 L347.6,499.65 L347.92,497.45 L348.24,495.26 L348.57,493.13 L348.89,491.09 L349.21,489.13 L349.54,487.21 L349.86,485.31 L350.18,483.42 L350.51,481.52 L350.83,479.61 L351.15,477.65 L351.48,475.67 L351.8,473.7 L352.12,471.73 L352.45,469.73 L352.77,467.7 L353.09,465.6 L353.42,463.41 L353.74,461.11 L354.06,458.54 L354.39,455.7 L354.71,452.77 L355.03,449.95 L355.36,447.42 L355.68,445.31 L356,443.36 L356.33,441.52 L356.65,439.79 L356.97,438.17 L357.3,436.68 L357.62,435.31 L357.94,434.07 L358.26,432.89 L358.59,431.67 L358.91,430.47 L359.23,429.33 L359.56,428.31 L359.88,427.47 L360.2,426.87 L360.53,426.54 L360.85,426.53 L361.17,426.76 L361.5,427.17 L361.82,427.75 L362.14,428.46 L362.47,429.28 L362.79,430.18 L363.11,431.13 L363.44,432.1 L363.76,433.07 L364.08,434.01 L364.41,435 L364.73,436.1 L365.05,437.28 L365.38,438.55 L365.7,439.87 L366.02,441.24 L366.35,442.64 L366.67,444.05 L366.99,445.46 L367.32,446.86 L367.64,448.26 L367.96,449.68 L368.29,451.12 L368.61,452.59 L368.93,454.1 L369.25,455.65 L369.58,457.26 L369.9,458.92 L370.22,460.65 L370.55,462.46 L370.87,464.38 L371.19,466.41 L371.52,468.51 L371.84,470.68 L372.16,472.9 L372.49,475.16 L372.81,477.43 L373.13,479.84 L373.46,482.39 L373.78,484.9 L374.1,487.18 L374.43,489.2 L374.75,491.13 L375.07,492.97 L375.4,494.74 L375.72,496.43 L376.04,498.06 L376.37,499.63 L376.69,501.15 L377.01,502.64 L377.34,504.12 L377.66,505.59 L377.98,507.03 L378.31,508.41 L378.63,509.72 L378.95,510.93 L379.28,512.04 L379.6,513.01 L379.92,513.85 L380.25,514.69 L380.57,515.52 L380.89,516.3 L381.21,517.01 L381.54,517.61 L381.86,518.08 L382.18,518.39 L382.51,518.51 L382.83,518.57 L383.15,518.62 L383.48,518.67 L383.8,518.71 L384.12,518.75 L384.45,518.78 L384.77,518.81 L385.09,518.84 L385.42,518.86 L385.74,518.87 L386.06,518.89 L386.39,518.89 L386.71,518.9 L387.03,518.9 L387.36,518.89 L387.68,518.87 L388,518.85 L388.33,518.82 L388.65,518.78 L388.97,518.73 L389.3,518.68 L389.62,518.63 L389.94,518.57 L390.27,518.51 L390.59,518.44 L390.91,518.38 L391.24,518.31 L391.56,518.25 L391.88,518.18 L392.2,518.12 L392.53,518.05 L392.85,517.99 L393.17,517.94 L393.5,517.89 L393.82,517.84 L394.14,517.8 L394.47,517.76 L394.79,517.73 L395.11,517.71 L395.44,517.7 L395.76,517.7 L396.08,517.74 L396.41,517.82 L396.73,517.93 L397.05,518.07 L397.38,518.23 L397.7,518.41 L398.02,518.59 L398.35,518.77 L398.67,518.94 L398.99,519.09 L399.32,519.22 L399.64,519.35 L399.96,519.49 L400.29,519.64 L400.61,519.78 L400.93,519.93 L401.26,520.07 L401.58,520.19 L401.9,520.3 L402.23,520.39 L402.55,520.46 L402.87,520.49 L403.2,520.5 L403.52,520.5 L403.84,520.5 L404.16,520.5 L404.49,520.5 L404.81,520.5 L405.13,520.5 L405.46,520.5 L405.78,520.5 L406.1,520.5 L406.43,520.47 L406.75,520.41 L407.07,520.33 L407.4,520.23 L407.72,520.11 L408.04,519.98 L408.37,519.84 L408.69,519.7 L409.01,519.56 L409.34,519.42 L409.66,519.3 L409.98,519.19 L410.31,519.11 L410.63,519.04 L410.95,519.01 L411.28,519 L411.6,519.03 L411.92,519.08 L412.25,519.15 L412.57,519.24 L412.89,519.34 L413.22,519.46 L413.54,519.59 L413.86,519.72 L414.19,519.85 L414.51,519.99 L414.83,520.12 L415.15,520.25 L415.48,520.36 L415.8,520.47 L416.12,520.56 L416.45,520.63 L416.77,520.68 L417.09,520.7 L417.42,520.7 L417.74,520.7 L418.06,520.7 L418.39,520.7 L418.71,520.7 L419.03,520.7 L419.36,520.7 L419.68,520.7 L420,520.7 L420.33,520.7 L420.65,520.7 L420.97,520.7 L421.3,520.63 L421.62,520.51 L421.94,520.38 L422.27,520.24 L422.59,520.1 L422.91,519.95 L423.24,519.81 L423.56,519.66 L423.88,519.52 L424.21,519.38 L424.53,519.22 L424.85,519.05 L425.18,518.86 L425.5,518.67 L425.82,518.47 L426.15,518.27 L426.47,518.07 L426.79,517.87 L427.11,517.68 L427.44,517.49 L427.76,517.31 L428.08,517.15 L428.41,517 L428.73,516.86 L429.05,516.72 L429.38,516.57 L429.7,516.42 L430.02,516.27 L430.35,516.13 L430.67,515.99 L430.99,515.86 L431.32,515.75 L431.64,515.64 L431.96,515.55 L432.29,515.48 L432.61,515.43 L432.93,515.4 L433.26,515.4 L433.58,515.41 L433.9,515.43 L434.23,515.47 L434.55,515.51 L434.87,515.56 L435.2,515.62 L435.52,515.68 L435.84,515.76 L436.17,515.83 L436.49,515.92 L436.81,516.01 L437.14,516.1 L437.46,516.19 L437.78,516.28 L438.1,516.38 L438.43,516.48 L438.75,516.58 L439.07,516.7 L439.4,516.84 L439.72,516.99 L440.04,517.16 L440.37,517.35 L440.69,517.54 L441.01,517.73 L441.34,517.93 L441.66,518.14 L441.98,518.34 L442.31,518.54 L442.63,518.74 L442.95,518.92 L443.28,519.1 L443.6,519.27 L443.92,519.42 L444.25,519.55 L444.57,519.69 L444.89,519.83 L445.22,519.98 L445.54,520.13 L445.86,520.27 L446.19,520.41 L446.51,520.54 L446.83,520.66 L447.16,520.76 L447.48,520.85 L447.8,520.92 L448.13,520.97 L448.45,521 L448.77,521 L449.1,521 L449.42,521 L449.74,521 L450.06,521 L450.39,521 L450.71,521 L451.03,521 L451.36,521 L451.68,521 L452,521 L452.33,521 L452.65,521 L452.97,521 L453.3,521 L453.62,521 L453.94,521 L454.27,521 L454.59,521 L454.91,521 L455.24,521 L455.56,521 L455.88,521 L456.21,521 L456.53,521 L456.85,521 L457.18,521 L457.5,521 L457.82,521 L458.15,521 L458.47,521 L458.79,521 L459.12,521 L459.44,521 L459.76,521 L460.09,521 L460.41,521 L460.73,521 L461.05,521 L461.38,521 L461.7,521 L462.02,521 L462.35,521 L462.67,521 L462.99,521 L463.32,521 L463.64,521 L463.96,521 L464.29,521 L464.61,521 L464.93,521 L465.26,521 L465.58,521 L465.9,521 L466.23,521 L466.55,521 L466.55,521 L466.23,521 L465.9,521 L465.58,521 L465.26,521 L464.93,521 L464.61,521 L464.29,521 L463.96,521 L463.64,521 L463.32,521 L462.99,521 L462.67,521 L462.35,521 L462.02,521 L461.7,521 L461.38,521 L461.05,521 L460.73,521 L460.41,521 L460.09,521 L459.76,521 L459.44,521 L459.12,521 L458.79,521 L458.47,521 L458.15,521 L457.82,521 L457.5,521 L457.18,521 L456.85,521 L456.53,521 L456.21,521 L455.88,521 L455.56,521 L455.24,521 L454.91,521 L454.59,521 L454.27,521 L453.94,521 L453.62,521 L453.3,521 L452.97,521 L452.65,521 L452.33,521 L452,521 L451.68,521 L451.36,521 L451.03,521 L450.71,521 L450.39,521 L450.06,521 L449.74,521 L449.42,521 L449.1,521 L448.77,521 L448.45,521 L448.13,521 L447.8,520.99 L447.48,520.98 L447.16,520.98 L446.83,520.96 L446.51,520.95 L446.19,520.93 L445.86,520.92 L445.54,520.9 L445.22,520.87 L444.89,520.85 L444.57,520.82 L444.25,520.8 L443.92,520.77 L443.6,520.74 L443.28,520.71 L442.95,520.66 L442.63,520.58 L442.31,520.47 L441.98,520.34 L441.66,520.19 L441.34,520.01 L441.01,519.83 L440.69,519.64 L440.37,519.45 L440.04,519.26 L439.72,519.07 L439.4,518.9 L439.07,518.73 L438.75,518.59 L438.43,518.47 L438.1,518.35 L437.78,518.23 L437.46,518.11 L437.14,517.99 L436.81,517.87 L436.49,517.75 L436.17,517.63 L435.84,517.52 L435.52,517.42 L435.2,517.32 L434.87,517.24 L434.55,517.16 L434.23,517.1 L433.9,517.05 L433.58,517.02 L433.26,517 L432.93,517 L432.61,517.03 L432.29,517.08 L431.96,517.15 L431.64,517.24 L431.32,517.34 L430.99,517.45 L430.67,517.58 L430.35,517.71 L430.02,517.84 L429.7,517.98 L429.38,518.12 L429.05,518.25 L428.73,518.38 L428.41,518.5 L428.08,518.63 L427.76,518.78 L427.44,518.94 L427.11,519.12 L426.79,519.3 L426.47,519.48 L426.15,519.66 L425.82,519.84 L425.5,520.02 L425.18,520.18 L424.85,520.32 L424.53,520.45 L424.21,520.56 L423.88,520.64 L423.56,520.68 L423.24,520.7 L422.91,520.7 L422.59,520.7 L422.27,520.7 L421.94,520.7 L421.62,520.7 L421.3,520.7 L420.97,520.7 L420.65,520.7 L420.33,520.7 L420,520.7 L419.68,520.7 L419.36,520.7 L419.03,520.7 L418.71,520.7 L418.39,520.7 L418.06,520.7 L417.74,520.7 L417.42,520.7 L417.09,520.7 L416.77,520.68 L416.45,520.63 L416.12,520.56 L415.8,520.47 L415.48,520.36 L415.15,520.25 L414.83,520.12 L414.51,519.99 L414.19,519.85 L413.86,519.72 L413.54,519.59 L413.22,519.46 L412.89,519.34 L412.57,519.24 L412.25,519.15 L411.92,519.08 L411.6,519.03 L411.28,519 L410.95,519.01 L410.63,519.04 L410.31,519.11 L409.98,519.19 L409.66,519.3 L409.34,519.42 L409.01,519.56 L408.69,519.7 L408.37,519.84 L408.04,519.98 L407.72,520.11 L407.4,520.23 L407.07,520.33 L406.75,520.41 L406.43,520.47 L406.1,520.5 L405.78,520.5 L405.46,520.5 L405.13,520.5 L404.81,520.5 L404.49,520.5 L404.16,520.5 L403.84,520.5 L403.52,520.5 L403.2,520.5 L402.87,520.49 L402.55,520.46 L402.23,520.39 L401.9,520.3 L401.58,520.19 L401.26,520.07 L400.93,519.93 L400.61,519.78 L400.29,519.64 L399.96,519.49 L399.64,519.35 L399.32,519.22 L398.99,519.09 L398.67,518.94 L398.35,518.77 L398.02,518.59 L397.7,518.41 L397.38,518.23 L397.05,518.07 L396.73,517.93 L396.41,517.82 L396.08,517.74 L395.76,517.7 L395.44,517.7 L395.11,517.71 L394.79,517.73 L394.47,517.76 L394.14,517.8 L393.82,517.84 L393.5,517.89 L393.17,517.94 L392.85,517.99 L392.53,518.05 L392.2,518.12 L391.88,518.18 L391.56,518.25 L391.24,518.31 L390.91,518.38 L390.59,518.44 L390.27,518.51 L389.94,518.57 L389.62,518.63 L389.3,518.68 L388.97,518.73 L388.65,518.78 L388.33,518.82 L388,518.85 L387.68,518.87 L387.36,518.89 L387.03,518.9 L386.71,518.9 L386.39,518.89 L386.06,518.89 L385.74,518.87 L385.42,518.86 L385.09,518.84 L384.77,518.81 L384.45,518.78 L384.12,518.75 L383.8,518.71 L383.48,518.67 L383.15,518.62 L382.83,518.57 L382.51,518.51 L382.18,518.39 L381.86,518.08 L381.54,517.61 L381.21,517.01 L380.89,516.3 L380.57,515.52 L380.25,514.69 L379.92,513.85 L379.6,513.01 L379.28,512.04 L378.95,510.93 L378.63,509.72 L378.31,508.41 L377.98,507.03 L377.66,505.59 L377.34,504.12 L377.01,502.64 L376.69,501.15 L376.37,499.63 L376.04,498.06 L375.72,496.43 L375.4,494.74 L375.07,492.97 L374.75,491.13 L374.43,489.2 L374.1,487.18 L373.78,484.9 L373.46,482.39 L373.13,479.84 L372.81,477.43 L372.49,475.16 L372.16,472.9 L371.84,470.68 L371.52,468.51 L371.19,466.41 L370.87,464.38 L370.55,462.46 L370.22,460.65 L369.9,458.92 L369.58,457.26 L369.25,455.65 L368.93,454.1 L368.61,452.59 L368.29,451.12 L367.96,449.68 L367.64,448.26 L367.32,446.86 L366.99,445.46 L366.67,444.05 L366.35,442.64 L366.02,441.24 L365.7,439.87 L365.38,438.55 L365.05,437.28 L364.73,436.1 L364.41,435 L364.08,434.01 L363.76,433.07 L363.44,432.1 L363.11,431.13 L362.79,430.18 L362.47,429.28 L362.14,428.46 L361.82,427.75 L361.5,427.17 L361.17,426.76 L360.85,426.53 L360.53,426.54 L360.2,426.87 L359.88,427.47 L359.56,428.31 L359.23,429.33 L358.91,430.47 L358.59,431.67 L358.26,432.89 L357.94,434.07 L357.62,435.31 L357.3,436.68 L356.97,438.17 L356.65,439.79 L356.33,441.52 L356,443.36 L355.68,445.31 L355.36,447.42 L355.03,449.95 L354.71,452.77 L354.39,455.7 L354.06,458.54 L353.74,461.11 L353.42,463.41 L353.09,465.6 L352.77,467.7 L352.45,469.73 L352.12,471.73 L351.8,473.7 L351.48,475.67 L351.15,477.65 L350.83,479.61 L350.51,481.52 L350.18,483.42 L349.86,485.31 L349.54,487.21 L349.21,489.13 L348.89,491.09 L348.57,493.13 L348.24,495.26 L347.92,497.45 L347.6,499.65 L347.27,501.8 L346.95,503.85 L346.63,505.76 L346.3,507.54 L345.98,509.31 L345.66,511.04 L345.34,512.73 L345.01,514.35 L344.69,515.87 L344.37,517.27 L344.04,518.53 L343.72,519.64 L343.4,520.66 L343.07,521 L342.75,521 L342.43,521 L342.1,521 L341.78,521 L341.46,521 L341.13,521 L340.81,521 L340.49,521 L340.16,521 L339.84,521 L339.52,521 L339.19,521 L338.87,521 L338.55,521 L338.22,521 L337.9,521 L337.58,521 Z" fill="#b4b4b4" stroke="none"/>
<path d="M337.58,521 L337.9,521 L338.22,521 L338.55,520.99 L338.87,520.99 L339.19,520.98 L339.52,520.97 L339.84,520.96 L340.16,520.95 L340.49,520.94 L340.81,520.92 L341.13,520.91 L341.46,520.89 L341.78,520.87 L342.1,520.85 L342.43,520.83 L342.75,520.8 L343.07,520.78 L343.4,520.75 L343.72,520.72 L344.04,520.69 L344.37,520.66 L344.69,520.63 L345.01,520.6 L345.34,520.54 L345.66,520.45 L345.98,520.32 L346.3,520.16 L346.63,519.98 L346.95,519.77 L347.27,519.54 L347.6,519.3 L347.92,519.04 L348.24,518.77 L348.57,518.49 L348.89,518.21 L349.21,517.92 L349.54,517.64 L349.86,517.33 L350.18,517 L350.51,516.64 L350.83,516.26 L351.15,515.85 L351.48,515.42 L351.8,514.97 L352.12,514.49 L352.45,514 L352.77,513.5 L353.09,512.97 L353.42,512.43 L353.74,511.88 L354.06,511.3 L354.39,510.67 L354.71,510.01 L355.03,509.31 L355.36,508.57 L355.68,507.81 L356,507.03 L356.33,506.21 L356.65,505.38 L356.97,504.54 L357.3,503.68 L357.62,502.81 L357.94,501.93 L358.26,501.05 L358.59,500.15 L358.91,499.24 L359.23,498.32 L359.56,497.38 L359.88,496.41 L360.2,495.41 L360.53,494.39 L360.85,493.33 L361.17,492.24 L361.5,491.1 L361.82,489.93 L362.14,488.7 L362.47,487.43 L362.79,486.04 L363.11,484.48 L363.44,482.81 L363.76,481.07 L364.08,479.33 L364.41,477.64 L364.73,476.04 L365.05,474.57 L365.38,473.16 L365.7,471.73 L366.02,470.21 L366.35,468.46 L366.67,466.55 L366.99,464.69 L367.32,463.09 L367.64,461.64 L367.96,460.28 L368.29,458.99 L368.61,457.75 L368.93,456.55 L369.25,455.38 L369.58,454.22 L369.9,453.04 L370.22,451.85 L370.55,450.61 L370.87,449.33 L371.19,447.95 L371.52,446.46 L371.84,444.87 L372.16,443.22 L372.49,441.56 L372.81,439.9 L373.13,438.3 L373.46,436.79 L373.78,435.4 L374.1,434.17 L374.43,433.13 L374.75,432.29 L375.07,431.48 L375.4,430.68 L375.72,429.91 L376.04,429.18 L376.37,428.51 L376.69,427.91 L377.01,427.4 L377.34,426.98 L377.66,426.69 L377.98,426.53 L378.31,426.5 L378.63,426.55 L378.95,426.64 L379.28,426.78 L379.6,426.96 L379.92,427.19 L380.25,427.45 L380.57,427.74 L380.89,428.07 L381.21,428.42 L381.54,428.81 L381.86,429.22 L382.18,429.65 L382.51,430.11 L382.83,430.8 L383.15,431.79 L383.48,433.01 L383.8,434.4 L384.12,435.91 L384.45,437.48 L384.77,439.05 L385.09,440.57 L385.42,441.97 L385.74,443.21 L386.06,444.36 L386.39,445.46 L386.71,446.51 L387.03,447.54 L387.36,448.55 L387.68,449.57 L388,450.6 L388.33,451.68 L388.65,452.8 L388.97,453.99 L389.3,455.26 L389.62,456.63 L389.94,458.11 L390.27,459.78 L390.59,461.8 L390.91,464.08 L391.24,466.49 L391.56,468.89 L391.88,471.16 L392.2,473.36 L392.53,475.58 L392.85,477.79 L393.17,479.99 L393.5,482.15 L393.82,484.26 L394.14,486.3 L394.47,488.25 L394.79,490.15 L395.11,492.02 L395.44,493.84 L395.76,495.63 L396.08,497.37 L396.41,499.08 L396.73,500.74 L397.05,502.37 L397.38,503.97 L397.7,505.58 L398.02,507.2 L398.35,508.8 L398.67,510.36 L398.99,511.85 L399.32,513.25 L399.64,514.54 L399.96,515.69 L400.29,516.69 L400.61,517.68 L400.93,518.63 L401.26,519.46 L401.58,520.1 L401.9,520.47 L402.23,520.63 L402.55,520.76 L402.87,520.87 L403.2,520.95 L403.52,520.99 L403.84,521 L404.16,521 L404.49,521 L404.81,521 L405.13,521 L405.46,521 L405.78,521 L406.1,521 L406.43,521 L406.75,521 L407.07,521 L407.4,521 L407.72,521 L408.04,521 L408.37,521 L408.69,521 L409.01,521 L409.34,521 L409.66,521 L409.98,521 L410.31,521 L410.63,521 L410.95,521 L411.28,521 L411.6,521 L411.92,521 L412.25,521 L412.57,521 L412.89,521 L413.22,521 L413.54,521 L413.86,521 L414.19,521 L414.51,521 L414.83,521 L415.15,521 L415.48,521 L415.8,521 L416.12,521 L416.45,521 L416.77,521 L417.09,521 L417.42,521 L417.74,521 L418.06,521 L418.39,521 L418.71,521 L419.03,521 L419.36,521 L419.68,521 L420,521 L420.33,521 L420.65,521 L420.97,521 L421.3,521 L421.62,521 L421.94,521 L422.27,521 L422.59,521 L422.91,521 L423.24,521 L423.56,521 L423.88,521 L424.21,521 L424.53,521 L424.85,521 L425.18,521 L425.5,521 L425.82,521 L426.15,521 L426.47,521 L426.79,521 L427.11,521 L427.44,521 L427.76,521 L428.08,521 L428.41,521 L428.73,521 L429.05,521 L429.38,521 L429.7,521 L430.02,521 L430.35,521 L430.67,521 L430.99,521 L431.32,521 L431.64,521 L431.96,521 L432.29,521 L432.61,521 L432.93,521 L433.26,521 L433.58,521 L433.9,521 L434.23,521 L434.55,521 L434.87,521 L435.2,521 L435.52,521 L435.84,521 L436.17,521 L436.49,521 L436.81,521 L437.14,521 L437.46,521 L437.78,521 L438.1,521 L438.43,521 L438.75,521 L439.07,521 L439.4,521 L439.72,521 L440.04,521 L440.37,521 L440.69,521 L441.01,521 L441.34,521 L441.66,521 L441.98,521 L442.31,521 L442.63,521 L442.95,521 L443.28,521 L443.6,521 L443.92,521 L444.25,521 L444.57,521 L444.89,521 L445.22,521 L445.54,521 L445.86,521 L446.19,521 L446.51,521 L446.83,521 L447.16,521 L447.48,521 L447.8,521 L448.13,521 L448.45,521 L448.77,521 L449.1,521 L449.42,521 L449.74,521 L450.06,521 L450.39,521 L450.71,521 L451.03,521 L451.36,521 L451.68,521 L452,521 L452.33,521 L452.65,521 L452.97,521 L453.3,521 L453.62,521 L453.94,521 L454.27,521 L454.59,521 L454.91,521 L455.24,521 L455.56,521 L455.88,521 L456.21,521 L456.53,521 L456.85,521 L457.18,521 L457.5,521 L457.82,521 L458.15,521 L458.47,521 L458.79,521 L459.12,521 L459.44,521 L459.76,521 L460.09,521 L460.41,521 L460.73,521 L461.05,521 L461.38,521 L461.7,521 L462.02,521 L462.35,521 L462.67,521 L462.99,521 L463.32,521 L463.64,521 L463.96,521 L464.29,521 L464.61,521 L464.93,521 L465.26,521 L465.58,521 L465.9,521 L466.23,521 L466.55,521" fill="none" stroke="#000" stroke-width="1.3" stroke-dasharray="3,1.6"/>
<path d="M337.58,521 L337.9,521 L338.22,521 L338.55,521 L338.87,521 L339.19,521 L339.52,521 L339.84,521 L340.16,521 L340.49,521 L340.81,521 L341.13,521 L341.46,521 L341.78,521 L342.1,521 L342.43,521 L342.75,521 L343.07,521 L343.4,520.87 L343.72,520.52 L344.04,520.22 L344.37,519.93 L344.69,519.63 L345.01,519.34 L345.34,519.03 L345.66,518.73 L345.98,518.42 L346.3,518.09 L346.63,517.76 L346.95,517.41 L347.27,517.05 L347.6,516.67 L347.92,516.27 L348.24,515.84 L348.57,515.39 L348.89,514.91 L349.21,514.41 L349.54,513.89 L349.86,513.34 L350.18,512.78 L350.51,512.21 L350.83,511.62 L351.15,511.02 L351.48,510.41 L351.8,509.79 L352.12,509.17 L352.45,508.54 L352.77,507.89 L353.09,507.24 L353.42,506.57 L353.74,505.89 L354.06,505.19 L354.39,504.47 L354.71,503.74 L355.03,502.98 L355.36,502.21 L355.68,501.41 L356,500.6 L356.33,499.75 L356.65,498.88 L356.97,498 L357.3,497.09 L357.62,496.16 L357.94,495.2 L358.26,494.22 L358.59,493.19 L358.91,492.13 L359.23,491.03 L359.56,489.88 L359.88,488.68 L360.2,487.43 L360.53,486.11 L360.85,484.74 L361.17,483.18 L361.5,481.33 L361.82,479.39 L362.14,477.55 L362.47,475.97 L362.79,474.53 L363.11,473.16 L363.44,471.78 L363.76,470.3 L364.08,468.65 L364.41,466.84 L364.73,464.94 L365.05,463.02 L365.38,461.13 L365.7,459.33 L366.02,457.69 L366.35,456.21 L366.67,454.81 L366.99,453.47 L367.32,452.19 L367.64,450.94 L367.96,449.73 L368.29,448.54 L368.61,447.35 L368.93,446.17 L369.25,444.97 L369.58,443.76 L369.9,442.5 L370.22,441.15 L370.55,439.7 L370.87,438.2 L371.19,436.68 L371.52,435.2 L371.84,433.81 L372.16,432.55 L372.49,431.47 L372.81,430.61 L373.13,430 L373.46,429.47 L373.78,428.96 L374.1,428.47 L374.43,428.02 L374.75,427.6 L375.07,427.23 L375.4,426.9 L375.72,426.63 L376.04,426.42 L376.37,426.28 L376.69,426.21 L377.01,426.21 L377.34,426.29 L377.66,426.43 L377.98,426.63 L378.31,426.88 L378.63,427.19 L378.95,427.54 L379.28,427.93 L379.6,428.36 L379.92,428.82 L380.25,429.3 L380.57,429.81 L380.89,430.33 L381.21,430.86 L381.54,431.4 L381.86,432 L382.18,432.72 L382.51,433.54 L382.83,434.46 L383.15,435.46 L383.48,436.53 L383.8,437.66 L384.12,438.82 L384.45,440.02 L384.77,441.24 L385.09,442.47 L385.42,443.71 L385.74,445.01 L386.06,446.36 L386.39,447.78 L386.71,449.27 L387.03,450.83 L387.36,452.46 L387.68,454.17 L388,455.96 L388.33,457.84 L388.65,460.09 L388.97,462.65 L389.3,465.25 L389.62,467.63 L389.94,469.55 L390.27,471.05 L390.59,472.35 L390.91,473.64 L391.24,475.14 L391.56,477.09 L391.88,479.79 L392.2,482.83 L392.53,485.72 L392.85,488.01 L393.17,489.95 L393.5,491.73 L393.82,493.38 L394.14,494.94 L394.47,496.43 L394.79,497.87 L395.11,499.3 L395.44,500.74 L395.76,502.21 L396.08,503.72 L396.41,505.24 L396.73,506.76 L397.05,508.23 L397.38,509.65 L397.7,510.99 L398.02,512.23 L398.35,513.35 L398.67,514.38 L398.99,515.39 L399.32,516.36 L399.64,517.25 L399.96,518.03 L400.29,518.7 L400.61,519.2 L400.93,519.63 L401.26,520.03 L401.58,520.39 L401.9,520.69 L402.23,520.9 L402.55,521 L402.87,521 L403.2,521 L403.52,521 L403.84,521 L404.16,521 L404.49,521 L404.81,521 L405.13,521 L405.46,521 L405.78,521 L406.1,521 L406.43,521 L406.75,521 L407.07,521 L407.4,521 L407.72,521 L408.04,521 L408.37,521 L408.69,521 L409.01,521 L409.34,521 L409.66,521 L409.98,521 L410.31,521 L410.63,521 L410.95,521 L411.28,521 L411.6,521 L411.92,521 L412.25,521 L412.57,521 L412.89,521 L413.22,521 L413.54,521 L413.86,521 L414.19,521 L414.51,521 L414.83,521 L415.15,521 L415.48,521 L415.8,521 L416.12,521 L416.45,521 L416.77,521 L417.09,521 L417.42,521 L417.74,521 L418.06,521 L418.39,521 L418.71,521 L419.03,521 L419.36,521 L419.68,521 L420,521 L420.33,521 L420.65,521 L420.97,521 L421.3,521 L421.62,521 L421.94,521 L422.27,521 L422.59,521 L422.91,521 L423.24,521 L423.56,521 L423.88,521 L424.21,521 L424.53,521 L424.85,521 L425.18,521 L425.5,521 L425.82,521 L426.15,521 L426.47,521 L426.79,521 L427.11,521 L427.44,521 L427.76,521 L428.08,521 L428.41,521 L428.73,521 L429.05,521 L429.38,521 L429.7,521 L430.02,521 L430.35,521 L430.67,521 L430.99,521 L431.32,521 L431.64,521 L431.96,521 L432.29,521 L432.61,521 L432.93,521 L433.26,521 L433.58,521 L433.9,521 L434.23,521 L434.55,521 L434.87,521 L435.2,521 L435.52,521 L435.84,521 L436.17,521 L436.49,521 L436.81,521 L437.14,521 L437.46,521 L437.78,521 L438.1,521 L438.43,521 L438.75,521 L439.07,521 L439.4,521 L439.72,521 L440.04,521 L440.37,521 L440.69,521 L441.01,521 L441.34,521 L441.66,521 L441.98,521 L442.31,521 L442.63,521 L442.95,521 L443.28,521 L443.6,521 L443.92,521 L444.25,521 L444.57,521 L444.89,521 L445.22,521 L445.54,521 L445.86,521 L446.19,521 L446.51,521 L446.83,521 L447.16,521 L447.48,521 L447.8,521 L448.13,521 L448.45,521 L448.77,521 L449.1,521 L449.42,521 L449.74,521 L450.06,521 L450.39,521 L450.71,521 L451.03,521 L451.36,521 L451.68,521 L452,521 L452.33,521 L452.65,521 L452.97,521 L453.3,521 L453.62,521 L453.94,521 L454.27,521 L454.59,521 L454.91,521 L455.24,521 L455.56,521 L455.88,521 L456.21,521 L456.53,521 L456.85,521 L457.18,521 L457.5,521 L457.82,521 L458.15,521 L458.47,521 L458.79,521 L459.12,521 L459.44,521 L459.76,521 L460.09,521 L460.41,521 L460.73,521 L461.05,521 L461.38,521 L461.7,521 L462.02,521 L462.35,521 L462.67,521 L462.99,521 L463.32,521 L463.64,521 L463.96,521 L464.29,521 L464.61,521 L464.93,521 L465.26,521 L465.58,521 L465.9,521 L466.23,521 L466.55,521" fill="none" stroke="#000" stroke-width="1.25"/>
<path d="M337.58,521 L337.9,521 L338.22,521 L338.55,521 L338.87,521 L339.19,521 L339.52,521 L339.84,521 L340.16,521 L340.49,521 L340.81,521 L341.13,521 L341.46,521 L341.78,521 L342.1,521 L342.43,521 L342.75,521 L343.07,521 L343.4,520.66 L343.72,519.64 L344.04,518.53 L344.37,517.27 L344.69,515.87 L345.01,514.35 L345.34,512.73 L345.66,511.04 L345.98,509.31 L346.3,507.54 L346.63,505.76 L346.95,503.85 L347.27,501.8 L347.6,499.65 L347.92,497.45 L348.24,495.26 L348.57,493.13 L348.89,491.09 L349.21,489.13 L349.54,487.21 L349.86,485.31 L350.18,483.42 L350.51,481.52 L350.83,479.61 L351.15,477.65 L351.48,475.67 L351.8,473.7 L352.12,471.73 L352.45,469.73 L352.77,467.7 L353.09,465.6 L353.42,463.41 L353.74,461.11 L354.06,458.54 L354.39,455.7 L354.71,452.77 L355.03,449.95 L355.36,447.42 L355.68,445.31 L356,443.36 L356.33,441.52 L356.65,439.79 L356.97,438.17 L357.3,436.68 L357.62,435.31 L357.94,434.07 L358.26,432.89 L358.59,431.67 L358.91,430.47 L359.23,429.33 L359.56,428.31 L359.88,427.47 L360.2,426.87 L360.53,426.54 L360.85,426.53 L361.17,426.76 L361.5,427.17 L361.82,427.75 L362.14,428.46 L362.47,429.28 L362.79,430.18 L363.11,431.13 L363.44,432.1 L363.76,433.07 L364.08,434.01 L364.41,435 L364.73,436.1 L365.05,437.28 L365.38,438.55 L365.7,439.87 L366.02,441.24 L366.35,442.64 L366.67,444.05 L366.99,445.46 L367.32,446.86 L367.64,448.26 L367.96,449.68 L368.29,451.12 L368.61,452.59 L368.93,454.1 L369.25,455.65 L369.58,457.26 L369.9,458.92 L370.22,460.65 L370.55,462.46 L370.87,464.38 L371.19,466.41 L371.52,468.51 L371.84,470.68 L372.16,472.9 L372.49,475.16 L372.81,477.43 L373.13,479.84 L373.46,482.39 L373.78,484.9 L374.1,487.18 L374.43,489.2 L374.75,491.13 L375.07,492.97 L375.4,494.74 L375.72,496.43 L376.04,498.06 L376.37,499.63 L376.69,501.15 L377.01,502.64 L377.34,504.12 L377.66,505.59 L377.98,507.03 L378.31,508.41 L378.63,509.72 L378.95,510.93 L379.28,512.04 L379.6,513.01 L379.92,513.85 L380.25,514.69 L380.57,515.52 L380.89,516.3 L381.21,517.01 L381.54,517.61 L381.86,518.08 L382.18,518.39 L382.51,518.51 L382.83,518.57 L383.15,518.62 L383.48,518.67 L383.8,518.71 L384.12,518.75 L384.45,518.78 L384.77,518.81 L385.09,518.84 L385.42,518.86 L385.74,518.87 L386.06,518.89 L386.39,518.89 L386.71,518.9 L387.03,518.9 L387.36,518.89 L387.68,518.87 L388,518.85 L388.33,518.82 L388.65,518.78 L388.97,518.73 L389.3,518.68 L389.62,518.63 L389.94,518.57 L390.27,518.51 L390.59,518.44 L390.91,518.38 L391.24,518.31 L391.56,518.25 L391.88,518.18 L392.2,518.12 L392.53,518.05 L392.85,517.99 L393.17,517.94 L393.5,517.89 L393.82,517.84 L394.14,517.8 L394.47,517.76 L394.79,517.73 L395.11,517.71 L395.44,517.7 L395.76,517.7 L396.08,517.74 L396.41,517.82 L396.73,517.93 L397.05,518.07 L397.38,518.23 L397.7,518.41 L398.02,518.59 L398.35,518.77 L398.67,518.94 L398.99,519.09 L399.32,519.22 L399.64,519.35 L399.96,519.49 L400.29,519.64 L400.61,519.78 L400.93,519.93 L401.26,520.07 L401.58,520.19 L401.9,520.3 L402.23,520.39 L402.55,520.46 L402.87,520.49 L403.2,520.5 L403.52,520.5 L403.84,520.5 L404.16,520.5 L404.49,520.5 L404.81,520.5 L405.13,520.5 L405.46,520.5 L405.78,520.5 L406.1,520.5 L406.43,520.47 L406.75,520.41 L407.07,520.33 L407.4,520.23 L407.72,520.11 L408.04,519.98 L408.37,519.84 L408.69,519.7 L409.01,519.56 L409.34,519.42 L409.66,519.3 L409.98,519.19 L410.31,519.11 L410.63,519.04 L410.95,519.01 L411.28,519 L411.6,519.03 L411.92,519.08 L412.25,519.15 L412.57,519.24 L412.89,519.34 L413.22,519.46 L413.54,519.59 L413.86,519.72 L414.19,519.85 L414.51,519.99 L414.83,520.12 L415.15,520.25 L415.48,520.36 L415.8,520.47 L416.12,520.56 L416.45,520.63 L416.77,520.68 L417.09,520.7 L417.42,520.7 L417.74,520.7 L418.06,520.7 L418.39,520.7 L418.71,520.7 L419.03,520.7 L419.36,520.7 L419.68,520.7 L420,520.7 L420.33,520.7 L420.65,520.7 L420.97,520.7 L421.3,520.7 L421.62,520.7 L421.94,520.7 L422.27,520.7 L422.59,520.7 L422.91,520.7 L423.24,520.7 L423.56,520.68 L423.88,520.64 L424.21,520.56 L424.53,520.45 L424.85,520.32 L425.18,520.18 L425.5,520.02 L425.82,519.84 L426.15,519.66 L426.47,519.48 L426.79,519.3 L427.11,519.12 L427.44,518.94 L427.76,518.78 L428.08,518.63 L428.41,518.5 L428.73,518.38 L429.05,518.25 L429.38,518.12 L429.7,517.98 L430.02,517.84 L430.35,517.71 L430.67,517.58 L430.99,517.45 L431.32,517.34 L431.64,517.24 L431.96,517.15 L432.29,517.08 L432.61,517.03 L432.93,517 L433.26,517 L433.58,517.02 L433.9,517.05 L434.23,517.1 L434.55,517.16 L434.87,517.24 L435.2,517.32 L435.52,517.42 L435.84,517.52 L436.17,517.63 L436.49,517.75 L436.81,517.87 L437.14,517.99 L437.46,518.11 L437.78,518.23 L438.1,518.35 L438.43,518.47 L438.75,518.59 L439.07,518.73 L439.4,518.9 L439.72,519.07 L440.04,519.26 L440.37,519.45 L440.69,519.64 L441.01,519.83 L441.34,520.01 L441.66,520.19 L441.98,520.34 L442.31,520.47 L442.63,520.58 L442.95,520.66 L443.28,520.71 L443.6,520.74 L443.92,520.77 L444.25,520.8 L444.57,520.82 L444.89,520.85 L445.22,520.87 L445.54,520.9 L445.86,520.92 L446.19,520.93 L446.51,520.95 L446.83,520.96 L447.16,520.98 L447.48,520.98 L447.8,520.99 L448.13,521 L448.45,521 L448.77,521 L449.1,521 L449.42,521 L449.74,521 L450.06,521 L450.39,521 L450.71,521 L451.03,521 L451.36,521 L451.68,521 L452,521 L452.33,521 L452.65,521 L452.97,521 L453.3,521 L453.62,521 L453.94,521 L454.27,521 L454.59,521 L454.91,521 L455.24,521 L455.56,521 L455.88,521 L456.21,521 L456.53,521 L456.85,521 L457.18,521 L457.5,521 L457.82,521 L458.15,521 L458.47,521 L458.79,521 L459.12,521 L459.44,521 L459.76,521 L460.09,521 L460.41,521 L460.73,521 L461.05,521 L461.38,521 L461.7,521 L462.02,521 L462.35,521 L462.67,521 L462.99,521 L463.32,521 L463.64,521 L463.96,521 L464.29,521 L464.61,521 L464.93,521 L465.26,521 L465.58,521 L465.9,521 L466.23,521 L466.55,521" fill="none" stroke="#b3131b" stroke-width="1.45"/>
<path d="M337,521 H466.55" fill="none" stroke="#000" stroke-width="1.3"/>
<path d="M354.4,521 V523.4 M376.83,521 V523.4 M399.26,521 V523.4 M421.69,521 V523.4 M444.12,521 V523.4 M466.55,521 V523.4 M343.19,521 V522.6 M365.61,521 V522.6 M388.04,521 V522.6 M410.47,521 V522.6 M432.9,521 V522.6 M455.33,521 V522.6" fill="none" stroke="#000" stroke-width="1"/>
<text x="354.4" y="530.9" text-anchor="middle" font-size="6.7" fill="#111" stroke="#111" stroke-width="0.16">2</text>
<text x="376.83" y="530.9" text-anchor="middle" font-size="6.7" fill="#111" stroke="#111" stroke-width="0.16">3</text>
<text x="399.26" y="530.9" text-anchor="middle" font-size="6.7" fill="#111" stroke="#111" stroke-width="0.16">4</text>
<text x="421.69" y="530.9" text-anchor="middle" font-size="6.7" fill="#111" stroke="#111" stroke-width="0.16">5</text>
<text x="444.12" y="530.9" text-anchor="middle" font-size="6.7" fill="#111" stroke="#111" stroke-width="0.16">6</text>
<text x="466.55" y="530.9" text-anchor="middle" font-size="6.7" fill="#111" stroke="#111" stroke-width="0.16">7</text>
<text x="403.75" y="538.9" text-anchor="middle" font-size="6.4" textLength="13.6" lengthAdjust="spacingAndGlyphs" fill="#111" stroke="#111" stroke-width="0.12"><tspan font-style="italic">r</tspan> [nm]</text>
</svg>
</body></html>
